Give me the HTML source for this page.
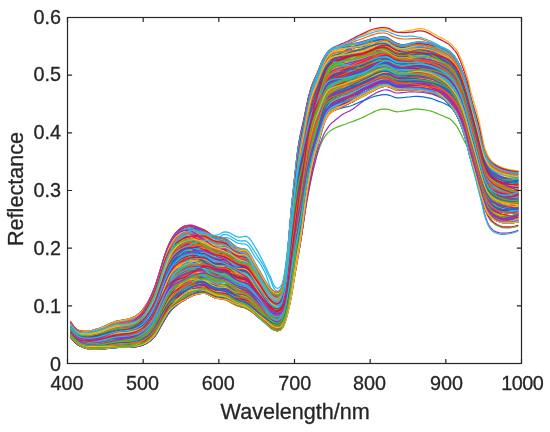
<!DOCTYPE html>
<html lang="en">
<head>
<meta charset="utf-8">
<title>Reflectance spectra</title>
<style>
html,body{margin:0;padding:0;background:#fff;}
body{width:550px;height:432px;overflow:hidden;}
svg{display:block;}
text{font-family:"Liberation Sans",Arial,Helvetica,sans-serif;fill:#262626;}
.tk text{font-size:19.8px;stroke:#262626;stroke-width:0.3px;}
.lb{font-size:21.6px;stroke:#262626;stroke-width:0.3px;}
</style>
</head>
<body>
<svg width="550" height="432" viewBox="0 0 550 432">
<rect width="550" height="432" fill="#fff"/>
<g transform="scale(0.1)" fill="none" stroke-width="12" stroke-linejoin="round" stroke-linecap="butt">
<path stroke="#0A6CD6" d="M704 3299l16 22 16 20 16 18 16 14 16 12 16 8 16 6 16 5 16 4 26 5 26 1 26-1 26-2 26-4 26-5 26-6 26-8 26-8 26-8 26-7 26-7 26-5 26-3 26-3 26-4 26-4 26-6 26-8 26-11 26-14 26-18 26-22 26-29 10-13 10-13 10-14 10-15 10-16 10-17 10-18 10-20 10-22 10-23 10-24 10-24 10-24 10-24 10-23 10-23 10-22 10-20 10-20 10-17 10-17 10-14 10-13 10-10 10-10 10-8 10-8 10-7 10-6 26-14 26-12 26-10 26-12 26-11 26-11 26-7 26-4 26-3 26-2 26 2 26 8 26 14 26 13 26 10 26 8 26 6 26 7 26 12 26 20 26 24 26 24 26 21 26 15 26 10 26 7 26 9 26 18 26 26 16 19 16 18 16 18 16 18 16 18 16 17 16 18 16 18 16 18 16 18 16 16 16 14 16 13 16 9 16 6 16 2 16-3 16-9 10-10 10-17 10-24 10-34 10-42 10-50 10-57 10-66 10-71 10-74 10-74 10-75 10-75 10-75 10-73 10-70 10-67 10-63 10-58 10-58 10-58 10-60 10-62 10-65 10-64 10-62 10-58 10-53 10-50 10-46 10-43 10-39 10-35 10-32 10-29 10-28 10-29 10-28 10-29 10-29 10-29 10-27 10-26 10-22 10-20 10-16 10-14 10-11 10-10 10-7 10-7 10-6 16-8 16-8 16-7 16-6 16-7 16-8 16-7 16-9 26-14 26-15 26-14 26-14 26-14 26-13 26-13 26-11 26-12 26-11 26-12 26-12 26-9 26-5 26-3 26 1 26 10 26 15 26 13 26 9 26 3 26 2 26-1 26-1 26-2 26-1 26-1 26 1 26 2 26 4 26 5 26 7 26 9 26 12 26 15 26 17 26 18 26 21 26 24 26 29 26 33 26 37 10 16 10 17 10 18 10 20 10 22 10 24 10 26 10 28 10 29 10 31 10 33 10 36 10 38 10 39 10 38 10 37 10 37 10 35 10 35 10 35 10 37 10 37 10 38 10 38 10 37 10 36 10 34 10 34 10 31 10 29 10 26 10 22 10 18 10 16 10 12 10 10 10 8 10 7 10 7 10 6 26 14 26 10 26 7 26 4 26 1 26 2 26-1 26-1 26-3 5-1"/>
<path stroke="#FA5A12" d="M704 3316l16 20 16 18 16 15 16 13 16 10 16 6 16 5 16 4 16 3 26 3 26 0 26-2 26-3 26-3 26-2 26-2 26-3 26-2 26-1 26 0 26 1 26 2 26 1 26 0 26-1 26-3 26-6 26-9 26-13 26-15 26-19 26-24 26-30 10-13 10-13 10-14 10-15 10-15 10-16 10-18 10-18 10-21 10-22 10-23 10-23 10-24 10-24 10-23 10-23 10-23 10-21 10-21 10-19 10-18 10-17 10-14 10-13 10-12 10-11 10-10 10-9 10-8 26-19 26-14 26-12 26-10 26-8 26-6 26-1 26 2 26 4 26 4 26 7 26 13 26 18 26 16 26 11 26 4 26-3 26-5 26-3 26 2 26 8 26 7 26 6 26 2 26 1 26 1 26 8 26 21 26 32 16 23 16 22 16 22 16 22 16 21 16 22 16 22 16 21 16 22 16 20 16 19 16 18 16 14 16 11 16 8 16 3 16-2 16-7 10-9 10-16 10-24 10-32 10-41 10-48 10-57 10-63 10-70 10-72 10-73 10-74 10-76 10-75 10-75 10-73 10-71 10-67 10-64 10-63 10-64 10-66 10-68 10-69 10-69 10-67 10-63 10-57 10-53 10-49 10-47 10-43 10-39 10-36 10-35 10-33 10-34 10-35 10-34 10-34 10-34 10-32 10-29 10-27 10-23 10-21 10-17 10-16 10-12 10-11 10-9 10-8 16-10 16-6 16-5 16-5 16-4 16-4 16-4 16-5 26-7 26-7 26-7 26-7 26-8 26-8 26-10 26-10 26-12 26-11 26-13 26-12 26-10 26-7 26-4 26 1 26 10 26 14 26 14 26 10 26 5 26 2 26 1 26-1 26-2 26-1 26-1 26 1 26 2 26 3 26 4 26 5 26 4 26 8 26 9 26 10 26 11 26 13 26 16 26 20 26 26 26 32 10 14 10 16 10 17 10 19 10 21 10 23 10 25 10 26 10 28 10 30 10 31 10 33 10 36 10 37 10 37 10 37 10 36 10 36 10 36 10 35 10 37 10 37 10 39 10 39 10 40 10 40 10 40 10 37 10 34 10 32 10 28 10 25 10 22 10 20 10 16 10 14 10 13 10 10 10 10 10 9 26 18 26 12 26 8 26 5 26 2 26 1 26-1 26-4 26-5 5-1"/>
<path stroke="#FBB414" d="M704 3217l16 25 16 21 16 17 16 13 16 10 16 6 16 4 16 1 16 1 26 1 26-2 26-6 26-7 26-6 26-7 26-9 26-11 26-11 26-9 26-8 26-7 26-4 26-2 26-4 26-4 26-5 26-9 26-10 26-15 26-18 26-25 26-31 26-39 10-16 10-18 10-19 10-19 10-21 10-22 10-24 10-26 10-28 10-29 10-31 10-32 10-32 10-33 10-33 10-32 10-32 10-30 10-27 10-26 10-24 10-23 10-20 10-18 10-17 10-15 10-13 10-13 10-12 26-25 26-19 26-14 26-9 26-8 26-6 26 0 26 2 26 3 26 3 26 6 26 11 26 16 26 15 26 11 26 6 26 5 26 7 26 13 26 24 26 30 26 31 26 27 26 17 26 9 26 4 26 8 26 25 26 41 16 29 16 28 16 27 16 26 16 25 16 26 16 27 16 26 16 26 16 24 16 22 16 19 16 15 16 11 16 7 16 1 16-5 16-14 10-15 10-24 10-37 10-51 10-63 10-75 10-87 10-100 10-110 10-111 10-104 10-97 10-91 10-91 10-89 10-85 10-77 10-67 10-56 10-48 10-45 10-43 10-43 10-46 10-48 10-49 10-47 10-43 10-39 10-36 10-33 10-29 10-26 10-23 10-22 10-23 10-23 10-25 10-26 10-24 10-24 10-22 10-21 10-18 10-17 10-14 10-12 10-11 10-9 10-7 10-7 10-5 16-6 16-3 16-3 16-2 16-2 16-3 16-4 16-3 26-7 26-5 26-6 26-5 26-5 26-6 26-7 26-10 26-10 26-10 26-11 26-12 26-9 26-5 26-3 26 2 26 11 26 17 26 15 26 11 26 6 26 3 26 0 26-3 26-5 26-4 26-2 26-1 26 1 26 3 26 4 26 4 26 3 26 6 26 6 26 7 26 8 26 9 26 10 26 15 26 22 26 30 10 13 10 16 10 17 10 19 10 20 10 22 10 25 10 26 10 29 10 29 10 32 10 33 10 34 10 37 10 38 10 37 10 38 10 38 10 37 10 37 10 38 10 38 10 41 10 41 10 43 10 42 10 41 10 38 10 33 10 30 10 25 10 23 10 20 10 17 10 15 10 13 10 10 10 10 10 8 10 8 26 16 26 12 26 9 26 7 26 4 26 3 26 1 26 0 26-1 5-1"/>
<path stroke="#A02CBC" d="M704 3248l16 24 16 20 16 17 16 14 16 10 16 8 16 4 16 3 16 2 26 2 26-1 26-4 26-5 26-6 26-7 26-9 26-10 26-11 26-9 26-8 26-7 26-5 26-3 26-3 26-3 26-6 26-8 26-11 26-15 26-19 26-24 26-31 26-38 10-16 10-17 10-18 10-19 10-20 10-21 10-23 10-24 10-27 10-28 10-29 10-30 10-31 10-31 10-31 10-31 10-30 10-28 10-26 10-24 10-23 10-21 10-19 10-17 10-16 10-14 10-13 10-11 10-11 26-23 26-18 26-13 26-8 26-3 26 1 26 9 26 13 26 14 26 14 26 16 26 21 26 23 26 21 26 12 26 5 26-1 26-1 26 4 26 12 26 18 26 18 26 16 26 8 26 3 26 1 26 7 26 23 26 38 16 27 16 26 16 24 16 24 16 24 16 24 16 25 16 24 16 24 16 23 16 21 16 18 16 14 16 11 16 6 16 2 16-5 16-12 10-14 10-22 10-34 10-46 10-58 10-68 10-79 10-91 10-100 10-101 10-97 10-90 10-89 10-89 10-89 10-87 10-82 10-74 10-65 10-59 10-56 10-55 10-55 10-56 10-58 10-58 10-54 10-48 10-44 10-40 10-36 10-32 10-28 10-26 10-24 10-25 10-26 10-26 10-27 10-27 10-25 10-24 10-22 10-19 10-18 10-16 10-13 10-12 10-11 10-8 10-8 10-6 16-8 16-6 16-5 16-5 16-5 16-7 16-7 16-7 26-13 26-11 26-11 26-10 26-8 26-8 26-9 26-8 26-9 26-7 26-7 26-6 26-4 26-1 26 2 26 6 26 15 26 19 26 17 26 11 26 7 26 2 26 0 26-4 26-6 26-5 26-4 26-2 26 0 26 3 26 4 26 5 26 6 26 9 26 12 26 11 26 13 26 14 26 14 26 19 26 24 26 31 10 14 10 15 10 16 10 18 10 19 10 21 10 23 10 24 10 26 10 28 10 29 10 30 10 32 10 34 10 35 10 35 10 36 10 35 10 35 10 36 10 36 10 37 10 39 10 41 10 43 10 43 10 43 10 39 10 34 10 31 10 27 10 24 10 22 10 19 10 17 10 15 10 13 10 11 10 10 10 9 26 18 26 13 26 9 26 7 26 4 26 3 26 1 26-1 26-2 5-1"/>
<path stroke="#52B822" d="M704 3362l16 20 16 19 16 18 16 16 16 12 16 9 16 8 16 7 16 7 26 8 26 4 26 2 26 1 26-1 26-1 26-2 26-2 26-3 26-3 26-3 26-2 26-1 26-1 26-1 26 0 26 0 26-1 26-2 26-4 26-5 26-7 26-10 26-14 10-7 10-7 10-7 10-9 10-9 10-10 10-11 10-13 10-15 10-16 10-17 10-18 10-18 10-17 10-17 10-17 10-17 10-17 10-16 10-17 10-15 10-14 10-13 10-11 10-10 10-10 10-9 10-9 10-8 26-21 26-17 26-16 26-15 26-15 26-13 26-10 26-7 26-6 26-3 26 0 26 9 26 13 26 13 26 10 26 6 26 1 26 0 26 1 26 6 26 9 26 10 26 7 26 5 26 4 26 6 26 9 26 17 26 23 16 16 16 17 16 17 16 17 16 17 16 17 16 16 16 16 16 16 16 16 16 15 16 14 16 13 16 9 16 6 16 2 16-2 16-8 10-10 10-14 10-20 10-27 10-33 10-39 10-45 10-50 10-55 10-58 10-62 10-66 10-68 10-68 10-64 10-63 10-61 10-59 10-59 10-61 10-63 10-68 10-72 10-73 10-71 10-69 10-63 10-59 10-56 10-54 10-50 10-48 10-44 10-42 10-38 10-38 10-37 10-37 10-38 10-37 10-37 10-37 10-34 10-30 10-27 10-22 10-20 10-16 10-14 10-12 10-10 10-8 16-12 16-9 16-8 16-7 16-6 16-7 16-7 16-7 26-11 26-12 26-12 26-12 26-13 26-13 26-12 26-13 26-12 26-12 26-12 26-12 26-10 26-6 26-4 26 1 26 9 26 13 26 13 26 7 26 2 26-1 26-1 26-2 26-2 26-3 26-1 26-1 26 1 26 3 26 4 26 5 26 7 26 9 26 12 26 13 26 15 26 18 26 21 26 27 26 31 26 36 10 15 10 16 10 18 10 18 10 21 10 22 10 23 10 25 10 26 10 28 10 29 10 33 10 34 10 36 10 35 10 34 10 33 10 33 10 33 10 33 10 35 10 36 10 37 10 38 10 38 10 37 10 36 10 35 10 33 10 30 10 28 10 24 10 21 10 18 10 14 10 12 10 10 10 10 10 8 10 8 26 16 26 11 26 7 26 4 26 1 26 0 26-2 26-3 26-6 5-1"/>
<path stroke="#20BAF0" d="M704 3352l16 20 16 20 16 17 16 15 16 12 16 10 16 7 16 7 16 6 26 7 26 3 26 2 26 0 26-1 26-2 26-3 26-4 26-4 26-5 26-4 26-3 26-2 26-2 26-1 26 0 26 0 26-1 26-2 26-3 26-4 26-6 26-9 26-14 10-6 10-7 10-8 10-8 10-9 10-10 10-12 10-13 10-15 10-17 10-18 10-18 10-18 10-18 10-18 10-17 10-17 10-18 10-17 10-16 10-16 10-14 10-13 10-11 10-11 10-10 10-9 10-9 10-8 26-20 26-18 26-15 26-15 26-19 26-19 26-19 26-17 26-16 26-14 26-9 26 0 26 6 26 9 26 9 26 8 26 7 26 9 26 13 26 20 26 24 26 23 26 20 26 16 26 11 26 8 26 10 26 14 26 20 16 15 16 14 16 14 16 14 16 14 16 14 16 13 16 14 16 13 16 14 16 13 16 12 16 10 16 8 16 4 16 1 16-4 16-9 10-10 10-15 10-22 10-29 10-36 10-42 10-50 10-56 10-61 10-64 10-68 10-72 10-73 10-73 10-72 10-69 10-66 10-65 10-63 10-63 10-65 10-68 10-71 10-73 10-72 10-69 10-64 10-60 10-56 10-53 10-51 10-47 10-44 10-41 10-38 10-37 10-38 10-38 10-37 10-38 10-37 10-36 10-33 10-30 10-27 10-22 10-20 10-18 10-14 10-13 10-11 10-9 16-13 16-9 16-8 16-8 16-7 16-7 16-7 16-8 26-12 26-12 26-11 26-11 26-12 26-11 26-11 26-11 26-10 26-10 26-9 26-9 26-6 26-3 26-1 26 4 26 11 26 16 26 14 26 8 26 4 26 1 26-1 26-2 26-3 26-2 26-2 26-1 26 1 26 3 26 3 26 5 26 5 26 8 26 11 26 12 26 13 26 15 26 18 26 22 26 28 26 33 10 15 10 16 10 17 10 19 10 21 10 23 10 25 10 26 10 28 10 30 10 31 10 34 10 36 10 38 10 37 10 36 10 36 10 36 10 35 10 35 10 36 10 37 10 39 10 39 10 38 10 39 10 37 10 35 10 32 10 30 10 26 10 23 10 20 10 17 10 14 10 11 10 10 10 9 10 8 10 8 26 16 26 12 26 9 26 6 26 4 26 3 26 2 26 0 26-1 5 0"/>
<path stroke="#D41440" d="M704 3351l16 20 16 18 16 16 16 15 16 11 16 8 16 6 16 6 16 5 26 5 26 2 26 0 26-1 26-2 26-4 26-4 26-6 26-6 26-6 26-6 26-5 26-3 26-3 26-1 26-1 26-2 26-2 26-4 26-6 26-8 26-10 26-13 26-19 10-8 10-9 10-10 10-10 10-11 10-12 10-14 10-15 10-16 10-18 10-18 10-19 10-19 10-18 10-17 10-16 10-16 10-16 10-15 10-13 10-13 10-11 10-9 10-8 10-7 10-5 10-6 10-5 10-4 26-11 26-9 26-8 26-11 26-12 26-10 26-7 26-4 26-3 26-1 26 2 26 10 26 15 26 14 26 11 26 4 26-2 26-4 26-3 26 1 26 6 26 5 26 4 26 1 26 1 26 3 26 9 26 19 26 26 16 18 16 19 16 20 16 19 16 18 16 19 16 18 16 18 16 17 16 18 16 16 16 15 16 13 16 10 16 6 16 3 16-3 16-10 10-11 10-16 10-23 10-30 10-38 10-44 10-52 10-58 10-64 10-67 10-71 10-74 10-77 10-76 10-74 10-72 10-71 10-67 10-66 10-66 10-67 10-69 10-72 10-73 10-72 10-69 10-64 10-58 10-55 10-51 10-48 10-44 10-41 10-38 10-35 10-35 10-34 10-35 10-34 10-35 10-34 10-33 10-30 10-28 10-24 10-20 10-18 10-15 10-12 10-11 10-9 10-7 16-10 16-8 16-6 16-5 16-5 16-5 16-5 16-6 26-9 26-9 26-9 26-9 26-10 26-11 26-10 26-12 26-13 26-15 26-16 26-16 26-15 26-11 26-8 26-3 26 6 26 12 26 13 26 9 26 3 26 1 26 0 26-1 26-3 26-1 26-1 26 0 26 1 26 4 26 4 26 5 26 6 26 9 26 12 26 12 26 14 26 16 26 19 26 24 26 28 26 35 10 14 10 17 10 17 10 20 10 21 10 24 10 25 10 27 10 28 10 30 10 32 10 35 10 36 10 38 10 38 10 37 10 36 10 36 10 35 10 35 10 37 10 37 10 38 10 39 10 38 10 38 10 37 10 35 10 33 10 30 10 27 10 23 10 21 10 17 10 14 10 12 10 11 10 9 10 8 10 8 26 17 26 13 26 10 26 7 26 4 26 4 26 2 26 0 26-1 5 0"/>
<path stroke="#0A6CD6" d="M704 3308l16 19 16 18 16 15 16 12 16 10 16 6 16 4 16 3 16 3 26 2 26 0 26-3 26-4 26-3 26-3 26-2 26-3 26-1 26-1 26 1 26 1 26 2 26 2 26 0 26-1 26-4 26-6 26-10 26-12 26-16 26-20 26-24 26-31 10-13 10-14 10-14 10-15 10-16 10-17 10-18 10-19 10-21 10-22 10-24 10-24 10-24 10-24 10-23 10-23 10-23 10-21 10-21 10-19 10-17 10-16 10-14 10-13 10-11 10-11 10-9 10-9 10-8 26-18 26-15 26-13 26-11 26-11 26-8 26-4 26-1 26 0 26 2 26 5 26 11 26 16 26 14 26 11 26 7 26 7 26 7 26 12 26 20 26 23 26 24 26 20 26 15 26 10 26 7 26 10 26 16 26 25 16 18 16 17 16 17 16 16 16 17 16 16 16 17 16 17 16 17 16 16 16 16 16 13 16 12 16 8 16 6 16 1 16-3 16-10 10-10 10-17 10-25 10-34 10-42 10-50 10-58 10-66 10-72 10-74 10-74 10-74 10-74 10-73 10-69 10-66 10-61 10-57 10-52 10-51 10-52 10-54 10-58 10-59 10-60 10-58 10-54 10-50 10-48 10-45 10-43 10-39 10-36 10-34 10-31 10-30 10-30 10-31 10-32 10-31 10-31 10-31 10-28 10-25 10-22 10-19 10-15 10-13 10-11 10-9 10-8 10-7 16-8 16-8 16-6 16-5 16-5 16-6 16-5 16-6 26-10 26-10 26-11 26-10 26-12 26-12 26-12 26-12 26-13 26-14 26-16 26-15 26-14 26-10 26-7 26-2 26 7 26 12 26 13 26 8 26 3 26 2 26 1 26 0 26 0 26 1 26 1 26 3 26 4 26 6 26 6 26 8 26 10 26 12 26 15 26 17 26 19 26 21 26 24 26 30 26 33 26 37 10 16 10 16 10 18 10 20 10 22 10 23 10 26 10 27 10 28 10 30 10 32 10 35 10 37 10 39 10 37 10 37 10 35 10 34 10 34 10 34 10 36 10 37 10 38 10 37 10 37 10 36 10 35 10 34 10 33 10 30 10 28 10 24 10 21 10 17 10 14 10 12 10 11 10 9 10 9 10 8 26 18 26 14 26 10 26 7 26 4 26 4 26 2 26 0 26-1 5 0"/>
<path stroke="#FA5A12" d="M704 3228l16 23 16 19 16 16 16 12 16 8 16 6 16 2 16 1 16 0 26-1 26-4 26-7 26-7 26-8 26-8 26-9 26-12 26-11 26-9 26-8 26-7 26-5 26-2 26-4 26-4 26-7 26-9 26-13 26-17 26-21 26-28 26-35 26-43 10-18 10-20 10-20 10-21 10-22 10-24 10-25 10-27 10-29 10-31 10-31 10-32 10-33 10-32 10-33 10-32 10-30 10-29 10-26 10-24 10-22 10-20 10-17 10-16 10-14 10-12 10-12 10-9 10-9 26-19 26-14 26-11 26-7 26-7 26-4 26 1 26 4 26 4 26 5 26 7 26 12 26 16 26 16 26 10 26 4 26 1 26 2 26 7 26 16 26 23 26 24 26 20 26 12 26 5 26 3 26 7 26 27 26 47 16 32 16 31 16 30 16 29 16 30 16 29 16 30 16 29 16 28 16 27 16 24 16 21 16 16 16 12 16 7 16 2 16-6 16-15 10-17 10-26 10-39 10-53 10-67 10-79 10-91 10-105 10-115 10-116 10-108 10-98 10-93 10-91 10-89 10-85 10-76 10-65 10-52 10-45 10-40 10-39 10-38 10-42 10-44 10-45 10-42 10-39 10-36 10-32 10-29 10-25 10-21 10-18 10-17 10-18 10-18 10-20 10-20 10-20 10-19 10-18 10-17 10-15 10-12 10-11 10-10 10-8 10-6 10-5 10-5 10-4 16-6 16-6 16-4 16-5 16-6 16-6 16-7 16-7 26-12 26-12 26-11 26-10 26-10 26-9 26-9 26-10 26-10 26-9 26-9 26-9 26-7 26-3 26-1 26 5 26 13 26 17 26 17 26 12 26 8 26 6 26 4 26 3 26 1 26 2 26 4 26 4 26 5 26 5 26 5 26 3 26 2 26 3 26 5 26 5 26 5 26 8 26 10 26 15 26 22 26 30 10 14 10 16 10 17 10 20 10 21 10 22 10 26 10 26 10 29 10 30 10 32 10 34 10 36 10 37 10 38 10 37 10 38 10 36 10 37 10 36 10 37 10 38 10 39 10 40 10 40 10 41 10 38 10 36 10 32 10 29 10 25 10 21 10 19 10 16 10 14 10 11 10 10 10 9 10 7 10 7 26 15 26 12 26 10 26 8 26 8 26 7 26 5 26 5 26 5 5 0"/>
<path stroke="#FBB414" d="M704 3275l16 22 16 19 16 17 16 13 16 10 16 8 16 4 16 3 16 3 26 2 26 0 26-4 26-4 26-5 26-6 26-7 26-8 26-9 26-7 26-6 26-5 26-4 26-2 26-2 26-3 26-4 26-6 26-8 26-11 26-14 26-19 26-24 26-31 10-13 10-15 10-15 10-16 10-17 10-18 10-20 10-21 10-24 10-25 10-27 10-27 10-28 10-28 10-27 10-28 10-27 10-25 10-25 10-23 10-21 10-20 10-18 10-16 10-15 10-13 10-13 10-12 10-10 26-25 26-19 26-16 26-12 26-11 26-9 26-6 26-2 26-2 26-1 26 3 26 9 26 14 26 13 26 11 26 6 26 4 26 5 26 10 26 18 26 24 26 25 26 21 26 15 26 9 26 7 26 10 26 23 26 37 16 25 16 24 16 24 16 23 16 23 16 23 16 24 16 23 16 23 16 22 16 20 16 17 16 15 16 11 16 7 16 3 16-3 16-9 10-12 10-18 10-29 10-39 10-49 10-58 10-68 10-77 10-84 10-85 10-84 10-80 10-79 10-78 10-75 10-73 10-68 10-61 10-55 10-52 10-51 10-53 10-54 10-57 10-59 10-57 10-54 10-49 10-47 10-44 10-41 10-38 10-34 10-32 10-30 10-30 10-30 10-31 10-31 10-31 10-31 10-29 10-27 10-25 10-21 10-19 10-16 10-14 10-11 10-10 10-9 10-7 16-9 16-6 16-5 16-4 16-4 16-4 16-4 16-4 26-7 26-7 26-6 26-7 26-6 26-8 26-8 26-9 26-10 26-10 26-10 26-10 26-8 26-4 26-2 26 3 26 11 26 16 26 15 26 10 26 5 26 2 26-1 26-2 26-3 26-2 26-1 26 0 26 2 26 4 26 5 26 5 26 7 26 10 26 12 26 13 26 15 26 16 26 19 26 24 26 28 26 34 10 15 10 16 10 18 10 19 10 21 10 22 10 25 10 26 10 28 10 29 10 31 10 34 10 35 10 37 10 37 10 36 10 35 10 35 10 34 10 35 10 36 10 36 10 38 10 38 10 38 10 38 10 36 10 34 10 31 10 28 10 24 10 21 10 18 10 15 10 12 10 10 10 9 10 7 10 7 10 6 26 14 26 12 26 9 26 8 26 6 26 6 26 5 26 5 26 4 5 1"/>
<path stroke="#A02CBC" d="M704 3257l16 23 16 19 16 16 16 12 16 9 16 6 16 3 16 2 16 1 26 0 26-3 26-7 26-7 26-8 26-9 26-12 26-13 26-14 26-12 26-11 26-10 26-7 26-5 26-4 26-4 26-4 26-6 26-7 26-9 26-13 26-18 26-23 26-31 10-13 10-15 10-16 10-17 10-18 10-19 10-22 10-24 10-26 10-27 10-29 10-30 10-30 10-31 10-30 10-31 10-29 10-28 10-26 10-25 10-22 10-21 10-19 10-18 10-15 10-15 10-13 10-12 10-11 26-24 26-18 26-15 26-9 26-5 26-1 26 6 26 10 26 10 26 11 26 14 26 18 26 21 26 19 26 12 26 4 26-1 26-2 26 2 26 10 26 16 26 17 26 13 26 7 26 3 26 2 26 7 26 26 26 42 16 30 16 29 16 27 16 28 16 27 16 27 16 28 16 27 16 26 16 25 16 23 16 19 16 16 16 11 16 8 16 2 16-5 16-12 10-13 10-22 10-32 10-45 10-55 10-66 10-77 10-88 10-96 10-98 10-94 10-89 10-86 10-86 10-86 10-82 10-77 10-69 10-61 10-56 10-53 10-53 10-53 10-55 10-57 10-56 10-53 10-48 10-44 10-41 10-35 10-32 10-27 10-24 10-22 10-22 10-22 10-23 10-23 10-22 10-22 10-20 10-19 10-17 10-14 10-12 10-11 10-8 10-7 10-6 10-5 10-4 16-7 16-5 16-6 16-5 16-6 16-7 16-8 16-8 26-13 26-14 26-13 26-12 26-12 26-11 26-12 26-11 26-11 26-11 26-10 26-11 26-8 26-4 26-2 26 3 26 12 26 16 26 16 26 10 26 6 26 4 26 1 26 0 26-2 26-2 26 0 26 1 26 3 26 4 26 4 26 4 26 5 26 8 26 10 26 10 26 12 26 13 26 15 26 19 26 26 26 32 10 14 10 16 10 17 10 19 10 20 10 23 10 25 10 26 10 29 10 29 10 32 10 33 10 36 10 37 10 37 10 38 10 37 10 37 10 36 10 37 10 37 10 38 10 40 10 40 10 42 10 41 10 41 10 37 10 35 10 31 10 28 10 25 10 22 10 19 10 16 10 14 10 13 10 11 10 9 10 9 26 19 26 14 26 10 26 7 26 5 26 4 26 3 26 1 26 0 5 0"/>
<path stroke="#52B822" d="M704 3346l16 20 16 19 16 17 16 15 16 11 16 9 16 6 16 6 16 5 26 6 26 3 26 1 26-1 26-2 26-2 26-4 26-4 26-5 26-5 26-5 26-4 26-3 26-3 26-2 26-2 26-3 26-5 26-6 26-9 26-12 26-14 26-18 26-23 10-11 10-10 10-12 10-12 10-13 10-14 10-15 10-16 10-19 10-19 10-21 10-21 10-21 10-21 10-20 10-20 10-19 10-19 10-18 10-17 10-15 10-14 10-13 10-11 10-9 10-9 10-8 10-7 10-7 26-16 26-13 26-11 26-11 26-11 26-9 26-5 26-3 26-1 26 0 26 4 26 12 26 16 26 16 26 13 26 10 26 8 26 9 26 12 26 19 26 24 26 22 26 19 26 14 26 10 26 8 26 9 26 13 26 17 16 11 16 12 16 12 16 11 16 11 16 11 16 11 16 12 16 12 16 12 16 13 16 11 16 10 16 7 16 5 16 1 16-2 16-7 10-9 10-14 10-20 10-28 10-34 10-41 10-47 10-53 10-57 10-61 10-63 10-67 10-70 10-70 10-69 10-68 10-67 10-65 10-64 10-66 10-67 10-72 10-74 10-76 10-75 10-72 10-67 10-62 10-58 10-55 10-52 10-50 10-46 10-43 10-41 10-40 10-40 10-40 10-41 10-40 10-40 10-37 10-36 10-31 10-29 10-24 10-22 10-18 10-16 10-13 10-11 10-10 16-11 16-7 16-6 16-5 16-4 16-5 16-6 16-5 26-10 26-9 26-9 26-8 26-9 26-10 26-10 26-10 26-11 26-9 26-10 26-9 26-7 26-4 26-1 26 4 26 12 26 16 26 16 26 10 26 6 26 4 26 2 26 1 26 1 26 0 26 1 26 2 26 3 26 4 26 4 26 4 26 4 26 6 26 9 26 9 26 10 26 12 26 16 26 20 26 26 26 33 10 15 10 16 10 18 10 19 10 21 10 23 10 25 10 27 10 29 10 30 10 31 10 35 10 36 10 38 10 37 10 37 10 37 10 35 10 35 10 36 10 36 10 38 10 38 10 39 10 39 10 37 10 37 10 34 10 31 10 28 10 24 10 21 10 18 10 14 10 12 10 9 10 8 10 7 10 6 10 5 26 11 26 7 26 5 26 2 26 0 26-1 26-2 26-3 26-5 5-1"/>
<path stroke="#20BAF0" d="M704 3321l16 21 16 19 16 17 16 15 16 11 16 8 16 6 16 5 16 4 26 5 26 2 26-1 26-2 26-3 26-3 26-5 26-6 26-6 26-5 26-5 26-5 26-2 26-2 26-2 26-1 26-2 26-2 26-4 26-6 26-7 26-10 26-15 26-19 10-9 10-9 10-10 10-11 10-12 10-13 10-15 10-16 10-18 10-20 10-21 10-22 10-22 10-21 10-22 10-21 10-20 10-21 10-19 10-19 10-18 10-16 10-14 10-13 10-12 10-11 10-10 10-10 10-9 26-21 26-18 26-15 26-13 26-16 26-16 26-14 26-12 26-11 26-10 26-5 26 3 26 9 26 11 26 9 26 7 26 5 26 5 26 10 26 18 26 22 26 23 26 19 26 13 26 8 26 6 26 9 26 18 26 27 16 19 16 18 16 19 16 18 16 17 16 18 16 17 16 18 16 17 16 17 16 16 16 14 16 12 16 9 16 5 16 1 16-5 16-12 10-13 10-20 10-28 10-38 10-47 10-55 10-65 10-72 10-79 10-81 10-80 10-77 10-77 10-77 10-74 10-72 10-67 10-63 10-58 10-55 10-56 10-58 10-61 10-62 10-62 10-61 10-57 10-52 10-50 10-46 10-44 10-41 10-39 10-36 10-35 10-35 10-35 10-36 10-36 10-37 10-36 10-34 10-32 10-30 10-26 10-23 10-20 10-17 10-16 10-13 10-11 10-9 16-13 16-8 16-7 16-6 16-6 16-7 16-6 16-7 26-11 26-11 26-10 26-9 26-10 26-9 26-11 26-10 26-11 26-11 26-10 26-11 26-7 26-5 26-2 26 3 26 11 26 16 26 15 26 9 26 6 26 2 26 1 26-1 26-2 26-2 26-1 26 0 26 2 26 4 26 4 26 3 26 5 26 6 26 8 26 8 26 10 26 11 26 13 26 18 26 24 26 31 10 13 10 16 10 17 10 18 10 20 10 22 10 24 10 26 10 28 10 29 10 30 10 33 10 35 10 36 10 37 10 36 10 37 10 35 10 36 10 35 10 37 10 37 10 39 10 40 10 41 10 41 10 39 10 37 10 34 10 31 10 27 10 24 10 21 10 18 10 16 10 13 10 12 10 10 10 10 10 8 26 17 26 12 26 9 26 6 26 4 26 3 26 1 26 0 26-2 5 0"/>
<path stroke="#D41440" d="M704 3283l16 23 16 21 16 19 16 15 16 11 16 9 16 6 16 5 16 5 26 5 26 1 26-1 26-3 26-5 26-5 26-7 26-9 26-9 26-9 26-8 26-8 26-6 26-4 26-4 26-5 26-5 26-8 26-11 26-13 26-16 26-21 26-27 26-33 10-14 10-15 10-16 10-17 10-17 10-19 10-20 10-21 10-24 10-24 10-26 10-26 10-26 10-25 10-26 10-24 10-23 10-22 10-20 10-19 10-17 10-15 10-13 10-11 10-10 10-9 10-8 10-7 10-6 26-14 26-11 26-10 26-10 26-13 26-13 26-10 26-9 26-7 26-7 26-3 26 5 26 10 26 11 26 10 26 6 26 3 26 5 26 8 26 17 26 23 26 23 26 19 26 14 26 9 26 7 26 12 26 24 26 37 16 25 16 25 16 25 16 24 16 23 16 24 16 23 16 23 16 23 16 22 16 20 16 17 16 14 16 11 16 6 16 3 16-4 16-11 10-13 10-19 10-29 10-40 10-49 10-58 10-67 10-77 10-84 10-85 10-84 10-81 10-80 10-78 10-77 10-74 10-68 10-63 10-57 10-53 10-53 10-54 10-56 10-58 10-59 10-58 10-54 10-49 10-47 10-43 10-41 10-37 10-34 10-31 10-29 10-29 10-29 10-30 10-30 10-30 10-30 10-28 10-26 10-24 10-21 10-17 10-15 10-13 10-11 10-9 10-8 10-6 16-8 16-6 16-5 16-5 16-4 16-5 16-4 16-6 26-8 26-9 26-8 26-9 26-9 26-9 26-9 26-11 26-10 26-10 26-11 26-10 26-8 26-5 26-2 26 3 26 10 26 15 26 15 26 9 26 3 26 0 26-1 26-3 26-5 26-4 26-2 26-2 26 1 26 3 26 4 26 4 26 6 26 9 26 12 26 12 26 15 26 16 26 19 26 24 26 30 26 36 10 15 10 18 10 19 10 21 10 23 10 26 10 27 10 30 10 31 10 33 10 35 10 38 10 40 10 41 10 40 10 40 10 39 10 38 10 37 10 37 10 38 10 38 10 39 10 39 10 37 10 37 10 36 10 33 10 31 10 28 10 25 10 21 10 18 10 14 10 11 10 10 10 7 10 7 10 6 10 5 26 12 26 8 26 6 26 2 26 1 26 1 26-1 26-3 26-3 5 0"/>
<path stroke="#0A6CD6" d="M704 3247l16 24 16 20 16 17 16 13 16 11 16 7 16 4 16 3 16 2 26 2 26-1 26-4 26-5 26-5 26-5 26-7 26-9 26-9 26-7 26-7 26-5 26-4 26-2 26-2 26-4 26-5 26-8 26-10 26-14 26-19 26-23 26-30 26-37 10-16 10-16 10-18 10-18 10-20 10-21 10-22 10-24 10-26 10-28 10-29 10-29 10-31 10-30 10-31 10-30 10-29 10-28 10-26 10-25 10-22 10-21 10-19 10-18 10-15 10-14 10-14 10-12 10-11 26-24 26-19 26-15 26-10 26-8 26-6 26-1 26 3 26 3 26 3 26 7 26 12 26 16 26 15 26 11 26 7 26 6 26 8 26 15 26 23 26 29 26 30 26 25 26 18 26 10 26 6 26 8 26 21 26 36 16 24 16 24 16 23 16 22 16 22 16 22 16 23 16 23 16 22 16 22 16 20 16 16 16 14 16 10 16 6 16 2 16-3 16-8 10-11 10-18 10-28 10-39 10-50 10-59 10-69 10-79 10-88 10-89 10-87 10-85 10-84 10-82 10-82 10-78 10-73 10-65 10-58 10-54 10-52 10-52 10-54 10-55 10-57 10-56 10-53 10-48 10-45 10-41 10-38 10-32 10-29 10-25 10-23 10-22 10-23 10-23 10-23 10-23 10-22 10-21 10-20 10-17 10-15 10-12 10-10 10-8 10-6 10-5 10-5 10-3 16-5 16-5 16-4 16-4 16-4 16-4 16-4 16-5 26-8 26-8 26-9 26-8 26-9 26-9 26-10 26-11 26-12 26-13 26-13 26-14 26-12 26-9 26-6 26-1 26 7 26 13 26 12 26 7 26 2 26 0 26-3 26-5 26-6 26-5 26-4 26-2 26 0 26 3 26 4 26 6 26 9 26 12 26 16 26 17 26 19 26 20 26 23 26 27 26 31 26 35 10 15 10 16 10 17 10 19 10 21 10 22 10 24 10 26 10 28 10 28 10 31 10 33 10 35 10 36 10 37 10 35 10 36 10 34 10 34 10 35 10 35 10 37 10 38 10 39 10 38 10 38 10 37 10 35 10 31 10 29 10 25 10 22 10 19 10 15 10 13 10 11 10 9 10 9 10 7 10 6 26 15 26 12 26 8 26 7 26 4 26 4 26 3 26 1 26 1 5 0"/>
<path stroke="#FA5A12" d="M704 3290l16 22 16 19 16 16 16 14 16 10 16 7 16 5 16 4 16 3 26 3 26-1 26-2 26-4 26-4 26-6 26-6 26-8 26-8 26-7 26-6 26-6 26-3 26-3 26-2 26-3 26-4 26-8 26-10 26-15 26-17 26-23 26-29 26-35 10-15 10-15 10-17 10-17 10-18 10-19 10-21 10-22 10-23 10-25 10-26 10-25 10-26 10-26 10-25 10-24 10-22 10-22 10-19 10-18 10-16 10-14 10-13 10-10 10-9 10-7 10-7 10-5 10-5 26-11 26-8 26-6 26-7 26-7 26-4 26 0 26 3 26 3 26 5 26 8 26 13 26 16 26 16 26 11 26 5 26 3 26 2 26 5 26 11 26 16 26 16 26 13 26 10 26 5 26 5 26 9 26 20 26 30 16 22 16 21 16 20 16 21 16 21 16 20 16 22 16 20 16 21 16 20 16 18 16 16 16 14 16 10 16 7 16 2 16-2 16-9 10-10 10-17 10-25 10-35 10-43 10-51 10-59 10-67 10-72 10-74 10-74 10-72 10-71 10-69 10-66 10-62 10-58 10-52 10-47 10-45 10-47 10-49 10-53 10-55 10-55 10-53 10-49 10-45 10-42 10-41 10-37 10-34 10-30 10-27 10-25 10-24 10-24 10-24 10-25 10-25 10-26 10-25 10-24 10-21 10-18 10-15 10-11 10-9 10-8 10-6 10-5 10-5 16-8 16-9 16-8 16-7 16-7 16-6 16-7 16-7 26-12 26-13 26-12 26-14 26-14 26-15 26-13 26-14 26-13 26-13 26-15 26-14 26-12 26-9 26-5 26-1 26 7 26 12 26 12 26 6 26 0 26-2 26-3 26-4 26-3 26-4 26-2 26-1 26 0 26 2 26 5 26 6 26 8 26 11 26 14 26 16 26 19 26 21 26 26 26 31 26 35 26 38 10 16 10 17 10 19 10 21 10 23 10 24 10 27 10 28 10 30 10 31 10 34 10 37 10 40 10 40 10 39 10 38 10 36 10 34 10 35 10 34 10 36 10 38 10 37 10 37 10 35 10 33 10 33 10 32 10 31 10 30 10 27 10 23 10 20 10 15 10 12 10 10 10 9 10 7 10 7 10 7 26 14 26 9 26 7 26 3 26 0 26 0 26-1 26-4 26-5 5-1"/>
<path stroke="#FBB414" d="M704 3241l16 23 16 20 16 15 16 12 16 10 16 6 16 2 16 1 16 1 26 0 26-3 26-6 26-7 26-7 26-8 26-10 26-12 26-12 26-10 26-9 26-8 26-5 26-4 26-4 26-4 26-7 26-9 26-13 26-17 26-22 26-28 26-35 26-43 10-18 10-19 10-21 10-21 10-23 10-23 10-26 10-27 10-30 10-31 10-32 10-33 10-34 10-35 10-35 10-34 10-33 10-31 10-30 10-27 10-25 10-23 10-22 10-19 10-17 10-16 10-15 10-13 10-12 26-26 26-19 26-14 26-8 26-1 26 4 26 11 26 17 26 17 26 18 26 20 26 24 26 25 26 23 26 15 26 8 26 5 26 5 26 9 26 19 26 24 26 25 26 21 26 13 26 7 26 3 26 8 26 23 26 39 16 27 16 26 16 25 16 24 16 25 16 24 16 26 16 24 16 25 16 23 16 22 16 17 16 15 16 10 16 7 16 1 16-4 16-11 10-13 10-21 10-32 10-46 10-56 10-68 10-77 10-89 10-98 10-98 10-92 10-86 10-82 10-82 10-79 10-77 10-69 10-61 10-52 10-46 10-44 10-44 10-46 10-48 10-50 10-49 10-47 10-43 10-39 10-37 10-33 10-30 10-26 10-24 10-22 10-23 10-23 10-24 10-25 10-25 10-24 10-23 10-21 10-19 10-17 10-14 10-12 10-10 10-8 10-7 10-5 10-5 16-6 16-4 16-3 16-3 16-3 16-4 16-3 16-5 26-7 26-7 26-8 26-7 26-8 26-8 26-9 26-11 26-12 26-12 26-14 26-14 26-12 26-9 26-6 26 0 26 9 26 14 26 14 26 10 26 5 26 3 26 0 26-1 26-3 26-2 26-1 26 1 26 2 26 4 26 4 26 5 26 5 26 7 26 10 26 10 26 12 26 14 26 16 26 20 26 27 26 32 10 15 10 16 10 17 10 20 10 21 10 23 10 26 10 27 10 29 10 30 10 32 10 35 10 36 10 38 10 38 10 38 10 38 10 36 10 37 10 36 10 37 10 39 10 39 10 40 10 40 10 40 10 38 10 36 10 33 10 29 10 26 10 23 10 20 10 16 10 14 10 12 10 10 10 9 10 8 10 7 26 16 26 13 26 9 26 6 26 5 26 3 26 2 26 1 26-1 5 0"/>
<path stroke="#A02CBC" d="M704 3303l16 21 16 18 16 16 16 14 16 10 16 7 16 5 16 3 16 3 26 3 26 0 26-3 26-3 26-4 26-5 26-5 26-7 26-8 26-6 26-6 26-4 26-3 26-2 26-2 26-2 26-4 26-5 26-8 26-11 26-14 26-18 26-23 26-29 10-12 10-14 10-14 10-15 10-16 10-17 10-18 10-20 10-22 10-23 10-24 10-25 10-25 10-25 10-24 10-24 10-23 10-21 10-21 10-19 10-18 10-15 10-15 10-12 10-11 10-10 10-9 10-8 10-8 26-17 26-14 26-12 26-12 26-12 26-11 26-8 26-6 26-5 26-4 26 0 26 7 26 13 26 12 26 11 26 5 26 3 26 3 26 7 26 14 26 20 26 20 26 17 26 11 26 6 26 5 26 9 26 21 26 32 16 23 16 22 16 21 16 22 16 20 16 22 16 21 16 21 16 20 16 20 16 19 16 16 16 13 16 11 16 6 16 2 16-4 16-10 10-11 10-18 10-28 10-37 10-47 10-55 10-64 10-73 10-79 10-82 10-81 10-79 10-79 10-79 10-78 10-75 10-72 10-66 10-61 10-58 10-58 10-59 10-61 10-62 10-63 10-61 10-57 10-52 10-47 10-45 10-40 10-37 10-33 10-30 10-27 10-27 10-27 10-28 10-28 10-28 10-27 10-27 10-24 10-22 10-18 10-16 10-14 10-11 10-9 10-8 10-7 10-6 16-8 16-7 16-6 16-6 16-7 16-8 16-8 16-9 26-15 26-15 26-15 26-14 26-13 26-13 26-12 26-11 26-10 26-10 26-11 26-10 26-7 26-5 26-2 26 3 26 11 26 16 26 15 26 9 26 4 26 1 26 0 26-3 26-4 26-3 26-2 26 0 26 1 26 3 26 4 26 4 26 5 26 9 26 10 26 11 26 13 26 14 26 17 26 22 26 27 26 33 10 15 10 16 10 17 10 20 10 21 10 23 10 26 10 27 10 29 10 30 10 32 10 34 10 37 10 38 10 38 10 37 10 37 10 36 10 36 10 36 10 36 10 38 10 39 10 39 10 39 10 39 10 37 10 35 10 32 10 28 10 26 10 21 10 19 10 16 10 13 10 10 10 10 10 7 10 7 10 7 26 13 26 10 26 7 26 4 26 2 26 1 26-1 26-2 26-3 5 0"/>
<path stroke="#52B822" d="M704 3269l16 22 16 20 16 16 16 13 16 10 16 7 16 4 16 2 16 2 26 2 26-2 26-5 26-6 26-7 26-8 26-11 26-13 26-13 26-12 26-11 26-10 26-7 26-5 26-4 26-4 26-4 26-5 26-8 26-9 26-13 26-18 26-23 26-31 10-13 10-14 10-16 10-16 10-18 10-19 10-20 10-23 10-25 10-27 10-28 10-29 10-30 10-30 10-30 10-29 10-29 10-28 10-26 10-24 10-23 10-22 10-19 10-18 10-16 10-15 10-13 10-13 10-12 26-27 26-21 26-17 26-13 26-10 26-9 26-4 26 0 26 0 26 2 26 4 26 10 26 15 26 15 26 10 26 6 26 2 26 3 26 8 26 16 26 22 26 23 26 19 26 12 26 7 26 5 26 9 26 25 26 41 16 29 16 28 16 27 16 27 16 27 16 27 16 28 16 27 16 26 16 26 16 23 16 20 16 17 16 13 16 9 16 5 16-2 16-8 10-11 10-19 10-29 10-40 10-50 10-60 10-69 10-79 10-86 10-86 10-83 10-77 10-76 10-74 10-72 10-67 10-63 10-54 10-49 10-45 10-44 10-46 10-48 10-50 10-52 10-52 10-47 10-44 10-41 10-39 10-36 10-32 10-29 10-26 10-24 10-24 10-25 10-25 10-26 10-26 10-26 10-25 10-24 10-21 10-18 10-15 10-13 10-11 10-8 10-8 10-6 10-6 16-8 16-7 16-7 16-6 16-7 16-6 16-8 16-8 26-13 26-14 26-13 26-13 26-13 26-12 26-12 26-12 26-11 26-12 26-12 26-12 26-9 26-6 26-4 26 2 26 10 26 14 26 14 26 9 26 3 26 1 26 0 26-1 26-2 26-2 26 0 26 0 26 2 26 4 26 4 26 5 26 5 26 7 26 8 26 10 26 12 26 14 26 17 26 22 26 28 26 34 10 15 10 16 10 18 10 21 10 22 10 24 10 26 10 28 10 30 10 32 10 33 10 36 10 38 10 40 10 39 10 38 10 38 10 36 10 36 10 36 10 37 10 38 10 38 10 38 10 38 10 37 10 35 10 34 10 31 10 29 10 25 10 22 10 19 10 15 10 12 10 10 10 8 10 7 10 7 10 5 26 13 26 9 26 6 26 3 26 1 26 1 26-2 26-2 26-4 5 0"/>
<path stroke="#20BAF0" d="M704 3303l16 23 16 21 16 18 16 15 16 11 16 9 16 7 16 5 16 4 26 6 26 1 26 0 26-2 26-4 26-5 26-7 26-8 26-10 26-9 26-8 26-9 26-6 26-5 26-4 26-5 26-5 26-7 26-9 26-12 26-16 26-19 26-24 26-30 10-14 10-13 10-15 10-15 10-17 10-17 10-19 10-21 10-22 10-24 10-25 10-26 10-26 10-26 10-26 10-26 10-25 10-24 10-22 10-21 10-20 10-18 10-16 10-15 10-13 10-12 10-11 10-10 10-9 26-20 26-16 26-12 26-9 26-7 26-3 26 2 26 6 26 6 26 8 26 9 26 16 26 20 26 17 26 12 26 5 26 2 26 1 26 4 26 13 26 17 26 18 26 15 26 8 26 3 26 2 26 7 26 18 26 29 16 21 16 20 16 20 16 19 16 19 16 20 16 19 16 20 16 19 16 19 16 18 16 16 16 13 16 9 16 6 16 2 16-3 16-9 10-10 10-18 10-26 10-36 10-46 10-53 10-63 10-71 10-78 10-81 10-80 10-79 10-80 10-82 10-83 10-82 10-79 10-75 10-71 10-68 10-68 10-68 10-70 10-71 10-71 10-69 10-64 10-59 10-54 10-49 10-45 10-42 10-38 10-35 10-33 10-33 10-34 10-34 10-35 10-33 10-32 10-31 10-28 10-25 10-23 10-20 10-17 10-16 10-13 10-11 10-9 10-8 16-10 16-5 16-4 16-4 16-4 16-4 16-5 16-5 26-8 26-8 26-7 26-6 26-7 26-6 26-8 26-10 26-10 26-11 26-10 26-10 26-8 26-5 26-2 26 3 26 11 26 17 26 15 26 11 26 7 26 3 26 0 26-3 26-5 26-4 26-2 26-1 26 1 26 4 26 4 26 6 26 6 26 10 26 11 26 12 26 14 26 14 26 15 26 19 26 25 26 31 10 14 10 15 10 17 10 19 10 20 10 22 10 24 10 26 10 27 10 29 10 30 10 33 10 34 10 35 10 37 10 36 10 37 10 36 10 36 10 36 10 37 10 38 10 39 10 40 10 42 10 42 10 39 10 37 10 32 10 28 10 24 10 21 10 18 10 16 10 13 10 12 10 9 10 9 10 7 10 6 26 15 26 13 26 11 26 9 26 9 26 8 26 7 26 7 26 6 5 2"/>
<path stroke="#D41440" d="M704 3252l16 25 16 22 16 19 16 15 16 12 16 9 16 6 16 4 16 4 26 5 26 1 26-2 26-5 26-5 26-6 26-8 26-9 26-10 26-9 26-8 26-8 26-5 26-4 26-4 26-4 26-6 26-8 26-11 26-15 26-18 26-23 26-29 26-36 10-16 10-16 10-17 10-18 10-19 10-21 10-21 10-24 10-25 10-27 10-27 10-29 10-29 10-29 10-29 10-29 10-27 10-26 10-24 10-23 10-20 10-19 10-17 10-15 10-14 10-12 10-11 10-10 10-9 26-19 26-14 26-10 26-7 26-4 26 0 26 4 26 8 26 9 26 9 26 11 26 16 26 20 26 17 26 12 26 4 26-3 26-6 26-2 26 4 26 10 26 11 26 9 26 3 26 0 26 1 26 8 26 23 26 38 16 27 16 26 16 26 16 24 16 25 16 25 16 26 16 25 16 25 16 24 16 21 16 19 16 15 16 11 16 8 16 3 16-3 16-10 10-12 10-19 10-30 10-42 10-52 10-62 10-71 10-82 10-89 10-90 10-86 10-81 10-78 10-77 10-75 10-72 10-65 10-58 10-51 10-46 10-46 10-47 10-49 10-51 10-54 10-52 10-50 10-46 10-42 10-41 10-37 10-35 10-31 10-28 10-27 10-27 10-27 10-28 10-29 10-28 10-28 10-27 10-25 10-23 10-19 10-17 10-14 10-12 10-10 10-8 10-7 10-5 16-7 16-5 16-4 16-3 16-3 16-3 16-4 16-4 26-7 26-7 26-7 26-7 26-8 26-9 26-10 26-11 26-12 26-12 26-14 26-14 26-12 26-8 26-6 26 0 26 9 26 14 26 13 26 10 26 6 26 4 26 2 26 2 26 1 26 1 26 3 26 3 26 4 26 5 26 5 26 4 26 6 26 9 26 10 26 12 26 13 26 15 26 18 26 23 26 28 26 34 10 15 10 16 10 17 10 18 10 21 10 22 10 23 10 26 10 27 10 28 10 30 10 32 10 35 10 36 10 35 10 36 10 34 10 34 10 34 10 35 10 35 10 37 10 38 10 39 10 39 10 39 10 38 10 35 10 34 10 30 10 26 10 24 10 21 10 17 10 15 10 12 10 11 10 9 10 8 10 8 26 16 26 11 26 8 26 3 26 1 26-2 26-3 26-4 26-7 5-1"/>
<path stroke="#0A6CD6" d="M704 3293l16 21 16 18 16 15 16 13 16 9 16 7 16 4 16 2 16 3 26 1 26 0 26-4 26-4 26-4 26-5 26-5 26-7 26-6 26-5 26-4 26-2 26-2 26 0 26 0 26 0 26-2 26-3 26-5 26-8 26-11 26-14 26-19 26-25 10-11 10-12 10-13 10-13 10-15 10-16 10-17 10-19 10-21 10-23 10-25 10-25 10-26 10-25 10-26 10-26 10-25 10-25 10-24 10-22 10-22 10-20 10-18 10-17 10-15 10-14 10-14 10-13 10-11 26-28 26-22 26-17 26-14 26-11 26-8 26-3 26 0 26 1 26 3 26 5 26 12 26 16 26 15 26 11 26 7 26 5 26 6 26 11 26 18 26 24 26 24 26 20 26 15 26 11 26 9 26 11 26 22 26 32 16 22 16 22 16 22 16 20 16 21 16 21 16 21 16 20 16 20 16 20 16 18 16 16 16 14 16 10 16 7 16 2 16-2 16-9 10-10 10-17 10-25 10-34 10-43 10-51 10-59 10-66 10-73 10-75 10-75 10-75 10-75 10-74 10-72 10-70 10-66 10-61 10-58 10-55 10-56 10-59 10-61 10-63 10-63 10-61 10-57 10-53 10-48 10-46 10-43 10-38 10-33 10-31 10-27 10-27 10-26 10-27 10-27 10-27 10-26 10-26 10-23 10-22 10-17 10-15 10-12 10-10 10-8 10-7 10-6 10-5 16-8 16-7 16-7 16-7 16-6 16-6 16-7 16-7 26-12 26-12 26-13 26-12 26-13 26-14 26-12 26-13 26-13 26-12 26-13 26-13 26-11 26-7 26-4 26 0 26 9 26 13 26 13 26 8 26 2 26-1 26-1 26-2 26-3 26-2 26-2 26 0 26 2 26 3 26 4 26 5 26 7 26 9 26 13 26 14 26 15 26 19 26 21 26 27 26 32 26 37 10 16 10 17 10 19 10 20 10 23 10 24 10 26 10 28 10 30 10 31 10 33 10 36 10 38 10 39 10 39 10 38 10 37 10 36 10 35 10 36 10 37 10 38 10 39 10 38 10 38 10 37 10 36 10 35 10 34 10 31 10 28 10 25 10 21 10 18 10 14 10 12 10 11 10 9 10 8 10 8 26 16 26 11 26 7 26 3 26 2 26 0 26-2 26-5 26-6 5-1"/>
<path stroke="#FA5A12" d="M704 3217l16 25 16 21 16 16 16 13 16 9 16 7 16 3 16 1 16 0 26 0 26-2 26-7 26-7 26-8 26-8 26-10 26-13 26-12 26-11 26-9 26-8 26-5 26-4 26-3 26-4 26-6 26-9 26-11 26-15 26-20 26-25 26-33 26-40 10-17 10-19 10-19 10-20 10-22 10-23 10-25 10-26 10-29 10-31 10-32 10-33 10-33 10-35 10-34 10-34 10-33 10-31 10-30 10-27 10-25 10-24 10-21 10-20 10-17 10-17 10-14 10-14 10-12 26-27 26-20 26-14 26-8 26-4 26 0 26 6 26 10 26 10 26 11 26 12 26 17 26 20 26 18 26 11 26 6 26 1 26 3 26 7 26 17 26 23 26 24 26 20 26 13 26 6 26 2 26 8 26 26 26 44 16 31 16 30 16 28 16 28 16 28 16 28 16 29 16 29 16 28 16 26 16 24 16 20 16 16 16 12 16 8 16 2 16-4 16-13 10-15 10-24 10-36 10-51 10-64 10-74 10-87 10-100 10-109 10-110 10-103 10-93 10-88 10-86 10-84 10-79 10-72 10-60 10-49 10-42 10-38 10-37 10-38 10-41 10-43 10-44 10-41 10-38 10-34 10-32 10-28 10-24 10-21 10-18 10-17 10-16 10-18 10-19 10-20 10-19 10-19 10-18 10-17 10-15 10-13 10-11 10-9 10-7 10-6 10-5 10-5 10-4 16-6 16-6 16-5 16-5 16-5 16-5 16-6 16-5 26-10 26-10 26-9 26-10 26-9 26-9 26-10 26-10 26-9 26-7 26-6 26-5 26-3 26 1 26 3 26 7 26 15 26 18 26 16 26 8 26 2 26-3 26-5 26-8 26-9 26-9 26-7 26-5 26-2 26 1 26 4 26 5 26 6 26 9 26 11 26 13 26 14 26 16 26 19 26 24 26 30 26 35 10 15 10 17 10 19 10 21 10 23 10 24 10 27 10 29 10 31 10 32 10 34 10 36 10 38 10 40 10 40 10 39 10 38 10 37 10 37 10 36 10 38 10 38 10 39 10 38 10 39 10 38 10 36 10 35 10 32 10 28 10 26 10 22 10 19 10 15 10 13 10 11 10 9 10 8 10 7 10 7 26 14 26 11 26 10 26 6 26 6 26 5 26 4 26 3 26 2 5 1"/>
<path stroke="#FBB414" d="M704 3312l16 21 16 20 16 17 16 14 16 11 16 8 16 6 16 4 16 4 26 5 26 1 26-1 26-2 26-4 26-4 26-6 26-7 26-8 26-7 26-6 26-6 26-4 26-4 26-2 26-3 26-4 26-5 26-7 26-10 26-13 26-16 26-21 26-28 10-11 10-13 10-13 10-14 10-15 10-16 10-17 10-20 10-20 10-22 10-23 10-24 10-23 10-22 10-23 10-21 10-21 10-20 10-18 10-17 10-15 10-14 10-12 10-10 10-9 10-8 10-7 10-7 10-6 26-14 26-11 26-11 26-12 26-15 26-16 26-13 26-11 26-10 26-9 26-6 26 4 26 9 26 12 26 9 26 7 26 6 26 8 26 13 26 22 26 27 26 27 26 23 26 16 26 10 26 6 26 9 26 17 26 26 16 18 16 18 16 17 16 17 16 16 16 16 16 16 16 16 16 16 16 16 16 15 16 13 16 10 16 7 16 4 16-1 16-5 16-13 10-13 10-20 10-29 10-39 10-49 10-58 10-67 10-77 10-84 10-88 10-87 10-85 10-84 10-84 10-83 10-81 10-76 10-71 10-64 10-61 10-59 10-61 10-62 10-63 10-65 10-63 10-59 10-55 10-51 10-48 10-45 10-41 10-38 10-35 10-34 10-33 10-34 10-35 10-35 10-34 10-33 10-31 10-29 10-26 10-24 10-20 10-18 10-16 10-14 10-11 10-10 10-8 16-9 16-6 16-4 16-3 16-4 16-4 16-4 16-4 26-8 26-6 26-6 26-6 26-6 26-6 26-8 26-9 26-10 26-9 26-9 26-8 26-7 26-3 26-1 26 5 26 12 26 17 26 16 26 11 26 6 26 4 26 1 26-2 26-2 26-2 26-1 26 0 26 2 26 4 26 4 26 3 26 5 26 6 26 8 26 9 26 9 26 10 26 11 26 15 26 21 26 27 10 13 10 13 10 15 10 16 10 18 10 19 10 21 10 23 10 24 10 25 10 27 10 29 10 30 10 32 10 33 10 34 10 34 10 33 10 34 10 34 10 35 10 37 10 38 10 41 10 42 10 42 10 41 10 37 10 32 10 28 10 25 10 21 10 19 10 16 10 14 10 12 10 11 10 9 10 8 10 6 26 16 26 13 26 10 26 9 26 7 26 7 26 6 26 5 26 4 5 1"/>
<path stroke="#A02CBC" d="M704 3314l16 21 16 18 16 16 16 14 16 10 16 7 16 5 16 4 16 3 26 4 26 0 26-2 26-3 26-4 26-4 26-6 26-7 26-8 26-6 26-6 26-5 26-4 26-2 26-2 26-1 26-2 26-2 26-3 26-5 26-7 26-10 26-14 26-19 10-9 10-10 10-10 10-11 10-13 10-14 10-15 10-17 10-20 10-21 10-22 10-24 10-23 10-24 10-23 10-23 10-23 10-22 10-22 10-21 10-20 10-18 10-17 10-15 10-14 10-13 10-13 10-11 10-12 26-26 26-22 26-18 26-16 26-14 26-13 26-9 26-5 26-4 26-2 26 1 26 9 26 13 26 13 26 10 26 6 26 5 26 6 26 9 26 16 26 20 26 20 26 18 26 13 26 9 26 7 26 10 26 19 26 28 16 20 16 20 16 20 16 19 16 19 16 20 16 19 16 20 16 19 16 19 16 17 16 15 16 13 16 10 16 6 16 2 16-2 16-8 10-9 10-16 10-23 10-32 10-40 10-47 10-54 10-61 10-66 10-68 10-68 10-68 10-67 10-65 10-61 10-57 10-52 10-49 10-44 10-45 10-46 10-50 10-54 10-57 10-56 10-55 10-51 10-48 10-46 10-44 10-42 10-39 10-36 10-32 10-31 10-30 10-30 10-30 10-30 10-32 10-31 10-31 10-29 10-26 10-22 10-18 10-15 10-13 10-10 10-8 10-8 10-6 16-9 16-7 16-7 16-6 16-5 16-6 16-5 16-6 26-11 26-11 26-12 26-13 26-13 26-15 26-13 26-13 26-15 26-16 26-18 26-18 26-16 26-13 26-10 26-4 26 4 26 10 26 12 26 7 26 3 26 3 26 3 26 4 26 4 26 4 26 5 26 5 26 5 26 5 26 5 26 6 26 6 26 9 26 11 26 13 26 15 26 18 26 23 26 29 26 33 26 37 10 16 10 17 10 18 10 20 10 22 10 23 10 25 10 26 10 28 10 29 10 32 10 34 10 37 10 38 10 37 10 35 10 33 10 32 10 32 10 33 10 34 10 36 10 36 10 35 10 34 10 33 10 31 10 31 10 30 10 29 10 25 10 21 10 18 10 14 10 11 10 9 10 8 10 7 10 6 10 6 26 13 26 10 26 7 26 3 26 2 26 0 26-1 26-2 26-4 5 0"/>
<path stroke="#52B822" d="M704 3280l16 23 16 21 16 17 16 15 16 12 16 8 16 6 16 5 16 4 26 4 26 2 26 0 26-2 26-3 26-3 26-4 26-5 26-6 26-5 26-4 26-3 26-2 26-1 26-2 26-2 26-3 26-5 26-8 26-11 26-13 26-17 26-23 26-28 10-13 10-13 10-13 10-15 10-15 10-17 10-18 10-19 10-22 10-23 10-24 10-25 10-25 10-25 10-25 10-25 10-24 10-23 10-22 10-21 10-20 10-18 10-16 10-14 10-14 10-12 10-11 10-10 10-10 26-22 26-17 26-14 26-10 26-9 26-6 26-1 26 1 26 3 26 4 26 7 26 13 26 17 26 15 26 11 26 5 26 0 26-1 26 1 26 6 26 11 26 12 26 10 26 6 26 3 26 3 26 9 26 21 26 32 16 23 16 22 16 22 16 23 16 22 16 22 16 23 16 23 16 22 16 21 16 20 16 18 16 15 16 11 16 8 16 4 16 1 16-5 10-7 10-12 10-21 10-28 10-37 10-43 10-50 10-56 10-61 10-64 10-64 10-67 10-67 10-67 10-64 10-63 10-59 10-56 10-53 10-53 10-55 10-58 10-61 10-63 10-63 10-60 10-55 10-51 10-47 10-44 10-40 10-36 10-33 10-29 10-26 10-25 10-25 10-25 10-25 10-25 10-26 10-26 10-23 10-21 10-18 10-14 10-11 10-9 10-7 10-6 10-5 10-5 16-8 16-8 16-8 16-8 16-7 16-7 16-7 16-8 26-13 26-14 26-14 26-14 26-15 26-15 26-14 26-13 26-13 26-13 26-14 26-14 26-11 26-8 26-5 26-1 26 8 26 12 26 12 26 7 26 1 26-1 26-2 26-1 26-2 26-1 26 0 26 0 26 2 26 3 26 5 26 5 26 7 26 10 26 12 26 15 26 16 26 19 26 24 26 30 26 34 26 37 10 16 10 17 10 18 10 20 10 21 10 23 10 25 10 26 10 28 10 29 10 32 10 34 10 37 10 38 10 36 10 36 10 33 10 33 10 33 10 34 10 35 10 36 10 37 10 37 10 36 10 34 10 34 10 33 10 33 10 30 10 28 10 25 10 20 10 17 10 13 10 11 10 10 10 8 10 8 10 8 26 15 26 10 26 7 26 3 26 1 26 0 26-1 26-3 26-5 5-1"/>
<path stroke="#20BAF0" d="M704 3370l16 20 16 18 16 17 16 15 16 11 16 9 16 8 16 6 16 6 26 7 26 3 26 2 26 1 26-1 26-2 26-2 26-3 26-5 26-4 26-4 26-3 26-2 26-2 26-1 26 0 26 0 26 0 26-2 26-3 26-4 26-6 26-8 26-14 10-6 10-6 10-7 10-8 10-9 10-10 10-11 10-13 10-15 10-16 10-17 10-18 10-18 10-17 10-17 10-17 10-17 10-17 10-17 10-16 10-15 10-14 10-13 10-11 10-11 10-9 10-10 10-9 10-8 26-21 26-17 26-16 26-15 26-16 26-15 26-12 26-11 26-9 26-6 26-4 26 5 26 9 26 9 26 6 26 3 26-1 26-2 26 1 26 5 26 9 26 10 26 8 26 6 26 4 26 6 26 10 26 19 26 27 16 19 16 20 16 20 16 20 16 20 16 20 16 20 16 19 16 18 16 18 16 17 16 16 16 13 16 10 16 7 16 2 16-1 16-5 10-7 10-12 10-16 10-22 10-27 10-32 10-38 10-41 10-44 10-48 10-52 10-59 10-63 10-62 10-58 10-57 10-55 10-56 10-56 10-59 10-64 10-68 10-73 10-75 10-72 10-69 10-64 10-59 10-55 10-54 10-51 10-49 10-45 10-41 10-40 10-38 10-37 10-38 10-38 10-38 10-38 10-38 10-35 10-31 10-28 10-23 10-19 10-16 10-14 10-12 10-10 10-8 16-11 16-9 16-8 16-7 16-6 16-5 16-5 16-6 26-9 26-10 26-10 26-12 26-12 26-14 26-13 26-13 26-13 26-14 26-14 26-14 26-12 26-8 26-6 26-1 26 7 26 12 26 12 26 6 26 1 26 0 26-1 26 0 26 0 26 0 26 0 26 2 26 2 26 3 26 5 26 5 26 6 26 9 26 12 26 13 26 15 26 19 26 23 26 29 26 33 26 37 10 16 10 17 10 19 10 21 10 23 10 24 10 27 10 28 10 30 10 31 10 34 10 37 10 40 10 40 10 39 10 38 10 36 10 34 10 35 10 34 10 36 10 38 10 37 10 37 10 35 10 33 10 33 10 32 10 31 10 30 10 27 10 23 10 20 10 15 10 12 10 10 10 9 10 7 10 7 10 7 26 14 26 9 26 7 26 3 26 0 26 0 26-1 26-4 26-5 5-1"/>
<path stroke="#D41440" d="M704 3334l16 18 16 17 16 15 16 12 16 10 16 6 16 4 16 4 16 2 26 3 26 0 26-2 26-3 26-3 26-3 26-4 26-4 26-5 26-3 26-3 26-2 26-1 26-1 26 0 26-2 26-2 26-5 26-7 26-9 26-12 26-16 26-20 26-25 10-12 10-11 10-13 10-13 10-14 10-15 10-17 10-18 10-19 10-21 10-22 10-22 10-22 10-22 10-21 10-21 10-20 10-19 10-18 10-17 10-15 10-14 10-12 10-11 10-9 10-8 10-8 10-7 10-7 26-15 26-12 26-12 26-13 26-14 26-13 26-11 26-9 26-7 26-6 26-2 26 6 26 11 26 12 26 9 26 8 26 6 26 8 26 12 26 20 26 24 26 23 26 21 26 15 26 10 26 7 26 10 26 17 26 24 16 18 16 17 16 18 16 16 16 17 16 17 16 16 16 17 16 17 16 16 16 15 16 14 16 11 16 9 16 5 16 1 16-5 16-12 10-13 10-20 10-28 10-36 10-46 10-54 10-62 10-69 10-76 10-78 10-76 10-76 10-74 10-74 10-71 10-68 10-64 10-59 10-56 10-54 10-54 10-58 10-60 10-62 10-62 10-61 10-56 10-52 10-50 10-46 10-44 10-41 10-37 10-34 10-33 10-31 10-32 10-32 10-32 10-32 10-32 10-31 10-29 10-26 10-22 10-19 10-17 10-13 10-12 10-10 10-8 10-7 16-10 16-7 16-6 16-6 16-6 16-6 16-6 16-7 26-11 26-11 26-11 26-11 26-12 26-12 26-12 26-12 26-12 26-12 26-13 26-12 26-10 26-6 26-4 26 1 26 9 26 14 26 13 26 7 26 2 26 0 26-2 26-4 26-4 26-4 26-3 26-1 26 0 26 3 26 4 26 5 26 7 26 11 26 13 26 15 26 17 26 19 26 22 26 27 26 33 26 37 10 16 10 18 10 19 10 20 10 23 10 25 10 27 10 28 10 30 10 32 10 34 10 36 10 38 10 40 10 39 10 38 10 37 10 36 10 36 10 36 10 37 10 38 10 38 10 38 10 37 10 36 10 35 10 32 10 31 10 28 10 24 10 21 10 17 10 14 10 11 10 8 10 8 10 6 10 6 10 5 26 12 26 9 26 7 26 4 26 2 26 1 26 0 26-1 26-2 5 0"/>
<path stroke="#0A6CD6" d="M704 3277l16 22 16 20 16 16 16 13 16 10 16 7 16 5 16 3 16 2 26 2 26 0 26-3 26-5 26-5 26-5 26-6 26-7 26-7 26-6 26-4 26-4 26-3 26-1 26-2 26-2 26-4 26-7 26-9 26-12 26-15 26-20 26-25 26-32 10-14 10-15 10-15 10-16 10-18 10-18 10-20 10-21 10-23 10-25 10-26 10-27 10-27 10-27 10-27 10-26 10-26 10-24 10-23 10-21 10-20 10-18 10-17 10-14 10-13 10-12 10-11 10-10 10-10 26-20 26-17 26-13 26-11 26-9 26-7 26-3 26 2 26 1 26 3 26 6 26 12 26 17 26 15 26 11 26 6 26 2 26 3 26 7 26 15 26 22 26 22 26 18 26 11 26 7 26 5 26 9 26 23 26 36 16 25 16 25 16 24 16 23 16 23 16 23 16 23 16 22 16 23 16 21 16 20 16 17 16 14 16 11 16 7 16 2 16-5 16-14 10-15 10-22 10-32 10-44 10-55 10-65 10-76 10-86 10-95 10-98 10-95 10-90 10-89 10-89 10-88 10-85 10-81 10-72 10-65 10-60 10-57 10-57 10-58 10-59 10-60 10-59 10-55 10-51 10-46 10-42 10-39 10-35 10-32 10-29 10-27 10-26 10-28 10-29 10-29 10-28 10-28 10-25 10-24 10-22 10-19 10-17 10-15 10-12 10-11 10-10 10-7 10-7 16-9 16-6 16-5 16-5 16-5 16-5 16-6 16-6 26-9 26-10 26-8 26-8 26-8 26-8 26-9 26-11 26-11 26-11 26-11 26-11 26-8 26-5 26-2 26 3 26 12 26 16 26 16 26 11 26 7 26 5 26 2 26 0 26-2 26-1 26 1 26 1 26 3 26 4 26 4 26 4 26 5 26 7 26 8 26 9 26 9 26 11 26 12 26 16 26 22 26 28 10 13 10 14 10 16 10 17 10 19 10 21 10 23 10 24 10 26 10 28 10 29 10 30 10 33 10 34 10 35 10 35 10 35 10 34 10 35 10 34 10 35 10 36 10 37 10 39 10 40 10 40 10 39 10 35 10 30 10 26 10 22 10 20 10 16 10 14 10 12 10 10 10 8 10 7 10 6 10 5 26 11 26 9 26 6 26 5 26 3 26 3 26 1 26 2 26 1 5 0"/>
<path stroke="#FA5A12" d="M704 3291l16 22 16 20 16 17 16 15 16 11 16 8 16 5 16 4 16 4 26 4 26 1 26-2 26-3 26-4 26-6 26-6 26-8 26-9 26-8 26-7 26-6 26-4 26-3 26-2 26-3 26-3 26-4 26-6 26-8 26-11 26-15 26-19 26-24 10-11 10-12 10-12 10-13 10-14 10-15 10-17 10-18 10-20 10-21 10-23 10-23 10-23 10-23 10-22 10-22 10-21 10-21 10-19 10-18 10-17 10-15 10-13 10-12 10-10 10-10 10-8 10-8 10-8 26-17 26-14 26-12 26-13 26-15 26-17 26-15 26-13 26-13 26-12 26-7 26 1 26 8 26 10 26 9 26 6 26 2 26 3 26 7 26 15 26 21 26 21 26 17 26 12 26 6 26 5 26 9 26 22 26 33 16 24 16 23 16 22 16 22 16 21 16 22 16 21 16 22 16 20 16 21 16 19 16 16 16 14 16 10 16 7 16 2 16-4 16-12 10-13 10-20 10-29 10-40 10-50 10-60 10-69 10-78 10-87 10-90 10-88 10-86 10-85 10-86 10-85 10-82 10-78 10-72 10-66 10-62 10-60 10-61 10-62 10-63 10-64 10-62 10-58 10-53 10-49 10-46 10-41 10-38 10-35 10-31 10-30 10-30 10-30 10-31 10-31 10-30 10-30 10-28 10-26 10-23 10-20 10-18 10-16 10-14 10-11 10-10 10-8 10-7 16-9 16-5 16-4 16-4 16-4 16-5 16-4 16-5 26-8 26-8 26-6 26-7 26-7 26-7 26-8 26-10 26-10 26-10 26-10 26-10 26-8 26-4 26-2 26 3 26 11 26 15 26 15 26 9 26 3 26 0 26-3 26-6 26-8 26-7 26-5 26-4 26-1 26 2 26 4 26 5 26 8 26 13 26 15 26 16 26 18 26 19 26 21 26 24 26 28 26 34 10 14 10 15 10 15 10 16 10 18 10 18 10 20 10 21 10 23 10 24 10 25 10 26 10 29 10 30 10 30 10 32 10 31 10 32 10 32 10 32 10 34 10 36 10 38 10 40 10 43 10 43 10 41 10 38 10 35 10 30 10 27 10 24 10 21 10 19 10 17 10 14 10 13 10 11 10 10 10 9 26 19 26 14 26 12 26 8 26 7 26 5 26 4 26 3 26 1 5 0"/>
<path stroke="#FBB414" d="M704 3274l16 22 16 20 16 16 16 13 16 10 16 6 16 4 16 3 16 2 26 2 26-1 26-4 26-5 26-5 26-6 26-8 26-9 26-10 26-8 26-7 26-6 26-5 26-2 26-3 26-3 26-4 26-5 26-8 26-10 26-14 26-17 26-24 26-30 10-13 10-14 10-15 10-15 10-17 10-19 10-19 10-22 10-24 10-25 10-27 10-27 10-28 10-28 10-28 10-28 10-27 10-26 10-24 10-23 10-21 10-20 10-18 10-16 10-15 10-13 10-13 10-11 10-11 26-24 26-19 26-15 26-11 26-11 26-9 26-6 26-2 26-3 26-1 26 3 26 8 26 14 26 13 26 10 26 7 26 4 26 6 26 10 26 19 26 24 26 25 26 21 26 14 26 9 26 5 26 8 26 21 26 34 16 24 16 23 16 22 16 22 16 22 16 22 16 22 16 22 16 22 16 21 16 20 16 16 16 14 16 10 16 6 16 2 16-4 16-10 10-12 10-19 10-29 10-40 10-51 10-60 10-69 10-79 10-86 10-87 10-84 10-80 10-77 10-77 10-74 10-71 10-65 10-58 10-52 10-47 10-47 10-49 10-50 10-53 10-55 10-54 10-51 10-47 10-44 10-41 10-39 10-35 10-33 10-29 10-28 10-28 10-28 10-29 10-30 10-29 10-29 10-28 10-25 10-23 10-21 10-17 10-14 10-12 10-11 10-8 10-7 10-5 16-7 16-4 16-3 16-2 16-1 16-1 16-1 16-2 26-2 26-3 26-3 26-3 26-6 26-7 26-9 26-10 26-13 26-14 26-14 26-15 26-13 26-10 26-6 26-2 26 8 26 13 26 14 26 9 26 4 26 3 26 1 26 0 26-1 26 0 26 1 26 2 26 3 26 4 26 5 26 4 26 3 26 6 26 7 26 8 26 8 26 11 26 14 26 18 26 25 26 31 10 13 10 15 10 17 10 19 10 20 10 22 10 24 10 26 10 27 10 29 10 31 10 33 10 36 10 37 10 36 10 37 10 35 10 36 10 34 10 36 10 36 10 37 10 38 10 40 10 40 10 40 10 40 10 38 10 36 10 33 10 31 10 27 10 25 10 21 10 19 10 16 10 14 10 13 10 11 10 10 26 20 26 12 26 8 26 4 26 2 26 0 26-3 26-4 26-8 5-1"/>
<path stroke="#A02CBC" d="M704 3286l16 21 16 19 16 15 16 13 16 9 16 7 16 3 16 3 16 2 26 2 26-2 26-3 26-5 26-5 26-4 26-6 26-7 26-7 26-5 26-5 26-4 26-2 26-1 26-1 26-3 26-4 26-5 26-7 26-11 26-13 26-18 26-22 26-30 10-12 10-14 10-14 10-15 10-16 10-18 10-19 10-20 10-23 10-24 10-25 10-26 10-26 10-26 10-26 10-25 10-25 10-23 10-23 10-20 10-20 10-17 10-16 10-14 10-13 10-11 10-11 10-9 10-9 26-21 26-16 26-13 26-11 26-11 26-10 26-7 26-4 26-3 26-3 26 1 26 7 26 12 26 12 26 8 26 4 26 0 26 1 26 6 26 13 26 19 26 19 26 16 26 10 26 5 26 3 26 7 26 19 26 34 16 23 16 22 16 22 16 22 16 21 16 22 16 22 16 22 16 22 16 21 16 19 16 17 16 13 16 10 16 7 16 2 16-4 16-9 10-10 10-18 10-28 10-38 10-49 10-57 10-67 10-76 10-84 10-86 10-85 10-83 10-82 10-81 10-81 10-78 10-73 10-67 10-60 10-57 10-55 10-56 10-58 10-59 10-60 10-58 10-55 10-51 10-46 10-43 10-39 10-35 10-32 10-28 10-27 10-27 10-27 10-27 10-28 10-28 10-27 10-25 10-24 10-21 10-19 10-16 10-13 10-12 10-10 10-8 10-6 10-6 16-8 16-6 16-5 16-4 16-5 16-5 16-5 16-5 26-9 26-9 26-9 26-8 26-9 26-9 26-9 26-11 26-11 26-11 26-11 26-11 26-10 26-5 26-4 26 2 26 10 26 14 26 14 26 9 26 4 26 0 26-1 26-4 26-5 26-4 26-3 26-2 26 1 26 3 26 4 26 5 26 6 26 10 26 13 26 13 26 15 26 17 26 20 26 24 26 30 26 36 10 15 10 17 10 18 10 21 10 22 10 24 10 26 10 28 10 30 10 31 10 33 10 35 10 37 10 39 10 38 10 39 10 37 10 37 10 36 10 36 10 37 10 38 10 39 10 39 10 39 10 39 10 37 10 35 10 32 10 29 10 25 10 23 10 19 10 16 10 13 10 11 10 9 10 9 10 7 10 7 26 14 26 12 26 8 26 5 26 3 26 2 26 1 26 0 26-2 5 0"/>
<path stroke="#52B822" d="M704 3264l16 22 16 20 16 15 16 13 16 10 16 6 16 4 16 2 16 1 26 1 26-1 26-5 26-5 26-6 26-7 26-7 26-10 26-10 26-8 26-7 26-6 26-4 26-3 26-3 26-3 26-4 26-7 26-9 26-13 26-15 26-21 26-27 26-33 10-15 10-15 10-17 10-17 10-18 10-20 10-21 10-23 10-25 10-27 10-28 10-28 10-30 10-29 10-29 10-29 10-28 10-27 10-25 10-23 10-22 10-20 10-18 10-16 10-15 10-13 10-12 10-11 10-10 26-22 26-17 26-12 26-8 26-4 26 1 26 7 26 11 26 12 26 13 26 14 26 19 26 22 26 19 26 12 26 5 26-1 26-3 26 2 26 8 26 14 26 14 26 12 26 6 26 3 26 2 26 8 26 25 26 40 16 28 16 28 16 27 16 27 16 26 16 27 16 27 16 26 16 25 16 24 16 22 16 19 16 15 16 12 16 7 16 2 16-5 16-13 10-15 10-23 10-33 10-44 10-56 10-66 10-76 10-87 10-94 10-97 10-92 10-86 10-83 10-81 10-78 10-74 10-67 10-59 10-51 10-46 10-44 10-45 10-47 10-50 10-51 10-50 10-48 10-44 10-41 10-39 10-36 10-33 10-30 10-26 10-25 10-24 10-26 10-26 10-26 10-27 10-26 10-25 10-24 10-21 10-18 10-16 10-13 10-11 10-9 10-8 10-7 10-6 16-8 16-6 16-6 16-6 16-5 16-6 16-6 16-6 26-11 26-11 26-11 26-10 26-11 26-11 26-11 26-12 26-12 26-12 26-12 26-12 26-10 26-6 26-3 26 1 26 10 26 15 26 14 26 10 26 5 26 3 26 2 26 1 26 0 26 1 26 1 26 3 26 4 26 5 26 6 26 5 26 7 26 9 26 11 26 12 26 14 26 16 26 19 26 23 26 29 26 34 10 15 10 16 10 16 10 18 10 19 10 21 10 22 10 24 10 25 10 27 10 28 10 30 10 32 10 34 10 34 10 33 10 33 10 32 10 33 10 33 10 35 10 36 10 38 10 39 10 39 10 39 10 38 10 36 10 34 10 30 10 27 10 23 10 21 10 17 10 15 10 13 10 10 10 10 10 8 10 8 26 17 26 11 26 8 26 4 26 1 26 0 26-2 26-3 26-6 5-1"/>
<path stroke="#20BAF0" d="M704 3301l16 20 16 19 16 15 16 13 16 10 16 7 16 4 16 3 16 3 26 2 26 0 26-3 26-4 26-4 26-4 26-5 26-7 26-6 26-6 26-4 26-4 26-3 26-1 26-1 26-3 26-4 26-7 26-10 26-13 26-17 26-21 26-27 26-33 10-14 10-15 10-15 10-17 10-17 10-18 10-20 10-21 10-22 10-23 10-24 10-25 10-23 10-24 10-22 10-22 10-20 10-18 10-17 10-16 10-13 10-12 10-9 10-8 10-7 10-5 10-4 10-4 10-4 26-7 26-6 26-8 26-11 26-13 26-12 26-9 26-6 26-6 26-5 26-2 26 6 26 11 26 10 26 7 26 1 26-3 26-2 26 2 26 10 26 15 26 17 26 13 26 9 26 4 26 3 26 8 26 22 26 34 16 25 16 24 16 23 16 23 16 23 16 23 16 22 16 22 16 22 16 21 16 20 16 17 16 14 16 11 16 6 16 3 16-5 16-11 10-14 10-20 10-30 10-40 10-50 10-59 10-70 10-79 10-87 10-90 10-89 10-87 10-87 10-86 10-86 10-83 10-79 10-73 10-66 10-63 10-61 10-62 10-62 10-64 10-65 10-63 10-59 10-55 10-50 10-47 10-43 10-40 10-36 10-32 10-31 10-31 10-31 10-33 10-32 10-31 10-31 10-28 10-27 10-24 10-22 10-19 10-17 10-14 10-13 10-11 10-10 10-8 16-11 16-8 16-6 16-6 16-6 16-6 16-6 16-7 26-10 26-10 26-9 26-9 26-8 26-9 26-11 26-12 26-13 26-13 26-13 26-13 26-11 26-7 26-4 26 2 26 10 26 16 26 15 26 12 26 7 26 3 26 1 26-2 26-4 26-2 26-2 26 1 26 3 26 5 26 6 26 6 26 9 26 11 26 14 26 15 26 15 26 17 26 17 26 22 26 28 26 34 10 15 10 16 10 18 10 20 10 21 10 23 10 25 10 27 10 29 10 30 10 31 10 34 10 35 10 37 10 37 10 38 10 37 10 37 10 36 10 37 10 37 10 38 10 39 10 40 10 41 10 41 10 40 10 36 10 32 10 28 10 25 10 21 10 19 10 16 10 13 10 11 10 10 10 8 10 7 10 6 26 14 26 11 26 7 26 4 26 2 26 1 26 0 26-2 26-2 5-1"/>
<path stroke="#D41440" d="M704 3341l16 22 16 21 16 19 16 16 16 13 16 10 16 8 16 7 16 7 26 8 26 4 26 2 26 1 26-2 26-3 26-5 26-6 26-7 26-7 26-7 26-6 26-6 26-3 26-3 26-2 26-2 26-3 26-4 26-7 26-9 26-11 26-14 26-21 10-8 10-10 10-10 10-11 10-11 10-13 10-14 10-16 10-17 10-19 10-19 10-20 10-19 10-19 10-19 10-18 10-17 10-16 10-16 10-15 10-14 10-12 10-11 10-9 10-7 10-7 10-7 10-6 10-5 26-13 26-12 26-10 26-13 26-13 26-11 26-7 26-5 26-3 26-2 26 2 26 10 26 14 26 14 26 11 26 6 26 1 26 1 26 3 26 9 26 12 26 12 26 10 26 7 26 5 26 5 26 10 26 17 26 25 16 18 16 18 16 18 16 18 16 18 16 18 16 17 16 17 16 17 16 17 16 16 16 14 16 13 16 9 16 7 16 2 16-4 16-13 10-13 10-19 10-27 10-34 10-42 10-49 10-57 10-62 10-68 10-70 10-70 10-69 10-69 10-67 10-64 10-61 10-57 10-55 10-52 10-53 10-55 10-59 10-62 10-65 10-65 10-62 10-59 10-54 10-52 10-50 10-49 10-46 10-43 10-40 10-39 10-38 10-38 10-38 10-38 10-39 10-39 10-37 10-36 10-32 10-28 10-24 10-21 10-18 10-16 10-13 10-11 10-10 16-13 16-10 16-8 16-7 16-7 16-8 16-7 16-7 26-12 26-13 26-11 26-12 26-13 26-12 26-12 26-12 26-12 26-12 26-12 26-12 26-9 26-6 26-4 26 1 26 9 26 14 26 13 26 8 26 2 26 1 26-1 26-2 26-3 26-3 26-1 26-1 26 1 26 3 26 3 26 5 26 6 26 8 26 11 26 12 26 13 26 16 26 19 26 24 26 30 26 34 10 15 10 17 10 18 10 20 10 22 10 24 10 26 10 28 10 29 10 31 10 33 10 36 10 38 10 39 10 39 10 37 10 37 10 36 10 35 10 36 10 37 10 37 10 38 10 39 10 37 10 36 10 34 10 33 10 31 10 27 10 24 10 21 10 18 10 13 10 11 10 9 10 8 10 6 10 6 10 6 26 12 26 11 26 11 26 10 26 10 26 10 26 10 26 10 26 9 5 2"/>
<path stroke="#0A6CD6" d="M704 3352l16 20 16 18 16 17 16 15 16 12 16 8 16 7 16 6 16 6 26 6 26 3 26 1 26 0 26-2 26-2 26-3 26-5 26-4 26-5 26-4 26-3 26-3 26-1 26-1 26-1 26-1 26-1 26-3 26-5 26-6 26-8 26-12 26-17 10-8 10-8 10-9 10-9 10-11 10-11 10-13 10-14 10-17 10-18 10-19 10-21 10-20 10-21 10-21 10-20 10-21 10-20 10-20 10-20 10-19 10-18 10-16 10-15 10-14 10-13 10-12 10-12 10-11 26-26 26-22 26-18 26-14 26-11 26-8 26-3 26 0 26 3 26 4 26 7 26 14 26 18 26 16 26 11 26 7 26 4 26 3 26 7 26 12 26 16 26 16 26 13 26 10 26 7 26 6 26 10 26 17 26 23 16 16 16 17 16 17 16 16 16 17 16 16 16 16 16 16 16 16 16 16 16 15 16 14 16 12 16 10 16 5 16 3 16-3 16-10 10-10 10-16 10-22 10-30 10-36 10-43 10-50 10-55 10-59 10-63 10-64 10-66 10-69 10-67 10-65 10-62 10-60 10-59 10-57 10-58 10-60 10-65 10-68 10-70 10-69 10-66 10-61 10-56 10-54 10-51 10-48 10-46 10-42 10-39 10-37 10-36 10-36 10-36 10-37 10-37 10-36 10-36 10-33 10-30 10-26 10-23 10-19 10-17 10-14 10-12 10-10 10-9 16-12 16-10 16-9 16-8 16-8 16-8 16-7 16-9 26-13 26-14 26-13 26-13 26-14 26-13 26-12 26-12 26-12 26-11 26-11 26-11 26-8 26-5 26-3 26 2 26 10 26 14 26 13 26 8 26 2 26 0 26 0 26-2 26-1 26-2 26-1 26 0 26 2 26 3 26 4 26 5 26 6 26 9 26 11 26 13 26 14 26 17 26 21 26 25 26 31 26 36 10 15 10 16 10 18 10 20 10 21 10 23 10 25 10 27 10 28 10 30 10 31 10 35 10 36 10 38 10 37 10 37 10 35 10 34 10 34 10 35 10 36 10 37 10 38 10 37 10 38 10 36 10 35 10 34 10 32 10 29 10 27 10 23 10 19 10 16 10 13 10 11 10 9 10 9 10 7 10 7 26 15 26 11 26 8 26 5 26 3 26 1 26 1 26-1 26-3 5 0"/>
<path stroke="#FA5A12" d="M704 3367l16 18 16 17 16 15 16 14 16 10 16 7 16 6 16 5 16 4 26 4 26 1 26-1 26-2 26-3 26-4 26-4 26-6 26-6 26-6 26-6 26-4 26-3 26-3 26-1 26-1 26-1 26-2 26-4 26-6 26-8 26-9 26-14 26-18 10-8 10-9 10-9 10-10 10-11 10-12 10-13 10-15 10-16 10-18 10-19 10-19 10-18 10-18 10-18 10-17 10-16 10-16 10-15 10-15 10-13 10-12 10-10 10-9 10-7 10-7 10-6 10-6 10-6 26-13 26-12 26-13 26-14 26-15 26-13 26-10 26-7 26-6 26-5 26-1 26 8 26 12 26 11 26 8 26 2 26-4 26-6 26-3 26 2 26 7 26 7 26 6 26 2 26 1 26 3 26 9 26 18 26 28 16 20 16 20 16 20 16 19 16 20 16 19 16 18 16 19 16 18 16 18 16 17 16 15 16 14 16 10 16 6 16 2 16-3 16-10 10-11 10-17 10-25 10-32 10-41 10-48 10-56 10-64 10-70 10-74 10-77 10-79 10-82 10-81 10-80 10-78 10-77 10-73 10-69 10-69 10-69 10-72 10-73 10-75 10-74 10-72 10-67 10-62 10-59 10-55 10-53 10-49 10-46 10-42 10-41 10-40 10-41 10-41 10-41 10-41 10-38 10-37 10-35 10-31 10-27 10-25 10-22 10-19 10-16 10-14 10-11 10-10 16-11 16-6 16-4 16-3 16-3 16-4 16-4 16-3 26-6 26-6 26-4 26-5 26-4 26-5 26-7 26-7 26-8 26-7 26-7 26-7 26-4 26-1 26 0 26 6 26 13 26 17 26 15 26 10 26 5 26 2 26-1 26-3 26-5 26-4 26-3 26-2 26 0 26 2 26 3 26 4 26 5 26 8 26 10 26 10 26 12 26 13 26 15 26 19 26 25 26 32 10 14 10 16 10 18 10 20 10 22 10 24 10 27 10 29 10 30 10 32 10 34 10 37 10 38 10 40 10 40 10 40 10 40 10 38 10 38 10 39 10 38 10 39 10 40 10 41 10 41 10 40 10 39 10 36 10 33 10 30 10 25 10 23 10 20 10 16 10 14 10 12 10 10 10 9 10 8 10 7 26 16 26 11 26 8 26 5 26 2 26 0 26-1 26-3 26-4 5-1"/>
<path stroke="#FBB414" d="M704 3372l16 19 16 18 16 17 16 14 16 12 16 9 16 7 16 6 16 6 26 7 26 3 26 2 26 1 26-1 26-2 26-2 26-3 26-4 26-5 26-3 26-4 26-2 26-2 26 0 26-1 26 0 26 0 26-2 26-4 26-4 26-6 26-9 26-14 10-6 10-7 10-8 10-8 10-8 10-10 10-12 10-12 10-15 10-16 10-17 10-18 10-18 10-17 10-17 10-17 10-16 10-17 10-16 10-17 10-15 10-14 10-12 10-11 10-10 10-10 10-9 10-9 10-8 26-20 26-17 26-16 26-15 26-15 26-14 26-10 26-7 26-5 26-4 26 1 26 8 26 14 26 13 26 11 26 6 26 4 26 3 26 6 26 11 26 15 26 14 26 12 26 9 26 6 26 6 26 9 26 14 26 19 16 13 16 13 16 14 16 14 16 13 16 13 16 13 16 13 16 13 16 13 16 13 16 12 16 10 16 8 16 5 16 1 16-3 16-7 10-9 10-14 10-19 10-26 10-32 10-38 10-45 10-49 10-55 10-58 10-63 10-69 10-72 10-72 10-70 10-69 10-68 10-67 10-67 10-68 10-70 10-74 10-77 10-78 10-76 10-73 10-67 10-63 10-58 10-55 10-52 10-49 10-45 10-41 10-40 10-38 10-38 10-38 10-38 10-37 10-38 10-35 10-34 10-30 10-26 10-23 10-19 10-17 10-15 10-12 10-10 10-9 16-12 16-9 16-7 16-7 16-6 16-6 16-7 16-6 26-11 26-11 26-11 26-10 26-12 26-12 26-12 26-14 26-14 26-16 26-16 26-17 26-15 26-11 26-8 26-2 26 6 26 12 26 13 26 10 26 7 26 7 26 6 26 5 26 5 26 6 26 7 26 6 26 6 26 6 26 5 26 4 26 4 26 6 26 7 26 9 26 10 26 11 26 15 26 20 26 25 26 32 10 14 10 16 10 17 10 19 10 20 10 23 10 25 10 26 10 28 10 30 10 31 10 34 10 36 10 37 10 38 10 36 10 36 10 35 10 35 10 36 10 36 10 37 10 39 10 38 10 39 10 38 10 37 10 35 10 33 10 29 10 27 10 23 10 20 10 17 10 14 10 11 10 10 10 9 10 9 10 7 26 16 26 13 26 9 26 6 26 5 26 3 26 2 26 0 26 0 5-1"/>
<path stroke="#A02CBC" d="M704 3281l16 22 16 20 16 16 16 14 16 10 16 7 16 5 16 4 16 2 26 3 26 0 26-3 26-4 26-5 26-7 26-8 26-10 26-10 26-10 26-9 26-8 26-5 26-4 26-3 26-3 26-3 26-3 26-5 26-7 26-9 26-13 26-17 26-24 10-11 10-12 10-12 10-14 10-15 10-16 10-18 10-20 10-23 10-24 10-26 10-27 10-27 10-28 10-28 10-28 10-27 10-27 10-26 10-25 10-23 10-22 10-20 10-18 10-17 10-16 10-15 10-14 10-13 26-30 26-22 26-18 26-11 26-8 26-3 26 2 26 7 26 7 26 8 26 11 26 17 26 19 26 18 26 12 26 5 26 2 26 2 26 6 26 14 26 19 26 20 26 17 26 10 26 6 26 4 26 8 26 22 26 37 16 25 16 25 16 25 16 24 16 23 16 24 16 24 16 23 16 23 16 22 16 20 16 17 16 15 16 11 16 7 16 2 16-5 16-12 10-14 10-21 10-30 10-42 10-52 10-61 10-71 10-81 10-89 10-92 10-88 10-85 10-84 10-83 10-82 10-78 10-74 10-67 10-60 10-56 10-55 10-55 10-58 10-59 10-60 10-58 10-56 10-51 10-47 10-44 10-42 10-37 10-35 10-31 10-29 10-29 10-31 10-30 10-31 10-31 10-29 10-29 10-26 10-24 10-20 10-19 10-15 10-14 10-11 10-10 10-9 10-7 16-8 16-7 16-5 16-4 16-5 16-5 16-5 16-5 26-10 26-8 26-9 26-7 26-8 26-9 26-9 26-10 26-9 26-9 26-8 26-7 26-5 26-2 26 0 26 6 26 13 26 17 26 16 26 10 26 5 26 1 26 0 26-3 26-4 26-3 26-3 26-1 26 2 26 3 26 4 26 5 26 6 26 10 26 11 26 13 26 14 26 15 26 18 26 22 26 27 26 33 10 15 10 15 10 16 10 17 10 18 10 19 10 21 10 22 10 24 10 25 10 26 10 28 10 30 10 32 10 32 10 32 10 32 10 32 10 32 10 33 10 34 10 36 10 38 10 40 10 42 10 41 10 39 10 37 10 33 10 30 10 25 10 23 10 20 10 18 10 14 10 13 10 11 10 9 10 9 10 7 26 16 26 13 26 8 26 6 26 3 26 2 26 0 26-2 26-2 5-1"/>
<path stroke="#52B822" d="M704 3305l16 21 16 19 16 16 16 13 16 11 16 7 16 5 16 4 16 3 26 3 26 0 26-3 26-3 26-5 26-5 26-6 26-8 26-8 26-7 26-7 26-5 26-4 26-3 26-2 26-3 26-4 26-6 26-8 26-11 26-13 26-18 26-23 26-29 10-12 10-14 10-14 10-15 10-16 10-17 10-19 10-20 10-22 10-24 10-25 10-26 10-26 10-26 10-26 10-26 10-25 10-24 10-23 10-22 10-20 10-18 10-17 10-15 10-14 10-13 10-12 10-11 10-10 26-23 26-18 26-14 26-12 26-9 26-7 26-1 26 2 26 3 26 3 26 7 26 13 26 18 26 16 26 11 26 6 26 1 26 2 26 6 26 13 26 20 26 19 26 17 26 10 26 5 26 4 26 8 26 21 26 34 16 24 16 23 16 23 16 22 16 22 16 21 16 22 16 22 16 21 16 21 16 19 16 17 16 14 16 10 16 7 16 2 16-4 16-10 10-12 10-19 10-27 10-38 10-48 10-56 10-65 10-74 10-82 10-84 10-83 10-82 10-82 10-83 10-83 10-82 10-79 10-74 10-68 10-66 10-66 10-66 10-67 10-69 10-69 10-67 10-63 10-58 10-53 10-49 10-46 10-42 10-39 10-35 10-34 10-34 10-34 10-35 10-35 10-35 10-33 10-31 10-28 10-26 10-23 10-21 10-18 10-16 10-14 10-11 10-10 10-8 16-9 16-5 16-4 16-3 16-3 16-3 16-4 16-4 26-6 26-6 26-5 26-5 26-4 26-6 26-7 26-9 26-11 26-10 26-11 26-11 26-9 26-6 26-3 26 2 26 12 26 16 26 15 26 11 26 7 26 4 26 1 26-2 26-3 26-2 26-1 26 0 26 3 26 4 26 5 26 5 26 7 26 9 26 11 26 12 26 13 26 13 26 15 26 19 26 25 26 31 10 14 10 14 10 16 10 16 10 18 10 18 10 21 10 22 10 23 10 24 10 25 10 27 10 29 10 30 10 31 10 32 10 33 10 32 10 33 10 33 10 35 10 36 10 38 10 41 10 43 10 43 10 42 10 38 10 33 10 29 10 25 10 23 10 20 10 17 10 16 10 13 10 11 10 10 10 9 10 8 26 18 26 14 26 11 26 9 26 8 26 5 26 5 26 4 26 3 5 0"/>
<path stroke="#20BAF0" d="M704 3235l16 25 16 21 16 18 16 14 16 10 16 8 16 4 16 3 16 2 26 2 26-1 26-5 26-6 26-7 26-8 26-11 26-13 26-14 26-12 26-12 26-10 26-8 26-5 26-4 26-4 26-5 26-7 26-9 26-12 26-16 26-21 26-27 26-34 10-15 10-16 10-17 10-17 10-19 10-21 10-22 10-24 10-26 10-28 10-29 10-30 10-30 10-31 10-31 10-30 10-29 10-28 10-26 10-24 10-23 10-20 10-19 10-17 10-15 10-14 10-12 10-12 10-10 26-24 26-17 26-14 26-9 26-8 26-5 26 0 26 3 26 4 26 3 26 6 26 11 26 16 26 15 26 9 26 3 26-2 26-1 26 5 26 14 26 21 26 23 26 18 26 11 26 4 26 2 26 7 26 27 26 45 16 31 16 30 16 29 16 29 16 28 16 28 16 29 16 27 16 28 16 26 16 23 16 20 16 16 16 12 16 7 16 2 16-6 16-16 10-16 10-26 10-38 10-52 10-65 10-77 10-89 10-103 10-112 10-114 10-108 10-98 10-94 10-93 10-93 10-89 10-82 10-71 10-61 10-53 10-49 10-47 10-47 10-50 10-52 10-53 10-50 10-46 10-42 10-39 10-35 10-32 10-28 10-26 10-25 10-25 10-26 10-28 10-28 10-27 10-26 10-24 10-23 10-20 10-18 10-16 10-15 10-13 10-11 10-9 10-8 10-6 16-8 16-4 16-3 16-2 16-2 16-3 16-4 16-3 26-5 26-5 26-4 26-3 26-3 26-3 26-6 26-9 26-9 26-9 26-9 26-9 26-8 26-3 26-2 26 4 26 14 26 17 26 16 26 12 26 7 26 3 26-1 26-4 26-6 26-6 26-4 26-2 26 1 26 3 26 3 26 4 26 6 26 8 26 10 26 10 26 11 26 11 26 13 26 16 26 22 26 30 10 13 10 15 10 16 10 18 10 19 10 22 10 23 10 25 10 26 10 28 10 30 10 30 10 33 10 34 10 36 10 36 10 36 10 37 10 36 10 36 10 36 10 38 10 40 10 41 10 43 10 44 10 41 10 38 10 33 10 28 10 24 10 22 10 19 10 16 10 15 10 12 10 11 10 9 10 8 10 7 26 16 26 13 26 10 26 9 26 6 26 6 26 4 26 4 26 3 5 0"/>
<path stroke="#D41440" d="M704 3308l16 23 16 21 16 19 16 16 16 13 16 9 16 8 16 6 16 6 26 6 26 3 26 1 26-2 26-3 26-5 26-6 26-9 26-9 26-9 26-9 26-8 26-6 26-4 26-3 26-2 26-2 26-4 26-5 26-7 26-9 26-13 26-17 26-23 10-10 10-10 10-12 10-12 10-14 10-14 10-17 10-18 10-19 10-22 10-23 10-25 10-24 10-25 10-24 10-25 10-24 10-24 10-23 10-22 10-21 10-19 10-18 10-16 10-15 10-14 10-14 10-12 10-12 26-27 26-21 26-17 26-12 26-10 26-7 26-1 26 2 26 3 26 5 26 8 26 15 26 19 26 19 26 13 26 9 26 6 26 7 26 10 26 18 26 22 26 22 26 19 26 12 26 9 26 6 26 9 26 19 26 27 16 20 16 19 16 18 16 19 16 18 16 18 16 18 16 18 16 17 16 18 16 17 16 14 16 13 16 9 16 6 16 2 16-3 16-11 10-12 10-18 10-27 10-36 10-44 10-53 10-62 10-70 10-77 10-80 10-80 10-81 10-80 10-80 10-79 10-76 10-73 10-67 10-64 10-61 10-61 10-62 10-65 10-66 10-67 10-64 10-60 10-56 10-52 10-48 10-46 10-42 10-39 10-35 10-34 10-33 10-33 10-34 10-34 10-34 10-32 10-32 10-29 10-26 10-23 10-20 10-18 10-15 10-13 10-11 10-9 10-8 16-11 16-7 16-6 16-5 16-6 16-5 16-6 16-6 26-10 26-9 26-9 26-9 26-9 26-10 26-11 26-11 26-13 26-12 26-14 26-13 26-11 26-7 26-5 26 1 26 9 26 14 26 15 26 10 26 8 26 6 26 5 26 4 26 3 26 4 26 4 26 5 26 5 26 6 26 4 26 4 26 3 26 5 26 7 26 7 26 8 26 10 26 13 26 17 26 24 26 32 10 14 10 16 10 18 10 20 10 21 10 24 10 26 10 28 10 29 10 31 10 33 10 35 10 37 10 39 10 39 10 38 10 38 10 37 10 37 10 36 10 38 10 38 10 39 10 39 10 40 10 38 10 38 10 34 10 32 10 27 10 25 10 20 10 18 10 15 10 12 10 10 10 8 10 8 10 6 10 5 26 13 26 9 26 7 26 5 26 2 26 2 26 1 26 0 26-1 5 0"/>
<path stroke="#0A6CD6" d="M704 3278l16 24 16 21 16 18 16 15 16 11 16 9 16 6 16 5 16 4 26 4 26 2 26-1 26-3 26-4 26-5 26-6 26-7 26-8 26-7 26-6 26-5 26-3 26-2 26-2 26-2 26-1 26-3 26-5 26-7 26-9 26-12 26-17 26-23 10-10 10-11 10-12 10-13 10-14 10-15 10-17 10-19 10-20 10-23 10-25 10-25 10-26 10-26 10-27 10-26 10-27 10-26 10-25 10-24 10-23 10-22 10-20 10-19 10-18 10-16 10-16 10-15 10-15 26-34 26-28 26-24 26-19 26-17 26-14 26-8 26-5 26-4 26-2 26 2 26 9 26 14 26 15 26 10 26 7 26 6 26 9 26 14 26 23 26 29 26 29 26 24 26 17 26 11 26 6 26 9 26 20 26 32 16 22 16 22 16 21 16 21 16 20 16 20 16 21 16 20 16 21 16 19 16 18 16 16 16 13 16 9 16 6 16 1 16-4 16-12 10-13 10-20 10-29 10-41 10-51 10-60 10-70 10-80 10-87 10-90 10-88 10-84 10-83 10-83 10-81 10-79 10-73 10-67 10-61 10-56 10-55 10-56 10-57 10-60 10-60 10-60 10-56 10-52 10-49 10-45 10-43 10-40 10-38 10-35 10-34 10-34 10-35 10-36 10-36 10-36 10-35 10-33 10-30 10-28 10-25 10-23 10-20 10-17 10-15 10-13 10-10 10-9 16-10 16-6 16-3 16-2 16-2 16-1 16-1 16-2 26-2 26 0 26-1 26-1 26-1 26-4 26-6 26-9 26-11 26-10 26-11 26-11 26-8 26-6 26-3 26 2 26 11 26 15 26 14 26 10 26 5 26 1 26-1 26-4 26-6 26-5 26-4 26-2 26 0 26 2 26 3 26 3 26 4 26 7 26 9 26 9 26 11 26 12 26 13 26 17 26 24 26 31 10 14 10 16 10 17 10 20 10 22 10 24 10 26 10 28 10 30 10 32 10 34 10 35 10 37 10 39 10 40 10 40 10 39 10 38 10 38 10 38 10 38 10 39 10 40 10 40 10 41 10 41 10 39 10 36 10 33 10 28 10 26 10 21 10 19 10 17 10 14 10 11 10 11 10 8 10 8 10 7 26 15 26 13 26 10 26 9 26 8 26 7 26 6 26 5 26 5 5 0"/>
<path stroke="#FA5A12" d="M704 3317l16 21 16 19 16 17 16 14 16 11 16 8 16 6 16 4 16 4 26 5 26 1 26-1 26-2 26-4 26-5 26-7 26-9 26-10 26-10 26-9 26-8 26-7 26-4 26-3 26-2 26-2 26-3 26-4 26-5 26-7 26-11 26-14 26-20 10-9 10-9 10-11 10-11 10-12 10-13 10-15 10-17 10-18 10-21 10-21 10-22 10-22 10-22 10-22 10-21 10-21 10-20 10-20 10-18 10-18 10-15 10-15 10-12 10-12 10-10 10-10 10-9 10-8 26-20 26-16 26-14 26-12 26-11 26-9 26-4 26-1 26 0 26 1 26 4 26 12 26 17 26 15 26 11 26 5 26-2 26-3 26 0 26 7 26 12 26 12 26 9 26 5 26 2 26 2 26 8 26 19 26 29 16 21 16 20 16 20 16 19 16 19 16 18 16 19 16 19 16 18 16 19 16 17 16 15 16 13 16 10 16 6 16 2 16-4 16-11 10-12 10-19 10-28 10-38 10-47 10-56 10-65 10-75 10-82 10-85 10-86 10-85 10-85 10-86 10-85 10-83 10-80 10-74 10-69 10-67 10-65 10-67 10-67 10-69 10-70 10-68 10-64 10-60 10-55 10-52 10-48 10-46 10-42 10-40 10-37 10-38 10-38 10-39 10-39 10-38 10-37 10-34 10-32 10-29 10-26 10-24 10-20 10-19 10-15 10-14 10-11 10-9 16-11 16-5 16-3 16-3 16-4 16-4 16-4 16-5 26-8 26-6 26-6 26-6 26-5 26-5 26-7 26-9 26-8 26-7 26-5 26-5 26-3 26 1 26 2 26 8 26 15 26 19 26 17 26 10 26 5 26 1 26-2 26-7 26-8 26-8 26-7 26-4 26-2 26 2 26 3 26 4 26 5 26 8 26 10 26 10 26 12 26 12 26 12 26 17 26 23 26 30 10 13 10 16 10 18 10 20 10 22 10 24 10 27 10 29 10 31 10 32 10 34 10 36 10 38 10 39 10 40 10 41 10 40 10 40 10 39 10 39 10 38 10 39 10 40 10 41 10 42 10 41 10 39 10 36 10 31 10 27 10 23 10 20 10 17 10 15 10 12 10 10 10 9 10 7 10 6 10 5 26 12 26 11 26 7 26 6 26 4 26 3 26 3 26 1 26 2 5 0"/>
<path stroke="#FBB414" d="M704 3232l16 23 16 19 16 15 16 11 16 9 16 5 16 2 16 0 16 0 26-1 26-4 26-8 26-7 26-8 26-8 26-11 26-13 26-13 26-11 26-9 26-9 26-6 26-4 26-4 26-4 26-7 26-9 26-11 26-16 26-20 26-26 26-33 26-41 10-18 10-18 10-20 10-21 10-22 10-23 10-25 10-27 10-29 10-31 10-32 10-33 10-33 10-33 10-34 10-33 10-32 10-30 10-28 10-25 10-24 10-21 10-20 10-17 10-16 10-14 10-12 10-11 10-11 26-21 26-14 26-10 26-5 26 0 26 3 26 11 26 13 26 15 26 14 26 16 26 19 26 23 26 19 26 13 26 4 26-1 26-1 26 3 26 13 26 18 26 20 26 16 26 9 26 3 26 1 26 7 26 28 26 47 16 32 16 32 16 31 16 30 16 29 16 30 16 30 16 30 16 28 16 27 16 25 16 20 16 17 16 12 16 8 16 2 16-6 16-13 10-15 10-24 10-36 10-49 10-61 10-72 10-84 10-96 10-106 10-107 10-102 10-93 10-90 10-89 10-89 10-84 10-78 10-68 10-59 10-51 10-48 10-47 10-48 10-49 10-52 10-52 10-49 10-46 10-41 10-37 10-34 10-29 10-25 10-22 10-20 10-21 10-21 10-22 10-22 10-22 10-21 10-19 10-18 10-16 10-14 10-12 10-10 10-8 10-7 10-6 10-5 10-4 16-7 16-5 16-4 16-5 16-5 16-5 16-6 16-7 26-11 26-10 26-10 26-9 26-9 26-8 26-9 26-10 26-10 26-9 26-10 26-9 26-7 26-4 26-1 26 4 26 12 26 17 26 16 26 9 26 4 26-1 26-4 26-8 26-9 26-9 26-7 26-6 26-2 26 2 26 3 26 5 26 5 26 9 26 11 26 11 26 13 26 14 26 15 26 20 26 26 26 33 10 15 10 16 10 18 10 20 10 22 10 23 10 26 10 28 10 30 10 31 10 33 10 35 10 36 10 39 10 39 10 38 10 39 10 38 10 37 10 37 10 38 10 38 10 39 10 40 10 41 10 40 10 38 10 36 10 31 10 27 10 23 10 20 10 17 10 15 10 12 10 10 10 9 10 7 10 6 10 6 26 13 26 13 26 11 26 10 26 9 26 9 26 9 26 9 26 8 5 2"/>
<path stroke="#A02CBC" d="M704 3220l16 26 16 21 16 18 16 14 16 10 16 8 16 4 16 3 16 2 26 2 26 0 26-4 26-5 26-5 26-6 26-8 26-9 26-10 26-8 26-7 26-7 26-3 26-3 26-3 26-4 26-6 26-9 26-12 26-17 26-21 26-27 26-33 26-41 10-18 10-18 10-19 10-21 10-21 10-22 10-24 10-26 10-27 10-29 10-30 10-31 10-31 10-32 10-31 10-31 10-29 10-28 10-25 10-24 10-22 10-20 10-17 10-16 10-14 10-13 10-11 10-11 10-9 26-20 26-15 26-12 26-9 26-7 26-6 26 0 26 2 26 3 26 3 26 6 26 12 26 16 26 15 26 11 26 6 26 2 26 4 26 9 26 18 26 25 26 26 26 21 26 13 26 7 26 4 26 7 26 25 26 41 16 28 16 28 16 26 16 25 16 26 16 25 16 27 16 25 16 26 16 24 16 22 16 18 16 15 16 11 16 7 16 2 16-5 16-13 10-15 10-23 10-35 10-49 10-60 10-72 10-83 10-95 10-105 10-106 10-99 10-92 10-88 10-87 10-85 10-82 10-74 10-64 10-55 10-48 10-45 10-44 10-45 10-47 10-50 10-50 10-48 10-44 10-41 10-38 10-34 10-31 10-28 10-26 10-23 10-24 10-26 10-26 10-27 10-26 10-25 10-24 10-23 10-20 10-17 10-15 10-14 10-11 10-10 10-8 10-6 10-6 16-6 16-4 16-3 16-2 16-2 16-3 16-3 16-3 26-6 26-5 26-5 26-5 26-5 26-6 26-7 26-10 26-11 26-11 26-12 26-12 26-10 26-6 26-4 26 2 26 10 26 16 26 15 26 11 26 6 26 3 26 1 26-1 26-3 26-3 26-1 26 0 26 3 26 3 26 5 26 3 26 4 26 6 26 8 26 8 26 9 26 10 26 12 26 17 26 23 26 31 10 14 10 16 10 18 10 20 10 22 10 25 10 27 10 29 10 31 10 32 10 35 10 36 10 39 10 40 10 40 10 40 10 40 10 39 10 39 10 38 10 38 10 39 10 39 10 40 10 41 10 39 10 38 10 36 10 31 10 28 10 23 10 21 10 18 10 15 10 12 10 10 10 9 10 7 10 7 10 5 26 13 26 11 26 8 26 5 26 4 26 3 26 2 26 2 26 0 5 0"/>
<path stroke="#52B822" d="M704 3347l16 20 16 19 16 17 16 14 16 12 16 8 16 7 16 6 16 6 26 6 26 2 26 1 26 0 26-2 26-2 26-4 26-4 26-5 26-5 26-4 26-4 26-2 26-2 26-1 26-1 26 0 26 0 26-1 26-3 26-3 26-5 26-9 26-13 10-7 10-6 10-8 10-8 10-10 10-10 10-12 10-14 10-15 10-18 10-19 10-19 10-19 10-19 10-19 10-19 10-19 10-19 10-18 10-18 10-18 10-16 10-14 10-13 10-12 10-12 10-11 10-10 10-10 26-25 26-21 26-19 26-18 26-17 26-16 26-13 26-10 26-8 26-6 26-2 26 6 26 12 26 12 26 10 26 7 26 4 26 4 26 7 26 14 26 17 26 17 26 14 26 11 26 7 26 7 26 9 26 15 26 21 16 15 16 14 16 15 16 14 16 15 16 14 16 15 16 14 16 15 16 15 16 14 16 13 16 11 16 8 16 6 16 2 16-2 16-6 10-8 10-13 10-20 10-26 10-34 10-40 10-46 10-51 10-57 10-59 10-63 10-66 10-70 10-71 10-70 10-69 10-68 10-67 10-66 10-67 10-68 10-72 10-74 10-74 10-74 10-69 10-63 10-58 10-53 10-49 10-45 10-42 10-38 10-34 10-33 10-31 10-31 10-31 10-32 10-32 10-31 10-30 10-29 10-25 10-22 10-18 10-16 10-12 10-11 10-9 10-8 10-7 16-9 16-8 16-7 16-7 16-6 16-7 16-7 16-8 26-13 26-14 26-13 26-14 26-14 26-13 26-13 26-12 26-10 26-9 26-9 26-8 26-5 26-2 26 1 26 5 26 11 26 16 26 13 26 8 26 2 26 0 26-1 26-2 26-3 26-2 26-1 26-1 26 0 26 2 26 3 26 2 26 2 26 4 26 6 26 7 26 9 26 11 26 15 26 21 26 27 26 34 10 15 10 17 10 19 10 22 10 25 10 27 10 29 10 32 10 33 10 35 10 38 10 40 10 43 10 44 10 44 10 41 10 41 10 39 10 38 10 38 10 39 10 39 10 39 10 37 10 36 10 35 10 33 10 32 10 30 10 28 10 24 10 21 10 17 10 14 10 10 10 9 10 7 10 6 10 5 10 6 26 12 26 10 26 8 26 4 26 3 26 2 26 2 26 0 26 0 5 0"/>
<path stroke="#20BAF0" d="M704 3255l16 23 16 20 16 16 16 14 16 10 16 7 16 4 16 2 16 2 26 2 26-1 26-4 26-5 26-6 26-6 26-8 26-9 26-9 26-8 26-7 26-5 26-4 26-2 26-3 26-3 26-4 26-7 26-9 26-12 26-16 26-20 26-27 26-33 10-15 10-15 10-16 10-17 10-18 10-20 10-21 10-23 10-25 10-26 10-28 10-29 10-29 10-29 10-29 10-29 10-28 10-27 10-25 10-23 10-22 10-20 10-18 10-17 10-15 10-13 10-13 10-11 10-11 26-23 26-18 26-14 26-9 26-8 26-6 26-1 26 2 26 3 26 4 26 7 26 12 26 16 26 15 26 11 26 6 26 2 26 3 26 8 26 15 26 21 26 21 26 18 26 12 26 7 26 4 26 8 26 21 26 35 16 24 16 23 16 22 16 22 16 21 16 23 16 23 16 22 16 23 16 21 16 20 16 16 16 13 16 10 16 7 16 1 16-2 16-8 10-9 10-17 10-26 10-38 10-47 10-56 10-64 10-74 10-79 10-81 10-77 10-74 10-72 10-72 10-69 10-66 10-61 10-55 10-49 10-45 10-45 10-47 10-50 10-51 10-53 10-51 10-48 10-43 10-40 10-37 10-34 10-29 10-27 10-23 10-21 10-20 10-21 10-22 10-22 10-22 10-23 10-22 10-21 10-18 10-16 10-12 10-10 10-8 10-7 10-5 10-5 10-5 16-7 16-7 16-8 16-8 16-9 16-9 16-10 16-11 26-18 26-19 26-19 26-18 26-17 26-16 26-14 26-12 26-12 26-10 26-11 26-10 26-8 26-4 26-1 26 2 26 11 26 15 26 14 26 8 26 1 26-1 26-3 26-4 26-5 26-4 26-4 26-1 26 0 26 2 26 5 26 5 26 7 26 10 26 13 26 14 26 16 26 19 26 22 26 27 26 32 26 36 10 15 10 16 10 16 10 18 10 18 10 20 10 22 10 22 10 24 10 25 10 26 10 29 10 31 10 33 10 32 10 31 10 31 10 31 10 30 10 32 10 34 10 35 10 37 10 39 10 38 10 39 10 37 10 36 10 34 10 31 10 29 10 25 10 21 10 19 10 15 10 14 10 11 10 10 10 10 10 8 26 17 26 11 26 8 26 3 26 2 26-1 26-2 26-5 26-6 5-2"/>
<path stroke="#D41440" d="M704 3317l16 21 16 18 16 17 16 13 16 11 16 7 16 6 16 4 16 4 26 4 26 1 26-1 26-2 26-3 26-3 26-2 26-4 26-3 26-2 26-2 26-1 26 0 26 1 26 0 26-2 26-4 26-7 26-11 26-15 26-18 26-22 26-27 26-34 10-14 10-15 10-15 10-16 10-16 10-18 10-18 10-20 10-21 10-22 10-24 10-25 10-24 10-24 10-25 10-23 10-23 10-22 10-21 10-20 10-18 10-17 10-15 10-13 10-12 10-11 10-9 10-9 10-9 26-18 26-15 26-12 26-9 26-9 26-6 26-2 26 1 26 1 26 4 26 6 26 13 26 17 26 16 26 13 26 8 26 7 26 8 26 11 26 17 26 22 26 21 26 19 26 13 26 9 26 7 26 9 26 18 26 26 16 18 16 18 16 18 16 18 16 18 16 17 16 18 16 18 16 18 16 17 16 17 16 14 16 12 16 9 16 6 16 2 16-2 16-8 10-9 10-16 10-22 10-31 10-39 10-46 10-53 10-60 10-65 10-67 10-68 10-69 10-69 10-69 10-66 10-63 10-60 10-56 10-53 10-53 10-54 10-58 10-61 10-62 10-63 10-59 10-55 10-51 10-48 10-45 10-42 10-38 10-34 10-32 10-28 10-28 10-28 10-27 10-29 10-28 10-29 10-28 10-26 10-23 10-20 10-16 10-14 10-10 10-9 10-8 10-6 10-6 16-9 16-8 16-8 16-8 16-8 16-8 16-9 16-10 26-16 26-17 26-18 26-18 26-19 26-18 26-17 26-17 26-17 26-17 26-17 26-18 26-15 26-11 26-8 26-3 26 7 26 11 26 13 26 9 26 6 26 7 26 8 26 8 26 9 26 10 26 10 26 9 26 9 26 8 26 5 26 3 26 3 26 4 26 5 26 7 26 8 26 11 26 16 26 21 26 28 26 34 10 16 10 17 10 19 10 21 10 24 10 26 10 28 10 30 10 32 10 34 10 36 10 39 10 42 10 42 10 42 10 41 10 38 10 38 10 37 10 37 10 38 10 39 10 39 10 38 10 36 10 35 10 34 10 34 10 32 10 30 10 28 10 23 10 20 10 16 10 13 10 11 10 9 10 8 10 7 10 7 26 14 26 10 26 6 26 0 26-2 26-3 26-6 26-8 26-9 5-2"/>
<path stroke="#0A6CD6" d="M704 3332l16 18 16 17 16 15 16 12 16 9 16 6 16 4 16 3 16 2 26 2 26-1 26-2 26-3 26-3 26-4 26-4 26-5 26-5 26-4 26-3 26-3 26-1 26-1 26-1 26-2 26-2 26-4 26-6 26-9 26-12 26-14 26-20 26-26 10-11 10-12 10-13 10-13 10-15 10-16 10-17 10-19 10-21 10-23 10-25 10-25 10-26 10-27 10-26 10-26 10-27 10-25 10-25 10-24 10-23 10-21 10-20 10-18 10-17 10-15 10-15 10-14 10-13 26-29 26-24 26-18 26-12 26-6 26 0 26 8 26 13 26 14 26 15 26 17 26 23 26 24 26 21 26 13 26 6 26 2 26 3 26 6 26 13 26 18 26 19 26 15 26 9 26 6 26 5 26 8 26 15 26 22 16 16 16 15 16 15 16 14 16 14 16 14 16 15 16 15 16 15 16 16 16 14 16 13 16 11 16 8 16 5 16 2 16-3 16-9 10-11 10-17 10-25 10-36 10-44 10-53 10-60 10-70 10-76 10-78 10-78 10-78 10-78 10-79 10-79 10-77 10-75 10-70 10-66 10-63 10-64 10-64 10-66 10-68 10-67 10-65 10-61 10-55 10-51 10-46 10-43 10-40 10-35 10-33 10-31 10-31 10-31 10-31 10-32 10-31 10-31 10-29 10-27 10-24 10-21 10-19 10-16 10-13 10-12 10-10 10-8 10-7 16-9 16-6 16-5 16-3 16-4 16-3 16-4 16-4 26-6 26-6 26-5 26-5 26-7 26-7 26-9 26-10 26-11 26-11 26-11 26-12 26-9 26-6 26-4 26 1 26 10 26 14 26 13 26 8 26 2 26 0 26-3 26-5 26-7 26-6 26-4 26-3 26-1 26 2 26 4 26 4 26 6 26 9 26 10 26 12 26 13 26 14 26 17 26 21 26 27 26 33 10 15 10 16 10 19 10 20 10 22 10 24 10 27 10 28 10 30 10 32 10 33 10 36 10 38 10 39 10 40 10 39 10 38 10 38 10 37 10 37 10 37 10 39 10 39 10 39 10 40 10 39 10 38 10 35 10 32 10 29 10 25 10 22 10 19 10 16 10 14 10 11 10 10 10 8 10 8 10 6 26 15 26 12 26 9 26 6 26 4 26 4 26 2 26 1 26 1 5 0"/>
<path stroke="#FA5A12" d="M704 3312l16 23 16 20 16 17 16 15 16 12 16 9 16 7 16 5 16 5 26 6 26 2 26 0 26-2 26-3 26-4 26-5 26-7 26-7 26-7 26-7 26-5 26-5 26-3 26-3 26-3 26-4 26-5 26-8 26-10 26-12 26-16 26-21 26-27 10-11 10-13 10-12 10-14 10-15 10-16 10-17 10-18 10-21 10-22 10-23 10-24 10-24 10-24 10-23 10-24 10-22 10-22 10-21 10-20 10-18 10-17 10-15 10-13 10-12 10-11 10-10 10-10 10-9 26-19 26-15 26-13 26-10 26-9 26-6 26-1 26 2 26 3 26 4 26 7 26 14 26 17 26 17 26 11 26 4 26-2 26-4 26-2 26 5 26 10 26 10 26 8 26 3 26 1 26 2 26 8 26 21 26 34 16 24 16 23 16 23 16 23 16 22 16 22 16 22 16 22 16 21 16 21 16 19 16 17 16 14 16 11 16 7 16 2 16-4 16-10 10-12 10-19 10-27 10-37 10-46 10-54 10-64 10-73 10-79 10-84 10-83 10-83 10-84 10-85 10-83 10-83 10-79 10-74 10-70 10-66 10-66 10-67 10-69 10-69 10-70 10-68 10-63 10-59 10-54 10-50 10-47 10-44 10-40 10-37 10-34 10-35 10-36 10-36 10-35 10-35 10-34 10-32 10-30 10-26 10-24 10-21 10-19 10-16 10-14 10-12 10-9 10-9 16-9 16-6 16-3 16-3 16-3 16-2 16-4 16-3 26-5 26-4 26-3 26-4 26-4 26-5 26-7 26-10 26-10 26-11 26-10 26-11 26-8 26-5 26-3 26 2 26 12 26 15 26 16 26 10 26 6 26 2 26 0 26-3 26-5 26-4 26-3 26-1 26 1 26 3 26 4 26 6 26 7 26 11 26 13 26 14 26 16 26 17 26 18 26 22 26 28 26 34 10 15 10 16 10 18 10 19 10 21 10 23 10 25 10 26 10 29 10 29 10 32 10 33 10 35 10 37 10 37 10 37 10 37 10 37 10 36 10 36 10 37 10 38 10 39 10 40 10 41 10 41 10 39 10 37 10 32 10 29 10 25 10 22 10 19 10 17 10 13 10 12 10 10 10 9 10 8 10 7 26 16 26 12 26 10 26 7 26 5 26 4 26 3 26 2 26 1 5 0"/>
<path stroke="#FBB414" d="M704 3292l16 22 16 19 16 16 16 14 16 10 16 7 16 5 16 3 16 3 26 3 26-1 26-3 26-4 26-6 26-6 26-8 26-9 26-10 26-9 26-8 26-7 26-5 26-3 26-3 26-2 26-2 26-1 26-3 26-3 26-6 26-8 26-13 26-18 10-9 10-10 10-10 10-12 10-13 10-14 10-16 10-19 10-20 10-23 10-24 10-25 10-25 10-26 10-26 10-25 10-26 10-25 10-24 10-23 10-22 10-20 10-19 10-17 10-16 10-15 10-14 10-13 10-13 26-28 26-22 26-18 26-12 26-9 26-6 26-2 26 2 26 3 26 4 26 7 26 13 26 17 26 15 26 11 26 7 26 3 26 4 26 8 26 13 26 19 26 19 26 16 26 11 26 7 26 5 26 9 26 19 26 30 16 21 16 20 16 20 16 20 16 20 16 20 16 20 16 20 16 20 16 19 16 18 16 15 16 13 16 9 16 7 16 1 16-2 16-8 10-9 10-16 10-24 10-33 10-42 10-49 10-56 10-65 10-69 10-72 10-70 10-71 10-71 10-70 10-67 10-65 10-61 10-56 10-52 10-52 10-52 10-55 10-58 10-59 10-60 10-58 10-53 10-48 10-46 10-42 10-39 10-36 10-31 10-28 10-26 10-25 10-24 10-26 10-25 10-26 10-26 10-25 10-24 10-21 10-18 10-14 10-12 10-10 10-7 10-7 10-5 10-5 16-8 16-8 16-8 16-7 16-8 16-7 16-7 16-8 26-14 26-15 26-14 26-15 26-15 26-15 26-14 26-14 26-13 26-13 26-14 26-15 26-11 26-8 26-5 26 0 26 7 26 13 26 13 26 8 26 2 26 2 26 1 26 2 26 1 26 2 26 2 26 3 26 4 26 5 26 4 26 5 26 6 26 8 26 10 26 11 26 13 26 16 26 19 26 25 26 30 26 35 10 14 10 16 10 17 10 20 10 21 10 22 10 25 10 26 10 28 10 29 10 31 10 34 10 37 10 38 10 37 10 36 10 34 10 34 10 34 10 34 10 35 10 37 10 38 10 37 10 37 10 36 10 35 10 34 10 33 10 30 10 28 10 25 10 21 10 17 10 14 10 12 10 11 10 9 10 9 10 8 26 18 26 13 26 10 26 6 26 4 26 3 26 1 26-1 26-2 5 0"/>
<path stroke="#A02CBC" d="M704 3336l16 20 16 19 16 17 16 14 16 11 16 8 16 7 16 5 16 5 26 5 26 2 26 0 26-1 26-2 26-3 26-4 26-4 26-6 26-4 26-4 26-4 26-2 26-2 26-1 26-1 26-2 26-3 26-5 26-7 26-9 26-12 26-16 26-22 10-10 10-10 10-11 10-12 10-12 10-14 10-15 10-17 10-19 10-20 10-22 10-23 10-22 10-23 10-23 10-22 10-22 10-22 10-21 10-20 10-19 10-18 10-16 10-15 10-14 10-12 10-12 10-11 10-11 26-24 26-20 26-16 26-13 26-11 26-8 26-4 26 0 26 1 26 3 26 6 26 12 26 16 26 15 26 11 26 5 26 0 26-2 26 0 26 5 26 9 26 9 26 8 26 4 26 3 26 4 26 9 26 21 26 30 16 22 16 22 16 22 16 21 16 22 16 22 16 21 16 22 16 20 16 20 16 19 16 16 16 14 16 11 16 7 16 3 16-3 16-7 10-9 10-15 10-23 10-30 10-37 10-45 10-51 10-58 10-62 10-66 10-67 10-69 10-70 10-67 10-65 10-61 10-57 10-54 10-51 10-52 10-53 10-57 10-61 10-62 10-63 10-60 10-56 10-52 10-50 10-47 10-46 10-42 10-39 10-36 10-34 10-33 10-33 10-33 10-33 10-34 10-33 10-33 10-31 10-27 10-24 10-20 10-16 10-14 10-11 10-9 10-8 10-7 16-8 16-6 16-5 16-4 16-4 16-3 16-4 16-3 26-7 26-7 26-8 26-9 26-11 26-11 26-12 26-13 26-14 26-15 26-16 26-16 26-15 26-10 26-8 26-3 26 5 26 12 26 11 26 7 26 2 26 0 26-1 26-1 26-1 26 0 26 0 26 1 26 2 26 3 26 5 26 5 26 6 26 9 26 11 26 13 26 15 26 18 26 22 26 28 26 32 26 38 10 15 10 18 10 20 10 22 10 24 10 27 10 28 10 31 10 33 10 34 10 37 10 40 10 42 10 44 10 42 10 40 10 39 10 38 10 36 10 37 10 38 10 38 10 38 10 37 10 34 10 32 10 31 10 29 10 28 10 26 10 23 10 19 10 15 10 11 10 8 10 6 10 5 10 4 10 3 10 4 26 10 26 10 26 7 26 4 26 4 26 3 26 2 26 3 26 2 5 1"/>
<path stroke="#52B822" d="M704 3352l16 18 16 16 16 15 16 13 16 9 16 6 16 5 16 4 16 3 26 3 26 0 26-2 26-2 26-2 26-3 26-4 26-4 26-5 26-4 26-3 26-3 26-1 26-1 26 0 26 1 26 0 26-1 26-2 26-4 26-5 26-8 26-11 26-17 10-8 10-8 10-9 10-9 10-11 10-12 10-13 10-15 10-17 10-19 10-20 10-21 10-22 10-21 10-21 10-22 10-21 10-21 10-21 10-20 10-19 10-18 10-16 10-15 10-14 10-13 10-13 10-12 10-11 26-26 26-22 26-17 26-14 26-10 26-4 26 1 26 5 26 8 26 9 26 12 26 19 26 21 26 19 26 13 26 8 26 5 26 5 26 7 26 13 26 16 26 16 26 14 26 10 26 7 26 7 26 9 26 15 26 21 16 14 16 15 16 15 16 14 16 15 16 14 16 14 16 14 16 15 16 14 16 14 16 12 16 11 16 8 16 4 16 2 16-4 16-9 10-11 10-15 10-23 10-30 10-37 10-43 10-51 10-56 10-62 10-64 10-67 10-70 10-71 10-71 10-68 10-65 10-63 10-61 10-59 10-59 10-62 10-65 10-68 10-70 10-69 10-66 10-61 10-57 10-53 10-51 10-48 10-45 10-41 10-38 10-36 10-34 10-35 10-34 10-35 10-35 10-35 10-34 10-31 10-28 10-25 10-21 10-18 10-15 10-12 10-11 10-10 10-8 16-11 16-8 16-8 16-7 16-7 16-7 16-6 16-8 26-12 26-12 26-12 26-12 26-12 26-13 26-12 26-12 26-10 26-9 26-9 26-7 26-5 26-2 26 1 26 4 26 12 26 16 26 14 26 7 26-1 26-3 26-5 26-6 26-7 26-7 26-5 26-5 26-2 26 1 26 4 26 6 26 7 26 11 26 14 26 16 26 17 26 21 26 24 26 29 26 34 26 39 10 16 10 18 10 20 10 21 10 23 10 26 10 27 10 29 10 31 10 32 10 34 10 37 10 40 10 40 10 40 10 38 10 37 10 36 10 36 10 35 10 37 10 38 10 38 10 37 10 37 10 35 10 34 10 33 10 31 10 30 10 26 10 22 10 19 10 16 10 12 10 10 10 8 10 8 10 7 10 6 26 14 26 11 26 8 26 5 26 3 26 3 26 2 26 0 26-1 5 0"/>
<path stroke="#20BAF0" d="M704 3339l16 20 16 18 16 16 16 13 16 11 16 8 16 5 16 5 16 4 26 5 26 2 26-1 26-1 26-2 26-3 26-3 26-4 26-3 26-4 26-2 26-2 26-1 26-1 26 0 26-1 26-2 26-4 26-6 26-9 26-11 26-14 26-18 26-23 10-11 10-10 10-12 10-12 10-13 10-14 10-15 10-17 10-18 10-20 10-21 10-22 10-22 10-22 10-21 10-22 10-21 10-20 10-20 10-19 10-18 10-16 10-15 10-13 10-12 10-11 10-11 10-10 10-9 26-22 26-17 26-15 26-13 26-10 26-6 26-1 26 2 26 5 26 6 26 9 26 15 26 19 26 16 26 11 26 6 26 0 26-1 26 1 26 6 26 10 26 10 26 8 26 6 26 3 26 5 26 9 26 18 26 27 16 19 16 19 16 19 16 19 16 19 16 20 16 19 16 19 16 19 16 18 16 17 16 16 16 14 16 10 16 8 16 3 16-1 16-6 10-8 10-13 10-20 10-27 10-33 10-40 10-46 10-51 10-56 10-58 10-61 10-63 10-66 10-64 10-61 10-58 10-56 10-53 10-53 10-53 10-57 10-61 10-66 10-67 10-66 10-64 10-59 10-55 10-52 10-50 10-48 10-44 10-41 10-38 10-36 10-35 10-34 10-34 10-35 10-35 10-34 10-34 10-33 10-28 10-25 10-21 10-17 10-15 10-12 10-10 10-9 10-8 16-10 16-9 16-8 16-7 16-8 16-7 16-8 16-8 26-14 26-15 26-15 26-15 26-15 26-15 26-14 26-13 26-11 26-10 26-10 26-9 26-6 26-3 26-1 26 4 26 10 26 15 26 13 26 6 26 0 26-3 26-4 26-4 26-5 26-4 26-4 26-2 26-1 26 2 26 4 26 5 26 7 26 9 26 12 26 13 26 15 26 19 26 22 26 27 26 33 26 36 10 16 10 17 10 18 10 20 10 22 10 23 10 26 10 27 10 28 10 30 10 32 10 35 10 38 10 38 10 38 10 36 10 35 10 34 10 34 10 34 10 36 10 37 10 38 10 37 10 37 10 36 10 35 10 35 10 35 10 32 10 30 10 27 10 23 10 19 10 16 10 13 10 12 10 11 10 10 10 9 26 18 26 10 26 5 26 0 26-2 26-5 26-8 26-10 26-13 5-3"/>
<path stroke="#D41440" d="M704 3254l16 23 16 19 16 16 16 13 16 10 16 7 16 3 16 2 16 2 26 1 26-2 26-4 26-6 26-6 26-7 26-7 26-10 26-9 26-8 26-7 26-6 26-4 26-2 26-2 26-4 26-6 26-9 26-13 26-17 26-21 26-28 26-34 26-42 10-18 10-18 10-20 10-21 10-21 10-23 10-24 10-26 10-28 10-30 10-31 10-32 10-32 10-33 10-33 10-33 10-31 10-30 10-29 10-26 10-24 10-23 10-20 10-19 10-17 10-15 10-15 10-12 10-12 26-26 26-19 26-15 26-8 26-2 26 4 26 12 26 16 26 18 26 19 26 21 26 25 26 27 26 24 26 16 26 10 26 7 26 6 26 11 26 19 26 25 26 24 26 21 26 13 26 8 26 4 26 8 26 19 26 31 16 21 16 20 16 19 16 18 16 19 16 19 16 20 16 20 16 19 16 20 16 18 16 15 16 12 16 9 16 5 16 2 16-4 16-10 10-12 10-20 10-31 10-43 10-54 10-64 10-75 10-84 10-93 10-94 10-88 10-83 10-80 10-79 10-77 10-74 10-67 10-60 10-51 10-47 10-44 10-46 10-47 10-49 10-51 10-51 10-47 10-44 10-40 10-37 10-34 10-31 10-28 10-25 10-23 10-24 10-24 10-25 10-25 10-26 10-25 10-24 10-22 10-20 10-17 10-14 10-13 10-10 10-8 10-6 10-5 10-5 16-5 16-3 16-2 16-2 16-2 16-2 16-2 16-3 26-5 26-6 26-6 26-6 26-8 26-8 26-10 26-10 26-12 26-12 26-13 26-13 26-10 26-8 26-4 26 1 26 9 26 14 26 14 26 10 26 4 26 3 26 1 26 0 26 0 26 0 26 1 26 2 26 3 26 4 26 5 26 5 26 6 26 8 26 11 26 11 26 14 26 15 26 19 26 23 26 29 26 34 10 15 10 16 10 16 10 19 10 19 10 21 10 23 10 24 10 26 10 27 10 29 10 31 10 33 10 34 10 34 10 34 10 34 10 33 10 32 10 34 10 35 10 36 10 38 10 39 10 40 10 39 10 38 10 37 10 33 10 31 10 28 10 25 10 22 10 18 10 16 10 13 10 12 10 10 10 9 10 8 26 18 26 11 26 6 26 1 26-3 26-5 26-8 26-10 26-12 5-2"/>
<path stroke="#0A6CD6" d="M704 3372l16 19 16 18 16 17 16 14 16 12 16 9 16 7 16 6 16 6 26 7 26 3 26 2 26 1 26-1 26-1 26-3 26-3 26-3 26-4 26-3 26-3 26-2 26-1 26-1 26 0 26 0 26-1 26-2 26-4 26-5 26-7 26-10 26-14 10-6 10-7 10-8 10-8 10-9 10-11 10-11 10-13 10-15 10-16 10-18 10-19 10-19 10-19 10-18 10-19 10-18 10-19 10-18 10-19 10-17 10-16 10-15 10-14 10-12 10-12 10-11 10-11 10-11 26-24 26-21 26-18 26-14 26-14 26-11 26-9 26-5 26-3 26 0 26 2 26 11 26 15 26 15 26 12 26 9 26 6 26 7 26 9 26 15 26 17 26 17 26 15 26 11 26 9 26 8 26 10 26 14 26 17 16 13 16 13 16 13 16 13 16 14 16 12 16 13 16 13 16 14 16 13 16 13 16 11 16 11 16 8 16 5 16 1 16-2 16-6 10-8 10-12 10-18 10-24 10-29 10-34 10-40 10-45 10-47 10-51 10-55 10-61 10-64 10-63 10-60 10-58 10-56 10-56 10-57 10-59 10-62 10-68 10-72 10-73 10-72 10-67 10-63 10-59 10-55 10-53 10-50 10-48 10-44 10-42 10-39 10-37 10-38 10-37 10-38 10-38 10-38 10-37 10-35 10-31 10-27 10-23 10-19 10-17 10-13 10-12 10-10 10-8 16-12 16-9 16-7 16-6 16-5 16-5 16-4 16-5 26-8 26-8 26-9 26-9 26-11 26-12 26-11 26-12 26-12 26-13 26-13 26-13 26-11 26-7 26-5 26-1 26 7 26 13 26 11 26 7 26-1 26-3 26-3 26-4 26-4 26-4 26-4 26-2 26 0 26 2 26 4 26 6 26 8 26 12 26 15 26 17 26 19 26 23 26 27 26 31 26 36 26 39 10 16 10 18 10 19 10 21 10 23 10 25 10 27 10 28 10 30 10 32 10 34 10 37 10 40 10 40 10 40 10 37 10 36 10 35 10 34 10 35 10 36 10 38 10 37 10 37 10 34 10 33 10 31 10 30 10 30 10 27 10 25 10 21 10 16 10 13 10 9 10 8 10 6 10 5 10 5 10 5 26 11 26 10 26 8 26 6 26 4 26 4 26 4 26 3 26 3 5 0"/>
<path stroke="#FA5A12" d="M704 3301l16 24 16 21 16 19 16 16 16 13 16 9 16 8 16 6 16 6 26 7 26 3 26 0 26-1 26-3 26-5 26-6 26-7 26-8 26-8 26-7 26-6 26-4 26-4 26-2 26-2 26-2 26-4 26-6 26-8 26-11 26-13 26-19 26-24 10-10 10-12 10-12 10-13 10-13 10-15 10-17 10-18 10-20 10-22 10-23 10-24 10-25 10-25 10-25 10-25 10-24 10-24 10-23 10-23 10-21 10-20 10-18 10-16 10-15 10-15 10-13 10-13 10-12 26-27 26-21 26-17 26-13 26-7 26-2 26 3 26 8 26 10 26 10 26 14 26 18 26 21 26 19 26 12 26 5 26 0 26-1 26 1 26 7 26 12 26 12 26 9 26 6 26 4 26 4 26 9 26 20 26 33 16 22 16 23 16 22 16 23 16 22 16 22 16 22 16 22 16 21 16 21 16 18 16 17 16 14 16 10 16 7 16 2 16-3 16-9 10-11 10-17 10-25 10-34 10-42 10-50 10-57 10-65 10-71 10-73 10-73 10-74 10-72 10-71 10-67 10-62 10-59 10-53 10-50 10-48 10-49 10-53 10-57 10-58 10-59 10-57 10-53 10-50 10-48 10-46 10-43 10-41 10-37 10-34 10-32 10-31 10-31 10-31 10-32 10-33 10-32 10-31 10-29 10-27 10-22 10-20 10-16 10-13 10-11 10-10 10-8 10-7 16-10 16-8 16-8 16-8 16-8 16-8 16-9 16-10 26-16 26-18 26-16 26-17 26-17 26-15 26-14 26-12 26-11 26-10 26-10 26-10 26-6 26-4 26-1 26 4 26 11 26 15 26 14 26 9 26 2 26 1 26 0 26-1 26-1 26-1 26 0 26 1 26 2 26 3 26 5 26 4 26 3 26 5 26 7 26 8 26 9 26 12 26 16 26 21 26 28 26 34 10 15 10 17 10 19 10 22 10 24 10 26 10 29 10 31 10 33 10 34 10 37 10 40 10 42 10 44 10 43 10 42 10 40 10 39 10 38 10 39 10 39 10 40 10 41 10 39 10 38 10 36 10 36 10 34 10 34 10 31 10 28 10 24 10 21 10 17 10 14 10 11 10 10 10 8 10 8 10 7 26 16 26 10 26 5 26 2 26-2 26-3 26-6 26-8 26-9 5-2"/>
<path stroke="#FBB414" d="M704 3217l16 26 16 21 16 16 16 14 16 10 16 7 16 3 16 2 16 1 26 1 26-2 26-5 26-7 26-7 26-7 26-10 26-12 26-12 26-10 26-9 26-8 26-4 26-3 26-3 26-4 26-5 26-7 26-10 26-13 26-17 26-23 26-30 26-37 10-16 10-17 10-18 10-19 10-20 10-22 10-24 10-25 10-28 10-29 10-30 10-32 10-32 10-32 10-33 10-32 10-32 10-29 10-28 10-25 10-24 10-22 10-20 10-19 10-16 10-15 10-14 10-13 10-11 26-26 26-19 26-15 26-9 26-8 26-7 26-1 26 2 26 2 26 3 26 5 26 11 26 16 26 15 26 10 26 7 26 4 26 6 26 13 26 21 26 29 26 29 26 25 26 16 26 9 26 5 26 7 26 24 26 39 16 28 16 26 16 26 16 24 16 24 16 25 16 26 16 25 16 24 16 24 16 22 16 17 16 15 16 10 16 7 16 1 16-4 16-13 10-15 10-22 10-36 10-49 10-61 10-72 10-84 10-97 10-105 10-106 10-99 10-90 10-86 10-85 10-83 10-79 10-72 10-61 10-51 10-45 10-41 10-40 10-42 10-44 10-47 10-46 10-45 10-40 10-38 10-34 10-31 10-27 10-25 10-21 10-21 10-20 10-22 10-23 10-23 10-24 10-22 10-22 10-19 10-18 10-15 10-13 10-11 10-9 10-8 10-6 10-5 10-3 16-5 16-3 16-1 16-2 16-2 16-2 16-3 16-3 26-6 26-5 26-6 26-6 26-6 26-6 26-7 26-9 26-9 26-8 26-9 26-9 26-7 26-4 26-1 26 4 26 12 26 16 26 15 26 9 26 2 26-1 26-5 26-7 26-8 26-8 26-6 26-5 26-2 26 2 26 4 26 5 26 6 26 9 26 12 26 13 26 14 26 15 26 18 26 23 26 27 26 33 10 15 10 15 10 17 10 18 10 19 10 21 10 23 10 24 10 26 10 27 10 28 10 31 10 33 10 34 10 34 10 34 10 34 10 34 10 34 10 34 10 35 10 37 10 38 10 40 10 41 10 40 10 40 10 37 10 33 10 30 10 27 10 24 10 20 10 18 10 15 10 13 10 12 10 10 10 8 10 8 26 17 26 12 26 8 26 5 26 2 26 0 26-1 26-3 26-5 5-1"/>
<path stroke="#A02CBC" d="M704 3250l16 25 16 21 16 18 16 15 16 12 16 8 16 6 16 4 16 3 26 4 26 2 26-2 26-4 26-4 26-4 26-6 26-8 26-8 26-6 26-6 26-6 26-3 26-2 26-2 26-3 26-4 26-7 26-8 26-12 26-16 26-20 26-26 26-32 10-14 10-15 10-16 10-17 10-18 10-19 10-20 10-23 10-24 10-26 10-27 10-28 10-28 10-29 10-29 10-28 10-27 10-27 10-24 10-24 10-22 10-20 10-18 10-16 10-15 10-14 10-13 10-12 10-11 26-25 26-19 26-17 26-12 26-13 26-12 26-9 26-6 26-5 26-5 26 0 26 5 26 12 26 12 26 10 26 7 26 6 26 9 26 14 26 24 26 29 26 30 26 25 26 18 26 10 26 7 26 8 26 21 26 35 16 24 16 23 16 23 16 22 16 21 16 23 16 22 16 23 16 22 16 21 16 19 16 17 16 14 16 10 16 6 16 2 16-3 16-8 10-10 10-17 10-27 10-38 10-48 10-57 10-66 10-76 10-83 10-87 10-85 10-83 10-82 10-81 10-80 10-77 10-72 10-65 10-58 10-54 10-53 10-53 10-56 10-57 10-58 10-57 10-53 10-50 10-45 10-43 10-39 10-35 10-32 10-28 10-27 10-26 10-27 10-28 10-27 10-28 10-27 10-25 10-24 10-21 10-19 10-16 10-13 10-12 10-10 10-8 10-7 10-5 16-8 16-7 16-5 16-6 16-5 16-6 16-7 16-7 26-13 26-12 26-11 26-11 26-11 26-10 26-11 26-10 26-9 26-7 26-5 26-5 26-3 26 1 26 3 26 8 26 14 26 18 26 16 26 9 26 3 26-1 26-2 26-6 26-6 26-6 26-4 26-3 26-1 26 2 26 4 26 5 26 5 26 9 26 10 26 12 26 13 26 15 26 18 26 22 26 28 26 34 10 15 10 17 10 20 10 21 10 25 10 27 10 29 10 32 10 34 10 36 10 37 10 40 10 43 10 44 10 43 10 43 10 42 10 40 10 39 10 39 10 39 10 40 10 39 10 39 10 38 10 37 10 35 10 34 10 31 10 27 10 25 10 21 10 18 10 14 10 12 10 10 10 8 10 7 10 6 10 6 26 13 26 11 26 8 26 5 26 4 26 3 26 1 26 1 26 0 5 0"/>
<path stroke="#52B822" d="M704 3333l16 21 16 18 16 17 16 15 16 11 16 8 16 7 16 5 16 5 26 5 26 2 26 1 26-1 26-2 26-3 26-3 26-5 26-5 26-4 26-4 26-4 26-2 26-1 26-1 26 0 26-2 26-2 26-4 26-7 26-8 26-11 26-14 26-20 10-9 10-9 10-11 10-10 10-12 10-13 10-14 10-16 10-17 10-19 10-21 10-21 10-21 10-20 10-21 10-20 10-20 10-20 10-19 10-18 10-17 10-16 10-14 10-13 10-11 10-11 10-10 10-9 10-9 26-21 26-16 26-14 26-12 26-9 26-9 26-7 26-4 26-2 26 1 26 5 26 9 26 13 26 11 26 11 26 9 26 9 26 8 26 10 26 12 26 14 26 13 26 13 26 13 26 12 26 11 26 13 26 17 26 21 16 15 16 16 16 16 16 17 16 17 16 18 16 18 16 18 16 18 16 16 16 16 16 14 16 12 16 10 16 7 16 4 16 0 16-5 10-7 10-11 10-17 10-23 10-29 10-34 10-40 10-43 10-47 10-49 10-53 10-58 10-61 10-59 10-57 10-53 10-52 10-52 10-51 10-54 10-57 10-62 10-66 10-67 10-66 10-62 10-58 10-53 10-52 10-50 10-48 10-47 10-43 10-41 10-38 10-34 10-30 10-30 10-28 10-26 10-24 10-23 10-19 10-15 10-14 10-14 10-11 10-10 10-8 10-8 10-7 10-6 16-9 16-8 16-7 16-7 16-5 16-5 16-6 16-5 26-11 26-10 26-8 26-10 26-10 26-11 26-12 26-13 26-13 26-13 26-13 26-12 26-9 26-6 26-2 26 1 26 6 26 9 26 8 26 4 26-3 26-4 26-3 26-5 26-4 26-5 26-4 26 1 26 2 26 3 26 4 26 5 26 6 26 9 26 11 26 11 26 10 26 11 26 13 26 8 26 21 26 28 10 12 10 14 10 15 10 17 10 18 10 20 10 21 10 21 10 19 10 19 10 20 10 19 10 23 10 38 10 40 10 37 10 37 10 35 10 34 10 36 10 37 10 38 10 38 10 37 10 36 10 34 10 33 10 34 10 32 10 31 10 29 10 25 10 22 10 19 10 16 10 14 10 11 10 9 10 8 10 8 26 16 26 12 26 9 26 2 26 0 26 0 26-3 26-5 26-8 5-1"/>
<path stroke="#52B822" d="M704 3257l16 23 16 20 16 17 16 13 16 10 16 7 16 4 16 3 16 1 26 2 26-1 26-5 26-5 26-7 26-7 26-10 26-12 26-12 26-11 26-10 26-9 26-7 26-4 26-4 26-4 26-4 26-7 26-8 26-11 26-15 26-20 26-26 26-32 10-14 10-16 10-16 10-17 10-18 10-19 10-21 10-23 10-26 10-26 10-29 10-28 10-30 10-29 10-30 10-29 10-29 10-27 10-25 10-24 10-22 10-20 10-18 10-17 10-15 10-13 10-13 10-11 10-11 26-23 26-17 26-14 26-9 26-6 26-3 26 2 26 6 26 7 26 7 26 10 26 15 26 18 26 17 26 12 26 5 26 0 26 1 26 5 26 12 26 19 26 20 26 16 26 9 26 5 26 2 26 8 26 25 26 40 16 28 16 28 16 26 16 26 16 26 16 26 16 27 16 25 16 26 16 24 16 22 16 19 16 15 16 12 16 7 16 2 16-4 16-11 10-14 10-21 10-31 10-44 10-54 10-64 10-75 10-86 10-93 10-96 10-91 10-87 10-84 10-83 10-81 10-79 10-72 10-64 10-56 10-52 10-49 10-50 10-51 10-53 10-55 10-53 10-51 10-47 10-42 10-40 10-36 10-33 10-29 10-26 10-24 10-24 10-25 10-26 10-26 10-26 10-25 10-24 10-22 10-20 10-18 10-14 10-13 10-11 10-9 10-7 10-7 10-5 16-8 16-6 16-5 16-5 16-5 16-6 16-6 16-6 26-11 26-10 26-10 26-9 26-10 26-9 26-10 26-10 26-10 26-10 26-9 26-10 26-7 26-3 26-1 26 4 26 12 26 16 26 15 26 9 26 2 26-2 26-5 26-8 26-10 26-9 26-8 26-5 26-3 26 1 26 4 26 4 26 6 26 9 26 12 26 12 26 14 26 15 26 17 26 22 26 27 26 34 10 14 10 17 10 17 10 19 10 21 10 23 10 25 10 27 10 28 10 30 10 32 10 33 10 36 10 37 10 37 10 37 10 37 10 36 10 36 10 37 10 36 10 38 10 40 10 40 10 40 10 40 10 39 10 37 10 33 10 29 10 26 10 23 10 19 10 17 10 14 10 12 10 11 10 9 10 8 10 7 26 16 26 11 26 7 26 2 26 0 26-3 26-4 26-6 26-8 5-2"/>
<path stroke="#20BAF0" d="M704 3274l16 22 16 19 16 17 16 13 16 10 16 7 16 4 16 3 16 2 26 2 26 0 26-4 26-4 26-5 26-4 26-5 26-6 26-5 26-4 26-2 26-2 26 0 26 0 26-1 26-2 26-4 26-6 26-9 26-12 26-15 26-19 26-24 26-31 10-13 10-15 10-14 10-16 10-17 10-18 10-19 10-21 10-22 10-25 10-25 10-25 10-26 10-26 10-26 10-25 10-24 10-23 10-22 10-20 10-18 10-17 10-15 10-14 10-12 10-10 10-10 10-9 10-8 26-19 26-15 26-12 26-11 26-11 26-11 26-7 26-6 26-4 26-3 26 1 26 7 26 12 26 13 26 10 26 6 26 3 26 4 26 7 26 15 26 21 26 20 26 18 26 12 26 7 26 6 26 9 26 21 26 34 16 23 16 23 16 22 16 21 16 22 16 22 16 22 16 22 16 22 16 21 16 19 16 17 16 13 16 11 16 7 16 2 16-2 16-9 10-10 10-16 10-26 10-36 10-44 10-53 10-61 10-69 10-75 10-77 10-75 10-74 10-73 10-72 10-70 10-67 10-63 10-57 10-53 10-50 10-51 10-53 10-55 10-58 10-58 10-56 10-52 10-48 10-45 10-42 10-38 10-36 10-31 10-28 10-27 10-26 10-26 10-26 10-27 10-27 10-27 10-26 10-25 10-22 10-19 10-15 10-13 10-11 10-9 10-7 10-7 10-5 16-8 16-8 16-7 16-7 16-7 16-6 16-8 16-8 26-13 26-14 26-14 26-14 26-14 26-15 26-14 26-13 26-14 26-14 26-15 26-14 26-12 26-8 26-5 26 0 26 8 26 13 26 13 26 10 26 5 26 6 26 5 26 5 26 5 26 6 26 6 26 7 26 7 26 6 26 5 26 4 26 4 26 5 26 8 26 8 26 10 26 13 26 16 26 23 26 28 26 34 10 15 10 17 10 18 10 21 10 22 10 24 10 26 10 28 10 30 10 31 10 34 10 36 10 38 10 40 10 39 10 38 10 36 10 36 10 35 10 36 10 37 10 37 10 38 10 38 10 37 10 35 10 34 10 33 10 31 10 28 10 25 10 22 10 18 10 14 10 12 10 9 10 8 10 7 10 6 10 6 26 13 26 11 26 8 26 7 26 5 26 5 26 4 26 3 26 3 5 1"/>
<path stroke="#D41440" d="M704 3298l16 22 16 19 16 16 16 14 16 11 16 7 16 5 16 4 16 3 26 3 26 0 26-3 26-4 26-5 26-7 26-9 26-11 26-12 26-11 26-11 26-9 26-8 26-4 26-4 26-3 26-4 26-6 26-8 26-11 26-14 26-19 26-24 26-31 10-13 10-14 10-15 10-16 10-16 10-19 10-19 10-21 10-24 10-24 10-25 10-26 10-26 10-26 10-25 10-25 10-23 10-22 10-21 10-19 10-17 10-16 10-13 10-12 10-10 10-9 10-8 10-8 10-6 26-14 26-11 26-9 26-8 26-6 26-5 26 0 26 3 26 4 26 5 26 7 26 13 26 17 26 16 26 11 26 6 26 2 26 2 26 5 26 11 26 17 26 17 26 13 26 10 26 5 26 4 26 8 26 19 26 31 16 21 16 21 16 21 16 20 16 21 16 20 16 21 16 21 16 20 16 20 16 18 16 16 16 13 16 10 16 6 16 2 16-2 16-7 10-8 10-15 10-23 10-32 10-41 10-47 10-56 10-62 10-68 10-71 10-70 10-71 10-71 10-71 10-68 10-66 10-62 10-58 10-55 10-53 10-54 10-57 10-59 10-61 10-62 10-58 10-55 10-50 10-46 10-44 10-40 10-36 10-31 10-29 10-26 10-25 10-25 10-26 10-25 10-26 10-26 10-26 10-23 10-21 10-18 10-14 10-12 10-9 10-8 10-6 10-6 10-5 16-8 16-8 16-7 16-7 16-6 16-6 16-6 16-7 26-12 26-11 26-12 26-13 26-13 26-13 26-13 26-13 26-14 26-15 26-18 26-17 26-16 26-12 26-9 26-4 26 6 26 11 26 12 26 8 26 4 26 2 26 2 26 2 26 2 26 3 26 2 26 4 26 4 26 5 26 5 26 5 26 5 26 8 26 10 26 12 26 13 26 16 26 20 26 25 26 30 26 35 10 15 10 16 10 17 10 20 10 21 10 24 10 25 10 27 10 28 10 30 10 33 10 35 10 37 10 38 10 38 10 37 10 35 10 34 10 34 10 35 10 36 10 37 10 37 10 37 10 37 10 35 10 34 10 33 10 32 10 29 10 26 10 23 10 19 10 15 10 13 10 10 10 9 10 8 10 7 10 6 26 15 26 10 26 9 26 5 26 5 26 4 26 3 26 2 26 0 5 0"/>
<path stroke="#0A6CD6" d="M704 3345l16 20 16 19 16 16 16 15 16 11 16 9 16 6 16 6 16 5 26 5 26 3 26 0 26 0 26-3 26-4 26-6 26-9 26-9 26-9 26-9 26-8 26-6 26-5 26-3 26-1 26-1 26-1 26-2 26-3 26-4 26-7 26-9 26-14 10-6 10-7 10-8 10-8 10-9 10-10 10-12 10-13 10-14 10-16 10-18 10-17 10-17 10-17 10-17 10-15 10-16 10-15 10-15 10-14 10-13 10-11 10-10 10-9 10-8 10-6 10-7 10-6 10-6 26-15 26-13 26-12 26-15 26-16 26-16 26-13 26-11 26-10 26-9 26-4 26 4 26 9 26 9 26 8 26 3 26 0 26 0 26 3 26 9 26 14 26 14 26 12 26 8 26 5 26 6 26 9 26 18 26 25 16 19 16 18 16 19 16 18 16 19 16 17 16 18 16 17 16 18 16 17 16 16 16 15 16 12 16 10 16 6 16 3 16-3 16-10 10-11 10-17 10-24 10-31 10-38 10-46 10-54 10-60 10-66 10-70 10-73 10-75 10-77 10-76 10-75 10-72 10-70 10-66 10-65 10-64 10-65 10-69 10-71 10-72 10-72 10-69 10-64 10-60 10-56 10-54 10-51 10-47 10-44 10-41 10-39 10-38 10-38 10-39 10-38 10-38 10-38 10-35 10-34 10-30 10-26 10-23 10-20 10-18 10-14 10-13 10-10 10-9 16-10 16-7 16-6 16-5 16-4 16-5 16-5 16-5 26-9 26-8 26-8 26-8 26-8 26-9 26-9 26-10 26-10 26-9 26-9 26-10 26-7 26-3 26-2 26 4 26 11 26 15 26 14 26 9 26 2 26-1 26-3 26-6 26-6 26-6 26-5 26-4 26-1 26 1 26 4 26 5 26 7 26 11 26 13 26 14 26 17 26 17 26 21 26 24 26 29 26 35 10 14 10 16 10 18 10 18 10 21 10 22 10 24 10 26 10 27 10 29 10 30 10 33 10 35 10 36 10 36 10 36 10 35 10 35 10 34 10 35 10 36 10 37 10 38 10 39 10 40 10 39 10 38 10 35 10 34 10 30 10 26 10 24 10 20 10 18 10 14 10 13 10 10 10 10 10 8 10 8 26 16 26 11 26 9 26 4 26 3 26 1 26 0 26-2 26-4 5-1"/>
<path stroke="#FA5A12" d="M704 3357l16 21 16 19 16 18 16 16 16 12 16 10 16 8 16 7 16 6 26 8 26 4 26 2 26 1 26-1 26-2 26-3 26-4 26-5 26-5 26-5 26-4 26-3 26-2 26-1 26 0 26 0 26 0 26-1 26-2 26-3 26-4 26-7 26-12 10-6 10-6 10-7 10-7 10-9 10-9 10-11 10-13 10-15 10-16 10-17 10-18 10-18 10-17 10-17 10-17 10-17 10-17 10-16 10-17 10-15 10-14 10-13 10-11 10-10 10-10 10-9 10-9 10-8 26-21 26-17 26-16 26-15 26-16 26-13 26-10 26-7 26-6 26-4 26 0 26 9 26 13 26 13 26 11 26 5 26 3 26 1 26 5 26 10 26 14 26 13 26 11 26 8 26 6 26 6 26 9 26 15 26 21 16 14 16 16 16 15 16 15 16 15 16 14 16 15 16 14 16 14 16 15 16 14 16 13 16 11 16 9 16 6 16 2 16-3 16-9 10-11 10-16 10-22 10-29 10-36 10-43 10-50 10-56 10-62 10-66 10-70 10-74 10-76 10-76 10-75 10-72 10-71 10-69 10-67 10-67 10-69 10-72 10-75 10-75 10-75 10-71 10-66 10-61 10-57 10-53 10-51 10-47 10-44 10-40 10-38 10-37 10-37 10-37 10-37 10-37 10-36 10-35 10-32 10-29 10-26 10-22 10-18 10-17 10-13 10-12 10-9 10-9 16-10 16-7 16-6 16-5 16-5 16-5 16-6 16-5 26-10 26-9 26-9 26-10 26-10 26-10 26-11 26-11 26-13 26-13 26-14 26-15 26-12 26-9 26-7 26-1 26 8 26 12 26 14 26 9 26 4 26 2 26 1 26-1 26-1 26-1 26 0 26 2 26 3 26 5 26 6 26 7 26 8 26 12 26 14 26 16 26 16 26 19 26 22 26 26 26 30 26 35 10 15 10 15 10 16 10 16 10 17 10 18 10 19 10 20 10 22 10 22 10 24 10 26 10 27 10 30 10 29 10 29 10 29 10 29 10 30 10 31 10 32 10 35 10 37 10 40 10 40 10 39 10 39 10 36 10 32 10 30 10 26 10 23 10 19 10 17 10 15 10 12 10 11 10 9 10 8 10 8 26 17 26 13 26 10 26 8 26 5 26 5 26 3 26 2 26 1 5 0"/>
<path stroke="#FBB414" d="M704 3296l16 21 16 19 16 15 16 13 16 10 16 7 16 4 16 3 16 3 26 2 26 0 26-3 26-4 26-4 26-4 26-5 26-6 26-6 26-4 26-4 26-2 26-2 26 0 26-2 26-2 26-4 26-7 26-10 26-13 26-17 26-21 26-27 26-33 10-14 10-15 10-16 10-16 10-17 10-18 10-20 10-21 10-22 10-24 10-24 10-25 10-24 10-24 10-24 10-22 10-22 10-20 10-19 10-17 10-15 10-13 10-12 10-9 10-9 10-7 10-6 10-6 10-5 26-11 26-9 26-9 26-11 26-12 26-10 26-6 26-3 26-2 26 0 26 2 26 10 26 14 26 15 26 10 26 7 26 5 26 5 26 11 26 19 26 23 26 24 26 20 26 14 26 8 26 6 26 9 26 18 26 28 16 19 16 19 16 19 16 18 16 17 16 18 16 18 16 17 16 18 16 17 16 16 16 14 16 11 16 8 16 5 16 0 16-6 16-12 10-13 10-20 10-29 10-40 10-49 10-58 10-67 10-77 10-84 10-88 10-86 10-85 10-84 10-84 10-83 10-80 10-77 10-70 10-64 10-61 10-59 10-60 10-61 10-62 10-63 10-61 10-56 10-52 10-47 10-43 10-40 10-37 10-33 10-30 10-29 10-28 10-29 10-29 10-30 10-29 10-29 10-27 10-26 10-23 10-20 10-17 10-16 10-12 10-11 10-10 10-8 10-6 16-9 16-6 16-6 16-5 16-5 16-6 16-6 16-7 26-10 26-11 26-10 26-9 26-10 26-9 26-10 26-10 26-10 26-10 26-9 26-10 26-7 26-3 26-1 26 4 26 12 26 16 26 16 26 10 26 5 26 2 26 0 26-2 26-4 26-3 26-1 26-1 26 2 26 3 26 5 26 5 26 6 26 9 26 12 26 12 26 13 26 15 26 18 26 21 26 27 26 33 10 15 10 15 10 17 10 19 10 19 10 22 10 23 10 26 10 26 10 28 10 30 10 31 10 34 10 35 10 36 10 35 10 35 10 34 10 35 10 34 10 36 10 37 10 39 10 39 10 41 10 40 10 40 10 37 10 35 10 31 10 27 10 25 10 22 10 18 10 16 10 14 10 13 10 10 10 10 10 8 26 18 26 12 26 7 26 4 26 0 26-1 26-4 26-6 26-7 5-2"/>
<path stroke="#A02CBC" d="M704 3307l16 20 16 18 16 15 16 13 16 10 16 7 16 4 16 3 16 3 26 2 26-1 26-2 26-4 26-4 26-4 26-5 26-7 26-7 26-5 26-5 26-4 26-2 26-2 26-1 26-3 26-4 26-6 26-10 26-13 26-16 26-20 26-26 26-33 10-14 10-14 10-15 10-16 10-17 10-18 10-19 10-21 10-22 10-24 10-24 10-25 10-24 10-24 10-23 10-23 10-22 10-20 10-19 10-17 10-16 10-13 10-12 10-10 10-9 10-7 10-7 10-6 10-5 26-13 26-9 26-10 26-11 26-12 26-11 26-7 26-5 26-4 26-3 26 1 26 8 26 13 26 13 26 10 26 8 26 6 26 9 26 13 26 21 26 26 26 26 26 22 26 16 26 11 26 7 26 9 26 14 26 22 16 15 16 14 16 13 16 14 16 13 16 13 16 15 16 14 16 15 16 15 16 14 16 12 16 11 16 7 16 5 16 2 16-2 16-5 10-8 10-13 10-22 10-30 10-38 10-46 10-53 10-59 10-65 10-67 10-67 10-69 10-68 10-68 10-65 10-62 10-58 10-54 10-51 10-50 10-53 10-55 10-59 10-62 10-62 10-60 10-56 10-53 10-50 10-48 10-46 10-42 10-39 10-35 10-34 10-33 10-32 10-34 10-33 10-34 10-33 10-32 10-30 10-27 10-23 10-20 10-17 10-14 10-12 10-11 10-8 10-8 16-10 16-7 16-7 16-5 16-6 16-6 16-6 16-6 26-10 26-11 26-10 26-11 26-11 26-12 26-11 26-12 26-13 26-15 26-16 26-16 26-14 26-11 26-8 26-2 26 6 26 13 26 12 26 9 26 5 26 4 26 4 26 2 26 3 26 2 26 4 26 4 26 5 26 5 26 5 26 4 26 6 26 8 26 11 26 12 26 13 26 16 26 18 26 24 26 29 26 34 10 15 10 15 10 18 10 18 10 21 10 22 10 24 10 25 10 27 10 28 10 30 10 33 10 35 10 35 10 36 10 35 10 33 10 34 10 32 10 34 10 34 10 36 10 37 10 37 10 37 10 36 10 34 10 33 10 31 10 28 10 25 10 21 10 18 10 15 10 12 10 10 10 8 10 8 10 6 10 6 26 14 26 12 26 9 26 7 26 7 26 6 26 6 26 5 26 5 5 0"/>
<path stroke="#52B822" d="M704 3259l16 22 16 20 16 16 16 13 16 10 16 7 16 4 16 2 16 2 26 2 26-2 26-4 26-6 26-5 26-7 26-7 26-10 26-10 26-8 26-7 26-6 26-4 26-2 26-3 26-3 26-6 26-7 26-11 26-13 26-18 26-23 26-29 26-36 10-16 10-16 10-17 10-18 10-20 10-20 10-22 10-24 10-25 10-27 10-28 10-28 10-29 10-28 10-29 10-28 10-26 10-25 10-23 10-22 10-19 10-18 10-15 10-14 10-12 10-11 10-10 10-9 10-8 26-17 26-13 26-12 26-9 26-9 26-7 26-2 26 1 26 2 26 2 26 6 26 11 26 17 26 15 26 11 26 7 26 5 26 8 26 13 26 23 26 29 26 29 26 25 26 16 26 10 26 5 26 8 26 19 26 30 16 21 16 21 16 19 16 18 16 18 16 18 16 19 16 19 16 20 16 19 16 17 16 15 16 12 16 9 16 6 16 2 16-5 16-12 10-14 10-22 10-33 10-45 10-57 10-67 10-78 10-89 10-98 10-100 10-95 10-89 10-87 10-87 10-85 10-83 10-77 10-68 10-61 10-54 10-52 10-52 10-53 10-55 10-57 10-56 10-53 10-49 10-46 10-41 10-39 10-36 10-33 10-30 10-29 10-29 10-30 10-32 10-31 10-31 10-30 10-29 10-26 10-24 10-21 10-19 10-17 10-15 10-12 10-11 10-9 10-8 16-8 16-6 16-3 16-3 16-3 16-4 16-5 16-4 26-7 26-7 26-5 26-5 26-4 26-5 26-6 26-8 26-6 26-3 26-2 26-1 26 1 26 4 26 7 26 11 26 17 26 21 26 17 26 9 26 3 26-1 26-6 26-9 26-11 26-11 26-9 26-7 26-3 26 0 26 3 26 5 26 7 26 11 26 13 26 14 26 15 26 16 26 17 26 21 26 26 26 32 10 14 10 15 10 16 10 17 10 19 10 20 10 22 10 23 10 25 10 27 10 27 10 29 10 31 10 32 10 33 10 34 10 33 10 33 10 33 10 34 10 34 10 35 10 37 10 39 10 41 10 40 10 39 10 36 10 31 10 26 10 23 10 19 10 18 10 15 10 12 10 11 10 9 10 8 10 7 10 6 26 15 26 13 26 12 26 13 26 12 26 13 26 13 26 13 26 13 5 3"/>
<path stroke="#20BAF0" d="M704 3326l16 21 16 18 16 17 16 14 16 11 16 7 16 6 16 5 16 4 26 4 26 1 26-1 26-3 26-4 26-5 26-6 26-7 26-9 26-7 26-7 26-7 26-4 26-3 26-2 26-2 26-1 26-1 26-2 26-3 26-5 26-7 26-11 26-16 10-7 10-9 10-9 10-10 10-11 10-13 10-14 10-16 10-19 10-20 10-22 10-23 10-23 10-23 10-24 10-23 10-23 10-23 10-23 10-22 10-21 10-20 10-18 10-17 10-15 10-15 10-14 10-13 10-12 26-29 26-24 26-19 26-14 26-13 26-9 26-5 26-2 26 0 26 1 26 4 26 11 26 16 26 15 26 11 26 6 26 3 26 2 26 7 26 13 26 19 26 19 26 15 26 11 26 6 26 5 26 9 26 18 26 29 16 19 16 20 16 19 16 19 16 18 16 19 16 18 16 18 16 19 16 18 16 17 16 15 16 12 16 10 16 6 16 2 16-4 16-12 10-13 10-20 10-29 10-38 10-48 10-56 10-66 10-75 10-82 10-85 10-85 10-83 10-82 10-82 10-80 10-78 10-73 10-68 10-62 10-60 10-59 10-60 10-63 10-64 10-64 10-63 10-60 10-55 10-52 10-48 10-46 10-43 10-40 10-37 10-35 10-35 10-35 10-37 10-36 10-36 10-35 10-33 10-31 10-27 10-25 10-22 10-19 10-17 10-14 10-12 10-11 10-8 16-10 16-6 16-4 16-4 16-4 16-5 16-4 16-5 26-8 26-7 26-7 26-7 26-7 26-7 26-9 26-10 26-11 26-11 26-11 26-12 26-9 26-7 26-3 26 1 26 10 26 16 26 14 26 11 26 9 26 7 26 6 26 4 26 3 26 4 26 5 26 5 26 6 26 6 26 4 26 3 26 1 26 4 26 4 26 4 26 5 26 7 26 9 26 14 26 21 26 30 10 14 10 16 10 19 10 21 10 23 10 26 10 29 10 30 10 33 10 35 10 36 10 39 10 40 10 43 10 42 10 42 10 42 10 40 10 39 10 39 10 40 10 39 10 40 10 40 10 39 10 40 10 37 10 36 10 32 10 29 10 25 10 23 10 19 10 16 10 13 10 12 10 10 10 8 10 8 10 7 26 15 26 12 26 9 26 7 26 6 26 5 26 4 26 2 26 2 5 1"/>
<path stroke="#D41440" d="M704 3291l16 23 16 20 16 18 16 14 16 12 16 8 16 6 16 5 16 4 26 5 26 1 26-2 26-3 26-4 26-5 26-7 26-9 26-10 26-9 26-8 26-7 26-5 26-4 26-3 26-2 26-3 26-5 26-6 26-9 26-11 26-15 26-20 26-26 10-12 10-12 10-13 10-14 10-15 10-16 10-18 10-20 10-22 10-23 10-25 10-26 10-26 10-26 10-26 10-27 10-25 10-25 10-24 10-22 10-22 10-20 10-18 10-17 10-15 10-14 10-14 10-12 10-12 26-28 26-23 26-19 26-15 26-15 26-12 26-8 26-5 26-4 26-2 26 2 26 8 26 13 26 13 26 10 26 6 26 5 26 6 26 11 26 19 26 24 26 25 26 21 26 15 26 11 26 9 26 11 26 23 26 35 16 24 16 23 16 22 16 23 16 22 16 22 16 23 16 22 16 22 16 21 16 20 16 17 16 14 16 12 16 8 16 3 16-1 16-7 10-9 10-16 10-24 10-33 10-43 10-49 10-58 10-66 10-71 10-73 10-73 10-72 10-72 10-71 10-69 10-66 10-63 10-58 10-53 10-52 10-53 10-56 10-58 10-60 10-61 10-58 10-54 10-50 10-46 10-44 10-40 10-37 10-33 10-30 10-28 10-28 10-27 10-28 10-29 10-28 10-29 10-27 10-26 10-23 10-20 10-16 10-14 10-12 10-9 10-8 10-7 10-6 16-9 16-7 16-8 16-8 16-8 16-8 16-9 16-10 26-17 26-17 26-17 26-17 26-16 26-15 26-13 26-12 26-11 26-10 26-9 26-9 26-7 26-3 26-1 26 4 26 12 26 15 26 14 26 8 26 2 26-1 26-2 26-3 26-4 26-3 26-3 26-1 26 1 26 3 26 4 26 5 26 7 26 9 26 13 26 13 26 16 26 18 26 21 26 26 26 31 26 35 10 16 10 16 10 18 10 20 10 22 10 24 10 25 10 27 10 29 10 31 10 32 10 35 10 38 10 38 10 38 10 37 10 36 10 35 10 34 10 35 10 36 10 37 10 38 10 38 10 36 10 36 10 34 10 32 10 31 10 27 10 25 10 21 10 17 10 14 10 11 10 9 10 8 10 6 10 6 10 6 26 13 26 10 26 10 26 7 26 7 26 7 26 7 26 6 26 5 5 1"/>
<path stroke="#0A6CD6" d="M704 3329l16 20 16 19 16 17 16 14 16 11 16 8 16 6 16 5 16 4 26 5 26 2 26-1 26-2 26-2 26-3 26-4 26-5 26-4 26-5 26-4 26-3 26-1 26-2 26-1 26-1 26-4 26-6 26-9 26-13 26-15 26-20 26-24 26-30 10-13 10-14 10-14 10-15 10-15 10-16 10-18 10-18 10-20 10-21 10-21 10-22 10-21 10-20 10-20 10-18 10-18 10-16 10-14 10-14 10-11 10-10 10-8 10-7 10-5 10-4 10-3 10-3 10-3 26-6 26-6 26-7 26-12 26-16 26-17 26-15 26-14 26-13 26-10 26-7 26 2 26 9 26 9 26 10 26 6 26 3 26 4 26 6 26 13 26 18 26 18 26 14 26 11 26 7 26 6 26 9 26 19 26 28 16 20 16 20 16 20 16 20 16 19 16 19 16 20 16 19 16 18 16 19 16 17 16 15 16 13 16 10 16 6 16 2 16-2 16-9 10-11 10-16 10-24 10-32 10-40 10-47 10-55 10-61 10-68 10-70 10-72 10-72 10-74 10-74 10-71 10-68 10-66 10-62 10-59 10-59 10-59 10-63 10-65 10-66 10-66 10-64 10-59 10-54 10-51 10-48 10-45 10-41 10-38 10-35 10-32 10-32 10-31 10-32 10-32 10-33 10-31 10-31 10-29 10-26 10-22 10-19 10-16 10-14 10-11 10-10 10-8 10-7 16-9 16-8 16-6 16-6 16-6 16-6 16-6 16-7 26-11 26-11 26-11 26-11 26-12 26-12 26-13 26-12 26-12 26-12 26-13 26-13 26-10 26-6 26-4 26 0 26 9 26 14 26 13 26 9 26 5 26 5 26 4 26 4 26 3 26 5 26 5 26 5 26 5 26 6 26 4 26 3 26 2 26 3 26 4 26 5 26 6 26 8 26 13 26 18 26 25 26 33 10 15 10 16 10 18 10 21 10 22 10 24 10 26 10 28 10 30 10 32 10 33 10 37 10 38 10 40 10 40 10 38 10 38 10 37 10 36 10 37 10 37 10 39 10 40 10 39 10 39 10 38 10 36 10 36 10 33 10 31 10 28 10 25 10 20 10 18 10 14 10 12 10 11 10 9 10 8 10 8 26 16 26 10 26 8 26 4 26 2 26 2 26-1 26-1 26-3 5-1"/>
<path stroke="#FA5A12" d="M704 3247l16 24 16 20 16 16 16 13 16 10 16 7 16 4 16 2 16 1 26 1 26-2 26-5 26-6 26-6 26-8 26-9 26-11 26-11 26-10 26-9 26-8 26-5 26-4 26-3 26-5 26-7 26-9 26-14 26-17 26-22 26-28 26-35 26-43 10-18 10-20 10-20 10-21 10-23 10-24 10-25 10-27 10-30 10-31 10-32 10-34 10-34 10-35 10-34 10-35 10-33 10-32 10-30 10-27 10-26 10-24 10-22 10-20 10-18 10-16 10-15 10-14 10-12 26-28 26-20 26-14 26-8 26-3 26 4 26 11 26 15 26 17 26 17 26 19 26 24 26 26 26 23 26 17 26 9 26 5 26 6 26 12 26 20 26 26 26 26 26 22 26 14 26 7 26 3 26 8 26 24 26 40 16 27 16 27 16 25 16 25 16 24 16 25 16 26 16 24 16 25 16 23 16 21 16 18 16 14 16 11 16 6 16 1 16-6 16-14 10-16 10-24 10-37 10-50 10-62 10-74 10-86 10-98 10-108 10-109 10-103 10-95 10-89 10-88 10-85 10-80 10-72 10-61 10-51 10-44 10-41 10-40 10-42 10-45 10-48 10-48 10-47 10-44 10-41 10-40 10-36 10-33 10-30 10-28 10-25 10-27 10-27 10-28 10-29 10-28 10-27 10-26 10-24 10-22 10-19 10-17 10-15 10-12 10-11 10-10 10-8 10-6 16-8 16-6 16-3 16-4 16-4 16-4 16-5 16-5 26-8 26-8 26-7 26-6 26-6 26-6 26-8 26-9 26-9 26-7 26-6 26-6 26-4 26 0 26 2 26 7 26 15 26 18 26 16 26 11 26 5 26 1 26-1 26-5 26-7 26-5 26-5 26-2 26 0 26 2 26 3 26 4 26 5 26 9 26 9 26 11 26 11 26 13 26 15 26 18 26 24 26 31 10 14 10 15 10 17 10 18 10 20 10 22 10 24 10 25 10 28 10 28 10 30 10 32 10 34 10 35 10 36 10 37 10 36 10 36 10 36 10 36 10 36 10 38 10 39 10 40 10 42 10 43 10 42 10 39 10 35 10 32 10 28 10 26 10 23 10 20 10 17 10 16 10 13 10 12 10 11 10 9 26 19 26 13 26 7 26 4 26 1 26-1 26-4 26-6 26-9 5-1"/>
<path stroke="#FBB414" d="M704 3360l16 21 16 19 16 18 16 16 16 12 16 9 16 8 16 8 16 6 26 8 26 5 26 2 26 1 26-1 26-1 26-2 26-2 26-3 26-4 26-2 26-3 26-1 26-1 26-1 26 0 26-1 26-3 26-4 26-7 26-8 26-9 26-14 26-18 10-8 10-9 10-9 10-9 10-11 10-11 10-13 10-13 10-16 10-17 10-18 10-19 10-18 10-19 10-17 10-18 10-17 10-18 10-17 10-16 10-16 10-14 10-12 10-11 10-10 10-9 10-9 10-8 10-8 26-19 26-16 26-13 26-13 26-13 26-10 26-6 26-4 26-1 26-1 26 4 26 11 26 16 26 15 26 11 26 5 26 0 26-2 26 1 26 6 26 9 26 10 26 7 26 5 26 3 26 4 26 10 26 16 26 22 16 16 16 16 16 16 16 16 16 16 16 16 16 15 16 15 16 15 16 16 16 14 16 14 16 12 16 9 16 6 16 2 16-4 16-11 10-12 10-18 10-25 10-32 10-40 10-48 10-56 10-63 10-68 10-73 10-75 10-78 10-78 10-79 10-76 10-73 10-71 10-68 10-66 10-64 10-66 10-69 10-71 10-72 10-72 10-69 10-65 10-61 10-57 10-54 10-52 10-49 10-45 10-42 10-40 10-40 10-39 10-40 10-40 10-39 10-39 10-37 10-34 10-31 10-28 10-24 10-21 10-18 10-16 10-14 10-11 10-10 16-12 16-7 16-6 16-6 16-5 16-6 16-6 16-6 26-10 26-9 26-9 26-9 26-9 26-9 26-10 26-10 26-11 26-9 26-10 26-9 26-7 26-4 26-1 26 3 26 12 26 16 26 15 26 10 26 5 26 3 26 0 26-1 26-3 26-2 26-2 26 0 26 2 26 3 26 3 26 5 26 5 26 8 26 10 26 11 26 12 26 14 26 16 26 20 26 27 26 32 10 14 10 16 10 18 10 20 10 22 10 23 10 26 10 28 10 30 10 31 10 33 10 35 10 37 10 39 10 39 10 38 10 38 10 37 10 37 10 37 10 37 10 38 10 39 10 40 10 40 10 39 10 37 10 36 10 32 10 29 10 26 10 22 10 19 10 17 10 13 10 12 10 9 10 9 10 7 10 7 26 15 26 12 26 8 26 4 26 3 26 1 26 0 26-2 26-2 5-1"/>
<path stroke="#A02CBC" d="M704 3337l16 19 16 17 16 15 16 13 16 10 16 6 16 5 16 4 16 3 26 3 26 1 26-2 26-2 26-3 26-2 26-4 26-4 26-4 26-3 26-3 26-2 26 0 26 0 26 0 26 0 26 0 26-2 26-3 26-6 26-8 26-10 26-14 26-20 10-8 10-10 10-10 10-10 10-12 10-13 10-14 10-16 10-18 10-20 10-20 10-22 10-21 10-22 10-21 10-22 10-20 10-21 10-20 10-19 10-19 10-17 10-15 10-14 10-12 10-12 10-11 10-11 10-10 26-23 26-19 26-16 26-14 26-12 26-9 26-5 26-1 26 0 26 2 26 5 26 12 26 17 26 15 26 11 26 5 26 1 26 0 26 2 26 9 26 14 26 14 26 11 26 6 26 4 26 4 26 9 26 17 26 26 16 19 16 18 16 18 16 17 16 18 16 17 16 17 16 17 16 17 16 18 16 16 16 14 16 12 16 10 16 6 16 2 16-4 16-11 10-11 10-19 10-26 10-35 10-44 10-52 10-61 10-68 10-76 10-79 10-80 10-80 10-81 10-81 10-79 10-78 10-74 10-69 10-66 10-63 10-63 10-65 10-67 10-68 10-67 10-66 10-61 10-56 10-52 10-49 10-45 10-41 10-38 10-34 10-33 10-31 10-32 10-33 10-33 10-32 10-31 10-31 10-28 10-25 10-23 10-19 10-17 10-15 10-13 10-11 10-9 10-9 16-12 16-10 16-9 16-9 16-9 16-10 16-11 16-11 26-18 26-18 26-16 26-15 26-13 26-13 26-11 26-10 26-9 26-7 26-6 26-5 26-3 26 0 26 3 26 7 26 15 26 18 26 15 26 10 26 3 26-1 26-4 26-6 26-8 26-8 26-7 26-5 26-3 26 0 26 2 26 2 26 3 26 7 26 9 26 9 26 11 26 12 26 14 26 18 26 25 26 31 10 14 10 16 10 17 10 19 10 21 10 23 10 25 10 27 10 29 10 30 10 32 10 34 10 36 10 37 10 38 10 38 10 38 10 37 10 37 10 37 10 38 10 38 10 40 10 41 10 41 10 42 10 39 10 37 10 33 10 30 10 26 10 23 10 20 10 17 10 14 10 12 10 11 10 9 10 8 10 8 26 15 26 13 26 9 26 6 26 4 26 4 26 1 26 1 26-1 5 0"/>
<path stroke="#52B822" d="M704 3278l16 23 16 19 16 17 16 14 16 10 16 8 16 4 16 4 16 2 26 3 26 0 26-3 26-5 26-5 26-7 26-10 26-13 26-13 26-12 26-12 26-11 26-8 26-5 26-5 26-3 26-4 26-4 26-6 26-8 26-11 26-16 26-20 26-28 10-12 10-13 10-14 10-15 10-16 10-18 10-19 10-22 10-24 10-25 10-27 10-27 10-28 10-28 10-28 10-27 10-27 10-26 10-24 10-23 10-21 10-19 10-18 10-16 10-14 10-14 10-12 10-11 10-11 26-23 26-18 26-14 26-11 26-10 26-10 26-6 26-4 26-3 26-3 26 2 26 7 26 12 26 13 26 10 26 6 26 3 26 4 26 8 26 16 26 22 26 23 26 19 26 13 26 7 26 6 26 9 26 24 26 37 16 25 16 25 16 24 16 24 16 24 16 24 16 24 16 24 16 23 16 23 16 21 16 18 16 14 16 12 16 7 16 3 16-2 16-7 10-10 10-16 10-27 10-37 10-46 10-56 10-64 10-75 10-81 10-84 10-83 10-82 10-81 10-81 10-79 10-76 10-72 10-65 10-59 10-55 10-55 10-55 10-57 10-59 10-59 10-59 10-54 10-51 10-46 10-43 10-39 10-35 10-30 10-26 10-24 10-24 10-23 10-24 10-24 10-24 10-23 10-22 10-21 10-18 10-15 10-13 10-10 10-9 10-7 10-6 10-4 10-5 16-7 16-6 16-6 16-5 16-6 16-5 16-6 16-6 26-11 26-10 26-10 26-10 26-11 26-11 26-10 26-11 26-11 26-11 26-10 26-11 26-8 26-4 26-2 26 3 26 12 26 16 26 15 26 11 26 5 26 3 26 1 26 0 26 0 26 0 26 1 26 2 26 3 26 4 26 4 26 5 26 6 26 8 26 11 26 12 26 13 26 16 26 18 26 24 26 29 26 35 10 15 10 16 10 18 10 19 10 22 10 23 10 26 10 27 10 28 10 31 10 32 10 34 10 38 10 38 10 38 10 37 10 36 10 35 10 35 10 35 10 37 10 37 10 38 10 39 10 38 10 37 10 36 10 34 10 32 10 29 10 26 10 23 10 19 10 16 10 13 10 11 10 9 10 8 10 7 10 7 26 15 26 11 26 9 26 5 26 5 26 3 26 3 26 1 26 0 5 0"/>
<path stroke="#20BAF0" d="M704 3290l16 21 16 18 16 16 16 13 16 10 16 6 16 4 16 3 16 2 26 2 26-1 26-4 26-4 26-5 26-5 26-7 26-8 26-8 26-7 26-6 26-5 26-4 26-2 26-2 26-3 26-3 26-6 26-8 26-10 26-14 26-18 26-23 26-30 10-12 10-14 10-15 10-15 10-16 10-18 10-19 10-21 10-23 10-24 10-26 10-26 10-27 10-26 10-27 10-26 10-25 10-25 10-22 10-22 10-20 10-18 10-17 10-15 10-13 10-12 10-11 10-11 10-9 26-22 26-17 26-14 26-10 26-9 26-7 26-2 26 0 26 2 26 3 26 5 26 12 26 15 26 14 26 9 26 4 26 0 26 0 26 4 26 12 26 16 26 18 26 14 26 10 26 5 26 3 26 9 26 24 26 39 16 28 16 27 16 27 16 26 16 26 16 27 16 26 16 25 16 25 16 24 16 21 16 19 16 15 16 12 16 7 16 2 16-3 16-10 10-12 10-18 10-27 10-37 10-47 10-55 10-63 10-73 10-79 10-81 10-81 10-78 10-77 10-75 10-72 10-68 10-63 10-57 10-51 10-48 10-49 10-51 10-54 10-56 10-58 10-57 10-53 10-50 10-48 10-46 10-44 10-40 10-37 10-34 10-33 10-32 10-32 10-32 10-33 10-33 10-33 10-31 10-29 10-26 10-23 10-20 10-17 10-14 10-13 10-10 10-9 10-7 16-10 16-7 16-6 16-5 16-5 16-5 16-5 16-6 26-9 26-10 26-9 26-9 26-9 26-10 26-10 26-10 26-11 26-10 26-11 26-11 26-8 26-5 26-2 26 3 26 11 26 15 26 15 26 11 26 5 26 4 26 3 26 2 26 1 26 2 26 2 26 3 26 4 26 5 26 4 26 5 26 4 26 7 26 8 26 9 26 11 26 13 26 16 26 21 26 27 26 33 10 14 10 16 10 18 10 19 10 21 10 23 10 25 10 27 10 28 10 30 10 32 10 34 10 37 10 38 10 38 10 36 10 36 10 36 10 34 10 35 10 37 10 37 10 38 10 38 10 38 10 37 10 36 10 34 10 31 10 29 10 26 10 22 10 18 10 16 10 13 10 10 10 9 10 8 10 7 10 7 26 14 26 11 26 9 26 5 26 4 26 2 26 2 26 0 26 0 5 0"/>
<path stroke="#D41440" d="M704 3344l16 19 16 17 16 15 16 13 16 10 16 7 16 5 16 4 16 4 26 3 26 1 26-1 26-2 26-3 26-3 26-4 26-5 26-5 26-5 26-4 26-4 26-2 26-1 26-1 26 0 26 0 26 0 26-2 26-2 26-4 26-6 26-9 26-15 10-6 10-8 10-8 10-9 10-10 10-11 10-13 10-15 10-17 10-18 10-20 10-21 10-20 10-21 10-20 10-20 10-20 10-20 10-19 10-19 10-18 10-17 10-15 10-13 10-13 10-12 10-11 10-11 10-10 26-24 26-21 26-17 26-16 26-16 26-13 26-9 26-5 26-4 26-2 26 1 26 9 26 15 26 14 26 11 26 6 26 3 26 3 26 7 26 14 26 18 26 19 26 15 26 11 26 7 26 6 26 10 26 17 26 26 16 17 16 18 16 17 16 17 16 17 16 16 16 16 16 17 16 16 16 16 16 16 16 14 16 12 16 9 16 6 16 2 16-5 16-13 10-14 10-21 10-29 10-38 10-48 10-56 10-65 10-74 10-80 10-85 10-84 10-84 10-83 10-83 10-81 10-78 10-74 10-69 10-65 10-62 10-62 10-64 10-65 10-68 10-67 10-66 10-62 10-58 10-54 10-51 10-49 10-46 10-43 10-39 10-38 10-38 10-38 10-39 10-39 10-38 10-37 10-35 10-33 10-30 10-26 10-24 10-20 10-18 10-16 10-13 10-11 10-9 16-11 16-6 16-4 16-3 16-4 16-3 16-4 16-4 26-6 26-6 26-6 26-5 26-6 26-6 26-8 26-10 26-11 26-10 26-11 26-10 26-9 26-5 26-2 26 2 26 11 26 16 26 15 26 10 26 6 26 4 26 1 26-1 26-2 26-2 26-1 26 0 26 3 26 3 26 4 26 4 26 4 26 7 26 9 26 10 26 10 26 12 26 14 26 18 26 24 26 31 10 14 10 16 10 17 10 19 10 21 10 23 10 25 10 27 10 29 10 30 10 32 10 33 10 36 10 38 10 38 10 37 10 38 10 37 10 37 10 37 10 37 10 39 10 40 10 40 10 41 10 41 10 40 10 37 10 33 10 29 10 25 10 23 10 19 10 17 10 14 10 13 10 10 10 9 10 8 10 8 26 16 26 13 26 11 26 7 26 6 26 5 26 4 26 2 26 1 5 1"/>
<path stroke="#0A6CD6" d="M704 3279l16 23 16 21 16 17 16 14 16 12 16 7 16 6 16 4 16 3 26 3 26 1 26-3 26-4 26-5 26-7 26-8 26-12 26-12 26-12 26-10 26-10 26-7 26-5 26-4 26-3 26-4 26-4 26-7 26-8 26-11 26-16 26-20 26-27 10-12 10-12 10-14 10-14 10-16 10-16 10-19 10-20 10-22 10-24 10-25 10-26 10-26 10-27 10-26 10-26 10-25 10-23 10-23 10-22 10-19 10-19 10-16 10-15 10-13 10-12 10-12 10-10 10-10 26-21 26-17 26-14 26-11 26-10 26-7 26-3 26 1 26 1 26 2 26 5 26 11 26 15 26 14 26 10 26 4 26 1 26 1 26 6 26 13 26 18 26 20 26 16 26 10 26 6 26 4 26 8 26 22 26 35 16 24 16 24 16 24 16 22 16 23 16 23 16 24 16 23 16 22 16 22 16 20 16 17 16 14 16 11 16 7 16 3 16-3 16-11 10-11 10-19 10-29 10-39 10-49 10-58 10-67 10-76 10-84 10-85 10-83 10-80 10-79 10-76 10-74 10-70 10-64 10-58 10-51 10-48 10-48 10-49 10-52 10-55 10-56 10-54 10-52 10-48 10-45 10-43 10-40 10-38 10-33 10-31 10-29 10-29 10-29 10-30 10-30 10-30 10-30 10-28 10-27 10-24 10-21 10-18 10-15 10-13 10-11 10-9 10-8 10-7 16-8 16-7 16-6 16-6 16-6 16-6 16-7 16-7 26-12 26-12 26-11 26-12 26-12 26-13 26-12 26-13 26-13 26-13 26-14 26-13 26-11 26-8 26-4 26 0 26 10 26 14 26 14 26 9 26 5 26 3 26 1 26 0 26-1 26 0 26 1 26 1 26 4 26 5 26 5 26 5 26 7 26 9 26 12 26 12 26 14 26 16 26 19 26 23 26 28 26 34 10 15 10 16 10 17 10 18 10 19 10 21 10 23 10 24 10 26 10 27 10 28 10 31 10 33 10 34 10 34 10 34 10 34 10 33 10 33 10 33 10 35 10 37 10 38 10 39 10 39 10 39 10 38 10 35 10 32 10 29 10 26 10 23 10 19 10 16 10 14 10 12 10 9 10 9 10 8 10 7 26 15 26 11 26 8 26 5 26 2 26 1 26 0 26-2 26-2 5-1"/>
<path stroke="#FA5A12" d="M704 3255l16 22 16 19 16 15 16 13 16 8 16 6 16 3 16 1 16 1 26 0 26-3 26-6 26-7 26-7 26-8 26-9 26-12 26-11 26-10 26-9 26-8 26-5 26-4 26-3 26-4 26-3 26-4 26-5 26-7 26-10 26-15 26-19 26-27 10-12 10-13 10-14 10-15 10-16 10-19 10-20 10-22 10-25 10-27 10-28 10-30 10-30 10-31 10-32 10-32 10-31 10-30 10-29 10-27 10-26 10-25 10-23 10-21 10-19 10-18 10-17 10-16 10-15 26-33 26-25 26-18 26-10 26-5 26-1 26 5 26 8 26 10 26 11 26 12 26 17 26 20 26 18 26 12 26 6 26 2 26 3 26 8 26 15 26 21 26 22 26 18 26 12 26 6 26 5 26 8 26 22 26 37 16 25 16 25 16 24 16 23 16 23 16 24 16 25 16 23 16 24 16 23 16 20 16 17 16 14 16 11 16 6 16 2 16-3 16-8 10-9 10-17 10-27 10-38 10-47 10-57 10-65 10-74 10-81 10-82 10-79 10-75 10-75 10-73 10-72 10-68 10-64 10-57 10-50 10-48 10-46 10-49 10-50 10-53 10-54 10-53 10-49 10-45 10-41 10-38 10-35 10-32 10-28 10-25 10-23 10-22 10-23 10-24 10-24 10-25 10-24 10-24 10-22 10-20 10-17 10-14 10-11 10-10 10-7 10-7 10-6 10-5 16-7 16-7 16-7 16-6 16-6 16-5 16-6 16-7 26-10 26-11 26-11 26-11 26-12 26-11 26-12 26-12 26-12 26-13 26-13 26-14 26-12 26-8 26-5 26 0 26 9 26 13 26 14 26 9 26 4 26 2 26 2 26 1 26 0 26 1 26 2 26 3 26 4 26 4 26 5 26 5 26 5 26 8 26 10 26 11 26 13 26 15 26 19 26 24 26 30 26 35 10 15 10 17 10 18 10 20 10 23 10 24 10 27 10 28 10 30 10 32 10 33 10 37 10 39 10 40 10 40 10 38 10 38 10 36 10 36 10 36 10 38 10 38 10 39 10 39 10 37 10 37 10 36 10 34 10 33 10 30 10 27 10 24 10 20 10 17 10 13 10 11 10 10 10 8 10 8 10 7 26 15 26 11 26 7 26 3 26 2 26 0 26-2 26-3 26-5 5-1"/>
<path stroke="#FBB414" d="M704 3302l16 22 16 19 16 17 16 13 16 11 16 8 16 5 16 5 16 3 26 4 26 1 26-2 26-3 26-4 26-5 26-6 26-8 26-8 26-7 26-7 26-6 26-4 26-3 26-3 26-2 26-4 26-6 26-8 26-10 26-14 26-17 26-22 26-29 10-12 10-13 10-14 10-15 10-16 10-16 10-19 10-20 10-21 10-24 10-25 10-25 10-26 10-26 10-25 10-26 10-24 10-24 10-23 10-21 10-20 10-19 10-16 10-15 10-14 10-12 10-11 10-11 10-10 26-22 26-18 26-14 26-11 26-8 26-5 26 0 26 3 26 5 26 6 26 9 26 14 26 18 26 16 26 11 26 6 26 2 26 2 26 5 26 12 26 16 26 17 26 14 26 9 26 6 26 4 26 9 26 21 26 32 16 22 16 22 16 22 16 22 16 21 16 22 16 21 16 22 16 21 16 21 16 19 16 16 16 14 16 10 16 7 16 3 16-3 16-9 10-11 10-17 10-27 10-35 10-45 10-52 10-62 10-69 10-75 10-78 10-77 10-76 10-75 10-74 10-70 10-68 10-62 10-57 10-52 10-50 10-50 10-53 10-55 10-57 10-58 10-56 10-52 10-48 10-45 10-43 10-39 10-36 10-33 10-29 10-28 10-26 10-27 10-27 10-28 10-28 10-28 10-27 10-26 10-22 10-20 10-16 10-13 10-12 10-9 10-8 10-6 10-6 16-8 16-8 16-8 16-9 16-9 16-9 16-11 16-11 26-19 26-20 26-20 26-19 26-18 26-17 26-14 26-12 26-11 26-11 26-10 26-10 26-8 26-4 26-1 26 3 26 12 26 16 26 15 26 10 26 5 26 3 26 2 26 1 26 0 26 1 26 1 26 2 26 3 26 4 26 5 26 4 26 5 26 7 26 9 26 10 26 12 26 14 26 18 26 24 26 29 26 34 10 16 10 17 10 19 10 21 10 24 10 27 10 28 10 31 10 32 10 35 10 36 10 40 10 42 10 43 10 42 10 41 10 39 10 38 10 38 10 37 10 38 10 39 10 39 10 37 10 36 10 33 10 32 10 31 10 28 10 26 10 23 10 19 10 15 10 11 10 8 10 7 10 5 10 4 10 4 10 4 26 10 26 10 26 9 26 5 26 5 26 5 26 5 26 5 26 4 5 1"/>
<path stroke="#A02CBC" d="M704 3349l16 21 16 19 16 18 16 16 16 12 16 9 16 7 16 7 16 6 26 7 26 3 26 2 26 0 26-2 26-2 26-4 26-6 26-6 26-6 26-6 26-5 26-4 26-3 26-1 26-1 26-1 26-1 26-2 26-4 26-5 26-7 26-10 26-14 10-7 10-7 10-8 10-8 10-9 10-10 10-12 10-13 10-15 10-16 10-17 10-18 10-17 10-17 10-17 10-16 10-16 10-16 10-15 10-15 10-14 10-12 10-11 10-10 10-9 10-8 10-7 10-7 10-7 26-17 26-15 26-14 26-15 26-20 26-23 26-24 26-22 26-22 26-20 26-15 26-5 26 4 26 7 26 8 26 8 26 7 26 10 26 15 26 22 26 26 26 27 26 22 26 17 26 13 26 9 26 11 26 16 26 23 16 16 16 16 16 16 16 15 16 15 16 15 16 15 16 15 16 15 16 14 16 15 16 13 16 12 16 9 16 5 16 3 16-4 16-12 10-12 10-19 10-26 10-33 10-42 10-50 10-57 10-65 10-71 10-74 10-77 10-77 10-79 10-77 10-76 10-73 10-70 10-66 10-63 10-63 10-63 10-66 10-69 10-70 10-70 10-68 10-63 10-59 10-56 10-53 10-51 10-48 10-45 10-41 10-40 10-39 10-39 10-40 10-40 10-40 10-38 10-37 10-35 10-31 10-28 10-25 10-21 10-19 10-16 10-14 10-12 10-10 16-12 16-9 16-7 16-6 16-6 16-6 16-7 16-7 26-11 26-10 26-9 26-10 26-9 26-9 26-10 26-10 26-10 26-10 26-10 26-10 26-7 26-4 26-1 26 3 26 11 26 16 26 15 26 9 26 4 26 2 26-1 26-4 26-5 26-4 26-4 26-2 26-1 26 2 26 2 26 3 26 4 26 6 26 9 26 9 26 10 26 12 26 14 26 18 26 25 26 31 10 14 10 16 10 19 10 20 10 23 10 25 10 28 10 29 10 32 10 33 10 35 10 38 10 39 10 41 10 41 10 41 10 40 10 39 10 39 10 38 10 38 10 39 10 40 10 39 10 40 10 39 10 37 10 34 10 32 10 27 10 25 10 20 10 18 10 15 10 12 10 10 10 9 10 7 10 7 10 6 26 13 26 11 26 9 26 5 26 4 26 3 26 2 26 1 26 0 5 0"/>
<path stroke="#52B822" d="M704 3312l16 23 16 20 16 18 16 15 16 11 16 9 16 7 16 5 16 5 26 6 26 2 26 0 26-2 26-4 26-4 26-7 26-8 26-9 26-9 26-9 26-7 26-6 26-4 26-3 26-2 26-1 26-3 26-3 26-6 26-8 26-10 26-15 26-20 10-9 10-10 10-11 10-12 10-12 10-14 10-16 10-17 10-20 10-21 10-22 10-23 10-23 10-23 10-22 10-23 10-22 10-21 10-21 10-20 10-18 10-17 10-15 10-14 10-13 10-11 10-11 10-10 10-10 26-22 26-17 26-15 26-13 26-12 26-11 26-6 26-3 26-2 26-1 26 3 26 10 26 15 26 14 26 11 26 6 26 5 26 5 26 9 26 17 26 22 26 22 26 19 26 13 26 8 26 5 26 9 26 18 26 27 16 18 16 19 16 18 16 18 16 17 16 17 16 18 16 17 16 17 16 17 16 16 16 14 16 12 16 9 16 6 16 1 16-4 16-11 10-13 10-18 10-28 10-36 10-46 10-54 10-63 10-71 10-79 10-82 10-83 10-83 10-84 10-83 10-83 10-80 10-77 10-72 10-67 10-65 10-64 10-66 10-67 10-68 10-68 10-66 10-62 10-58 10-53 10-49 10-47 10-42 10-39 10-36 10-35 10-33 10-34 10-35 10-35 10-34 10-33 10-31 10-30 10-26 10-23 10-20 10-18 10-16 10-13 10-11 10-9 10-8 16-9 16-6 16-4 16-3 16-3 16-3 16-2 16-3 26-4 26-4 26-3 26-4 26-4 26-6 26-8 26-10 26-11 26-12 26-13 26-14 26-11 26-8 26-6 26 0 26 10 26 14 26 14 26 11 26 6 26 4 26 3 26 0 26-1 26-1 26 1 26 2 26 3 26 4 26 4 26 4 26 5 26 8 26 10 26 11 26 11 26 13 26 15 26 19 26 25 26 31 10 14 10 15 10 17 10 18 10 19 10 22 10 24 10 25 10 27 10 28 10 30 10 32 10 34 10 35 10 36 10 36 10 35 10 36 10 35 10 35 10 36 10 37 10 39 10 40 10 41 10 41 10 39 10 37 10 33 10 29 10 26 10 23 10 20 10 17 10 14 10 13 10 11 10 9 10 8 10 8 26 16 26 12 26 7 26 3 26 0 26-1 26-4 26-6 26-6 5-2"/>
<path stroke="#20BAF0" d="M704 3325l16 20 16 18 16 15 16 13 16 10 16 7 16 5 16 3 16 4 26 3 26 0 26-2 26-3 26-3 26-3 26-5 26-6 26-6 26-5 26-4 26-3 26-2 26-1 26 0 26 0 26-1 26-1 26-2 26-4 26-6 26-9 26-13 26-18 10-8 10-9 10-10 10-10 10-12 10-13 10-14 10-16 10-19 10-20 10-22 10-22 10-24 10-23 10-23 10-24 10-23 10-23 10-23 10-22 10-20 10-20 10-18 10-17 10-15 10-15 10-14 10-13 10-12 26-29 26-23 26-18 26-13 26-11 26-8 26-3 26 0 26 2 26 3 26 7 26 13 26 18 26 17 26 12 26 8 26 6 26 5 26 9 26 15 26 20 26 20 26 16 26 12 26 7 26 6 26 9 26 16 26 23 16 17 16 16 16 15 16 16 16 15 16 16 16 15 16 16 16 16 16 16 16 15 16 13 16 11 16 9 16 5 16 2 16-2 16-9 10-10 10-16 10-23 10-33 10-40 10-48 10-55 10-63 10-68 10-71 10-72 10-72 10-74 10-73 10-70 10-68 10-65 10-61 10-57 10-56 10-58 10-60 10-64 10-65 10-64 10-63 10-58 10-54 10-50 10-48 10-45 10-42 10-39 10-35 10-34 10-33 10-34 10-34 10-34 10-34 10-34 10-33 10-31 10-28 10-24 10-21 10-19 10-15 10-14 10-12 10-10 10-9 16-12 16-10 16-9 16-9 16-9 16-9 16-10 16-10 26-17 26-17 26-15 26-15 26-14 26-13 26-13 26-11 26-8 26-7 26-5 26-4 26-1 26 2 26 4 26 8 26 15 26 18 26 15 26 8 26 2 26-1 26-3 26-5 26-6 26-6 26-5 26-3 26-2 26 1 26 3 26 4 26 5 26 8 26 10 26 11 26 13 26 15 26 17 26 22 26 28 26 33 10 15 10 16 10 17 10 19 10 21 10 23 10 25 10 27 10 28 10 30 10 31 10 34 10 36 10 38 10 37 10 37 10 36 10 35 10 36 10 35 10 36 10 38 10 38 10 39 10 39 10 39 10 38 10 37 10 34 10 31 10 28 10 26 10 21 10 19 10 16 10 14 10 11 10 11 10 9 10 9 26 17 26 12 26 7 26 4 26 2 26 0 26-1 26-5 26-6 5-1"/>
<path stroke="#D41440" d="M704 3219l16 26 16 21 16 17 16 14 16 10 16 8 16 3 16 2 16 2 26 1 26-2 26-6 26-7 26-7 26-9 26-11 26-14 26-15 26-12 26-12 26-11 26-7 26-5 26-5 26-4 26-7 26-9 26-11 26-16 26-20 26-26 26-33 26-41 10-17 10-19 10-20 10-20 10-22 10-23 10-25 10-27 10-29 10-31 10-32 10-32 10-34 10-33 10-34 10-33 10-32 10-30 10-28 10-26 10-24 10-22 10-20 10-17 10-17 10-14 10-13 10-12 10-11 26-23 26-17 26-13 26-8 26-5 26-2 26 4 26 7 26 8 26 8 26 10 26 15 26 19 26 18 26 12 26 6 26 4 26 6 26 12 26 23 26 30 26 31 26 26 26 17 26 8 26 4 26 7 26 23 26 41 16 27 16 27 16 25 16 24 16 23 16 25 16 25 16 24 16 24 16 24 16 21 16 17 16 14 16 11 16 6 16 1 16-6 16-15 10-17 10-25 10-39 10-53 10-67 10-79 10-92 10-105 10-116 10-118 10-109 10-100 10-94 10-95 10-93 10-91 10-82 10-71 10-59 10-51 10-47 10-44 10-43 10-47 10-49 10-50 10-47 10-44 10-39 10-36 10-32 10-29 10-25 10-23 10-21 10-22 10-23 10-25 10-25 10-24 10-23 10-22 10-19 10-18 10-16 10-14 10-13 10-11 10-10 10-8 10-6 10-6 16-7 16-4 16-3 16-2 16-2 16-2 16-3 16-3 26-5 26-3 26-3 26-2 26-2 26-2 26-5 26-8 26-8 26-7 26-8 26-7 26-5 26-2 26 1 26 6 26 14 26 18 26 17 26 11 26 5 26 1 26-4 26-8 26-9 26-10 26-7 26-5 26-2 26 1 26 3 26 4 26 5 26 9 26 9 26 10 26 11 26 11 26 12 26 16 26 23 26 29 10 13 10 15 10 17 10 18 10 19 10 21 10 24 10 25 10 27 10 28 10 30 10 31 10 33 10 34 10 36 10 37 10 36 10 37 10 36 10 36 10 37 10 38 10 40 10 41 10 43 10 44 10 41 10 38 10 33 10 28 10 24 10 22 10 19 10 16 10 15 10 12 10 11 10 9 10 8 10 7 26 16 26 13 26 10 26 9 26 6 26 6 26 4 26 4 26 3 5 0"/>
<path stroke="#0A6CD6" d="M704 3356l16 21 16 19 16 17 16 15 16 12 16 9 16 8 16 7 16 6 26 7 26 4 26 2 26 1 26-1 26-1 26-2 26-2 26-3 26-3 26-3 26-2 26-1 26-1 26 0 26 0 26 0 26-2 26-2 26-5 26-5 26-7 26-11 26-15 10-7 10-7 10-8 10-9 10-9 10-10 10-12 10-13 10-15 10-16 10-18 10-18 10-18 10-17 10-17 10-16 10-17 10-16 10-16 10-16 10-14 10-14 10-12 10-10 10-9 10-9 10-8 10-8 10-8 26-19 26-16 26-14 26-15 26-18 26-19 26-17 26-14 26-14 26-12 26-7 26 2 26 8 26 10 26 10 26 7 26 5 26 5 26 9 26 15 26 20 26 20 26 16 26 12 26 9 26 7 26 10 26 16 26 21 16 15 16 15 16 15 16 15 16 14 16 15 16 14 16 14 16 14 16 14 16 14 16 13 16 12 16 8 16 6 16 2 16-2 16-9 10-11 10-15 10-22 10-29 10-36 10-43 10-51 10-56 10-62 10-67 10-70 10-75 10-77 10-78 10-76 10-74 10-73 10-71 10-69 10-69 10-71 10-73 10-76 10-77 10-76 10-73 10-68 10-64 10-59 10-56 10-53 10-49 10-46 10-43 10-40 10-40 10-40 10-40 10-40 10-39 10-38 10-37 10-34 10-31 10-27 10-24 10-21 10-18 10-15 10-13 10-12 10-9 16-11 16-7 16-6 16-5 16-5 16-5 16-6 16-6 26-10 26-9 26-9 26-8 26-9 26-9 26-10 26-11 26-9 26-8 26-6 26-6 26-4 26 0 26 2 26 6 26 14 26 17 26 15 26 9 26 3 26 0 26-3 26-4 26-7 26-6 26-5 26-4 26-2 26 0 26 1 26 1 26 3 26 5 26 7 26 8 26 10 26 11 26 14 26 18 26 25 26 31 10 14 10 16 10 18 10 20 10 21 10 24 10 26 10 28 10 29 10 31 10 33 10 35 10 37 10 39 10 39 10 38 10 38 10 38 10 36 10 37 10 37 10 39 10 39 10 39 10 40 10 39 10 38 10 36 10 32 10 28 10 25 10 22 10 19 10 15 10 13 10 11 10 10 10 8 10 7 10 6 26 14 26 10 26 7 26 4 26 2 26 1 26 0 26-2 26-3 5 0"/>
<path stroke="#FA5A12" d="M704 3312l16 22 16 20 16 17 16 14 16 11 16 9 16 6 16 5 16 4 26 5 26 1 26-1 26-2 26-3 26-4 26-5 26-7 26-7 26-7 26-5 26-6 26-3 26-3 26-2 26-3 26-3 26-5 26-7 26-9 26-12 26-15 26-20 26-26 10-11 10-12 10-13 10-13 10-15 10-15 10-17 10-19 10-20 10-22 10-23 10-23 10-24 10-24 10-23 10-23 10-22 10-21 10-21 10-19 10-18 10-16 10-15 10-12 10-12 10-10 10-10 10-9 10-8 26-19 26-15 26-12 26-10 26-10 26-7 26-2 26 1 26 1 26 3 26 6 26 13 26 17 26 16 26 11 26 6 26 2 26 2 26 6 26 14 26 18 26 19 26 15 26 10 26 5 26 4 26 8 26 17 26 26 16 17 16 18 16 17 16 16 16 16 16 15 16 16 16 16 16 16 16 16 16 15 16 13 16 10 16 7 16 4 16 0 16-6 16-12 10-13 10-19 10-29 10-38 10-48 10-57 10-66 10-75 10-83 10-86 10-85 10-85 10-85 10-84 10-84 10-82 10-78 10-73 10-66 10-64 10-62 10-63 10-65 10-66 10-66 10-65 10-61 10-56 10-52 10-49 10-45 10-42 10-38 10-35 10-33 10-33 10-34 10-35 10-34 10-34 10-32 10-31 10-29 10-25 10-23 10-21 10-17 10-16 10-13 10-11 10-10 10-7 16-10 16-5 16-4 16-3 16-2 16-3 16-3 16-3 26-5 26-4 26-4 26-4 26-4 26-5 26-7 26-10 26-10 26-11 26-11 26-11 26-8 26-6 26-3 26 2 26 11 26 16 26 15 26 11 26 7 26 5 26 3 26 1 26 0 26 0 26 1 26 2 26 4 26 4 26 4 26 2 26 1 26 3 26 3 26 2 26 4 26 5 26 6 26 12 26 20 26 28 10 14 10 15 10 17 10 19 10 20 10 22 10 24 10 26 10 28 10 29 10 31 10 32 10 35 10 36 10 37 10 37 10 38 10 37 10 36 10 37 10 37 10 39 10 40 10 41 10 43 10 42 10 41 10 38 10 34 10 30 10 26 10 24 10 20 10 18 10 16 10 14 10 11 10 11 10 9 10 8 26 19 26 15 26 12 26 10 26 8 26 6 26 5 26 4 26 2 5 1"/>
<path stroke="#FBB414" d="M704 3319l16 23 16 21 16 19 16 16 16 13 16 9 16 8 16 7 16 6 26 7 26 3 26 1 26 0 26-3 26-5 26-6 26-9 26-9 26-10 26-9 26-9 26-6 26-5 26-3 26-1 26-1 26 0 26 0 26-2 26-2 26-4 26-8 26-14 10-6 10-7 10-8 10-9 10-10 10-11 10-13 10-16 10-17 10-19 10-21 10-22 10-22 10-22 10-23 10-22 10-22 10-22 10-22 10-21 10-21 10-19 10-17 10-16 10-16 10-14 10-13 10-13 10-12 26-29 26-23 26-18 26-13 26-10 26-4 26 0 26 5 26 6 26 8 26 11 26 17 26 20 26 18 26 12 26 8 26 4 26 5 26 7 26 12 26 17 26 16 26 13 26 10 26 8 26 6 26 10 26 14 26 20 16 13 16 14 16 14 16 13 16 14 16 14 16 13 16 15 16 14 16 14 16 14 16 12 16 11 16 8 16 5 16 2 16-2 16-6 10-9 10-13 10-20 10-28 10-34 10-41 10-47 10-52 10-56 10-59 10-60 10-63 10-64 10-61 10-58 10-54 10-51 10-48 10-46 10-48 10-51 10-56 10-60 10-64 10-63 10-60 10-57 10-53 10-52 10-51 10-48 10-45 10-42 10-39 10-37 10-35 10-35 10-35 10-36 10-36 10-35 10-35 10-33 10-30 10-25 10-21 10-18 10-14 10-13 10-10 10-9 10-7 16-10 16-7 16-7 16-6 16-5 16-4 16-5 16-5 26-9 26-9 26-10 26-10 26-13 26-13 26-13 26-13 26-13 26-14 26-14 26-15 26-12 26-9 26-6 26-2 26 7 26 11 26 12 26 6 26 1 26-1 26-1 26 0 26-1 26 0 26 0 26 1 26 2 26 3 26 5 26 5 26 6 26 8 26 11 26 12 26 15 26 18 26 22 26 28 26 33 26 37 10 16 10 17 10 19 10 21 10 23 10 25 10 27 10 29 10 31 10 32 10 35 10 38 10 40 10 41 10 41 10 38 10 37 10 35 10 35 10 35 10 37 10 37 10 38 10 37 10 34 10 33 10 32 10 31 10 30 10 29 10 25 10 22 10 18 10 14 10 10 10 9 10 6 10 7 10 5 10 6 26 12 26 10 26 8 26 4 26 3 26 2 26 2 26 1 26-1 5 0"/>
<path stroke="#A02CBC" d="M704 3271l16 23 16 20 16 17 16 13 16 11 16 7 16 5 16 4 16 3 26 3 26 0 26-3 26-3 26-4 26-5 26-6 26-7 26-8 26-6 26-5 26-5 26-3 26-2 26-2 26-2 26-4 26-6 26-8 26-11 26-15 26-18 26-24 26-31 10-14 10-14 10-15 10-16 10-17 10-18 10-20 10-22 10-23 10-26 10-26 10-28 10-28 10-28 10-28 10-28 10-27 10-26 10-25 10-23 10-22 10-21 10-18 10-17 10-16 10-14 10-13 10-12 10-11 26-26 26-20 26-17 26-11 26-9 26-6 26-1 26 3 26 3 26 5 26 8 26 13 26 16 26 15 26 10 26 5 26 1 26 1 26 6 26 12 26 18 26 19 26 16 26 9 26 5 26 4 26 7 26 21 26 35 16 24 16 24 16 23 16 22 16 23 16 23 16 23 16 23 16 23 16 22 16 20 16 17 16 13 16 11 16 6 16 2 16-3 16-9 10-11 10-17 10-28 10-38 10-48 10-57 10-65 10-75 10-81 10-82 10-80 10-77 10-76 10-74 10-73 10-70 10-65 10-58 10-52 10-50 10-49 10-50 10-52 10-55 10-56 10-54 10-50 10-46 10-43 10-39 10-37 10-33 10-29 10-26 10-25 10-24 10-24 10-25 10-26 10-25 10-26 10-24 10-23 10-20 10-18 10-14 10-12 10-9 10-8 10-6 10-5 10-5 16-5 16-6 16-4 16-4 16-3 16-4 16-4 16-5 26-8 26-9 26-8 26-10 26-10 26-11 26-12 26-11 26-14 26-14 26-15 26-16 26-14 26-10 26-7 26-2 26 6 26 13 26 13 26 8 26 3 26 2 26 0 26-1 26-1 26-1 26 0 26 1 26 2 26 4 26 4 26 5 26 6 26 8 26 10 26 12 26 13 26 15 26 19 26 24 26 29 26 35 10 14 10 17 10 17 10 20 10 22 10 23 10 25 10 27 10 29 10 30 10 32 10 35 10 37 10 38 10 38 10 37 10 36 10 35 10 35 10 35 10 36 10 38 10 38 10 38 10 38 10 37 10 36 10 35 10 33 10 30 10 28 10 24 10 21 10 17 10 14 10 12 10 10 10 10 10 8 10 8 26 16 26 10 26 8 26 4 26 3 26 1 26 0 26-2 26-4 5 0"/>
<path stroke="#52B822" d="M704 3352l16 20 16 18 16 17 16 14 16 12 16 8 16 7 16 6 16 5 26 6 26 2 26 1 26 0 26-2 26-3 26-4 26-5 26-6 26-5 26-6 26-4 26-3 26-3 26-1 26-1 26-1 26-2 26-3 26-5 26-6 26-9 26-12 26-18 10-7 10-9 10-9 10-9 10-11 10-11 10-13 10-15 10-16 10-18 10-19 10-20 10-20 10-19 10-20 10-19 10-18 10-19 10-18 10-17 10-16 10-15 10-14 10-12 10-10 10-11 10-9 10-9 10-9 26-20 26-17 26-15 26-15 26-15 26-15 26-14 26-11 26-10 26-7 26-4 26 4 26 10 26 11 26 10 26 8 26 7 26 9 26 13 26 20 26 25 26 24 26 21 26 16 26 12 26 10 26 11 26 17 26 22 16 16 16 16 16 15 16 16 16 16 16 15 16 15 16 15 16 15 16 15 16 14 16 13 16 12 16 9 16 6 16 2 16-4 16-10 10-11 10-17 10-24 10-31 10-39 10-46 10-53 10-60 10-65 10-68 10-71 10-72 10-73 10-73 10-71 10-67 10-66 10-62 10-60 10-61 10-62 10-65 10-68 10-70 10-69 10-67 10-62 10-58 10-54 10-52 10-49 10-46 10-43 10-39 10-38 10-36 10-37 10-37 10-37 10-36 10-37 10-35 10-32 10-30 10-26 10-22 10-19 10-16 10-14 10-12 10-10 10-8 16-10 16-8 16-5 16-5 16-3 16-3 16-3 16-3 26-5 26-5 26-5 26-5 26-7 26-9 26-10 26-11 26-14 26-14 26-16 26-17 26-14 26-11 26-8 26-3 26 6 26 12 26 12 26 9 26 3 26 2 26 1 26-1 26-1 26 0 26 0 26 1 26 2 26 4 26 4 26 4 26 4 26 7 26 8 26 9 26 11 26 13 26 16 26 22 26 27 26 33 10 15 10 18 10 20 10 22 10 25 10 28 10 31 10 33 10 35 10 37 10 39 10 42 10 45 10 45 10 46 10 43 10 43 10 40 10 40 10 40 10 39 10 40 10 39 10 38 10 36 10 35 10 33 10 32 10 31 10 27 10 25 10 21 10 17 10 13 10 11 10 8 10 7 10 6 10 6 10 5 26 13 26 10 26 8 26 4 26 3 26 2 26 2 26 0 26 0 5 0"/>
<path stroke="#20BAF0" d="M704 3300l16 20 16 19 16 16 16 13 16 10 16 7 16 4 16 4 16 3 26 3 26 0 26-2 26-4 26-4 26-3 26-4 26-4 26-4 26-3 26-1 26 0 26 1 26 2 26 1 26 1 26 1 26-1 26-3 26-5 26-7 26-10 26-14 26-20 10-9 10-10 10-11 10-11 10-12 10-14 10-15 10-16 10-19 10-21 10-22 10-22 10-23 10-23 10-23 10-23 10-23 10-22 10-22 10-21 10-20 10-19 10-17 10-15 10-14 10-14 10-13 10-12 10-11 26-27 26-22 26-19 26-15 26-13 26-11 26-6 26-2 26-1 26 0 26 4 26 10 26 15 26 14 26 9 26 4 26 1 26 0 26 4 26 11 26 15 26 16 26 13 26 8 26 4 26 2 26 7 26 16 26 28 16 19 16 19 16 19 16 18 16 19 16 18 16 19 16 18 16 19 16 18 16 17 16 15 16 13 16 9 16 6 16 2 16-4 16-10 10-11 10-18 10-26 10-37 10-45 10-54 10-62 10-71 10-77 10-79 10-80 10-78 10-78 10-77 10-76 10-74 10-69 10-65 10-60 10-57 10-58 10-59 10-61 10-64 10-63 10-62 10-58 10-54 10-50 10-47 10-45 10-41 10-38 10-35 10-33 10-33 10-33 10-35 10-34 10-34 10-33 10-32 10-30 10-26 10-24 10-21 10-18 10-15 10-13 10-11 10-10 10-8 16-9 16-7 16-5 16-3 16-4 16-4 16-4 16-4 26-6 26-6 26-6 26-6 26-7 26-7 26-9 26-10 26-12 26-11 26-12 26-13 26-10 26-6 26-4 26 1 26 9 26 15 26 14 26 10 26 5 26 2 26 0 26-1 26-3 26-1 26-1 26 0 26 2 26 3 26 4 26 3 26 1 26 3 26 4 26 4 26 5 26 7 26 9 26 15 26 22 26 29 10 15 10 16 10 18 10 19 10 22 10 24 10 27 10 28 10 30 10 32 10 34 10 35 10 39 10 39 10 40 10 40 10 40 10 38 10 39 10 38 10 39 10 40 10 41 10 42 10 41 10 42 10 40 10 37 10 34 10 31 10 28 10 24 10 21 10 18 10 15 10 13 10 12 10 9 10 9 10 8 26 17 26 12 26 10 26 6 26 4 26 3 26 2 26 1 26-1 5 0"/>
<path stroke="#D41440" d="M704 3297l16 22 16 20 16 17 16 15 16 11 16 8 16 6 16 4 16 4 26 4 26 2 26-1 26-3 26-3 26-4 26-6 26-7 26-7 26-6 26-5 26-5 26-3 26-2 26-1 26-1 26-2 26-1 26-3 26-5 26-6 26-9 26-14 26-19 10-9 10-9 10-10 10-12 10-12 10-14 10-15 10-17 10-19 10-21 10-22 10-23 10-24 10-23 10-23 10-23 10-22 10-22 10-21 10-21 10-19 10-18 10-16 10-15 10-13 10-13 10-12 10-11 10-11 26-26 26-21 26-18 26-16 26-16 26-14 26-12 26-9 26-7 26-5 26-3 26 5 26 10 26 10 26 7 26 3 26 1 26 1 26 4 26 12 26 16 26 16 26 15 26 9 26 7 26 5 26 9 26 20 26 32 16 23 16 22 16 22 16 22 16 22 16 22 16 23 16 22 16 22 16 21 16 20 16 17 16 15 16 11 16 8 16 4 16-1 16-7 10-9 10-15 10-23 10-33 10-40 10-48 10-55 10-62 10-67 10-69 10-69 10-68 10-68 10-66 10-63 10-60 10-56 10-52 10-48 10-47 10-50 10-52 10-56 10-59 10-58 10-57 10-52 10-48 10-46 10-43 10-41 10-38 10-34 10-32 10-29 10-28 10-29 10-28 10-30 10-29 10-30 10-30 10-27 10-25 10-21 10-17 10-14 10-12 10-10 10-8 10-7 10-6 16-8 16-8 16-7 16-7 16-6 16-5 16-6 16-7 26-11 26-11 26-12 26-13 26-13 26-14 26-13 26-13 26-14 26-15 26-17 26-17 26-15 26-12 26-8 26-4 26 5 26 11 26 12 26 8 26 2 26 0 26 1 26 0 26 0 26 1 26 1 26 2 26 4 26 4 26 5 26 7 26 7 26 9 26 12 26 13 26 16 26 18 26 23 26 28 26 34 26 38 10 16 10 18 10 19 10 22 10 23 10 26 10 28 10 29 10 32 10 32 10 35 10 39 10 40 10 42 10 41 10 38 10 38 10 36 10 35 10 36 10 36 10 38 10 38 10 37 10 35 10 33 10 32 10 32 10 30 10 29 10 26 10 22 10 18 10 14 10 11 10 9 10 7 10 7 10 6 10 5 26 13 26 10 26 7 26 3 26 2 26 0 26 0 26-2 26-3 5-1"/>
<path stroke="#0A6CD6" d="M704 3242l16 25 16 21 16 18 16 14 16 11 16 8 16 5 16 3 16 3 26 3 26-1 26-3 26-5 26-6 26-7 26-8 26-10 26-10 26-9 26-8 26-7 26-4 26-3 26-3 26-4 26-5 26-8 26-10 26-14 26-18 26-23 26-30 26-37 10-16 10-17 10-18 10-18 10-20 10-21 10-23 10-25 10-26 10-29 10-29 10-31 10-31 10-31 10-31 10-31 10-31 10-28 10-27 10-25 10-24 10-21 10-20 10-18 10-16 10-15 10-14 10-12 10-12 26-25 26-20 26-15 26-10 26-7 26-4 26 2 26 6 26 6 26 8 26 9 26 14 26 18 26 16 26 9 26 4 26-1 26-1 26 3 26 11 26 17 26 18 26 16 26 8 26 5 26 2 26 8 26 25 26 42 16 30 16 29 16 28 16 27 16 28 16 28 16 28 16 28 16 28 16 26 16 24 16 20 16 17 16 13 16 9 16 4 16-2 16-10 10-12 10-20 10-32 10-43 10-55 10-64 10-75 10-85 10-92 10-94 10-88 10-82 10-78 10-76 10-75 10-70 10-63 10-55 10-47 10-43 10-41 10-42 10-45 10-47 10-49 10-49 10-46 10-43 10-40 10-37 10-35 10-32 10-28 10-26 10-24 10-24 10-24 10-26 10-26 10-26 10-26 10-25 10-24 10-21 10-18 10-15 10-13 10-11 10-9 10-7 10-6 10-6 16-7 16-6 16-4 16-5 16-4 16-5 16-4 16-6 26-9 26-9 26-9 26-9 26-10 26-10 26-9 26-10 26-11 26-10 26-10 26-10 26-8 26-5 26-2 26 2 26 11 26 15 26 14 26 9 26 3 26 1 26-2 26-3 26-3 26-3 26-2 26-1 26 1 26 3 26 4 26 5 26 6 26 8 26 10 26 12 26 13 26 16 26 18 26 23 26 29 26 34 10 15 10 17 10 18 10 20 10 22 10 24 10 26 10 28 10 29 10 32 10 33 10 35 10 38 10 40 10 39 10 38 10 37 10 36 10 36 10 36 10 37 10 38 10 38 10 38 10 38 10 38 10 35 10 35 10 31 10 29 10 26 10 22 10 19 10 16 10 12 10 11 10 9 10 8 10 7 10 7 26 14 26 11 26 9 26 6 26 5 26 5 26 3 26 2 26 1 5 1"/>
<path stroke="#FA5A12" d="M704 3261l16 25 16 23 16 19 16 15 16 13 16 9 16 7 16 6 16 4 26 6 26 2 26-1 26-4 26-4 26-6 26-7 26-9 26-10 26-8 26-8 26-7 26-4 26-3 26-3 26-3 26-3 26-4 26-5 26-8 26-11 26-14 26-19 26-26 10-11 10-12 10-13 10-14 10-15 10-17 10-18 10-20 10-22 10-24 10-26 10-26 10-28 10-27 10-28 10-28 10-27 10-27 10-26 10-25 10-23 10-22 10-20 10-19 10-17 10-16 10-15 10-14 10-14 26-30 26-23 26-18 26-11 26-6 26-1 26 7 26 11 26 13 26 13 26 16 26 20 26 23 26 21 26 12 26 5 26 1 26 0 26 5 26 11 26 18 26 17 26 14 26 7 26 3 26 1 26 5 26 17 26 30 16 20 16 21 16 19 16 20 16 19 16 19 16 20 16 20 16 20 16 19 16 18 16 16 16 13 16 9 16 6 16 2 16-3 16-10 10-12 10-18 10-29 10-39 10-49 10-58 10-68 10-77 10-84 10-87 10-85 10-83 10-82 10-83 10-82 10-80 10-76 10-70 10-64 10-61 10-59 10-61 10-61 10-63 10-64 10-63 10-59 10-54 10-50 10-46 10-42 10-39 10-36 10-33 10-31 10-31 10-32 10-32 10-33 10-32 10-31 10-29 10-27 10-24 10-22 10-19 10-17 10-15 10-12 10-11 10-8 10-8 16-9 16-5 16-4 16-3 16-2 16-3 16-3 16-3 26-5 26-4 26-3 26-4 26-4 26-5 26-7 26-10 26-11 26-13 26-14 26-14 26-12 26-9 26-6 26-1 26 9 26 15 26 14 26 11 26 6 26 3 26 0 26-2 26-4 26-4 26-1 26 0 26 2 26 4 26 6 26 6 26 8 26 12 26 14 26 14 26 16 26 17 26 18 26 22 26 27 26 33 10 14 10 15 10 16 10 18 10 19 10 21 10 23 10 24 10 26 10 27 10 29 10 30 10 33 10 34 10 34 10 35 10 35 10 34 10 34 10 35 10 36 10 37 10 38 10 41 10 41 10 42 10 40 10 37 10 34 10 29 10 26 10 23 10 20 10 17 10 15 10 13 10 11 10 10 10 8 10 8 26 16 26 13 26 9 26 7 26 5 26 4 26 2 26 2 26 0 5 0"/>
<path stroke="#FBB414" d="M704 3270l16 23 16 21 16 17 16 14 16 11 16 8 16 5 16 4 16 3 26 3 26 1 26-2 26-4 26-4 26-5 26-6 26-8 26-9 26-7 26-6 26-5 26-4 26-2 26-2 26-3 26-4 26-7 26-9 26-11 26-16 26-19 26-26 26-32 10-13 10-15 10-15 10-17 10-17 10-18 10-20 10-22 10-23 10-25 10-26 10-27 10-27 10-27 10-28 10-26 10-26 10-25 10-23 10-22 10-20 10-19 10-17 10-15 10-13 10-13 10-11 10-10 10-10 26-21 26-17 26-14 26-10 26-10 26-9 26-6 26-4 26-3 26-2 26 2 26 8 26 12 26 13 26 10 26 6 26 4 26 4 26 9 26 16 26 21 26 22 26 19 26 14 26 9 26 7 26 11 26 24 26 37 16 25 16 26 16 24 16 25 16 24 16 25 16 24 16 25 16 24 16 23 16 22 16 18 16 16 16 12 16 9 16 5 16-1 16-7 10-10 10-16 10-25 10-35 10-44 10-52 10-60 10-68 10-75 10-76 10-75 10-74 10-73 10-72 10-71 10-68 10-63 10-59 10-54 10-52 10-52 10-55 10-57 10-59 10-59 10-57 10-54 10-48 10-45 10-42 10-39 10-34 10-31 10-27 10-25 10-24 10-24 10-25 10-25 10-25 10-25 10-24 10-23 10-20 10-16 10-14 10-11 10-9 10-7 10-6 10-5 10-4 16-7 16-6 16-6 16-6 16-5 16-5 16-5 16-6 26-10 26-11 26-10 26-12 26-12 26-13 26-12 26-12 26-14 26-14 26-16 26-16 26-14 26-10 26-8 26-2 26 6 26 12 26 12 26 9 26 3 26 3 26 2 26 2 26 1 26 3 26 3 26 3 26 4 26 5 26 5 26 5 26 6 26 8 26 11 26 13 26 14 26 17 26 21 26 26 26 31 26 36 10 16 10 17 10 19 10 21 10 23 10 25 10 28 10 29 10 31 10 33 10 35 10 38 10 41 10 42 10 41 10 40 10 38 10 37 10 37 10 37 10 38 10 40 10 39 10 39 10 37 10 36 10 36 10 34 10 34 10 31 10 29 10 25 10 21 10 18 10 14 10 11 10 10 10 9 10 8 10 8 26 16 26 9 26 5 26-2 26-4 26-7 26-10 26-13 26-14 5-3"/>
<path stroke="#A02CBC" d="M704 3323l16 21 16 19 16 16 16 14 16 11 16 8 16 6 16 5 16 4 26 4 26 2 26-1 26-2 26-3 26-3 26-4 26-6 26-5 26-5 26-4 26-3 26-2 26-1 26-1 26-1 26-1 26-3 26-4 26-7 26-9 26-11 26-16 26-22 10-9 10-10 10-11 10-12 10-12 10-14 10-15 10-17 10-18 10-21 10-22 10-22 10-23 10-24 10-23 10-23 10-23 10-22 10-22 10-21 10-20 10-19 10-17 10-16 10-14 10-14 10-12 10-13 10-11 26-27 26-21 26-18 26-14 26-12 26-9 26-6 26-2 26 0 26 1 26 4 26 11 26 15 26 15 26 11 26 8 26 8 26 10 26 16 26 23 26 27 26 27 26 24 26 17 26 12 26 9 26 9 26 14 26 20 16 13 16 14 16 13 16 13 16 12 16 13 16 13 16 14 16 14 16 14 16 13 16 12 16 11 16 7 16 5 16 2 16-2 16-8 10-10 10-15 10-23 10-32 10-39 10-47 10-54 10-61 10-67 10-69 10-71 10-72 10-73 10-74 10-71 10-70 10-67 10-63 10-60 10-60 10-61 10-63 10-66 10-68 10-67 10-64 10-61 10-55 10-52 10-48 10-45 10-42 10-39 10-35 10-34 10-32 10-33 10-33 10-33 10-33 10-33 10-31 10-30 10-26 10-23 10-20 10-17 10-14 10-12 10-10 10-9 10-7 16-9 16-8 16-5 16-5 16-4 16-3 16-4 16-3 26-6 26-6 26-6 26-6 26-8 26-8 26-10 26-12 26-11 26-12 26-12 26-12 26-10 26-6 26-4 26 1 26 9 26 14 26 14 26 7 26 0 26-3 26-6 26-7 26-9 26-8 26-7 26-6 26-2 26 0 26 4 26 5 26 6 26 10 26 13 26 14 26 16 26 18 26 22 26 27 26 33 26 38 10 17 10 18 10 21 10 23 10 25 10 28 10 30 10 32 10 33 10 36 10 38 10 40 10 43 10 44 10 43 10 42 10 41 10 39 10 38 10 38 10 39 10 39 10 39 10 38 10 36 10 35 10 33 10 32 10 30 10 28 10 24 10 20 10 17 10 13 10 10 10 8 10 7 10 6 10 5 10 5 26 12 26 10 26 8 26 5 26 4 26 2 26 3 26 1 26 1 5 1"/>
<path stroke="#52B822" d="M704 3270l16 22 16 19 16 17 16 13 16 9 16 7 16 4 16 2 16 2 26 1 26-2 26-6 26-6 26-8 26-9 26-11 26-14 26-15 26-13 26-12 26-11 26-8 26-5 26-5 26-4 26-3 26-5 26-5 26-8 26-11 26-14 26-20 26-27 10-12 10-13 10-14 10-14 10-16 10-18 10-19 10-22 10-23 10-26 10-26 10-27 10-28 10-27 10-28 10-28 10-26 10-25 10-24 10-22 10-21 10-19 10-17 10-15 10-14 10-13 10-11 10-11 10-10 26-22 26-17 26-14 26-10 26-10 26-9 26-7 26-4 26-3 26-3 26 1 26 7 26 11 26 12 26 9 26 4 26 1 26 1 26 6 26 14 26 20 26 21 26 18 26 11 26 6 26 4 26 8 26 23 26 38 16 26 16 26 16 25 16 24 16 24 16 25 16 25 16 25 16 24 16 23 16 22 16 17 16 15 16 11 16 7 16 2 16-2 16-8 10-9 10-16 10-27 10-37 10-47 10-55 10-64 10-74 10-81 10-82 10-80 10-78 10-77 10-77 10-75 10-72 10-68 10-61 10-55 10-51 10-51 10-52 10-53 10-56 10-56 10-55 10-52 10-46 10-43 10-40 10-35 10-32 10-27 10-24 10-22 10-21 10-21 10-22 10-22 10-22 10-22 10-21 10-20 10-18 10-14 10-12 10-9 10-8 10-6 10-5 10-4 10-4 16-6 16-6 16-6 16-5 16-5 16-5 16-6 16-5 26-10 26-11 26-10 26-10 26-11 26-12 26-11 26-12 26-12 26-12 26-13 26-14 26-11 26-7 26-5 26 0 26 8 26 13 26 13 26 8 26 2 26 0 26-1 26-3 26-3 26-2 26-2 26 0 26 1 26 2 26 4 26 3 26 5 26 7 26 9 26 10 26 12 26 15 26 18 26 22 26 29 26 34 10 15 10 16 10 18 10 20 10 22 10 23 10 26 10 27 10 28 10 31 10 32 10 35 10 37 10 38 10 38 10 37 10 37 10 35 10 35 10 35 10 36 10 38 10 38 10 38 10 38 10 38 10 36 10 35 10 32 10 30 10 27 10 24 10 20 10 17 10 14 10 11 10 10 10 9 10 8 10 8 26 15 26 11 26 7 26 3 26 1 26-1 26-2 26-4 26-6 5-1"/>
<path stroke="#20BAF0" d="M704 3275l16 22 16 20 16 16 16 13 16 10 16 7 16 4 16 2 16 2 26 2 26-1 26-5 26-6 26-6 26-7 26-9 26-12 26-11 26-10 26-10 26-8 26-6 26-3 26-4 26-3 26-3 26-3 26-4 26-5 26-9 26-12 26-17 26-23 10-11 10-11 10-13 10-13 10-15 10-17 10-18 10-21 10-23 10-25 10-26 10-27 10-28 10-28 10-28 10-28 10-28 10-27 10-26 10-24 10-23 10-22 10-19 10-19 10-16 10-16 10-14 10-14 10-12 26-29 26-22 26-16 26-11 26-8 26-4 26 1 26 4 26 6 26 7 26 9 26 15 26 18 26 17 26 11 26 5 26 1 26 0 26 5 26 11 26 17 26 18 26 15 26 8 26 5 26 3 26 8 26 22 26 36 16 25 16 24 16 23 16 24 16 23 16 23 16 24 16 23 16 23 16 22 16 20 16 18 16 14 16 11 16 7 16 2 16-3 16-10 10-12 10-20 10-29 10-41 10-51 10-60 10-70 10-79 10-87 10-88 10-85 10-81 10-80 10-77 10-76 10-72 10-67 10-59 10-52 10-49 10-48 10-49 10-52 10-54 10-55 10-54 10-51 10-47 10-44 10-42 10-38 10-36 10-32 10-29 10-28 10-27 10-28 10-29 10-29 10-29 10-29 10-27 10-26 10-23 10-20 10-17 10-14 10-12 10-11 10-8 10-7 10-6 16-8 16-5 16-5 16-4 16-4 16-4 16-4 16-5 26-8 26-9 26-8 26-8 26-9 26-9 26-11 26-10 26-12 26-10 26-12 26-11 26-9 26-5 26-3 26 2 26 10 26 15 26 14 26 9 26 3 26 1 26-2 26-3 26-4 26-4 26-3 26-1 26 1 26 2 26 4 26 5 26 6 26 8 26 11 26 11 26 13 26 15 26 18 26 23 26 28 26 33 10 15 10 17 10 19 10 21 10 23 10 26 10 28 10 30 10 32 10 34 10 36 10 38 10 41 10 42 10 42 10 41 10 39 10 39 10 38 10 37 10 39 10 39 10 39 10 38 10 37 10 36 10 34 10 32 10 29 10 26 10 22 10 19 10 15 10 12 10 9 10 7 10 6 10 5 10 4 10 4 26 11 26 11 26 9 26 7 26 7 26 6 26 6 26 6 26 6 5 2"/>
<path stroke="#D41440" d="M704 3267l16 24 16 20 16 17 16 13 16 11 16 7 16 5 16 3 16 2 26 3 26-1 26-3 26-5 26-6 26-9 26-11 26-15 26-16 26-15 26-14 26-13 26-10 26-7 26-6 26-4 26-3 26-5 26-6 26-8 26-12 26-16 26-21 26-29 10-12 10-14 10-14 10-16 10-17 10-19 10-21 10-22 10-26 10-27 10-29 10-30 10-31 10-32 10-33 10-32 10-32 10-31 10-29 10-28 10-27 10-25 10-24 10-21 10-21 10-18 10-18 10-16 10-15 26-35 26-26 26-18 26-10 26-4 26 1 26 9 26 13 26 14 26 14 26 17 26 21 26 25 26 21 26 15 26 7 26 3 26 4 26 9 26 17 26 23 26 24 26 20 26 12 26 6 26 3 26 8 26 22 26 38 16 26 16 25 16 24 16 23 16 23 16 23 16 24 16 23 16 23 16 22 16 20 16 17 16 14 16 10 16 6 16 2 16-6 16-13 10-14 10-23 10-33 10-47 10-58 10-69 10-80 10-91 10-101 10-103 10-97 10-93 10-89 10-90 10-88 10-86 10-80 10-71 10-62 10-56 10-53 10-52 10-53 10-54 10-56 10-56 10-53 10-48 10-44 10-40 10-37 10-33 10-30 10-26 10-26 10-25 10-27 10-27 10-28 10-27 10-26 10-25 10-23 10-20 10-18 10-16 10-14 10-12 10-11 10-9 10-7 10-6 16-8 16-5 16-3 16-4 16-3 16-4 16-4 16-5 26-7 26-7 26-6 26-6 26-5 26-6 26-7 26-9 26-10 26-9 26-8 26-9 26-6 26-3 26 0 26 4 26 13 26 17 26 16 26 11 26 5 26 0 26-2 26-6 26-9 26-7 26-6 26-4 26-1 26 2 26 3 26 4 26 6 26 8 26 11 26 11 26 12 26 14 26 14 26 19 26 25 26 32 10 14 10 17 10 18 10 20 10 22 10 25 10 26 10 29 10 31 10 32 10 33 10 36 10 37 10 39 10 40 10 40 10 40 10 39 10 38 10 38 10 38 10 39 10 39 10 41 10 41 10 41 10 39 10 37 10 32 10 28 10 25 10 21 10 19 10 16 10 13 10 12 10 10 10 8 10 7 10 7 26 14 26 11 26 7 26 6 26 3 26 2 26 0 26 0 26-1 5-1"/>
<path stroke="#0A6CD6" d="M704 3328l16 18 16 16 16 14 16 11 16 9 16 5 16 4 16 2 16 2 26 1 26-2 26-3 26-3 26-4 26-3 26-3 26-4 26-4 26-2 26-2 26-1 26 0 26 0 26 0 26-1 26-3 26-5 26-8 26-10 26-13 26-16 26-21 26-27 10-12 10-12 10-13 10-14 10-14 10-16 10-17 10-19 10-20 10-21 10-21 10-22 10-22 10-20 10-21 10-19 10-18 10-17 10-16 10-14 10-13 10-11 10-9 10-8 10-6 10-5 10-5 10-4 10-3 26-9 26-7 26-9 26-13 26-16 26-18 26-16 26-14 26-14 26-12 26-8 26 1 26 8 26 10 26 9 26 6 26 4 26 4 26 8 26 16 26 20 26 21 26 16 26 12 26 8 26 5 26 9 26 17 26 26 16 18 16 18 16 17 16 17 16 17 16 16 16 17 16 17 16 17 16 17 16 16 16 13 16 12 16 9 16 5 16 1 16-3 16-10 10-11 10-17 10-26 10-35 10-43 10-51 10-60 10-68 10-73 10-77 10-76 10-77 10-76 10-76 10-74 10-71 10-67 10-63 10-59 10-56 10-58 10-59 10-62 10-63 10-64 10-62 10-58 10-54 10-51 10-47 10-45 10-43 10-40 10-37 10-36 10-35 10-36 10-37 10-36 10-37 10-36 10-35 10-32 10-30 10-26 10-22 10-20 10-18 10-14 10-13 10-10 10-9 16-11 16-7 16-5 16-4 16-5 16-5 16-5 16-5 26-9 26-8 26-8 26-8 26-8 26-9 26-10 26-10 26-10 26-10 26-11 26-10 26-8 26-4 26-2 26 3 26 11 26 15 26 15 26 9 26 4 26 1 26-1 26-3 26-5 26-4 26-3 26-1 26 0 26 2 26 4 26 4 26 6 26 8 26 10 26 12 26 12 26 15 26 16 26 21 26 27 26 33 10 14 10 16 10 17 10 18 10 20 10 22 10 24 10 26 10 27 10 29 10 30 10 32 10 35 10 36 10 36 10 36 10 35 10 35 10 35 10 35 10 36 10 38 10 38 10 40 10 40 10 40 10 39 10 37 10 34 10 30 10 27 10 24 10 21 10 18 10 16 10 13 10 11 10 10 10 9 10 8 26 18 26 11 26 9 26 6 26 4 26 3 26 2 26 1 26-1 5 0"/>
<path stroke="#A02CBC" d="M704 3356l16 19 16 18 16 17 16 14 16 12 16 8 16 7 16 5 16 5 26 6 26 3 26 0 26 0 26-2 26-2 26-3 26-4 26-4 26-5 26-3 26-3 26-2 26-1 26-1 26 0 26-1 26-2 26-3 26-6 26-6 26-9 26-12 26-17 10-8 10-8 10-9 10-9 10-11 10-11 10-13 10-14 10-16 10-17 10-19 10-20 10-19 10-19 10-19 10-18 10-18 10-18 10-18 10-17 10-16 10-15 10-13 10-12 10-11 10-10 10-9 10-9 10-9 26-21 26-17 26-15 26-13 26-11 26-11 26-9 26-7 26-4 26-1 26 2 26 8 26 11 26 10 26 9 26 8 26 8 26 7 26 8 26 10 26 12 26 12 26 11 26 11 26 10 26 10 26 12 26 14 26 19 16 13 16 14 16 14 16 16 16 16 16 16 16 17 16 17 16 16 16 16 16 15 16 13 16 11 16 9 16 6 16 4 16-1 16-5 10-7 10-12 10-17 10-23 10-28 10-34 10-39 10-43 10-45 10-49 10-53 10-57 10-61 10-59 10-56 10-53 10-52 10-52 10-52 10-55 10-58 10-62 10-67 10-68 10-67 10-62 10-58 10-53 10-51 10-50 10-47 10-45 10-43 10-40 10-38 10-41 10-45 10-41 10-31 10-26 10-26 10-25 10-22 10-23 10-18 10-16 10-15 10-15 10-14 10-12 10-10 10-9 16-12 16-14 16-13 16-12 16-13 16-12 16-11 16-7 26-12 26-12 26-16 26-19 26-21 26-21 26-20 26-18 26-18 26-16 26-15 26-15 26-11 26-9 26-7 26-2 26 6 26 11 26 11 26 4 26-2 26-2 26-2 26-4 26-2 26 1 26 1 26 1 26 1 26 3 26 3 26 5 26 5 26 8 26 10 26 11 26 13 26 16 26 21 26 26 26 31 26 35 10 16 10 16 10 18 10 20 10 23 10 24 10 26 10 28 10 29 10 31 10 33 10 36 10 39 10 40 10 38 10 37 10 35 10 34 10 34 10 34 10 36 10 36 10 37 10 36 10 35 10 33 10 32 10 32 10 31 10 29 10 26 10 23 10 19 10 15 10 12 10 10 10 8 10 7 10 7 10 6 26 14 26 9 26 6 26 2 26 1 26 0 26-2 26-3 26-5 5-1"/>
<path stroke="#FA5A12" d="M704 3245l16 24 16 21 16 17 16 13 16 10 16 8 16 4 16 2 16 2 26 1 26-1 26-5 26-6 26-6 26-8 26-10 26-13 26-14 26-12 26-11 26-10 26-8 26-4 26-5 26-4 26-6 26-8 26-11 26-14 26-18 26-24 26-30 26-38 10-16 10-18 10-18 10-19 10-21 10-21 10-24 10-25 10-27 10-29 10-30 10-30 10-31 10-32 10-31 10-30 10-30 10-27 10-26 10-23 10-22 10-20 10-17 10-16 10-14 10-13 10-12 10-10 10-9 26-21 26-15 26-12 26-9 26-7 26-3 26 2 26 6 26 7 26 6 26 10 26 14 26 19 26 18 26 11 26 5 26 2 26 2 26 8 26 17 26 24 26 25 26 21 26 12 26 7 26 4 26 9 26 25 26 42 16 29 16 29 16 27 16 26 16 25 16 26 16 26 16 26 16 25 16 24 16 22 16 19 16 15 16 11 16 7 16 2 16-7 16-17 10-18 10-28 10-40 10-53 10-67 10-80 10-91 10-105 10-115 10-116 10-108 10-98 10-93 10-93 10-92 10-88 10-81 10-70 10-60 10-52 10-48 10-47 10-47 10-49 10-51 10-52 10-50 10-45 10-42 10-38 10-35 10-32 10-29 10-26 10-25 10-25 10-27 10-29 10-28 10-28 10-26 10-25 10-23 10-21 10-19 10-17 10-15 10-13 10-11 10-10 10-8 10-7 16-8 16-4 16-2 16-2 16-2 16-2 16-3 16-2 26-4 26-2 26-2 26-2 26-2 26-2 26-6 26-8 26-10 26-8 26-9 26-8 26-7 26-3 26-1 26 4 26 13 26 17 26 15 26 11 26 5 26 1 26-2 26-6 26-8 26-8 26-6 26-3 26-1 26 2 26 3 26 5 26 6 26 9 26 11 26 12 26 13 26 13 26 15 26 18 26 25 26 31 10 14 10 16 10 17 10 19 10 20 10 22 10 24 10 27 10 27 10 30 10 30 10 32 10 34 10 35 10 37 10 37 10 37 10 37 10 37 10 37 10 37 10 38 10 39 10 41 10 43 10 43 10 41 10 37 10 32 10 28 10 24 10 21 10 19 10 16 10 14 10 12 10 10 10 8 10 7 10 7 26 14 26 11 26 9 26 6 26 4 26 3 26 1 26 1 26 0 5 0"/>
<path stroke="#FBB414" d="M704 3343l16 19 16 17 16 16 16 12 16 10 16 7 16 5 16 4 16 4 26 3 26 1 26-2 26-1 26-3 26-3 26-4 26-5 26-5 26-5 26-4 26-3 26-2 26-1 26-2 26-1 26-2 26-5 26-7 26-9 26-12 26-15 26-20 26-26 10-11 10-11 10-12 10-13 10-14 10-15 10-16 10-18 10-19 10-20 10-22 10-22 10-21 10-22 10-21 10-20 10-20 10-18 10-18 10-17 10-16 10-13 10-13 10-10 10-9 10-9 10-7 10-8 10-6 26-16 26-13 26-12 26-12 26-14 26-12 26-8 26-6 26-4 26-4 26 1 26 7 26 13 26 12 26 8 26 5 26 1 26 1 26 5 26 11 26 16 26 16 26 14 26 9 26 6 26 5 26 9 26 18 26 27 16 19 16 19 16 18 16 19 16 18 16 18 16 19 16 18 16 18 16 18 16 17 16 15 16 13 16 10 16 6 16 3 16-2 16-7 10-9 10-15 10-22 10-29 10-38 10-44 10-51 10-58 10-63 10-66 10-68 10-70 10-72 10-72 10-71 10-68 10-67 10-65 10-62 10-62 10-63 10-67 10-70 10-71 10-70 10-68 10-63 10-58 10-54 10-51 10-48 10-45 10-41 10-38 10-37 10-35 10-35 10-36 10-36 10-35 10-35 10-34 10-31 10-29 10-25 10-21 10-18 10-16 10-13 10-12 10-9 10-8 16-10 16-7 16-6 16-4 16-5 16-4 16-4 16-4 26-7 26-7 26-7 26-7 26-9 26-9 26-10 26-11 26-12 26-13 26-14 26-14 26-11 26-9 26-6 26-1 26 8 26 12 26 13 26 7 26 3 26 0 26-2 26-3 26-4 26-3 26-2 26-1 26 0 26 3 26 4 26 6 26 7 26 11 26 13 26 16 26 16 26 19 26 21 26 26 26 30 26 35 10 15 10 16 10 17 10 18 10 20 10 21 10 24 10 24 10 26 10 28 10 29 10 31 10 34 10 35 10 35 10 34 10 34 10 33 10 34 10 33 10 36 10 36 10 38 10 39 10 40 10 39 10 39 10 37 10 34 10 32 10 29 10 25 10 23 10 19 10 16 10 15 10 12 10 11 10 10 10 9 26 18 26 11 26 8 26 5 26 4 26 2 26 0 26-1 26-2 5 0"/>
<path stroke="#A02CBC" d="M704 3286l16 23 16 20 16 18 16 14 16 11 16 8 16 6 16 4 16 4 26 4 26 1 26-2 26-3 26-4 26-5 26-7 26-8 26-8 26-7 26-6 26-6 26-4 26-2 26-2 26-3 26-3 26-4 26-6 26-9 26-11 26-15 26-19 26-26 10-12 10-12 10-13 10-14 10-15 10-16 10-18 10-19 10-22 10-23 10-24 10-25 10-25 10-26 10-25 10-25 10-24 10-24 10-22 10-21 10-20 10-18 10-17 10-14 10-14 10-12 10-12 10-10 10-10 26-23 26-18 26-14 26-12 26-10 26-8 26-3 26-1 26 0 26 2 26 4 26 11 26 15 26 13 26 10 26 5 26 2 26 2 26 6 26 13 26 18 26 18 26 16 26 10 26 7 26 4 26 9 26 22 26 34 16 24 16 23 16 24 16 23 16 23 16 23 16 24 16 22 16 23 16 21 16 20 16 18 16 15 16 11 16 7 16 3 16-2 16-8 10-11 10-16 10-26 10-34 10-43 10-51 10-59 10-67 10-73 10-75 10-75 10-75 10-75 10-74 10-71 10-70 10-65 10-61 10-56 10-55 10-56 10-57 10-61 10-62 10-62 10-60 10-56 10-51 10-48 10-45 10-41 10-37 10-32 10-28 10-26 10-25 10-25 10-25 10-25 10-25 10-24 10-24 10-23 10-19 10-17 10-13 10-11 10-9 10-7 10-5 10-5 10-5 16-6 16-8 16-6 16-7 16-5 16-6 16-6 16-7 26-11 26-11 26-11 26-12 26-12 26-13 26-11 26-12 26-12 26-12 26-13 26-12 26-10 26-7 26-4 26 1 26 9 26 14 26 14 26 8 26 3 26 2 26 0 26 1 26 0 26 0 26 2 26 2 26 3 26 4 26 4 26 4 26 5 26 5 26 7 26 8 26 10 26 12 26 15 26 20 26 26 26 30 10 14 10 14 10 16 10 18 10 20 10 21 10 23 10 25 10 26 10 28 10 30 10 33 10 35 10 36 10 35 10 35 10 34 10 33 10 33 10 34 10 35 10 36 10 38 10 37 10 38 10 36 10 35 10 34 10 32 10 29 10 26 10 22 10 19 10 16 10 13 10 10 10 9 10 8 10 7 10 7 26 13 26 10 26 6 26 2 26-1 26-2 26-4 26-6 26-7 5-1"/>
<path stroke="#52B822" d="M704 3354l16 19 16 17 16 15 16 14 16 10 16 7 16 6 16 5 16 4 26 4 26 2 26-1 26-1 26-1 26-2 26-3 26-3 26-3 26-2 26-2 26-1 26 0 26 1 26 0 26 1 26 0 26-1 26-3 26-4 26-6 26-8 26-11 26-17 10-7 10-8 10-8 10-9 10-10 10-11 10-12 10-13 10-15 10-17 10-18 10-18 10-19 10-17 10-18 10-17 10-17 10-17 10-16 10-16 10-15 10-13 10-12 10-11 10-9 10-9 10-8 10-8 10-8 26-18 26-16 26-14 26-15 26-15 26-14 26-11 26-8 26-7 26-5 26-1 26 7 26 12 26 12 26 10 26 7 26 6 26 5 26 9 26 15 26 18 26 18 26 15 26 12 26 9 26 7 26 10 26 13 26 18 16 13 16 13 16 13 16 13 16 12 16 13 16 12 16 13 16 13 16 13 16 12 16 12 16 9 16 8 16 4 16 1 16-3 16-8 10-8 10-14 10-20 10-26 10-33 10-39 10-45 10-50 10-54 10-57 10-60 10-64 10-66 10-65 10-61 10-58 10-56 10-54 10-53 10-54 10-58 10-63 10-67 10-68 10-68 10-65 10-60 10-56 10-54 10-52 10-50 10-48 10-44 10-42 10-40 10-38 10-39 10-38 10-40 10-39 10-39 10-39 10-36 10-32 10-29 10-24 10-21 10-18 10-15 10-14 10-11 10-10 16-12 16-10 16-8 16-8 16-7 16-7 16-7 16-8 26-12 26-13 26-12 26-12 26-14 26-13 26-12 26-13 26-12 26-12 26-12 26-12 26-10 26-6 26-3 26 1 26 9 26 14 26 14 26 9 26 3 26 2 26 2 26 1 26 1 26 1 26 2 26 3 26 3 26 4 26 4 26 4 26 4 26 5 26 6 26 8 26 10 26 12 26 16 26 22 26 28 26 34 10 15 10 17 10 19 10 21 10 23 10 26 10 27 10 30 10 31 10 33 10 35 10 38 10 41 10 42 10 41 10 40 10 38 10 37 10 37 10 37 10 38 10 39 10 39 10 38 10 37 10 36 10 34 10 34 10 33 10 30 10 27 10 24 10 20 10 16 10 13 10 11 10 9 10 8 10 8 10 6 26 15 26 10 26 7 26 4 26 1 26 1 26-2 26-3 26-4 5-1"/>
<path stroke="#20BAF0" d="M704 3297l16 22 16 20 16 17 16 14 16 11 16 8 16 6 16 4 16 4 26 4 26 1 26-2 26-3 26-4 26-5 26-6 26-8 26-9 26-8 26-7 26-6 26-5 26-4 26-4 26-4 26-5 26-8 26-10 26-14 26-17 26-21 26-27 26-34 10-14 10-15 10-16 10-16 10-18 10-18 10-20 10-21 10-24 10-25 10-26 10-27 10-27 10-27 10-28 10-27 10-26 10-25 10-24 10-22 10-21 10-19 10-18 10-15 10-14 10-13 10-12 10-11 10-10 26-23 26-17 26-14 26-10 26-6 26-1 26 5 26 9 26 11 26 11 26 13 26 18 26 22 26 19 26 12 26 4 26-1 26-2 26 0 26 8 26 12 26 14 26 11 26 5 26 3 26 2 26 8 26 23 26 37 16 26 16 25 16 25 16 25 16 24 16 24 16 25 16 24 16 23 16 22 16 21 16 18 16 14 16 11 16 7 16 2 16-5 16-13 10-15 10-22 10-32 10-44 10-54 10-64 10-74 10-84 10-92 10-94 10-90 10-85 10-83 10-82 10-81 10-77 10-73 10-65 10-59 10-54 10-53 10-54 10-55 10-58 10-58 10-57 10-54 10-50 10-46 10-43 10-40 10-37 10-33 10-30 10-28 10-28 10-29 10-30 10-30 10-30 10-29 10-27 10-26 10-23 10-21 10-17 10-16 10-13 10-12 10-9 10-9 10-7 16-9 16-7 16-6 16-6 16-6 16-7 16-7 16-7 26-12 26-11 26-11 26-10 26-10 26-9 26-10 26-10 26-9 26-7 26-7 26-7 26-4 26 0 26 2 26 6 26 14 26 18 26 16 26 10 26 5 26 2 26 0 26-3 26-4 26-4 26-2 26-1 26 1 26 4 26 4 26 5 26 6 26 9 26 12 26 12 26 14 26 15 26 17 26 21 26 28 26 32 10 15 10 15 10 17 10 18 10 20 10 22 10 24 10 25 10 27 10 28 10 29 10 32 10 34 10 35 10 36 10 35 10 35 10 35 10 34 10 35 10 36 10 37 10 39 10 39 10 41 10 40 10 39 10 36 10 32 10 29 10 26 10 23 10 19 10 17 10 14 10 12 10 10 10 9 10 8 10 7 26 16 26 12 26 9 26 6 26 5 26 3 26 3 26 1 26 0 5 0"/>
<path stroke="#D41440" d="M704 3217l16 25 16 21 16 16 16 13 16 10 16 6 16 4 16 1 16 0 26 1 26-3 26-6 26-8 26-7 26-9 26-10 26-13 26-14 26-11 26-10 26-9 26-6 26-4 26-4 26-4 26-6 26-9 26-10 26-15 26-18 26-25 26-31 26-38 10-17 10-18 10-18 10-20 10-21 10-22 10-24 10-26 10-27 10-30 10-30 10-32 10-32 10-32 10-33 10-32 10-31 10-29 10-26 10-25 10-23 10-21 10-19 10-17 10-16 10-14 10-12 10-12 10-10 26-23 26-16 26-13 26-8 26-5 26-2 26 4 26 8 26 8 26 8 26 10 26 15 26 19 26 17 26 10 26 4 26 0 26 0 26 6 26 14 26 21 26 23 26 18 26 11 26 5 26 2 26 7 26 26 26 44 16 30 16 30 16 28 16 28 16 27 16 28 16 28 16 27 16 27 16 26 16 23 16 19 16 16 16 12 16 7 16 1 16-6 16-15 10-16 10-26 10-38 10-53 10-66 10-78 10-91 10-104 10-114 10-116 10-108 10-98 10-93 10-92 10-90 10-86 10-78 10-66 10-54 10-46 10-42 10-40 10-40 10-43 10-46 10-46 10-44 10-40 10-37 10-33 10-30 10-27 10-22 10-20 10-19 10-19 10-21 10-21 10-22 10-22 10-20 10-20 10-18 10-15 10-14 10-12 10-10 10-9 10-7 10-5 10-5 10-4 16-4 16-3 16-2 16-1 16-2 16-2 16-3 16-4 26-5 26-6 26-6 26-5 26-6 26-6 26-8 26-10 26-10 26-11 26-11 26-12 26-9 26-6 26-3 26 2 26 11 26 16 26 15 26 11 26 6 26 3 26 0 26-3 26-4 26-3 26-2 26 0 26 2 26 3 26 4 26 4 26 2 26 5 26 6 26 6 26 7 26 8 26 11 26 15 26 22 26 29 10 14 10 17 10 18 10 21 10 23 10 25 10 28 10 31 10 32 10 34 10 36 10 38 10 40 10 41 10 43 10 41 10 41 10 41 10 39 10 39 10 39 10 40 10 39 10 40 10 41 10 39 10 39 10 36 10 32 10 28 10 25 10 22 10 19 10 16 10 13 10 12 10 9 10 9 10 7 10 7 26 15 26 12 26 10 26 7 26 7 26 6 26 5 26 4 26 3 5 1"/>
<path stroke="#0A6CD6" d="M704 3366l16 18 16 17 16 16 16 13 16 11 16 7 16 6 16 6 16 5 26 5 26 2 26 1 26 0 26-1 26-1 26-1 26 0 26-1 26 0 26 0 26 1 26 2 26 1 26 0 26 1 26-1 26-1 26-2 26-5 26-5 26-7 26-11 26-15 10-7 10-7 10-8 10-8 10-10 10-10 10-11 10-13 10-15 10-16 10-18 10-18 10-18 10-18 10-17 10-17 10-17 10-17 10-17 10-17 10-15 10-15 10-12 10-12 10-10 10-10 10-9 10-9 10-9 26-20 26-18 26-16 26-15 26-14 26-13 26-10 26-6 26-5 26-3 26 1 26 9 26 14 26 14 26 10 26 7 26 4 26 4 26 7 26 12 26 15 26 15 26 12 26 10 26 7 26 7 26 9 26 15 26 18 16 13 16 14 16 14 16 14 16 14 16 13 16 14 16 13 16 14 16 13 16 14 16 12 16 11 16 9 16 5 16 2 16-2 16-9 10-10 10-15 10-21 10-27 10-34 10-40 10-47 10-51 10-56 10-59 10-62 10-66 10-69 10-67 10-65 10-62 10-60 10-59 10-58 10-60 10-63 10-67 10-70 10-73 10-71 10-68 10-63 10-59 10-55 10-54 10-51 10-48 10-45 10-43 10-40 10-38 10-39 10-39 10-39 10-39 10-39 10-38 10-35 10-32 10-28 10-24 10-21 10-17 10-15 10-13 10-10 10-10 16-11 16-9 16-7 16-6 16-6 16-6 16-6 16-7 26-11 26-11 26-11 26-11 26-13 26-12 26-12 26-13 26-12 26-12 26-13 26-12 26-10 26-7 26-4 26 0 26 9 26 13 26 13 26 8 26 2 26 1 26 0 26 0 26-1 26-1 26 0 26 1 26 2 26 4 26 4 26 4 26 5 26 6 26 9 26 10 26 11 26 14 26 18 26 23 26 28 26 35 10 15 10 17 10 19 10 21 10 24 10 26 10 28 10 30 10 32 10 33 10 36 10 39 10 41 10 42 10 42 10 40 10 39 10 38 10 37 10 37 10 38 10 38 10 39 10 37 10 37 10 35 10 34 10 34 10 31 10 29 10 27 10 22 10 19 10 16 10 12 10 10 10 9 10 7 10 7 10 7 26 14 26 10 26 8 26 4 26 3 26 1 26 0 26-1 26-2 5-1"/>
<path stroke="#FA5A12" d="M704 3364l16 20 16 19 16 18 16 15 16 12 16 9 16 8 16 7 16 5 26 7 26 4 26 2 26 0 26-1 26-4 26-5 26-6 26-8 26-9 26-8 26-8 26-6 26-4 26-3 26 0 26 0 26 2 26 1 26 1 26 0 26-1 26-4 26-8 10-5 10-5 10-5 10-7 10-8 10-9 10-10 10-13 10-15 10-16 10-18 10-18 10-18 10-18 10-18 10-17 10-18 10-17 10-18 10-17 10-17 10-15 10-14 10-12 10-12 10-11 10-10 10-11 10-9 26-24 26-21 26-19 26-18 26-18 26-17 26-13 26-10 26-9 26-6 26-2 26 7 26 12 26 12 26 10 26 8 26 7 26 8 26 12 26 19 26 23 26 23 26 19 26 14 26 11 26 8 26 9 26 14 26 19 16 13 16 14 16 13 16 13 16 13 16 13 16 12 16 12 16 13 16 12 16 13 16 11 16 10 16 8 16 4 16 0 16-4 16-10 10-11 10-16 10-23 10-31 10-37 10-45 10-51 10-59 10-65 10-69 10-73 10-77 10-81 10-80 10-80 10-79 10-77 10-75 10-73 10-72 10-74 10-75 10-77 10-77 10-76 10-73 10-67 10-62 10-57 10-53 10-49 10-46 10-41 10-39 10-36 10-35 10-35 10-36 10-35 10-36 10-34 10-32 10-31 10-27 10-24 10-21 10-19 10-15 10-14 10-11 10-10 10-8 16-11 16-9 16-6 16-7 16-6 16-6 16-6 16-7 26-11 26-10 26-10 26-10 26-10 26-10 26-11 26-12 26-12 26-11 26-12 26-11 26-9 26-6 26-3 26 2 26 10 26 15 26 14 26 10 26 5 26 2 26 0 26-2 26-3 26-2 26-1 26 0 26 2 26 4 26 5 26 6 26 8 26 11 26 13 26 14 26 15 26 17 26 20 26 23 26 29 26 33 10 15 10 15 10 16 10 18 10 18 10 21 10 21 10 23 10 25 10 25 10 27 10 30 10 31 10 32 10 33 10 33 10 33 10 32 10 33 10 33 10 35 10 36 10 38 10 39 10 41 10 40 10 38 10 37 10 32 10 29 10 26 10 22 10 20 10 17 10 14 10 12 10 10 10 9 10 8 10 7 26 15 26 12 26 9 26 6 26 4 26 2 26 2 26-1 26-1 5 0"/>
<path stroke="#FBB414" d="M704 3266l16 24 16 20 16 17 16 14 16 11 16 7 16 5 16 3 16 3 26 3 26-1 26-3 26-5 26-5 26-7 26-9 26-12 26-12 26-11 26-10 26-10 26-6 26-5 26-4 26-3 26-4 26-6 26-8 26-11 26-14 26-19 26-25 26-31 10-13 10-15 10-15 10-16 10-18 10-18 10-21 10-22 10-24 10-26 10-27 10-28 10-28 10-28 10-29 10-28 10-27 10-26 10-24 10-23 10-22 10-19 10-18 10-16 10-14 10-13 10-12 10-12 10-10 26-22 26-17 26-13 26-9 26-6 26-3 26 2 26 5 26 6 26 7 26 9 26 15 26 18 26 16 26 12 26 5 26 2 26 2 26 6 26 13 26 19 26 19 26 16 26 10 26 6 26 4 26 9 26 22 26 37 16 26 16 25 16 25 16 24 16 24 16 25 16 25 16 24 16 24 16 23 16 21 16 18 16 16 16 11 16 8 16 3 16-2 16-10 10-12 10-19 10-29 10-40 10-49 10-59 10-68 10-78 10-84 10-86 10-83 10-79 10-77 10-74 10-71 10-66 10-60 10-53 10-46 10-43 10-42 10-44 10-47 10-50 10-51 10-50 10-47 10-44 10-42 10-40 10-37 10-34 10-31 10-28 10-26 10-26 10-26 10-27 10-28 10-27 10-28 10-27 10-25 10-23 10-19 10-16 10-14 10-11 10-9 10-8 10-7 10-5 16-8 16-7 16-6 16-5 16-5 16-5 16-6 16-5 26-10 26-11 26-10 26-11 26-11 26-12 26-11 26-12 26-13 26-13 26-15 26-14 26-13 26-9 26-6 26-1 26 8 26 13 26 13 26 8 26 4 26 2 26 1 26 1 26 0 26 1 26 2 26 2 26 3 26 5 26 4 26 5 26 5 26 6 26 9 26 10 26 12 26 14 26 18 26 23 26 29 26 34 10 15 10 17 10 19 10 21 10 23 10 25 10 27 10 30 10 31 10 32 10 35 10 38 10 40 10 41 10 41 10 39 10 38 10 37 10 36 10 37 10 37 10 38 10 38 10 38 10 37 10 34 10 34 10 32 10 30 10 28 10 24 10 21 10 17 10 13 10 11 10 8 10 7 10 6 10 6 10 5 26 12 26 11 26 8 26 5 26 4 26 3 26 2 26 2 26 1 5 0"/>
<path stroke="#A02CBC" d="M704 3217l16 25 16 21 16 17 16 13 16 10 16 6 16 4 16 1 16 1 26 1 26-2 26-5 26-7 26-6 26-7 26-8 26-11 26-10 26-9 26-7 26-6 26-4 26-3 26-3 26-4 26-7 26-9 26-13 26-17 26-22 26-29 26-35 26-43 10-19 10-19 10-21 10-21 10-23 10-23 10-26 10-27 10-30 10-31 10-32 10-34 10-34 10-34 10-35 10-34 10-33 10-32 10-29 10-27 10-25 10-24 10-21 10-19 10-18 10-16 10-14 10-13 10-12 26-26 26-19 26-14 26-8 26-3 26 0 26 7 26 11 26 11 26 12 26 14 26 17 26 21 26 18 26 12 26 5 26 1 26 2 26 7 26 15 26 22 26 23 26 19 26 11 26 6 26 3 26 7 26 26 26 44 16 30 16 30 16 28 16 28 16 27 16 29 16 28 16 29 16 27 16 27 16 23 16 20 16 16 16 12 16 8 16 2 16-3 16-11 10-13 10-22 10-34 10-47 10-59 10-69 10-81 10-92 10-101 10-100 10-94 10-86 10-82 10-80 10-78 10-73 10-67 10-57 10-47 10-42 10-39 10-39 10-40 10-43 10-46 10-45 10-43 10-40 10-36 10-33 10-30 10-27 10-23 10-20 10-19 10-20 10-20 10-21 10-21 10-22 10-22 10-20 10-20 10-17 10-15 10-12 10-11 10-8 10-7 10-6 10-5 10-5 16-7 16-6 16-6 16-6 16-7 16-7 16-7 16-8 26-14 26-14 26-13 26-13 26-12 26-12 26-11 26-11 26-10 26-8 26-9 26-8 26-5 26-2 26 1 26 5 26 13 26 17 26 16 26 9 26 4 26 2 26-1 26-2 26-4 26-2 26-2 26 0 26 2 26 4 26 4 26 6 26 6 26 9 26 12 26 12 26 15 26 16 26 20 26 25 26 30 26 36 10 15 10 17 10 19 10 21 10 22 10 25 10 27 10 29 10 30 10 32 10 33 10 37 10 38 10 40 10 39 10 39 10 38 10 36 10 37 10 36 10 37 10 38 10 39 10 38 10 37 10 37 10 34 10 33 10 29 10 27 10 23 10 19 10 16 10 13 10 10 10 8 10 6 10 6 10 5 10 4 26 12 26 11 26 10 26 9 26 8 26 9 26 9 26 8 26 9 5 2"/>
<path stroke="#52B822" d="M704 3292l16 21 16 19 16 16 16 13 16 10 16 7 16 5 16 3 16 3 26 2 26 0 26-2 26-4 26-4 26-5 26-5 26-6 26-6 26-4 26-4 26-2 26 0 26 0 26 1 26 1 26 0 26-1 26-3 26-5 26-8 26-10 26-15 26-21 10-9 10-10 10-11 10-12 10-13 10-14 10-16 10-18 10-20 10-22 10-24 10-26 10-26 10-27 10-27 10-28 10-28 10-27 10-28 10-26 10-26 10-24 10-23 10-22 10-20 10-19 10-18 10-18 10-16 26-37 26-30 26-21 26-13 26-7 26-2 26 5 26 9 26 10 26 12 26 13 26 19 26 22 26 19 26 12 26 5 26 0 26-2 26 2 26 9 26 13 26 14 26 12 26 6 26 4 26 2 26 9 26 21 26 35 16 24 16 24 16 23 16 23 16 22 16 23 16 23 16 22 16 22 16 21 16 20 16 17 16 14 16 11 16 6 16 2 16-3 16-10 10-11 10-18 10-27 10-37 10-46 10-55 10-63 10-72 10-79 10-81 10-80 10-79 10-79 10-78 10-76 10-74 10-69 10-64 10-59 10-56 10-56 10-58 10-60 10-62 10-63 10-61 10-57 10-53 10-49 10-46 10-44 10-41 10-37 10-35 10-33 10-33 10-34 10-34 10-34 10-34 10-34 10-31 10-30 10-27 10-24 10-21 10-18 10-16 10-13 10-11 10-10 10-8 16-10 16-6 16-5 16-5 16-4 16-5 16-5 16-6 26-9 26-9 26-8 26-9 26-8 26-9 26-9 26-10 26-8 26-6 26-4 26-3 26 0 26 3 26 6 26 9 26 16 26 18 26 16 26 9 26 3 26 0 26-2 26-3 26-5 26-5 26-4 26-3 26-1 26 0 26 2 26 1 26 1 26 4 26 5 26 6 26 7 26 9 26 12 26 18 26 24 26 31 10 14 10 16 10 18 10 20 10 23 10 24 10 26 10 29 10 30 10 32 10 34 10 36 10 39 10 40 10 40 10 40 10 39 10 38 10 38 10 38 10 39 10 39 10 40 10 41 10 41 10 40 10 38 10 37 10 33 10 30 10 27 10 24 10 20 10 17 10 15 10 12 10 10 10 9 10 9 10 7 26 16 26 11 26 7 26 4 26 1 26-1 26-3 26-4 26-6 5-2"/>
<path stroke="#20BAF0" d="M704 3273l16 22 16 19 16 16 16 13 16 10 16 6 16 4 16 3 16 2 26 1 26-1 26-4 26-5 26-5 26-6 26-8 26-9 26-10 26-8 26-7 26-6 26-4 26-3 26-3 26-3 26-5 26-7 26-10 26-13 26-17 26-21 26-28 26-35 10-15 10-15 10-17 10-18 10-18 10-20 10-21 10-23 10-25 10-26 10-27 10-29 10-28 10-29 10-29 10-28 10-27 10-26 10-24 10-22 10-21 10-19 10-18 10-15 10-14 10-12 10-12 10-10 10-10 26-21 26-16 26-14 26-10 26-9 26-8 26-4 26-1 26 0 26 0 26 3 26 10 26 15 26 15 26 10 26 6 26 2 26 3 26 8 26 16 26 23 26 24 26 20 26 13 26 8 26 5 26 9 26 26 26 41 16 28 16 27 16 27 16 25 16 26 16 25 16 26 16 24 16 25 16 23 16 22 16 18 16 15 16 11 16 7 16 2 16-4 16-13 10-14 10-21 10-32 10-44 10-55 10-65 10-76 10-86 10-96 10-98 10-94 10-91 10-88 10-89 10-89 10-86 10-81 10-73 10-65 10-60 10-58 10-57 10-58 10-59 10-61 10-60 10-56 10-52 10-47 10-43 10-40 10-36 10-33 10-29 10-28 10-28 10-29 10-30 10-30 10-30 10-28 10-26 10-25 10-22 10-19 10-18 10-15 10-13 10-12 10-9 10-8 10-7 16-8 16-5 16-4 16-3 16-3 16-4 16-4 16-4 26-7 26-7 26-5 26-5 26-4 26-5 26-6 26-8 26-7 26-7 26-6 26-6 26-4 26 0 26 2 26 7 26 14 26 19 26 17 26 12 26 6 26 3 26 0 26-3 26-5 26-4 26-3 26-1 26 1 26 3 26 4 26 3 26 3 26 6 26 7 26 7 26 8 26 8 26 10 26 13 26 19 26 27 10 12 10 14 10 15 10 16 10 18 10 20 10 21 10 24 10 25 10 26 10 28 10 30 10 31 10 33 10 34 10 35 10 35 10 35 10 35 10 35 10 35 10 38 10 39 10 41 10 42 10 43 10 41 10 37 10 33 10 28 10 24 10 22 10 19 10 16 10 15 10 12 10 10 10 9 10 8 10 7 26 16 26 13 26 12 26 11 26 11 26 11 26 10 26 10 26 9 5 1"/>
<path stroke="#D41440" d="M704 3317l16 21 16 18 16 16 16 13 16 10 16 7 16 5 16 4 16 3 26 3 26 1 26-2 26-3 26-3 26-4 26-5 26-5 26-6 26-5 26-4 26-3 26-2 26-1 26-1 26-2 26-3 26-5 26-8 26-10 26-13 26-17 26-22 26-27 10-12 10-13 10-13 10-14 10-15 10-16 10-18 10-18 10-21 10-22 10-24 10-24 10-24 10-25 10-24 10-24 10-23 10-22 10-22 10-20 10-19 10-17 10-16 10-14 10-13 10-11 10-11 10-10 10-9 26-21 26-16 26-14 26-10 26-7 26-4 26 1 26 5 26 7 26 7 26 10 26 16 26 19 26 17 26 12 26 5 26 2 26 0 26 3 26 9 26 14 26 14 26 11 26 7 26 5 26 4 26 8 26 18 26 28 16 20 16 20 16 19 16 19 16 19 16 19 16 19 16 19 16 19 16 18 16 17 16 15 16 13 16 9 16 7 16 2 16-3 16-7 10-9 10-16 10-23 10-31 10-40 10-47 10-54 10-62 10-67 10-71 10-71 10-73 10-73 10-73 10-71 10-68 10-65 10-61 10-57 10-57 10-57 10-60 10-63 10-64 10-65 10-62 10-58 10-54 10-50 10-47 10-44 10-41 10-38 10-34 10-33 10-31 10-32 10-32 10-32 10-32 10-32 10-30 10-29 10-26 10-22 10-19 10-16 10-13 10-11 10-9 10-8 10-7 16-8 16-7 16-5 16-3 16-4 16-3 16-3 16-3 26-5 26-6 26-6 26-6 26-9 26-9 26-10 26-12 26-12 26-12 26-13 26-12 26-11 26-6 26-4 26 0 26 9 26 14 26 13 26 8 26 4 26 3 26 3 26 3 26 2 26 3 26 3 26 4 26 5 26 4 26 5 26 4 26 4 26 6 26 7 26 8 26 10 26 13 26 15 26 22 26 27 26 33 10 14 10 16 10 17 10 20 10 21 10 23 10 25 10 27 10 28 10 30 10 32 10 35 10 37 10 39 10 37 10 37 10 36 10 35 10 34 10 35 10 36 10 38 10 38 10 38 10 37 10 38 10 36 10 35 10 34 10 31 10 29 10 25 10 22 10 18 10 15 10 13 10 12 10 10 10 9 10 8 26 17 26 10 26 6 26 0 26-2 26-5 26-8 26-10 26-12 5-3"/>
<path stroke="#0A6CD6" d="M704 3329l16 21 16 20 16 18 16 16 16 12 16 9 16 7 16 6 16 6 26 6 26 3 26 1 26-1 26-2 26-4 26-4 26-7 26-7 26-6 26-7 26-6 26-5 26-3 26-3 26-3 26-4 26-4 26-7 26-10 26-11 26-14 26-19 26-25 10-10 10-11 10-12 10-13 10-13 10-15 10-16 10-17 10-20 10-21 10-22 10-23 10-22 10-23 10-23 10-22 10-22 10-21 10-21 10-19 10-18 10-17 10-15 10-14 10-12 10-11 10-11 10-9 10-10 26-21 26-16 26-14 26-12 26-8 26-2 26 5 26 10 26 11 26 12 26 14 26 21 26 24 26 20 26 12 26 6 26 1 26 0 26 4 26 10 26 15 26 15 26 12 26 8 26 4 26 4 26 9 26 17 26 26 16 18 16 19 16 18 16 18 16 17 16 17 16 17 16 17 16 16 16 17 16 16 16 15 16 12 16 10 16 6 16 2 16-5 16-15 10-16 10-23 10-31 10-41 10-51 10-61 10-70 10-80 10-88 10-91 10-91 10-89 10-89 10-88 10-86 10-84 10-79 10-74 10-68 10-65 10-63 10-65 10-65 10-67 10-68 10-66 10-63 10-58 10-55 10-51 10-49 10-45 10-43 10-39 10-37 10-38 10-38 10-38 10-39 10-38 10-36 10-34 10-32 10-29 10-26 10-23 10-21 10-18 10-15 10-13 10-11 10-9 16-11 16-5 16-3 16-2 16-3 16-2 16-3 16-3 26-4 26-3 26-3 26-2 26-3 26-4 26-6 26-8 26-9 26-8 26-8 26-8 26-5 26-3 26 0 26 5 26 13 26 17 26 16 26 10 26 4 26 1 26-2 26-6 26-8 26-8 26-5 26-5 26-1 26 1 26 4 26 3 26 6 26 8 26 10 26 10 26 12 26 12 26 14 26 17 26 24 26 31 10 13 10 16 10 17 10 18 10 21 10 22 10 24 10 27 10 28 10 29 10 31 10 33 10 35 10 36 10 37 10 38 10 37 10 37 10 36 10 37 10 37 10 38 10 39 10 41 10 42 10 41 10 40 10 36 10 32 10 27 10 24 10 20 10 18 10 15 10 13 10 11 10 9 10 8 10 6 10 6 26 13 26 11 26 9 26 6 26 4 26 4 26 3 26 2 26 1 5 0"/>
<path stroke="#FA5A12" d="M704 3310l16 22 16 20 16 17 16 15 16 12 16 8 16 7 16 5 16 5 26 5 26 2 26 0 26-2 26-2 26-4 26-4 26-5 26-6 26-6 26-4 26-4 26-3 26-2 26-1 26-2 26-2 26-4 26-7 26-9 26-12 26-15 26-20 26-26 10-12 10-12 10-13 10-14 10-14 10-16 10-18 10-19 10-21 10-23 10-25 10-25 10-26 10-25 10-26 10-26 10-25 10-25 10-24 10-23 10-22 10-20 10-19 10-17 10-15 10-15 10-13 10-13 10-12 26-27 26-22 26-17 26-12 26-9 26-4 26 1 26 4 26 7 26 7 26 10 26 16 26 20 26 17 26 12 26 4 26 0 26-1 26 2 26 9 26 13 26 14 26 11 26 7 26 3 26 3 26 9 26 21 26 34 16 24 16 23 16 24 16 23 16 22 16 23 16 22 16 23 16 21 16 21 16 19 16 17 16 15 16 10 16 7 16 2 16-3 16-11 10-11 10-18 10-27 10-36 10-45 10-53 10-61 10-70 10-77 10-79 10-78 10-78 10-77 10-77 10-75 10-72 10-68 10-63 10-58 10-56 10-57 10-59 10-61 10-63 10-63 10-62 10-57 10-53 10-50 10-47 10-44 10-42 10-38 10-35 10-33 10-32 10-34 10-34 10-34 10-34 10-33 10-32 10-30 10-28 10-24 10-21 10-18 10-16 10-14 10-12 10-10 10-9 16-12 16-10 16-8 16-8 16-8 16-8 16-8 16-9 26-14 26-13 26-13 26-11 26-12 26-10 26-11 26-10 26-10 26-9 26-8 26-8 26-5 26-2 26 0 26 5 26 13 26 17 26 15 26 9 26 4 26 1 26-1 26-4 26-4 26-4 26-3 26-2 26 1 26 2 26 4 26 5 26 5 26 9 26 10 26 12 26 12 26 15 26 17 26 21 26 27 26 32 10 15 10 16 10 17 10 19 10 21 10 22 10 25 10 26 10 28 10 29 10 31 10 33 10 36 10 36 10 37 10 37 10 36 10 35 10 36 10 35 10 36 10 38 10 38 10 40 10 40 10 39 10 38 10 36 10 32 10 29 10 26 10 23 10 19 10 16 10 14 10 12 10 10 10 8 10 8 10 7 26 16 26 11 26 9 26 5 26 4 26 2 26 1 26 0 26-2 5 0"/>
<path stroke="#FBB414" d="M704 3313l16 20 16 17 16 16 16 13 16 10 16 6 16 5 16 3 16 3 26 3 26 0 26-2 26-4 26-3 26-4 26-4 26-5 26-5 26-3 26-3 26-3 26-1 26 0 26-1 26-2 26-3 26-5 26-7 26-10 26-13 26-16 26-21 26-27 10-12 10-12 10-13 10-14 10-15 10-16 10-17 10-19 10-21 10-22 10-23 10-24 10-24 10-24 10-24 10-24 10-23 10-22 10-21 10-20 10-18 10-17 10-15 10-14 10-12 10-11 10-10 10-10 10-9 26-20 26-15 26-13 26-10 26-10 26-6 26-2 26 2 26 2 26 4 26 6 26 14 26 17 26 16 26 11 26 3 26-5 26-8 26-6 26-1 26 4 26 5 26 3 26-1 26-1 26 0 26 8 26 24 26 39 16 27 16 28 16 26 16 27 16 26 16 26 16 26 16 25 16 25 16 23 16 22 16 18 16 16 16 12 16 7 16 2 16-3 16-10 10-11 10-17 10-26 10-36 10-44 10-52 10-61 10-69 10-75 10-78 10-79 10-78 10-79 10-78 10-76 10-74 10-71 10-65 10-62 10-59 10-59 10-62 10-63 10-65 10-66 10-64 10-59 10-55 10-52 10-48 10-46 10-42 10-39 10-36 10-35 10-33 10-35 10-34 10-35 10-35 10-33 10-33 10-30 10-27 10-24 10-21 10-18 10-15 10-14 10-11 10-9 10-8 16-10 16-7 16-5 16-5 16-4 16-5 16-5 16-6 26-9 26-9 26-9 26-8 26-9 26-9 26-9 26-11 26-11 26-11 26-10 26-11 26-9 26-5 26-3 26 3 26 10 26 16 26 14 26 10 26 5 26 2 26 0 26-2 26-3 26-2 26-1 26 0 26 3 26 4 26 5 26 6 26 8 26 11 26 13 26 15 26 16 26 17 26 20 26 24 26 30 26 34 10 15 10 16 10 18 10 19 10 21 10 23 10 25 10 27 10 29 10 29 10 32 10 34 10 36 10 38 10 37 10 37 10 37 10 35 10 36 10 36 10 36 10 38 10 39 10 39 10 40 10 39 10 38 10 36 10 33 10 30 10 27 10 23 10 20 10 18 10 14 10 12 10 11 10 9 10 9 10 7 26 16 26 12 26 8 26 6 26 3 26 3 26 1 26 0 26-1 5-1"/>
<path stroke="#A02CBC" d="M704 3274l16 24 16 21 16 17 16 15 16 11 16 9 16 5 16 5 16 3 26 5 26 1 26-3 26-3 26-5 26-6 26-7 26-10 26-10 26-8 26-8 26-8 26-5 26-3 26-3 26-3 26-3 26-5 26-6 26-9 26-11 26-16 26-20 26-27 10-12 10-13 10-13 10-15 10-15 10-17 10-19 10-20 10-23 10-25 10-27 10-27 10-29 10-29 10-30 10-30 10-30 10-29 10-28 10-27 10-26 10-24 10-23 10-21 10-20 10-18 10-17 10-17 10-15 26-35 26-27 26-19 26-11 26-6 26-2 26 5 26 9 26 10 26 11 26 13 26 18 26 21 26 18 26 12 26 5 26 2 26 2 26 6 26 14 26 20 26 20 26 17 26 10 26 6 26 3 26 9 26 24 26 40 16 28 16 28 16 27 16 27 16 27 16 26 16 26 16 26 16 25 16 24 16 22 16 19 16 15 16 12 16 7 16 2 16-4 16-11 10-13 10-21 10-30 10-40 10-51 10-60 10-70 10-80 10-88 10-90 10-89 10-86 10-86 10-86 10-85 10-82 10-79 10-72 10-65 10-61 10-59 10-59 10-60 10-62 10-61 10-60 10-56 10-51 10-46 10-42 10-39 10-35 10-32 10-28 10-27 10-27 10-27 10-29 10-29 10-28 10-27 10-26 10-25 10-22 10-19 10-16 10-15 10-12 10-10 10-9 10-8 10-6 16-8 16-6 16-4 16-4 16-5 16-4 16-5 16-6 26-9 26-8 26-8 26-8 26-8 26-8 26-9 26-10 26-11 26-10 26-11 26-11 26-9 26-6 26-2 26 2 26 11 26 15 26 15 26 11 26 6 26 4 26 2 26 0 26-1 26 0 26 0 26 2 26 3 26 4 26 5 26 3 26 3 26 5 26 6 26 7 26 8 26 9 26 12 26 17 26 23 26 31 10 14 10 15 10 18 10 18 10 21 10 22 10 25 10 26 10 28 10 29 10 31 10 33 10 35 10 36 10 37 10 37 10 37 10 36 10 35 10 36 10 37 10 37 10 39 10 40 10 41 10 40 10 38 10 36 10 32 10 28 10 24 10 22 10 18 10 15 10 14 10 11 10 9 10 8 10 7 10 7 26 14 26 12 26 11 26 8 26 7 26 7 26 6 26 5 26 5 5 1"/>
<path stroke="#52B822" d="M704 3308l16 23 16 20 16 19 16 15 16 12 16 9 16 7 16 6 16 6 26 6 26 3 26 1 26-1 26-3 26-3 26-4 26-5 26-5 26-5 26-5 26-3 26-3 26-1 26-2 26-1 26-4 26-6 26-9 26-12 26-16 26-19 26-24 26-30 10-13 10-14 10-14 10-14 10-16 10-16 10-18 10-19 10-20 10-21 10-23 10-23 10-22 10-22 10-22 10-20 10-20 10-19 10-17 10-17 10-15 10-13 10-11 10-9 10-9 10-7 10-6 10-6 10-6 26-12 26-11 26-10 26-12 26-16 26-17 26-16 26-15 26-14 26-12 26-8 26 0 26 7 26 9 26 9 26 7 26 7 26 8 26 13 26 21 26 26 26 26 26 23 26 17 26 13 26 10 26 12 26 22 26 30 16 21 16 20 16 20 16 20 16 19 16 20 16 19 16 19 16 18 16 18 16 17 16 15 16 13 16 10 16 6 16 2 16-4 16-10 10-12 10-18 10-26 10-35 10-44 10-51 10-60 10-67 10-73 10-76 10-76 10-75 10-76 10-75 10-73 10-71 10-67 10-63 10-59 10-57 10-58 10-60 10-63 10-65 10-64 10-62 10-58 10-54 10-49 10-47 10-43 10-39 10-35 10-32 10-29 10-28 10-28 10-28 10-28 10-29 10-28 10-27 10-25 10-22 10-19 10-16 10-13 10-11 10-9 10-7 10-7 10-5 16-9 16-7 16-8 16-7 16-9 16-9 16-10 16-10 26-18 26-19 26-18 26-17 26-17 26-16 26-13 26-12 26-10 26-9 26-9 26-8 26-5 26-2 26 1 26 4 26 12 26 16 26 15 26 7 26 2 26-2 26-3 26-6 26-5 26-6 26-5 26-3 26-1 26 2 26 4 26 6 26 8 26 11 26 15 26 16 26 18 26 20 26 23 26 27 26 32 26 36 10 16 10 16 10 17 10 20 10 20 10 23 10 24 10 26 10 28 10 28 10 31 10 33 10 35 10 37 10 36 10 35 10 34 10 33 10 33 10 33 10 34 10 35 10 37 10 36 10 36 10 35 10 34 10 32 10 30 10 27 10 23 10 20 10 17 10 13 10 11 10 9 10 7 10 6 10 6 10 5 26 12 26 9 26 7 26 3 26 3 26 1 26 0 26 0 26-2 5 0"/>
<path stroke="#20BAF0" d="M704 3258l16 22 16 19 16 15 16 12 16 10 16 6 16 3 16 2 16 1 26 1 26-2 26-5 26-6 26-6 26-6 26-6 26-9 26-7 26-6 26-5 26-4 26-2 26-1 26-2 26-3 26-5 26-7 26-10 26-13 26-18 26-22 26-28 26-35 10-15 10-16 10-17 10-18 10-19 10-20 10-21 10-23 10-26 10-26 10-28 10-28 10-28 10-29 10-28 10-28 10-26 10-25 10-24 10-21 10-20 10-18 10-16 10-14 10-13 10-11 10-10 10-9 10-9 26-18 26-14 26-12 26-10 26-12 26-13 26-12 26-9 26-10 26-8 26-5 26 2 26 8 26 11 26 9 26 6 26 3 26 5 26 9 26 18 26 24 26 26 26 21 26 15 26 10 26 7 26 11 26 27 26 43 16 29 16 28 16 28 16 27 16 26 16 27 16 27 16 27 16 25 16 25 16 23 16 19 16 16 16 12 16 8 16 3 16-4 16-11 10-12 10-21 10-31 10-43 10-54 10-64 10-74 10-84 10-93 10-94 10-90 10-84 10-83 10-81 10-79 10-76 10-70 10-62 10-54 10-50 10-47 10-48 10-50 10-52 10-53 10-53 10-49 10-45 10-41 10-39 10-35 10-31 10-28 10-25 10-22 10-23 10-23 10-24 10-25 10-24 10-24 10-23 10-21 10-19 10-16 10-14 10-12 10-9 10-8 10-7 10-5 10-5 16-7 16-7 16-5 16-5 16-5 16-5 16-5 16-6 26-10 26-10 26-9 26-10 26-9 26-10 26-10 26-11 26-10 26-9 26-9 26-9 26-6 26-3 26 0 26 4 26 12 26 16 26 15 26 8 26 4 26 1 26-1 26-3 26-3 26-3 26-2 26 0 26 1 26 2 26 4 26 5 26 5 26 7 26 10 26 11 26 12 26 14 26 17 26 21 26 27 26 32 10 14 10 15 10 16 10 18 10 19 10 21 10 22 10 24 10 26 10 27 10 29 10 31 10 33 10 34 10 35 10 34 10 34 10 33 10 33 10 34 10 35 10 37 10 38 10 39 10 40 10 39 10 39 10 36 10 34 10 31 10 28 10 25 10 21 10 19 10 15 10 14 10 12 10 10 10 10 10 8 26 18 26 13 26 10 26 6 26 4 26 3 26 2 26 0 26-1 5 0"/>
<path stroke="#D41440" d="M704 3295l16 24 16 21 16 18 16 15 16 12 16 9 16 7 16 5 16 5 26 6 26 2 26 0 26-2 26-3 26-4 26-5 26-6 26-7 26-6 26-5 26-5 26-3 26-1 26-2 26-2 26-3 26-5 26-7 26-10 26-13 26-17 26-21 26-27 10-12 10-13 10-13 10-14 10-15 10-16 10-17 10-19 10-21 10-22 10-23 10-24 10-23 10-24 10-23 10-23 10-22 10-21 10-20 10-19 10-18 10-16 10-14 10-12 10-11 10-10 10-10 10-8 10-8 26-18 26-15 26-12 26-12 26-10 26-8 26-4 26-1 26 1 26 2 26 5 26 11 26 16 26 15 26 11 26 7 26 6 26 7 26 10 26 17 26 22 26 21 26 18 26 13 26 9 26 8 26 9 26 15 26 22 16 15 16 16 16 14 16 15 16 14 16 15 16 16 16 15 16 16 16 15 16 15 16 13 16 11 16 8 16 5 16 2 16-1 16-3 10-6 10-11 10-18 10-25 10-33 10-38 10-44 10-50 10-54 10-57 10-59 10-64 10-65 10-65 10-62 10-60 10-58 10-55 10-53 10-55 10-56 10-61 10-64 10-66 10-65 10-62 10-57 10-52 10-49 10-47 10-43 10-39 10-35 10-32 10-30 10-28 10-28 10-28 10-28 10-29 10-29 10-29 10-26 10-24 10-20 10-16 10-14 10-10 10-9 10-8 10-6 10-6 16-8 16-9 16-8 16-8 16-8 16-8 16-8 16-9 26-15 26-16 26-15 26-16 26-17 26-16 26-14 26-13 26-13 26-11 26-12 26-12 26-9 26-5 26-3 26 1 26 9 26 13 26 13 26 6 26 1 26-2 26-2 26-2 26-3 26-2 26-1 26 0 26 1 26 3 26 4 26 6 26 7 26 11 26 13 26 15 26 17 26 20 26 25 26 30 26 34 26 38 10 16 10 17 10 19 10 21 10 23 10 24 10 27 10 28 10 30 10 31 10 34 10 37 10 40 10 40 10 39 10 38 10 36 10 34 10 35 10 34 10 36 10 38 10 37 10 37 10 34 10 33 10 32 10 30 10 30 10 29 10 25 10 21 10 17 10 14 10 10 10 8 10 7 10 6 10 5 10 5 26 12 26 10 26 8 26 5 26 3 26 4 26 2 26 2 26 1 5 0"/>
<path stroke="#0A6CD6" d="M704 3325l16 20 16 19 16 16 16 14 16 11 16 8 16 5 16 5 16 4 26 5 26 1 26-1 26-2 26-2 26-1 26-1 26-2 26-1 26 1 26 1 26 1 26 2 26 2 26 1 26-1 26-1 26-2 26-4 26-6 26-8 26-10 26-15 26-19 10-9 10-9 10-10 10-10 10-12 10-13 10-14 10-15 10-18 10-20 10-21 10-22 10-23 10-22 10-23 10-23 10-23 10-23 10-23 10-22 10-22 10-20 10-18 10-18 10-16 10-15 10-14 10-14 10-13 26-30 26-25 26-19 26-14 26-10 26-6 26-2 26 2 26 4 26 5 26 8 26 15 26 18 26 16 26 11 26 6 26 2 26 2 26 4 26 10 26 14 26 13 26 11 26 7 26 4 26 4 26 7 26 15 26 23 16 16 16 17 16 17 16 16 16 17 16 17 16 17 16 17 16 17 16 17 16 16 16 14 16 12 16 9 16 5 16 2 16-1 16-5 10-7 10-12 10-19 10-26 10-33 10-38 10-45 10-50 10-54 10-57 10-59 10-62 10-64 10-64 10-61 10-58 10-56 10-54 10-53 10-53 10-57 10-61 10-64 10-66 10-66 10-62 10-58 10-52 10-50 10-47 10-44 10-41 10-37 10-34 10-32 10-30 10-30 10-30 10-30 10-31 10-31 10-31 10-29 10-25 10-22 10-18 10-15 10-12 10-10 10-8 10-7 10-7 16-9 16-9 16-9 16-9 16-9 16-10 16-10 16-11 26-19 26-20 26-19 26-20 26-19 26-18 26-16 26-13 26-12 26-11 26-12 26-11 26-9 26-5 26-3 26 2 26 9 26 13 26 13 26 7 26 0 26-2 26-2 26-3 26-3 26-3 26-3 26-1 26 1 26 2 26 4 26 6 26 6 26 9 26 11 26 13 26 14 26 18 26 22 26 28 26 32 26 37 10 16 10 17 10 18 10 21 10 23 10 25 10 26 10 29 10 30 10 31 10 34 10 37 10 40 10 40 10 39 10 38 10 37 10 35 10 35 10 35 10 36 10 38 10 37 10 37 10 35 10 33 10 31 10 30 10 28 10 26 10 23 10 18 10 15 10 11 10 8 10 6 10 5 10 4 10 4 10 3 26 10 26 10 26 7 26 5 26 2 26 2 26 2 26 0 26 0 5 0"/>
<path stroke="#FA5A12" d="M704 3362l16 19 16 18 16 17 16 14 16 11 16 8 16 7 16 6 16 5 26 5 26 3 26 0 26-1 26-2 26-3 26-4 26-5 26-6 26-6 26-5 26-4 26-3 26-2 26-1 26-1 26 0 26-1 26-2 26-3 26-4 26-6 26-9 26-14 10-7 10-7 10-8 10-8 10-10 10-11 10-12 10-14 10-15 10-18 10-18 10-20 10-19 10-19 10-18 10-18 10-19 10-17 10-18 10-17 10-17 10-15 10-13 10-12 10-11 10-10 10-10 10-9 10-9 26-21 26-18 26-15 26-14 26-14 26-11 26-7 26-4 26-3 26 0 26 3 26 11 26 15 26 14 26 11 26 5 26 1 26 0 26 1 26 6 26 10 26 10 26 8 26 6 26 4 26 4 26 10 26 17 26 24 16 17 16 18 16 17 16 18 16 17 16 17 16 17 16 17 16 17 16 16 16 16 16 14 16 12 16 10 16 6 16 2 16-2 16-7 10-8 10-14 10-19 10-26 10-32 10-39 10-44 10-49 10-54 10-57 10-61 10-65 10-68 10-67 10-64 10-62 10-61 10-59 10-58 10-60 10-63 10-67 10-71 10-72 10-71 10-68 10-64 10-58 10-56 10-53 10-51 10-47 10-45 10-41 10-39 10-38 10-38 10-38 10-38 10-39 10-38 10-37 10-34 10-31 10-28 10-23 10-20 10-16 10-15 10-12 10-10 10-9 16-11 16-8 16-7 16-5 16-6 16-5 16-5 16-5 26-9 26-9 26-8 26-9 26-11 26-10 26-10 26-11 26-10 26-10 26-11 26-10 26-9 26-5 26-2 26 1 26 10 26 13 26 13 26 7 26 0 26-3 26-4 26-6 26-6 26-5 26-5 26-4 26-1 26 1 26 4 26 6 26 7 26 11 26 14 26 15 26 17 26 20 26 24 26 28 26 33 26 36 10 16 10 16 10 17 10 19 10 20 10 22 10 24 10 25 10 26 10 27 10 30 10 32 10 35 10 35 10 36 10 34 10 33 10 32 10 33 10 33 10 34 10 37 10 37 10 38 10 37 10 36 10 35 10 34 10 32 10 29 10 26 10 23 10 19 10 16 10 13 10 10 10 9 10 8 10 8 10 6 26 15 26 10 26 7 26 3 26 0 26-1 26-2 26-4 26-5 5-1"/>
<path stroke="#FBB414" d="M704 3240l16 23 16 21 16 16 16 13 16 10 16 7 16 4 16 1 16 2 26 1 26-2 26-5 26-6 26-6 26-5 26-7 26-8 26-8 26-6 26-4 26-4 26-2 26-1 26-1 26-4 26-6 26-10 26-14 26-18 26-23 26-29 26-36 26-43 10-18 10-19 10-20 10-21 10-22 10-22 10-24 10-26 10-27 10-29 10-29 10-30 10-31 10-30 10-31 10-30 10-28 10-26 10-25 10-22 10-21 10-18 10-17 10-14 10-13 10-12 10-10 10-9 10-8 26-18 26-13 26-11 26-8 26-7 26-3 26 2 26 7 26 7 26 7 26 10 26 15 26 19 26 17 26 11 26 3 26-3 26-5 26-1 26 7 26 13 26 15 26 11 26 5 26 1 26 0 26 7 26 25 26 43 16 30 16 29 16 28 16 27 16 26 16 28 16 28 16 27 16 27 16 25 16 24 16 19 16 16 16 13 16 8 16 3 16-4 16-11 10-14 10-22 10-34 10-46 10-59 10-70 10-80 10-93 10-101 10-103 10-98 10-90 10-87 10-86 10-85 10-82 10-75 10-65 10-57 10-50 10-47 10-47 10-48 10-50 10-53 10-53 10-50 10-46 10-43 10-39 10-37 10-33 10-31 10-28 10-27 10-27 10-29 10-30 10-31 10-29 10-29 10-27 10-26 10-23 10-20 10-19 10-16 10-14 10-13 10-10 10-9 10-8 16-9 16-6 16-4 16-4 16-4 16-5 16-5 16-6 26-9 26-8 26-7 26-6 26-6 26-6 26-8 26-8 26-9 26-8 26-8 26-7 26-5 26-2 26 1 26 6 26 15 26 19 26 17 26 13 26 7 26 5 26 1 26-2 26-3 26-3 26-2 26 0 26 2 26 3 26 4 26 5 26 4 26 8 26 10 26 9 26 11 26 12 26 13 26 17 26 23 26 29 10 14 10 15 10 16 10 17 10 20 10 21 10 23 10 25 10 27 10 28 10 29 10 31 10 33 10 34 10 35 10 36 10 35 10 36 10 35 10 35 10 35 10 37 10 38 10 40 10 41 10 40 10 40 10 35 10 32 10 26 10 23 10 20 10 17 10 15 10 13 10 10 10 9 10 8 10 6 10 6 26 13 26 10 26 9 26 6 26 4 26 4 26 3 26 2 26 2 5 0"/>
<path stroke="#A02CBC" d="M704 3331l16 19 16 18 16 16 16 14 16 10 16 7 16 6 16 4 16 4 26 4 26 1 26-1 26-2 26-3 26-3 26-4 26-4 26-5 26-4 26-3 26-3 26-1 26 0 26-1 26 0 26-1 26-2 26-4 26-7 26-8 26-11 26-15 26-20 10-9 10-9 10-10 10-11 10-12 10-13 10-14 10-16 10-17 10-19 10-21 10-20 10-21 10-21 10-20 10-21 10-19 10-20 10-18 10-18 10-17 10-15 10-14 10-12 10-11 10-10 10-9 10-9 10-9 26-19 26-15 26-13 26-12 26-10 26-8 26-4 26-1 26 0 26 2 26 4 26 13 26 16 26 16 26 11 26 6 26 2 26 2 26 4 26 12 26 15 26 16 26 12 26 8 26 5 26 3 26 8 26 15 26 23 16 16 16 16 16 16 16 16 16 15 16 16 16 15 16 15 16 16 16 15 16 14 16 14 16 11 16 8 16 4 16 1 16-3 16-10 10-10 10-16 10-23 10-32 10-39 10-46 10-54 10-61 10-67 10-70 10-73 10-75 10-78 10-79 10-78 10-77 10-76 10-73 10-70 10-69 10-70 10-72 10-74 10-75 10-74 10-71 10-66 10-60 10-56 10-51 10-48 10-44 10-41 10-37 10-36 10-34 10-35 10-35 10-35 10-35 10-34 10-32 10-30 10-27 10-23 10-21 10-18 10-15 10-13 10-11 10-9 10-8 16-10 16-6 16-5 16-4 16-4 16-4 16-4 16-5 26-7 26-7 26-6 26-7 26-7 26-8 26-9 26-11 26-11 26-11 26-12 26-12 26-9 26-7 26-3 26 1 26 10 26 15 26 14 26 10 26 4 26 3 26 0 26-1 26-2 26-2 26-1 26 1 26 1 26 4 26 4 26 4 26 6 26 8 26 10 26 11 26 12 26 14 26 16 26 21 26 26 26 32 10 14 10 15 10 15 10 17 10 18 10 19 10 20 10 22 10 23 10 25 10 25 10 28 10 30 10 31 10 32 10 31 10 32 10 32 10 32 10 32 10 34 10 36 10 38 10 40 10 41 10 42 10 40 10 37 10 34 10 30 10 27 10 24 10 21 10 18 10 16 10 13 10 12 10 10 10 9 10 9 26 17 26 12 26 9 26 6 26 4 26 3 26 2 26-1 26-2 5 0"/>
<path stroke="#52B822" d="M704 3249l16 23 16 20 16 16 16 13 16 9 16 7 16 4 16 1 16 2 26 1 26-2 26-5 26-6 26-7 26-6 26-8 26-10 26-10 26-9 26-7 26-6 26-4 26-3 26-2 26-4 26-5 26-8 26-11 26-14 26-18 26-23 26-30 26-37 10-16 10-17 10-17 10-19 10-20 10-21 10-22 10-25 10-26 10-27 10-29 10-29 10-29 10-29 10-30 10-28 10-27 10-26 10-23 10-22 10-19 10-18 10-16 10-14 10-12 10-11 10-10 10-8 10-8 26-18 26-12 26-11 26-9 26-8 26-4 26 2 26 5 26 5 26 6 26 9 26 14 26 18 26 17 26 10 26 5 26 1 26 0 26 5 26 12 26 19 26 20 26 16 26 9 26 5 26 3 26 8 26 23 26 39 16 26 16 26 16 26 16 24 16 25 16 25 16 25 16 25 16 25 16 23 16 22 16 18 16 15 16 12 16 7 16 3 16-3 16-10 10-12 10-19 10-30 10-42 10-52 10-63 10-72 10-83 10-91 10-93 10-91 10-86 10-84 10-84 10-83 10-80 10-74 10-66 10-59 10-54 10-52 10-53 10-53 10-56 10-57 10-56 10-53 10-49 10-44 10-42 10-37 10-33 10-29 10-25 10-23 10-23 10-23 10-24 10-24 10-24 10-22 10-22 10-20 10-17 10-15 10-12 10-11 10-8 10-7 10-6 10-4 10-4 16-6 16-4 16-4 16-3 16-4 16-4 16-4 16-4 26-8 26-8 26-8 26-8 26-8 26-9 26-10 26-10 26-12 26-12 26-12 26-13 26-11 26-8 26-5 26-1 26 9 26 13 26 12 26 8 26 2 26-1 26-3 26-5 26-7 26-6 26-4 26-3 26 0 26 3 26 3 26 6 26 7 26 12 26 13 26 15 26 17 26 18 26 20 26 25 26 29 26 34 10 15 10 16 10 17 10 19 10 21 10 22 10 25 10 27 10 28 10 29 10 31 10 34 10 35 10 37 10 37 10 37 10 36 10 36 10 35 10 35 10 37 10 37 10 39 10 39 10 40 10 40 10 39 10 37 10 34 10 31 10 27 10 25 10 21 10 19 10 16 10 13 10 12 10 10 10 10 10 8 26 18 26 12 26 8 26 6 26 4 26 3 26 1 26 0 26-1 5 0"/>
<path stroke="#20BAF0" d="M704 3324l16 22 16 21 16 18 16 15 16 12 16 9 16 7 16 6 16 5 26 6 26 3 26 0 26-1 26-4 26-5 26-8 26-10 26-12 26-12 26-11 26-11 26-8 26-6 26-4 26-2 26-1 26-1 26-2 26-3 26-4 26-7 26-11 26-16 10-8 10-8 10-10 10-10 10-11 10-13 10-15 10-16 10-19 10-20 10-22 10-22 10-23 10-22 10-23 10-22 10-22 10-21 10-21 10-20 10-19 10-17 10-16 10-14 10-13 10-12 10-11 10-11 10-10 26-23 26-19 26-16 26-13 26-10 26-6 26 0 26 3 26 5 26 7 26 9 26 16 26 20 26 17 26 11 26 6 26 2 26 1 26 3 26 10 26 15 26 14 26 12 26 8 26 5 26 5 26 9 26 18 26 27 16 19 16 19 16 19 16 19 16 19 16 18 16 18 16 19 16 18 16 17 16 17 16 15 16 13 16 9 16 6 16 3 16-5 16-12 10-14 10-19 10-28 10-37 10-46 10-54 10-62 10-70 10-76 10-78 10-77 10-76 10-75 10-75 10-72 10-70 10-66 10-62 10-58 10-57 10-57 10-60 10-63 10-65 10-64 10-62 10-59 10-54 10-50 10-48 10-46 10-43 10-39 10-37 10-35 10-35 10-35 10-36 10-35 10-36 10-35 10-34 10-32 10-29 10-25 10-22 10-18 10-17 10-14 10-11 10-10 10-9 16-10 16-7 16-5 16-5 16-4 16-4 16-3 16-4 26-7 26-7 26-6 26-6 26-8 26-9 26-9 26-11 26-12 26-11 26-11 26-12 26-9 26-5 26-4 26 2 26 10 26 14 26 13 26 8 26 2 26-2 26-3 26-6 26-6 26-7 26-5 26-3 26-1 26 1 26 4 26 6 26 7 26 11 26 14 26 16 26 17 26 20 26 23 26 27 26 33 26 38 10 16 10 18 10 19 10 21 10 23 10 25 10 27 10 29 10 30 10 32 10 33 10 37 10 38 10 40 10 39 10 39 10 37 10 37 10 36 10 36 10 37 10 38 10 38 10 38 10 38 10 36 10 34 10 33 10 29 10 27 10 23 10 19 10 16 10 13 10 10 10 8 10 6 10 6 10 5 10 4 26 12 26 11 26 9 26 7 26 6 26 6 26 6 26 5 26 5 5 1"/>
<path stroke="#D41440" d="M704 3250l16 26 16 21 16 19 16 14 16 12 16 9 16 6 16 4 16 3 26 4 26 1 26-3 26-4 26-5 26-7 26-8 26-10 26-10 26-10 26-8 26-7 26-5 26-4 26-3 26-3 26-4 26-5 26-7 26-10 26-13 26-18 26-23 26-29 10-13 10-14 10-15 10-16 10-16 10-19 10-19 10-22 10-25 10-26 10-29 10-30 10-31 10-32 10-33 10-33 10-33 10-32 10-31 10-30 10-29 10-28 10-25 10-24 10-23 10-22 10-20 10-18 10-18 26-40 26-30 26-22 26-10 26-2 26 4 26 10 26 16 26 17 26 17 26 19 26 23 26 24 26 20 26 13 26 5 26 3 26 2 26 7 26 15 26 19 26 21 26 17 26 11 26 6 26 4 26 9 26 23 26 38 16 26 16 26 16 25 16 25 16 25 16 26 16 26 16 25 16 25 16 24 16 21 16 19 16 16 16 11 16 9 16 3 16-3 16-10 10-11 10-20 10-29 10-41 10-52 10-60 10-70 10-80 10-86 10-88 10-83 10-78 10-74 10-72 10-67 10-62 10-55 10-46 10-40 10-36 10-35 10-38 10-41 10-45 10-46 10-46 10-44 10-41 10-39 10-39 10-36 10-33 10-29 10-28 10-25 10-25 10-26 10-26 10-27 10-27 10-27 10-27 10-25 10-23 10-19 10-17 10-13 10-11 10-9 10-8 10-7 10-6 16-9 16-7 16-8 16-8 16-8 16-8 16-9 16-10 26-16 26-17 26-17 26-16 26-16 26-15 26-14 26-12 26-10 26-9 26-8 26-7 26-5 26-1 26 2 26 5 26 13 26 16 26 14 26 8 26 2 26-1 26-1 26-2 26-2 26-2 26-1 26 0 26 2 26 2 26 4 26 4 26 5 26 8 26 9 26 11 26 13 26 16 26 19 26 25 26 30 26 36 10 15 10 17 10 18 10 21 10 23 10 25 10 27 10 29 10 31 10 32 10 34 10 38 10 40 10 40 10 41 10 38 10 38 10 36 10 36 10 36 10 37 10 38 10 38 10 37 10 37 10 35 10 34 10 32 10 31 10 29 10 26 10 22 10 18 10 15 10 11 10 10 10 7 10 7 10 6 10 6 26 12 26 8 26 5 26 2 26 0 26-1 26-3 26-4 26-5 5-1"/>
<path stroke="#0A6CD6" d="M704 3271l16 21 16 18 16 14 16 12 16 9 16 5 16 3 16 2 16 0 26 0 26-2 26-5 26-6 26-6 26-5 26-6 26-8 26-7 26-5 26-4 26-3 26-2 26-1 26-1 26-3 26-5 26-6 26-10 26-12 26-16 26-21 26-27 26-34 10-15 10-15 10-17 10-17 10-19 10-20 10-21 10-23 10-25 10-27 10-28 10-29 10-30 10-30 10-29 10-30 10-29 10-27 10-26 10-24 10-23 10-21 10-19 10-17 10-16 10-15 10-13 10-13 10-11 26-26 26-21 26-17 26-12 26-11 26-8 26-2 26 1 26 2 26 3 26 6 26 12 26 16 26 16 26 11 26 6 26 5 26 5 26 12 26 20 26 27 26 28 26 23 26 15 26 9 26 5 26 8 26 23 26 37 16 26 16 26 16 24 16 23 16 24 16 23 16 24 16 23 16 23 16 23 16 20 16 18 16 14 16 10 16 7 16 2 16-5 16-12 10-14 10-21 10-32 10-45 10-56 10-65 10-77 10-88 10-96 10-98 10-94 10-90 10-87 10-89 10-88 10-86 10-81 10-74 10-66 10-60 10-58 10-56 10-57 10-59 10-60 10-59 10-55 10-50 10-45 10-41 10-37 10-34 10-30 10-27 10-25 10-26 10-27 10-28 10-27 10-28 10-26 10-25 10-23 10-20 10-18 10-16 10-15 10-12 10-10 10-9 10-7 10-6 16-8 16-5 16-4 16-3 16-3 16-3 16-4 16-4 26-6 26-5 26-4 26-4 26-4 26-4 26-6 26-7 26-7 26-7 26-6 26-6 26-5 26-1 26 2 26 6 26 14 26 18 26 16 26 10 26 5 26 1 26-1 26-4 26-6 26-6 26-4 26-3 26 0 26 1 26 3 26 3 26 3 26 5 26 8 26 8 26 9 26 10 26 12 26 16 26 23 26 30 10 14 10 16 10 17 10 19 10 21 10 22 10 25 10 27 10 28 10 30 10 32 10 33 10 36 10 36 10 38 10 38 10 38 10 37 10 36 10 37 10 37 10 38 10 40 10 40 10 41 10 41 10 38 10 35 10 31 10 27 10 22 10 20 10 16 10 14 10 12 10 10 10 8 10 7 10 6 10 6 26 13 26 12 26 10 26 7 26 7 26 5 26 5 26 5 26 5 5 1"/>
<path stroke="#FA5A12" d="M704 3217l16 25 16 21 16 16 16 13 16 9 16 7 16 3 16 1 16 0 26 0 26-2 26-7 26-7 26-8 26-8 26-11 26-13 26-13 26-10 26-10 26-9 26-6 26-3 26-4 26-5 26-6 26-9 26-12 26-15 26-21 26-26 26-33 26-41 10-18 10-18 10-20 10-21 10-22 10-23 10-25 10-27 10-29 10-31 10-31 10-33 10-32 10-34 10-33 10-32 10-31 10-29 10-27 10-25 10-22 10-21 10-18 10-17 10-14 10-13 10-12 10-11 10-9 26-21 26-15 26-11 26-8 26-7 26-4 26 1 26 5 26 4 26 5 26 7 26 13 26 17 26 17 26 11 26 5 26 3 26 3 26 10 26 20 26 27 26 28 26 23 26 15 26 7 26 2 26 7 26 25 26 42 16 29 16 28 16 26 16 26 16 25 16 26 16 26 16 26 16 25 16 25 16 22 16 18 16 15 16 11 16 7 16 1 16-5 16-15 10-16 10-26 10-38 10-53 10-67 10-79 10-91 10-106 10-116 10-117 10-109 10-100 10-94 10-95 10-93 10-91 10-82 10-71 10-59 10-51 10-47 10-44 10-43 10-47 10-49 10-50 10-47 10-44 10-39 10-36 10-32 10-28 10-24 10-22 10-20 10-20 10-23 10-23 10-23 10-23 10-22 10-20 10-18 10-16 10-15 10-13 10-11 10-10 10-9 10-7 10-6 10-5 16-6 16-4 16-4 16-3 16-5 16-5 16-6 16-7 26-10 26-10 26-9 26-8 26-7 26-6 26-8 26-8 26-8 26-7 26-7 26-6 26-4 26-1 26 2 26 7 26 15 26 20 26 17 26 13 26 8 26 3 26 0 26-3 26-6 26-4 26-4 26-1 26 0 26 4 26 3 26 4 26 4 26 7 26 8 26 8 26 9 26 9 26 11 26 15 26 21 26 29 10 14 10 15 10 17 10 19 10 20 10 23 10 25 10 27 10 29 10 30 10 32 10 33 10 36 10 36 10 38 10 39 10 39 10 38 10 37 10 38 10 38 10 38 10 40 10 41 10 42 10 42 10 41 10 36 10 31 10 27 10 22 10 20 10 17 10 14 10 13 10 10 10 9 10 7 10 6 10 6 26 13 26 12 26 9 26 7 26 6 26 5 26 3 26 4 26 2 5 1"/>
<path stroke="#A02CBC" d="M704 3295l16 21 16 20 16 16 16 14 16 11 16 7 16 5 16 4 16 3 26 4 26 0 26-2 26-4 26-4 26-5 26-6 26-7 26-8 26-7 26-7 26-5 26-4 26-2 26-2 26-2 26-4 26-5 26-7 26-9 26-13 26-16 26-22 26-28 10-12 10-13 10-13 10-15 10-15 10-17 10-18 10-20 10-22 10-23 10-25 10-26 10-25 10-26 10-26 10-25 10-25 10-24 10-23 10-21 10-20 10-19 10-16 10-15 10-14 10-12 10-12 10-11 10-10 26-23 26-17 26-15 26-9 26-7 26-5 26-3 26-1 26 2 26 5 26 7 26 11 26 13 26 11 26 10 26 8 26 7 26 8 26 9 26 12 26 14 26 14 26 14 26 12 26 11 26 10 26 11 26 19 26 27 16 19 16 20 16 19 16 21 16 21 16 22 16 23 16 22 16 21 16 20 16 18 16 15 16 13 16 9 16 6 16 2 16-2 16-8 10-9 10-15 10-23 10-33 10-40 10-48 10-54 10-61 10-66 10-66 10-65 10-64 10-64 10-63 10-60 10-58 10-54 10-52 10-49 10-50 10-52 10-55 10-58 10-60 10-61 10-58 10-53 10-50 10-46 10-44 10-42 10-38 10-35 10-33 10-30 10-30 10-29 10-31 10-30 10-31 10-31 10-31 10-28 10-26 10-21 10-18 10-15 10-13 10-10 10-8 10-8 10-5 16-8 16-7 16-6 16-6 16-5 16-6 16-5 16-6 26-10 26-11 26-10 26-12 26-14 26-14 26-13 26-13 26-13 26-12 26-13 26-12 26-10 26-7 26-4 26 0 26 7 26 12 26 12 26 7 26 2 26 1 26 1 26 1 26 1 26 1 26 2 26 2 26 2 26 4 26 5 26 6 26 8 26 10 26 13 26 15 26 17 26 20 26 24 26 29 26 34 26 39 10 16 10 18 10 19 10 22 10 23 10 26 10 27 10 29 10 31 10 33 10 34 10 39 10 41 10 41 10 42 10 39 10 39 10 38 10 38 10 38 10 40 10 42 10 42 10 41 10 39 10 38 10 39 10 43 10 46 10 40 10 34 10 29 10 26 10 22 10 17 10 14 10 12 10 11 10 8 10 7 26 11 26 7 26 3 26-1 26-2 26-3 26-5 26-8 26-9 5-2"/>
<path stroke="#FBB414" d="M704 3262l16 23 16 20 16 17 16 13 16 10 16 7 16 5 16 3 16 2 26 2 26-1 26-4 26-5 26-6 26-7 26-8 26-10 26-11 26-10 26-8 26-8 26-5 26-4 26-4 26-4 26-5 26-8 26-10 26-13 26-17 26-23 26-28 26-35 10-15 10-16 10-17 10-18 10-19 10-20 10-22 10-23 10-26 10-27 10-28 10-29 10-29 10-30 10-29 10-29 10-28 10-27 10-24 10-23 10-21 10-20 10-17 10-16 10-14 10-12 10-11 10-11 10-9 26-20 26-15 26-12 26-7 26-6 26-2 26 3 26 7 26 7 26 7 26 11 26 16 26 20 26 19 26 13 26 8 26 5 26 5 26 10 26 20 26 25 26 25 26 21 26 14 26 7 26 4 26 8 26 21 26 36 16 24 16 24 16 23 16 22 16 22 16 22 16 23 16 22 16 21 16 21 16 20 16 17 16 13 16 11 16 6 16 2 16-6 16-14 10-15 10-23 10-34 10-47 10-58 10-69 10-80 10-91 10-101 10-104 10-99 10-94 10-92 10-92 10-90 10-88 10-82 10-73 10-65 10-58 10-56 10-55 10-55 10-57 10-58 10-58 10-56 10-50 10-47 10-43 10-39 10-37 10-32 10-30 10-28 10-28 10-29 10-31 10-30 10-30 10-28 10-27 10-24 10-22 10-20 10-18 10-15 10-14 10-12 10-10 10-8 10-7 16-8 16-5 16-3 16-3 16-3 16-4 16-4 16-5 26-7 26-7 26-5 26-5 26-5 26-5 26-7 26-8 26-9 26-8 26-8 26-7 26-6 26-2 26 1 26 5 26 14 26 18 26 16 26 11 26 6 26 1 26-2 26-6 26-7 26-7 26-6 26-4 26 0 26 2 26 3 26 4 26 6 26 8 26 10 26 11 26 12 26 13 26 14 26 17 26 24 26 31 10 14 10 16 10 18 10 19 10 21 10 22 10 26 10 27 10 28 10 31 10 31 10 34 10 35 10 37 10 37 10 39 10 38 10 37 10 38 10 37 10 37 10 39 10 39 10 41 10 42 10 42 10 41 10 37 10 33 10 28 10 25 10 21 10 19 10 17 10 14 10 12 10 10 10 9 10 8 10 7 26 16 26 13 26 10 26 9 26 8 26 7 26 6 26 6 26 5 5 0"/>
<path stroke="#A02CBC" d="M704 3231l16 24 16 20 16 16 16 13 16 10 16 7 16 3 16 2 16 1 26 0 26-2 26-5 26-7 26-7 26-8 26-9 26-11 26-11 26-9 26-9 26-7 26-5 26-3 26-3 26-4 26-6 26-9 26-12 26-16 26-21 26-26 26-34 26-41 10-17 10-19 10-19 10-20 10-22 10-23 10-24 10-26 10-28 10-30 10-30 10-32 10-32 10-32 10-32 10-31 10-30 10-29 10-26 10-24 10-22 10-20 10-18 10-16 10-15 10-13 10-11 10-10 10-10 26-20 26-14 26-11 26-6 26-4 26 0 26 5 26 9 26 9 26 9 26 12 26 16 26 19 26 18 26 11 26 5 26 2 26 2 26 6 26 14 26 20 26 20 26 17 26 11 26 4 26 2 26 6 26 22 26 39 16 27 16 25 16 25 16 25 16 24 16 26 16 26 16 25 16 25 16 24 16 22 16 18 16 14 16 11 16 6 16 2 16-3 16-9 10-10 10-18 10-29 10-42 10-51 10-61 10-71 10-81 10-87 10-88 10-83 10-78 10-75 10-75 10-72 10-69 10-63 10-56 10-47 10-44 10-42 10-43 10-45 10-48 10-48 10-48 10-45 10-40 10-36 10-34 10-29 10-26 10-21 10-19 10-16 10-16 10-16 10-18 10-17 10-18 10-19 10-18 10-16 10-15 10-12 10-10 10-7 10-5 10-5 10-3 10-3 10-4 16-5 16-8 16-8 16-8 16-8 16-9 16-10 16-10 26-19 26-19 26-19 26-18 26-19 26-18 26-16 26-14 26-15 26-14 26-15 26-15 26-12 26-9 26-5 26 0 26 8 26 14 26 14 26 8 26 4 26 1 26 1 26-1 26-1 26 0 26 1 26 2 26 4 26 6 26 6 26 8 26 8 26 12 26 14 26 15 26 17 26 20 26 22 26 28 26 32 26 37 10 15 10 16 10 18 10 20 10 22 10 24 10 25 10 28 10 28 10 30 10 33 10 35 10 37 10 38 10 38 10 37 10 35 10 35 10 34 10 35 10 35 10 37 10 37 10 37 10 37 10 35 10 34 10 32 10 30 10 28 10 25 10 21 10 18 10 14 10 12 10 9 10 8 10 7 10 6 10 6 26 13 26 11 26 8 26 6 26 5 26 5 26 4 26 3 26 2 5 0"/>
<path stroke="#52B822" d="M704 3280l16 23 16 21 16 18 16 14 16 12 16 8 16 6 16 4 16 4 26 5 26 1 26-2 26-3 26-4 26-5 26-6 26-8 26-8 26-7 26-7 26-5 26-4 26-2 26-2 26-2 26-3 26-5 26-7 26-9 26-12 26-15 26-20 26-27 10-11 10-12 10-13 10-14 10-15 10-16 10-17 10-19 10-21 10-22 10-24 10-24 10-24 10-24 10-24 10-23 10-23 10-21 10-20 10-20 10-17 10-17 10-14 10-13 10-11 10-10 10-10 10-8 10-9 26-18 26-15 26-13 26-12 26-13 26-12 26-10 26-7 26-6 26-5 26-2 26 7 26 11 26 13 26 10 26 6 26 2 26 3 26 8 26 14 26 21 26 20 26 17 26 11 26 7 26 4 26 9 26 19 26 32 16 22 16 21 16 21 16 20 16 20 16 21 16 20 16 20 16 20 16 19 16 18 16 16 16 12 16 10 16 5 16 2 16-5 16-13 10-14 10-21 10-31 10-42 10-52 10-61 10-71 10-81 10-88 10-90 10-88 10-82 10-81 10-80 10-78 10-75 10-69 10-62 10-56 10-52 10-51 10-52 10-55 10-56 10-58 10-56 10-54 10-49 10-46 10-44 10-41 10-37 10-34 10-31 10-30 10-29 10-30 10-31 10-31 10-31 10-30 10-29 10-27 10-24 10-22 10-19 10-16 10-14 10-12 10-10 10-9 10-7 16-10 16-8 16-6 16-6 16-7 16-6 16-7 16-7 26-12 26-11 26-11 26-10 26-10 26-10 26-10 26-10 26-8 26-7 26-5 26-4 26-1 26 2 26 4 26 9 26 15 26 18 26 16 26 10 26 4 26 1 26-1 26-3 26-4 26-3 26-2 26-1 26 0 26 3 26 3 26 5 26 4 26 8 26 10 26 10 26 12 26 13 26 15 26 20 26 26 26 31 10 13 10 15 10 17 10 17 10 20 10 21 10 23 10 24 10 26 10 28 10 29 10 31 10 33 10 35 10 34 10 35 10 34 10 34 10 33 10 33 10 35 10 36 10 37 10 38 10 38 10 38 10 37 10 34 10 31 10 27 10 23 10 20 10 18 10 14 10 13 10 10 10 9 10 7 10 7 10 6 26 14 26 12 26 9 26 8 26 7 26 6 26 5 26 5 26 5 5 1"/>
<path stroke="#20BAF0" d="M704 3241l16 25 16 21 16 17 16 14 16 11 16 7 16 5 16 3 16 2 26 2 26-1 26-5 26-5 26-7 26-8 26-10 26-13 26-13 26-12 26-12 26-10 26-7 26-5 26-4 26-4 26-5 26-6 26-8 26-11 26-14 26-19 26-26 26-32 10-15 10-15 10-16 10-18 10-18 10-20 10-22 10-24 10-26 10-29 10-30 10-31 10-32 10-32 10-33 10-33 10-32 10-31 10-29 10-28 10-26 10-25 10-22 10-21 10-19 10-18 10-17 10-15 10-15 26-31 26-24 26-17 26-9 26-5 26 0 26 6 26 10 26 11 26 11 26 14 26 17 26 21 26 19 26 12 26 4 26 1 26 1 26 5 26 13 26 20 26 21 26 17 26 10 26 5 26 2 26 8 26 25 26 42 16 29 16 29 16 27 16 27 16 27 16 28 16 27 16 28 16 27 16 26 16 23 16 20 16 17 16 12 16 9 16 4 16-2 16-9 10-10 10-19 10-30 10-41 10-53 10-63 10-73 10-84 10-92 10-95 10-92 10-88 10-86 10-86 10-85 10-81 10-76 10-68 10-60 10-54 10-52 10-51 10-53 10-55 10-56 10-55 10-53 10-48 10-44 10-40 10-36 10-31 10-27 10-23 10-21 10-20 10-21 10-22 10-21 10-21 10-20 10-20 10-17 10-16 10-13 10-11 10-9 10-7 10-6 10-5 10-4 10-4 16-6 16-6 16-5 16-6 16-6 16-6 16-8 16-8 26-13 26-13 26-13 26-12 26-11 26-11 26-11 26-10 26-10 26-8 26-9 26-8 26-6 26-2 26 0 26 4 26 13 26 17 26 15 26 10 26 4 26 2 26-1 26-3 26-5 26-4 26-2 26-2 26 1 26 2 26 4 26 3 26 4 26 7 26 8 26 8 26 10 26 12 26 14 26 19 26 25 26 32 10 14 10 16 10 17 10 19 10 21 10 23 10 25 10 26 10 29 10 29 10 32 10 33 10 36 10 37 10 38 10 37 10 36 10 37 10 35 10 36 10 37 10 38 10 38 10 40 10 40 10 39 10 38 10 34 10 31 10 28 10 24 10 20 10 18 10 15 10 12 10 10 10 8 10 8 10 6 10 6 26 14 26 12 26 11 26 11 26 11 26 11 26 11 26 10 26 10 5 2"/>
<path stroke="#D41440" d="M704 3268l16 23 16 19 16 16 16 13 16 10 16 7 16 4 16 3 16 2 26 2 26-1 26-4 26-5 26-5 26-5 26-6 26-8 26-7 26-6 26-5 26-4 26-2 26-1 26-2 26-2 26-5 26-6 26-9 26-12 26-15 26-20 26-26 26-32 10-14 10-15 10-15 10-17 10-17 10-19 10-20 10-22 10-24 10-25 10-26 10-26 10-27 10-27 10-26 10-26 10-25 10-23 10-22 10-20 10-18 10-17 10-15 10-13 10-11 10-11 10-9 10-8 10-8 26-17 26-14 26-11 26-11 26-11 26-10 26-6 26-4 26-4 26-2 26 0 26 7 26 12 26 11 26 8 26 3 26 0 26 1 26 4 26 13 26 19 26 20 26 16 26 10 26 6 26 3 26 9 26 23 26 39 16 27 16 27 16 25 16 26 16 25 16 25 16 26 16 25 16 24 16 23 16 21 16 19 16 14 16 12 16 7 16 2 16-5 16-13 10-14 10-21 10-32 10-44 10-54 10-64 10-75 10-84 10-93 10-94 10-91 10-85 10-82 10-80 10-76 10-72 10-65 10-57 10-49 10-45 10-43 10-45 10-46 10-50 10-52 10-51 10-49 10-46 10-43 10-42 10-39 10-36 10-33 10-29 10-28 10-28 10-28 10-30 10-29 10-29 10-29 10-28 10-26 10-23 10-20 10-18 10-15 10-12 10-11 10-9 10-8 10-6 16-9 16-7 16-5 16-5 16-5 16-6 16-6 16-6 26-10 26-11 26-10 26-10 26-11 26-10 26-11 26-12 26-12 26-12 26-12 26-12 26-10 26-6 26-4 26 1 26 10 26 14 26 13 26 9 26 3 26 1 26-2 26-4 26-4 26-4 26-3 26-1 26 0 26 3 26 4 26 5 26 5 26 9 26 10 26 12 26 12 26 15 26 17 26 22 26 27 26 33 10 15 10 16 10 18 10 20 10 23 10 24 10 27 10 28 10 31 10 31 10 34 10 36 10 39 10 39 10 40 10 39 10 39 10 37 10 37 10 37 10 38 10 38 10 39 10 39 10 39 10 38 10 36 10 35 10 31 10 28 10 25 10 21 10 18 10 15 10 12 10 10 10 9 10 7 10 7 10 6 26 13 26 12 26 10 26 7 26 6 26 6 26 5 26 4 26 4 5 1"/>
<path stroke="#0A6CD6" d="M704 3359l16 21 16 19 16 18 16 16 16 12 16 10 16 8 16 8 16 6 26 8 26 5 26 2 26 1 26-1 26-1 26-2 26-2 26-3 26-3 26-3 26-2 26-1 26-1 26 0 26 0 26-1 26-1 26-3 26-5 26-6 26-7 26-12 26-16 10-7 10-8 10-8 10-9 10-10 10-11 10-12 10-14 10-16 10-17 10-19 10-20 10-19 10-20 10-19 10-20 10-19 10-20 10-19 10-19 10-19 10-16 10-16 10-14 10-13 10-13 10-11 10-12 10-10 26-26 26-21 26-18 26-14 26-13 26-9 26-5 26-2 26 0 26 3 26 6 26 13 26 17 26 16 26 13 26 8 26 6 26 6 26 8 26 13 26 17 26 15 26 13 26 11 26 8 26 7 26 10 26 12 26 14 16 10 16 11 16 10 16 10 16 11 16 10 16 11 16 11 16 12 16 12 16 11 16 11 16 9 16 8 16 5 16 2 16 0 16-2 10-4 10-8 10-13 10-18 10-23 10-27 10-32 10-36 10-39 10-43 10-50 10-59 10-62 10-63 10-60 10-59 10-57 10-58 10-60 10-61 10-66 10-71 10-75 10-76 10-74 10-70 10-65 10-59 10-56 10-53 10-50 10-47 10-43 10-40 10-37 10-36 10-35 10-35 10-35 10-36 10-35 10-35 10-32 10-30 10-25 10-20 10-18 10-14 10-12 10-10 10-9 10-8 16-10 16-9 16-8 16-8 16-6 16-7 16-7 16-7 26-12 26-13 26-13 26-14 26-15 26-15 26-14 26-13 26-13 26-14 26-14 26-14 26-12 26-8 26-6 26-1 26 7 26 12 26 11 26 7 26-1 26-2 26-3 26-3 26-3 26-3 26-2 26-1 26 0 26 2 26 4 26 7 26 8 26 11 26 15 26 16 26 19 26 22 26 26 26 31 26 35 26 38 10 16 10 17 10 19 10 21 10 23 10 24 10 27 10 28 10 30 10 31 10 34 10 37 10 40 10 40 10 39 10 38 10 36 10 34 10 35 10 34 10 36 10 38 10 37 10 37 10 35 10 33 10 33 10 32 10 31 10 30 10 27 10 23 10 20 10 15 10 12 10 10 10 9 10 7 10 7 10 7 26 14 26 9 26 7 26 3 26 0 26 0 26-1 26-4 26-5 5-1"/>
<path stroke="#FA5A12" d="M704 3305l16 21 16 19 16 16 16 14 16 10 16 7 16 5 16 4 16 4 26 3 26 1 26-2 26-4 26-3 26-4 26-6 26-6 26-7 26-5 26-5 26-4 26-3 26-2 26-1 26-2 26-4 26-5 26-8 26-11 26-14 26-18 26-23 26-30 10-13 10-14 10-15 10-15 10-17 10-18 10-19 10-22 10-23 10-25 10-27 10-27 10-29 10-28 10-29 10-28 10-28 10-27 10-26 10-25 10-24 10-22 10-20 10-19 10-17 10-16 10-14 10-14 10-13 26-29 26-23 26-17 26-11 26-8 26-4 26 1 26 4 26 5 26 7 26 10 26 15 26 19 26 17 26 13 26 7 26 5 26 6 26 9 26 17 26 21 26 22 26 18 26 12 26 8 26 5 26 9 26 20 26 32 16 22 16 22 16 21 16 21 16 20 16 22 16 21 16 21 16 21 16 20 16 18 16 16 16 14 16 9 16 7 16 2 16-4 16-9 10-11 10-18 10-27 10-37 10-46 10-54 10-63 10-72 10-78 10-79 10-78 10-75 10-74 10-73 10-69 10-67 10-61 10-56 10-50 10-48 10-48 10-50 10-53 10-56 10-56 10-55 10-52 10-47 10-45 10-42 10-40 10-37 10-33 10-30 10-29 10-28 10-28 10-29 10-29 10-30 10-29 10-29 10-26 10-24 10-21 10-17 10-15 10-12 10-10 10-9 10-7 10-6 16-9 16-7 16-5 16-6 16-5 16-6 16-5 16-6 26-11 26-10 26-11 26-10 26-11 26-12 26-11 26-10 26-10 26-9 26-8 26-8 26-5 26-1 26 0 26 5 26 12 26 16 26 14 26 8 26 1 26-2 26-3 26-4 26-4 26-5 26-4 26-3 26-1 26 0 26 2 26 2 26 2 26 5 26 8 26 9 26 10 26 13 26 17 26 22 26 28 26 34 10 15 10 17 10 19 10 21 10 24 10 25 10 28 10 30 10 32 10 34 10 35 10 39 10 41 10 42 10 41 10 40 10 39 10 38 10 37 10 37 10 38 10 39 10 38 10 38 10 37 10 36 10 34 10 34 10 31 10 29 10 26 10 23 10 19 10 15 10 12 10 11 10 8 10 8 10 7 10 6 26 14 26 11 26 8 26 5 26 3 26 2 26 2 26 0 26-1 5-1"/>
<path stroke="#FBB414" d="M704 3225l16 23 16 20 16 15 16 12 16 9 16 6 16 3 16 0 16 1 26-1 26-3 26-7 26-7 26-8 26-7 26-8 26-11 26-10 26-7 26-7 26-5 26-3 26-2 26-2 26-5 26-6 26-8 26-12 26-15 26-20 26-26 26-32 26-40 10-17 10-18 10-19 10-21 10-21 10-22 10-24 10-27 10-28 10-29 10-31 10-32 10-33 10-32 10-33 10-33 10-31 10-29 10-28 10-25 10-24 10-22 10-19 10-18 10-16 10-15 10-13 10-12 10-11 26-24 26-17 26-14 26-8 26-5 26-2 26 4 26 8 26 8 26 8 26 11 26 14 26 19 26 16 26 10 26 3 26-1 26-3 26 3 26 12 26 19 26 20 26 16 26 9 26 3 26 1 26 8 26 26 26 47 16 32 16 31 16 30 16 29 16 29 16 29 16 30 16 30 16 28 16 27 16 25 16 21 16 17 16 13 16 8 16 3 16-4 16-13 10-15 10-23 10-36 10-50 10-62 10-74 10-85 10-98 10-108 10-108 10-102 10-93 10-89 10-88 10-86 10-82 10-75 10-65 10-54 10-47 10-44 10-42 10-44 10-45 10-49 10-49 10-46 10-42 10-39 10-36 10-33 10-29 10-26 10-22 10-22 10-22 10-24 10-24 10-25 10-24 10-24 10-22 10-21 10-18 10-16 10-15 10-12 10-10 10-9 10-7 10-6 10-5 16-7 16-4 16-3 16-3 16-3 16-4 16-4 16-5 26-7 26-7 26-7 26-6 26-7 26-6 26-9 26-9 26-11 26-11 26-11 26-12 26-10 26-6 26-4 26 2 26 11 26 16 26 15 26 11 26 7 26 3 26 2 26-1 26-2 26-2 26 0 26 2 26 3 26 5 26 6 26 5 26 7 26 10 26 11 26 12 26 13 26 14 26 16 26 20 26 26 26 32 10 14 10 16 10 17 10 18 10 20 10 21 10 24 10 25 10 26 10 28 10 30 10 31 10 33 10 35 10 35 10 36 10 35 10 35 10 34 10 35 10 35 10 37 10 38 10 39 10 41 10 40 10 38 10 36 10 32 10 28 10 24 10 21 10 19 10 15 10 14 10 11 10 10 10 8 10 7 10 7 26 15 26 12 26 10 26 9 26 7 26 6 26 6 26 5 26 5 5 1"/>
<path stroke="#A02CBC" d="M704 3234l16 26 16 22 16 18 16 15 16 11 16 9 16 5 16 4 16 3 26 3 26 0 26-4 26-5 26-6 26-8 26-10 26-13 26-13 26-11 26-11 26-10 26-7 26-5 26-5 26-4 26-5 26-8 26-11 26-14 26-18 26-23 26-30 26-37 10-16 10-17 10-18 10-19 10-20 10-22 10-23 10-25 10-27 10-29 10-31 10-31 10-32 10-32 10-33 10-32 10-32 10-30 10-28 10-26 10-24 10-23 10-21 10-19 10-17 10-16 10-14 10-13 10-13 26-26 26-20 26-15 26-9 26-4 26 0 26 7 26 11 26 13 26 12 26 15 26 19 26 23 26 21 26 13 26 7 26 3 26 4 26 9 26 17 26 24 26 24 26 20 26 13 26 6 26 3 26 7 26 24 26 39 16 27 16 27 16 25 16 24 16 24 16 25 16 25 16 24 16 25 16 23 16 21 16 18 16 15 16 10 16 7 16 2 16-5 16-11 10-13 10-21 10-33 10-45 10-56 10-67 10-78 10-90 10-98 10-100 10-96 10-91 10-88 10-88 10-88 10-84 10-79 10-71 10-61 10-56 10-53 10-51 10-53 10-54 10-56 10-55 10-52 10-48 10-43 10-39 10-36 10-31 10-28 10-25 10-23 10-23 10-25 10-25 10-26 10-25 10-23 10-23 10-21 10-19 10-16 10-14 10-13 10-10 10-9 10-8 10-6 10-5 16-7 16-6 16-4 16-5 16-5 16-5 16-6 16-7 26-11 26-11 26-10 26-9 26-9 26-8 26-9 26-9 26-9 26-7 26-6 26-6 26-3 26 0 26 2 26 7 26 15 26 19 26 16 26 11 26 4 26 2 26-2 26-5 26-6 26-6 26-4 26-3 26 0 26 2 26 4 26 5 26 6 26 9 26 11 26 12 26 13 26 14 26 16 26 20 26 26 26 31 10 14 10 16 10 17 10 18 10 20 10 22 10 24 10 26 10 27 10 29 10 30 10 32 10 34 10 35 10 36 10 36 10 36 10 36 10 35 10 35 10 36 10 37 10 38 10 40 10 40 10 40 10 38 10 35 10 30 10 27 10 22 10 20 10 16 10 14 10 12 10 10 10 8 10 7 10 6 10 5 26 13 26 13 26 10 26 9 26 7 26 8 26 6 26 7 26 7 5 1"/>
<path stroke="#52B822" d="M704 3281l16 22 16 20 16 17 16 14 16 10 16 8 16 5 16 3 16 3 26 3 26 0 26-3 26-4 26-5 26-6 26-7 26-10 26-9 26-9 26-8 26-7 26-5 26-3 26-3 26-3 26-4 26-5 26-6 26-10 26-12 26-17 26-21 26-28 10-13 10-13 10-14 10-15 10-16 10-17 10-19 10-21 10-23 10-25 10-26 10-27 10-27 10-28 10-27 10-28 10-26 10-26 10-25 10-23 10-22 10-21 10-18 10-17 10-16 10-14 10-13 10-13 10-12 26-26 26-22 26-17 26-14 26-11 26-9 26-3 26 1 26 1 26 3 26 6 26 12 26 16 26 16 26 11 26 5 26 3 26 2 26 8 26 15 26 22 26 22 26 19 26 12 26 7 26 4 26 10 26 23 26 38 16 27 16 26 16 25 16 24 16 24 16 24 16 25 16 23 16 23 16 23 16 20 16 18 16 15 16 11 16 6 16 2 16-3 16-11 10-13 10-20 10-29 10-41 10-51 10-60 10-69 10-80 10-87 10-90 10-87 10-85 10-84 10-84 10-83 10-81 10-76 10-70 10-64 10-60 10-58 10-59 10-60 10-61 10-62 10-61 10-57 10-53 10-48 10-44 10-41 10-38 10-33 10-31 10-29 10-28 10-30 10-30 10-30 10-30 10-29 10-27 10-25 10-23 10-21 10-17 10-16 10-14 10-11 10-10 10-9 10-7 16-10 16-7 16-6 16-6 16-6 16-7 16-6 16-7 26-12 26-11 26-9 26-9 26-9 26-8 26-9 26-10 26-8 26-8 26-6 26-6 26-4 26 0 26 2 26 7 26 15 26 18 26 16 26 10 26 5 26 2 26-1 26-4 26-5 26-4 26-3 26-2 26 0 26 3 26 3 26 4 26 4 26 7 26 9 26 10 26 10 26 12 26 13 26 17 26 23 26 30 10 13 10 15 10 16 10 18 10 20 10 21 10 23 10 26 10 26 10 29 10 29 10 32 10 33 10 35 10 36 10 36 10 36 10 35 10 35 10 36 10 36 10 37 10 38 10 40 10 41 10 41 10 40 10 36 10 32 10 28 10 25 10 22 10 18 10 17 10 13 10 12 10 10 10 9 10 7 10 7 26 14 26 11 26 7 26 3 26 2 26-1 26-2 26-3 26-4 5-1"/>
<path stroke="#20BAF0" d="M704 3248l16 23 16 20 16 15 16 13 16 10 16 6 16 3 16 2 16 1 26 0 26-2 26-5 26-6 26-7 26-7 26-8 26-10 26-10 26-9 26-7 26-7 26-4 26-2 26-3 26-4 26-5 26-8 26-11 26-15 26-18 26-24 26-31 26-39 10-16 10-18 10-18 10-20 10-21 10-22 10-24 10-25 10-28 10-30 10-31 10-33 10-32 10-34 10-34 10-33 10-33 10-31 10-29 10-28 10-26 10-24 10-22 10-20 10-18 10-17 10-16 10-14 10-13 26-29 26-22 26-16 26-8 26-5 26-1 26 6 26 8 26 10 26 10 26 12 26 16 26 20 26 19 26 12 26 7 26 4 26 6 26 11 26 20 26 26 26 27 26 23 26 15 26 8 26 4 26 8 26 23 26 39 16 26 16 26 16 24 16 24 16 24 16 24 16 25 16 25 16 24 16 24 16 20 16 18 16 14 16 11 16 6 16 2 16-4 16-10 10-12 10-20 10-31 10-43 10-55 10-65 10-74 10-86 10-93 10-93 10-89 10-82 10-79 10-78 10-76 10-73 10-66 10-58 10-50 10-44 10-43 10-44 10-45 10-48 10-49 10-49 10-46 10-42 10-39 10-36 10-32 10-29 10-26 10-23 10-21 10-21 10-22 10-22 10-24 10-23 10-23 10-22 10-21 10-19 10-16 10-13 10-12 10-9 10-8 10-6 10-6 10-5 16-7 16-7 16-5 16-6 16-5 16-6 16-6 16-6 26-11 26-11 26-11 26-11 26-11 26-11 26-12 26-12 26-14 26-14 26-16 26-15 26-14 26-10 26-7 26-1 26 7 26 14 26 14 26 10 26 6 26 5 26 4 26 3 26 2 26 3 26 4 26 4 26 6 26 5 26 5 26 3 26 3 26 4 26 5 26 6 26 7 26 10 26 12 26 17 26 25 26 31 10 15 10 16 10 18 10 19 10 21 10 24 10 25 10 27 10 29 10 31 10 32 10 35 10 37 10 38 10 39 10 38 10 37 10 37 10 36 10 37 10 37 10 39 10 39 10 41 10 40 10 40 10 38 10 37 10 34 10 31 10 28 10 24 10 21 10 18 10 15 10 13 10 11 10 10 10 9 10 8 26 16 26 12 26 8 26 5 26 4 26 2 26 0 26 0 26-2 5-1"/>
<path stroke="#D41440" d="M704 3341l16 20 16 18 16 17 16 14 16 11 16 9 16 6 16 6 16 4 26 6 26 2 26 0 26-1 26-2 26-3 26-3 26-5 26-5 26-4 26-4 26-4 26-2 26-2 26-1 26-1 26-1 26-3 26-4 26-6 26-9 26-10 26-15 26-20 10-8 10-10 10-10 10-11 10-11 10-13 10-14 10-16 10-17 10-19 10-21 10-21 10-21 10-21 10-20 10-21 10-20 10-19 10-19 10-19 10-17 10-16 10-14 10-13 10-12 10-10 10-10 10-10 10-9 26-22 26-17 26-15 26-12 26-10 26-10 26-7 26-6 26-3 26 1 26 3 26 9 26 11 26 11 26 9 26 8 26 8 26 7 26 8 26 11 26 13 26 12 26 12 26 11 26 10 26 10 26 12 26 15 26 21 16 14 16 16 16 15 16 17 16 17 16 17 16 18 16 18 16 17 16 17 16 15 16 13 16 11 16 9 16 5 16 3 16-2 16-7 10-8 10-14 10-20 10-26 10-34 10-40 10-46 10-51 10-55 10-57 10-61 10-63 10-66 10-64 10-62 10-59 10-57 10-56 10-55 10-56 10-59 10-63 10-67 10-69 10-67 10-65 10-59 10-55 10-53 10-49 10-47 10-44 10-41 10-37 10-35 10-34 10-34 10-33 10-35 10-34 10-34 10-34 10-31 10-29 10-24 10-20 10-17 10-15 10-12 10-10 10-8 10-8 16-9 16-9 16-7 16-7 16-6 16-6 16-6 16-7 26-11 26-11 26-12 26-12 26-14 26-15 26-14 26-13 26-13 26-13 26-13 26-12 26-11 26-6 26-5 26-1 26 7 26 12 26 11 26 6 26 2 26 0 26 0 26 1 26 1 26 0 26 1 26 1 26 2 26 2 26 5 26 5 26 6 26 10 26 12 26 15 26 16 26 19 26 23 26 28 26 33 26 39 10 17 10 18 10 20 10 22 10 24 10 26 10 28 10 30 10 31 10 33 10 35 10 39 10 41 10 42 10 41 10 39 10 38 10 36 10 36 10 37 10 38 10 39 10 40 10 38 10 37 10 35 10 35 10 34 10 33 10 32 10 29 10 25 10 22 10 19 10 17 10 14 10 11 10 9 10 9 10 7 26 17 26 12 26 9 26 2 26 0 26 0 26-3 26-5 26-7 5-1"/>
<path stroke="#D41440" d="M704 3286l16 19 16 17 16 14 16 11 16 8 16 6 16 2 16 1 16 1 26-1 26-2 26-5 26-6 26-5 26-4 26-5 26-5 26-4 26-3 26-2 26-1 26 1 26 1 26-1 26-2 26-4 26-5 26-8 26-10 26-14 26-17 26-23 26-30 10-12 10-14 10-14 10-16 10-16 10-18 10-19 10-21 10-23 10-24 10-27 10-27 10-27 10-28 10-28 10-28 10-28 10-26 10-26 10-24 10-23 10-21 10-19 10-18 10-16 10-15 10-15 10-13 10-12 26-28 26-21 26-16 26-11 26-5 26 0 26 8 26 13 26 14 26 14 26 17 26 22 26 24 26 20 26 12 26 5 26 0 26-1 26 3 26 9 26 15 26 15 26 13 26 7 26 3 26 3 26 9 26 21 26 34 16 24 16 24 16 23 16 23 16 22 16 23 16 22 16 23 16 21 16 22 16 19 16 17 16 14 16 10 16 7 16 2 16-4 16-11 10-13 10-19 10-29 10-40 10-49 10-59 10-67 10-77 10-84 10-87 10-84 10-81 10-80 10-79 10-77 10-75 10-69 10-63 10-57 10-54 10-54 10-54 10-56 10-59 10-59 10-57 10-55 10-49 10-47 10-43 10-40 10-37 10-33 10-30 10-28 10-27 10-29 10-29 10-29 10-29 10-28 10-27 10-26 10-23 10-19 10-17 10-15 10-12 10-10 10-9 10-8 10-6 16-8 16-7 16-6 16-5 16-6 16-6 16-6 16-7 26-12 26-12 26-11 26-11 26-10 26-11 26-11 26-11 26-10 26-10 26-11 26-10 26-7 26-5 26-2 26 3 26 12 26 15 26 15 26 9 26 3 26 1 26-1 26-3 26-4 26-4 26-3 26-1 26 1 26 2 26 4 26 5 26 6 26 9 26 11 26 12 26 14 26 16 26 19 26 23 26 29 26 35 10 16 10 17 10 18 10 21 10 23 10 25 10 27 10 29 10 31 10 32 10 34 10 37 10 39 10 40 10 40 10 40 10 38 10 37 10 37 10 37 10 38 10 38 10 39 10 38 10 38 10 37 10 36 10 33 10 30 10 28 10 23 10 21 10 16 10 14 10 11 10 9 10 7 10 7 10 5 10 6 26 12 26 12 26 9 26 7 26 7 26 7 26 6 26 5 26 5 5 1"/>
<path stroke="#0A6CD6" d="M704 3232l16 25 16 21 16 16 16 14 16 10 16 7 16 4 16 2 16 2 26 2 26-2 26-4 26-5 26-6 26-6 26-7 26-9 26-9 26-8 26-6 26-6 26-3 26-3 26-2 26-4 26-5 26-9 26-11 26-14 26-19 26-25 26-30 26-38 10-17 10-17 10-18 10-19 10-20 10-21 10-23 10-25 10-26 10-28 10-29 10-30 10-30 10-30 10-30 10-30 10-28 10-26 10-25 10-22 10-21 10-19 10-17 10-15 10-14 10-12 10-10 10-10 10-9 26-19 26-15 26-12 26-8 26-9 26-6 26-1 26 1 26 2 26 2 26 5 26 10 26 15 26 14 26 9 26 3 26-1 26 0 26 5 26 14 26 21 26 22 26 18 26 11 26 5 26 2 26 8 26 24 26 41 16 28 16 28 16 26 16 26 16 25 16 26 16 26 16 26 16 25 16 25 16 22 16 19 16 15 16 12 16 7 16 2 16-3 16-10 10-12 10-19 10-31 10-43 10-55 10-64 10-76 10-86 10-96 10-97 10-94 10-90 10-87 10-87 10-87 10-84 10-78 10-69 10-61 10-56 10-53 10-51 10-53 10-55 10-56 10-56 10-52 10-48 10-43 10-40 10-36 10-33 10-30 10-26 10-25 10-25 10-26 10-28 10-27 10-27 10-26 10-25 10-23 10-20 10-18 10-16 10-14 10-12 10-11 10-8 10-7 10-7 16-7 16-6 16-3 16-4 16-4 16-4 16-5 16-4 26-8 26-8 26-6 26-7 26-6 26-6 26-8 26-9 26-11 26-10 26-10 26-11 26-9 26-5 26-2 26 2 26 12 26 16 26 16 26 11 26 8 26 6 26 3 26 1 26 0 26 0 26 2 26 3 26 4 26 5 26 4 26 4 26 3 26 5 26 7 26 7 26 7 26 9 26 11 26 16 26 22 26 30 10 14 10 16 10 17 10 19 10 20 10 22 10 24 10 27 10 28 10 29 10 31 10 32 10 35 10 36 10 37 10 37 10 37 10 36 10 36 10 37 10 36 10 38 10 39 10 41 10 41 10 41 10 39 10 36 10 32 10 27 10 24 10 21 10 18 10 15 10 13 10 11 10 9 10 7 10 7 10 6 26 14 26 12 26 8 26 7 26 5 26 4 26 3 26 2 26 1 5 0"/>
<path stroke="#FA5A12" d="M704 3368l16 20 16 18 16 18 16 15 16 12 16 9 16 7 16 7 16 6 26 7 26 3 26 2 26 1 26-1 26-3 26-4 26-5 26-6 26-6 26-7 26-5 26-4 26-3 26-2 26-1 26 0 26-2 26-3 26-5 26-6 26-8 26-11 26-17 10-7 10-8 10-8 10-9 10-10 10-11 10-12 10-13 10-15 10-17 10-17 10-18 10-18 10-17 10-17 10-16 10-15 10-16 10-15 10-14 10-13 10-12 10-10 10-9 10-8 10-7 10-7 10-6 10-7 26-14 26-14 26-13 26-14 26-16 26-13 26-10 26-7 26-5 26-4 26 1 26 8 26 14 26 13 26 11 26 5 26-1 26-3 26-2 26 3 26 7 26 7 26 5 26 3 26 1 26 4 26 9 26 18 26 26 16 18 16 19 16 19 16 19 16 19 16 18 16 18 16 18 16 17 16 17 16 17 16 15 16 13 16 10 16 6 16 2 16-3 16-9 10-10 10-16 10-22 10-29 10-36 10-42 10-50 10-56 10-60 10-66 10-69 10-73 10-76 10-76 10-74 10-72 10-71 10-69 10-67 10-67 10-69 10-72 10-75 10-75 10-74 10-71 10-65 10-61 10-56 10-53 10-49 10-47 10-42 10-39 10-36 10-36 10-35 10-36 10-36 10-35 10-35 10-34 10-31 10-28 10-25 10-21 10-19 10-15 10-14 10-11 10-10 10-9 16-11 16-10 16-8 16-7 16-8 16-7 16-8 16-7 26-13 26-13 26-12 26-12 26-12 26-11 26-12 26-11 26-11 26-10 26-10 26-10 26-8 26-4 26-1 26 3 26 10 26 15 26 14 26 8 26 3 26 0 26-2 26-3 26-5 26-4 26-3 26-2 26 0 26 3 26 3 26 5 26 6 26 9 26 11 26 12 26 14 26 16 26 19 26 23 26 29 26 34 10 15 10 15 10 17 10 18 10 19 10 20 10 22 10 24 10 25 10 26 10 27 10 30 10 33 10 33 10 33 10 33 10 33 10 32 10 33 10 33 10 34 10 36 10 38 10 39 10 40 10 39 10 38 10 37 10 33 10 30 10 27 10 24 10 21 10 18 10 15 10 13 10 11 10 11 10 9 10 8 26 18 26 13 26 11 26 7 26 5 26 4 26 3 26 0 26 0 5 0"/>
<path stroke="#FBB414" d="M704 3331l16 20 16 19 16 17 16 14 16 11 16 9 16 6 16 5 16 4 26 5 26 2 26 0 26-1 26-3 26-4 26-5 26-6 26-7 26-7 26-7 26-6 26-5 26-3 26-4 26-4 26-5 26-7 26-10 26-13 26-15 26-19 26-24 26-30 10-13 10-14 10-14 10-15 10-15 10-17 10-18 10-19 10-21 10-22 10-24 10-23 10-24 10-23 10-23 10-22 10-22 10-20 10-19 10-18 10-17 10-14 10-13 10-11 10-10 10-9 10-8 10-7 10-7 26-16 26-12 26-12 26-12 26-11 26-8 26-5 26-1 26 0 26 2 26 5 26 11 26 16 26 15 26 11 26 8 26 7 26 10 26 15 26 22 26 28 26 27 26 23 26 17 26 11 26 8 26 9 26 16 26 23 16 15 16 16 16 15 16 15 16 15 16 14 16 15 16 15 16 15 16 15 16 14 16 13 16 11 16 7 16 5 16 1 16-3 16-9 10-11 10-16 10-24 10-32 10-41 10-48 10-55 10-63 10-69 10-72 10-73 10-74 10-76 10-77 10-76 10-75 10-72 10-70 10-66 10-65 10-66 10-68 10-69 10-71 10-71 10-67 10-62 10-58 10-52 10-49 10-45 10-42 10-38 10-34 10-33 10-32 10-33 10-33 10-32 10-33 10-32 10-31 10-28 10-26 10-22 10-20 10-16 10-14 10-13 10-10 10-8 10-8 16-10 16-7 16-6 16-5 16-6 16-5 16-6 16-6 26-11 26-10 26-9 26-9 26-10 26-10 26-10 26-11 26-11 26-11 26-10 26-11 26-8 26-4 26-3 26 3 26 11 26 15 26 15 26 9 26 4 26 2 26 0 26-1 26-3 26-2 26-1 26 1 26 2 26 4 26 5 26 5 26 8 26 10 26 12 26 14 26 15 26 17 26 19 26 24 26 29 26 34 10 15 10 16 10 17 10 19 10 20 10 21 10 24 10 25 10 27 10 28 10 29 10 32 10 34 10 36 10 35 10 35 10 35 10 34 10 33 10 35 10 35 10 37 10 38 10 39 10 40 10 39 10 39 10 37 10 34 10 32 10 28 10 25 10 22 10 19 10 16 10 14 10 12 10 10 10 10 10 9 26 17 26 12 26 8 26 5 26 3 26 2 26 1 26-1 26-3 5 0"/>
<path stroke="#A02CBC" d="M704 3356l16 19 16 18 16 16 16 14 16 11 16 8 16 6 16 5 16 5 26 4 26 2 26 0 26-1 26-3 26-3 26-4 26-5 26-5 26-5 26-5 26-3 26-3 26-2 26-1 26 0 26 0 26 2 26 2 26 1 26 0 26 0 26-3 26-8 10-4 10-5 10-6 10-6 10-8 10-9 10-10 10-13 10-15 10-16 10-18 10-19 10-19 10-19 10-19 10-19 10-19 10-20 10-19 10-19 10-19 10-17 10-17 10-15 10-14 10-13 10-13 10-13 10-12 26-31 26-26 26-24 26-23 26-22 26-20 26-16 26-14 26-11 26-9 26-4 26 5 26 10 26 12 26 10 26 7 26 5 26 6 26 10 26 18 26 21 26 22 26 18 26 13 26 9 26 7 26 9 26 16 26 22 16 16 16 16 16 16 16 16 16 15 16 15 16 15 16 15 16 15 16 15 16 14 16 13 16 11 16 8 16 5 16 1 16-3 16-9 10-9 10-16 10-22 10-30 10-37 10-45 10-51 10-58 10-63 10-67 10-69 10-73 10-74 10-74 10-72 10-69 10-68 10-65 10-63 10-62 10-65 10-67 10-71 10-71 10-71 10-69 10-64 10-60 10-56 10-53 10-51 10-47 10-44 10-41 10-39 10-38 10-39 10-39 10-39 10-38 10-38 10-37 10-34 10-31 10-27 10-24 10-21 10-19 10-16 10-14 10-12 10-10 16-14 16-10 16-8 16-8 16-8 16-8 16-8 16-8 26-13 26-13 26-11 26-12 26-10 26-11 26-11 26-11 26-11 26-11 26-11 26-10 26-8 26-5 26-2 26 3 26 11 26 16 26 14 26 10 26 6 26 4 26 2 26 1 26 0 26 0 26 2 26 2 26 3 26 4 26 4 26 5 26 5 26 8 26 10 26 11 26 12 26 14 26 16 26 20 26 26 26 31 10 14 10 15 10 16 10 17 10 19 10 20 10 22 10 24 10 24 10 27 10 27 10 30 10 32 10 33 10 34 10 33 10 34 10 33 10 33 10 34 10 35 10 36 10 39 10 39 10 41 10 41 10 40 10 38 10 35 10 31 10 28 10 25 10 22 10 19 10 16 10 15 10 12 10 11 10 10 10 8 26 19 26 11 26 8 26 5 26 2 26 0 26-2 26-5 26-6 5-1"/>
<path stroke="#52B822" d="M704 3313l16 22 16 21 16 18 16 15 16 12 16 10 16 7 16 6 16 5 26 7 26 3 26 0 26-1 26-3 26-4 26-4 26-6 26-6 26-5 26-6 26-4 26-3 26-2 26-1 26-1 26-1 26-1 26-1 26-3 26-5 26-6 26-10 26-15 10-7 10-8 10-9 10-9 10-11 10-11 10-14 10-15 10-18 10-19 10-22 10-22 10-24 10-23 10-24 10-24 10-25 10-24 10-24 10-24 10-23 10-22 10-20 10-20 10-18 10-17 10-16 10-15 10-15 26-35 26-28 26-21 26-14 26-12 26-10 26-4 26-1 26 0 26 1 26 4 26 12 26 16 26 16 26 11 26 7 26 5 26 7 26 13 26 20 26 25 26 25 26 21 26 15 26 9 26 7 26 9 26 17 26 25 16 18 16 18 16 17 16 17 16 17 16 16 16 16 16 16 16 16 16 16 16 16 16 13 16 11 16 8 16 5 16 1 16-6 16-12 10-13 10-20 10-28 10-38 10-47 10-56 10-65 10-74 10-81 10-85 10-86 10-86 10-86 10-85 10-85 10-83 10-79 10-74 10-69 10-65 10-65 10-66 10-67 10-68 10-69 10-67 10-62 10-58 10-54 10-51 10-46 10-44 10-39 10-37 10-34 10-34 10-35 10-35 10-35 10-35 10-33 10-32 10-29 10-27 10-24 10-21 10-18 10-17 10-14 10-13 10-10 10-9 16-12 16-9 16-7 16-6 16-7 16-7 16-7 16-7 26-12 26-11 26-9 26-9 26-8 26-7 26-9 26-9 26-8 26-6 26-6 26-4 26-2 26 2 26 3 26 9 26 16 26 19 26 17 26 11 26 7 26 3 26 0 26-3 26-4 26-4 26-3 26-1 26 0 26 3 26 4 26 4 26 5 26 8 26 10 26 10 26 12 26 13 26 14 26 18 26 25 26 31 10 14 10 15 10 18 10 19 10 22 10 24 10 25 10 28 10 30 10 31 10 33 10 35 10 37 10 38 10 39 10 39 10 39 10 38 10 37 10 37 10 38 10 38 10 40 10 40 10 41 10 40 10 38 10 35 10 31 10 27 10 24 10 20 10 17 10 14 10 12 10 9 10 8 10 7 10 5 10 5 26 10 26 8 26 5 26 3 26 1 26 1 26-1 26-2 26-2 5-1"/>
<path stroke="#20BAF0" d="M704 3235l16 22 16 19 16 15 16 11 16 9 16 5 16 1 16 0 16 0 26-2 26-4 26-8 26-7 26-8 26-8 26-11 26-12 26-13 26-11 26-10 26-8 26-6 26-4 26-3 26-5 26-6 26-9 26-12 26-16 26-20 26-26 26-34 26-41 10-18 10-18 10-20 10-21 10-22 10-23 10-25 10-27 10-29 10-31 10-32 10-32 10-33 10-34 10-33 10-33 10-32 10-30 10-27 10-26 10-23 10-21 10-20 10-17 10-15 10-14 10-13 10-11 10-11 26-22 26-16 26-12 26-8 26-5 26-1 26 4 26 9 26 9 26 8 26 12 26 15 26 19 26 18 26 10 26 4 26 0 26 0 26 5 26 16 26 22 26 23 26 20 26 11 26 4 26 2 26 7 26 26 26 44 16 31 16 29 16 28 16 28 16 27 16 27 16 28 16 28 16 27 16 25 16 23 16 20 16 15 16 12 16 7 16 1 16-5 16-14 10-16 10-25 10-37 10-52 10-65 10-77 10-90 10-102 10-113 10-114 10-106 10-96 10-92 10-90 10-88 10-85 10-77 10-65 10-55 10-46 10-43 10-41 10-41 10-45 10-47 10-49 10-47 10-43 10-40 10-38 10-34 10-31 10-29 10-25 10-25 10-25 10-27 10-29 10-28 10-28 10-27 10-25 10-23 10-21 10-19 10-17 10-16 10-13 10-12 10-9 10-9 10-6 16-8 16-5 16-3 16-2 16-3 16-3 16-3 16-4 26-6 26-5 26-4 26-4 26-3 26-4 26-6 26-9 26-8 26-9 26-8 26-7 26-6 26-3 26 0 26 6 26 14 26 18 26 17 26 11 26 7 26 4 26 0 26-4 26-5 26-5 26-3 26-1 26 1 26 3 26 4 26 3 26 3 26 6 26 6 26 7 26 7 26 8 26 9 26 13 26 21 26 28 10 14 10 15 10 17 10 20 10 21 10 24 10 26 10 28 10 30 10 32 10 33 10 34 10 37 10 38 10 40 10 39 10 40 10 39 10 39 10 38 10 39 10 39 10 40 10 41 10 42 10 42 10 41 10 37 10 32 10 28 10 24 10 21 10 18 10 16 10 14 10 11 10 10 10 9 10 7 10 7 26 15 26 13 26 12 26 12 26 11 26 11 26 11 26 11 26 10 5 2"/>
<path stroke="#D41440" d="M704 3274l16 24 16 21 16 18 16 15 16 11 16 9 16 6 16 5 16 4 26 4 26 2 26-2 26-4 26-4 26-5 26-7 26-8 26-9 26-7 26-7 26-6 26-4 26-3 26-2 26-3 26-3 26-4 26-6 26-8 26-10 26-14 26-19 26-25 10-11 10-12 10-12 10-13 10-15 10-15 10-17 10-19 10-21 10-22 10-23 10-24 10-25 10-24 10-24 10-24 10-23 10-22 10-21 10-20 10-19 10-17 10-15 10-13 10-13 10-11 10-10 10-10 10-9 26-21 26-16 26-14 26-11 26-11 26-10 26-7 26-3 26-3 26-2 26 2 26 8 26 13 26 12 26 8 26 5 26 2 26 3 26 6 26 12 26 18 26 17 26 16 26 10 26 7 26 5 26 9 26 20 26 31 16 22 16 21 16 21 16 21 16 21 16 21 16 21 16 22 16 20 16 21 16 18 16 16 16 13 16 11 16 6 16 2 16-2 16-8 10-10 10-16 10-25 10-34 10-42 10-51 10-57 10-65 10-70 10-72 10-70 10-68 10-67 10-63 10-60 10-54 10-49 10-43 10-39 10-38 10-40 10-44 10-48 10-51 10-52 10-51 10-47 10-45 10-43 10-42 10-41 10-37 10-34 10-32 10-29 10-29 10-28 10-29 10-29 10-31 10-30 10-30 10-29 10-25 10-22 10-18 10-15 10-12 10-10 10-9 10-7 10-7 16-9 16-9 16-8 16-7 16-7 16-6 16-7 16-7 26-12 26-13 26-12 26-14 26-14 26-15 26-13 26-14 26-14 26-15 26-17 26-17 26-15 26-12 26-8 26-4 26 5 26 11 26 12 26 7 26 3 26 1 26 2 26 2 26 3 26 3 26 3 26 4 26 5 26 4 26 5 26 6 26 6 26 9 26 11 26 13 26 15 26 18 26 23 26 29 26 33 26 37 10 16 10 17 10 19 10 21 10 23 10 24 10 27 10 28 10 30 10 31 10 34 10 37 10 40 10 40 10 39 10 38 10 36 10 34 10 35 10 34 10 36 10 38 10 37 10 37 10 34 10 33 10 32 10 31 10 30 10 28 10 26 10 21 10 18 10 14 10 10 10 8 10 7 10 6 10 6 10 5 26 13 26 10 26 7 26 5 26 3 26 3 26 2 26 1 26 0 5 0"/>
<path stroke="#0A6CD6" d="M704 3325l16 21 16 19 16 16 16 15 16 11 16 8 16 5 16 5 16 5 26 4 26 2 26-1 26-1 26-3 26-4 26-4 26-6 26-6 26-5 26-5 26-4 26-3 26-1 26-2 26-2 26-2 26-4 26-6 26-8 26-10 26-14 26-18 26-24 10-11 10-11 10-12 10-13 10-14 10-15 10-16 10-18 10-20 10-21 10-23 10-24 10-24 10-23 10-24 10-23 10-23 10-22 10-21 10-21 10-19 10-18 10-16 10-14 10-13 10-12 10-12 10-10 10-10 26-23 26-19 26-15 26-11 26-8 26-6 26-5 26-2 26 1 26 4 26 6 26 12 26 13 26 13 26 11 26 10 26 9 26 10 26 10 26 13 26 15 26 14 26 14 26 12 26 12 26 11 26 12 26 16 26 23 16 16 16 17 16 17 16 18 16 18 16 19 16 20 16 19 16 19 16 17 16 16 16 14 16 12 16 9 16 5 16 3 16-3 16-7 10-9 10-14 10-21 10-29 10-37 10-43 10-49 10-55 10-60 10-61 10-62 10-64 10-65 10-64 10-61 10-58 10-55 10-53 10-51 10-52 10-54 10-58 10-62 10-63 10-62 10-60 10-55 10-50 10-48 10-45 10-43 10-39 10-37 10-34 10-32 10-31 10-31 10-31 10-32 10-32 10-32 10-32 10-30 10-26 10-22 10-18 10-15 10-11 10-9 10-6 10-5 10-4 16-5 16-6 16-4 16-5 16-4 16-5 16-4 16-4 26-5 26-7 26-10 26-11 26-12 26-11 26-10 26-10 26-11 26-10 26-10 26-7 26-5 26-4 26-3 26 0 26 7 26 10 26 11 26 5 26 0 26-2 26-3 26-4 26-2 26-3 26-2 26 1 26 2 26 3 26 4 26 5 26 6 26 8 26 12 26 10 26 9 26 10 26 13 26 15 26 18 26 32 10 16 10 17 10 19 10 21 10 23 10 25 10 27 10 28 10 29 10 31 10 33 10 35 10 38 10 39 10 37 10 35 10 34 10 32 10 33 10 32 10 34 10 35 10 36 10 35 10 34 10 33 10 32 10 31 10 31 10 28 10 26 10 22 10 18 10 15 10 11 10 9 10 8 10 6 10 7 10 6 26 12 26 10 26 7 26 3 26 1 26 0 26-1 26-3 26-4 5-1"/>
<path stroke="#0A6CD6" d="M704 3320l16 21 16 18 16 17 16 14 16 10 16 8 16 6 16 4 16 4 26 5 26 1 26-1 26-2 26-3 26-3 26-4 26-5 26-4 26-4 26-4 26-2 26-2 26 0 26-1 26-2 26-3 26-6 26-8 26-11 26-15 26-18 26-23 26-28 10-13 10-13 10-13 10-15 10-15 10-16 10-17 10-18 10-20 10-21 10-22 10-22 10-21 10-21 10-19 10-19 10-18 10-17 10-16 10-14 10-12 10-11 10-9 10-7 10-6 10-5 10-4 10-4 10-3 26-8 26-7 26-8 26-12 26-14 26-13 26-10 26-7 26-7 26-5 26-2 26 6 26 9 26 9 26 6 26 1 26-3 26-3 26-1 26 5 26 11 26 10 26 9 26 6 26 4 26 4 26 9 26 20 26 32 16 22 16 22 16 22 16 22 16 22 16 22 16 22 16 22 16 21 16 21 16 19 16 18 16 15 16 11 16 8 16 4 16-1 16-6 10-8 10-14 10-20 10-29 10-36 10-42 10-49 10-56 10-60 10-64 10-66 10-69 10-71 10-72 10-70 10-70 10-68 10-65 10-64 10-64 10-65 10-69 10-71 10-72 10-70 10-68 10-62 10-56 10-52 10-48 10-45 10-42 10-38 10-34 10-33 10-31 10-31 10-32 10-32 10-32 10-31 10-31 10-28 10-26 10-21 10-19 10-15 10-13 10-11 10-8 10-8 10-6 16-7 16-6 16-5 16-4 16-4 16-3 16-3 16-4 26-7 26-7 26-7 26-8 26-10 26-10 26-11 26-13 26-13 26-15 26-16 26-17 26-15 26-11 26-8 26-3 26 6 26 11 26 13 26 8 26 4 26 3 26 2 26 2 26 2 26 2 26 3 26 4 26 5 26 5 26 5 26 6 26 7 26 9 26 11 26 14 26 14 26 18 26 21 26 26 26 31 26 36 10 15 10 16 10 18 10 20 10 22 10 23 10 26 10 27 10 28 10 30 10 32 10 35 10 37 10 39 10 37 10 37 10 35 10 35 10 34 10 34 10 36 10 37 10 38 10 38 10 37 10 36 10 34 10 34 10 32 10 30 10 26 10 24 10 19 10 16 10 13 10 11 10 10 10 8 10 8 10 7 26 15 26 12 26 8 26 6 26 3 26 3 26 1 26-1 26-1 5-1"/>
<path stroke="#FA5A12" d="M704 3310l16 19 16 18 16 15 16 12 16 9 16 6 16 4 16 2 16 2 26 2 26-1 26-4 26-3 26-4 26-4 26-5 26-6 26-5 26-5 26-3 26-3 26-2 26 0 26-1 26-3 26-3 26-6 26-9 26-11 26-15 26-19 26-24 26-30 10-13 10-13 10-15 10-15 10-16 10-17 10-19 10-20 10-22 10-23 10-25 10-26 10-26 10-25 10-26 10-26 10-24 10-24 10-23 10-21 10-20 10-18 10-17 10-15 10-13 10-12 10-12 10-10 10-10 26-22 26-17 26-14 26-11 26-8 26-4 26 2 26 5 26 6 26 7 26 10 26 16 26 19 26 17 26 12 26 5 26 2 26 0 26 5 26 11 26 17 26 17 26 13 26 9 26 5 26 4 26 8 26 22 26 33 16 24 16 24 16 23 16 22 16 23 16 22 16 23 16 22 16 21 16 21 16 19 16 17 16 14 16 11 16 6 16 3 16-4 16-12 10-14 10-20 10-29 10-39 10-49 10-58 10-68 10-77 10-85 10-87 10-86 10-85 10-84 10-83 10-81 10-79 10-75 10-68 10-63 10-59 10-59 10-59 10-61 10-64 10-63 10-63 10-59 10-54 10-52 10-48 10-45 10-42 10-39 10-37 10-34 10-35 10-35 10-36 10-36 10-35 10-35 10-32 10-31 10-27 10-25 10-21 10-20 10-16 10-15 10-12 10-10 10-8 16-10 16-6 16-3 16-2 16-1 16-1 16-1 16-1 26-1 26 1 26 1 26 0 26-1 26-2 26-5 26-8 26-9 26-9 26-9 26-8 26-7 26-4 26-1 26 4 26 13 26 16 26 16 26 11 26 6 26 4 26 1 26-1 26-1 26-2 26 0 26 0 26 3 26 3 26 4 26 3 26 4 26 5 26 6 26 7 26 7 26 10 26 12 26 16 26 24 26 31 10 14 10 17 10 19 10 21 10 24 10 26 10 29 10 32 10 33 10 35 10 37 10 39 10 42 10 43 10 43 10 43 10 42 10 40 10 40 10 39 10 39 10 40 10 39 10 40 10 38 10 39 10 36 10 35 10 31 10 29 10 24 10 22 10 18 10 15 10 12 10 11 10 8 10 7 10 7 10 5 26 13 26 9 26 6 26 3 26 1 26 0 26-1 26-2 26-3 5-1"/>
<path stroke="#FBB414" d="M704 3302l16 21 16 18 16 16 16 13 16 10 16 7 16 4 16 3 16 2 26 2 26-1 26-4 26-5 26-6 26-7 26-9 26-10 26-11 26-10 26-8 26-8 26-6 26-3 26-3 26-3 26-4 26-6 26-8 26-11 26-14 26-18 26-24 26-30 10-13 10-14 10-15 10-16 10-16 10-18 10-19 10-22 10-23 10-24 10-25 10-26 10-26 10-25 10-25 10-25 10-24 10-22 10-21 10-19 10-18 10-15 10-14 10-12 10-11 10-10 10-8 10-8 10-7 26-16 26-13 26-11 26-11 26-10 26-7 26-2 26 1 26 3 26 2 26 6 26 13 26 17 26 16 26 11 26 3 26-2 26-3 26 1 26 8 26 14 26 14 26 12 26 5 26 1 26 0 26 6 26 20 26 33 16 23 16 23 16 22 16 21 16 22 16 21 16 22 16 22 16 21 16 21 16 19 16 17 16 13 16 11 16 6 16 2 16-4 16-9 10-12 10-19 10-28 10-39 10-50 10-58 10-68 10-77 10-85 10-88 10-85 10-83 10-83 10-85 10-84 10-84 10-80 10-74 10-69 10-65 10-64 10-64 10-66 10-66 10-68 10-66 10-62 10-57 10-52 10-48 10-44 10-41 10-37 10-34 10-32 10-33 10-33 10-34 10-34 10-33 10-32 10-30 10-28 10-25 10-23 10-20 10-18 10-16 10-14 10-12 10-10 10-9 16-10 16-7 16-5 16-5 16-5 16-6 16-6 16-6 26-10 26-9 26-7 26-7 26-5 26-6 26-7 26-9 26-7 26-6 26-4 26-3 26-1 26 3 26 4 26 10 26 16 26 20 26 17 26 11 26 5 26 1 26-4 26-7 26-9 26-8 26-7 26-5 26-2 26 2 26 3 26 4 26 6 26 10 26 12 26 12 26 14 26 14 26 14 26 19 26 24 26 31 10 13 10 15 10 16 10 17 10 18 10 20 10 21 10 23 10 25 10 26 10 27 10 28 10 30 10 32 10 33 10 34 10 34 10 35 10 34 10 34 10 36 10 37 10 39 10 41 10 44 10 44 10 43 10 39 10 35 10 30 10 27 10 23 10 22 10 19 10 17 10 15 10 13 10 12 10 10 10 9 26 20 26 15 26 12 26 10 26 8 26 6 26 5 26 4 26 3 5 0"/>
<path stroke="#A02CBC" d="M704 3248l16 25 16 21 16 17 16 14 16 11 16 7 16 5 16 3 16 2 26 2 26-1 26-4 26-5 26-7 26-8 26-10 26-14 26-14 26-12 26-12 26-11 26-8 26-5 26-5 26-3 26-4 26-4 26-6 26-8 26-10 26-15 26-21 26-27 10-13 10-13 10-14 10-16 10-17 10-18 10-21 10-22 10-25 10-26 10-28 10-29 10-29 10-29 10-29 10-29 10-28 10-27 10-25 10-24 10-22 10-20 10-19 10-16 10-15 10-14 10-13 10-12 10-11 26-24 26-18 26-15 26-11 26-11 26-11 26-9 26-6 26-6 26-5 26-1 26 5 26 10 26 12 26 10 26 5 26 3 26 2 26 8 26 16 26 22 26 23 26 19 26 13 26 6 26 3 26 8 26 24 26 39 16 27 16 27 16 25 16 25 16 24 16 25 16 26 16 25 16 25 16 24 16 21 16 18 16 14 16 11 16 7 16 1 16-3 16-10 10-12 10-19 10-31 10-42 10-54 10-63 10-73 10-84 10-91 10-93 10-87 10-82 10-79 10-78 10-76 10-73 10-67 10-59 10-50 10-47 10-44 10-45 10-48 10-49 10-52 10-51 10-48 10-44 10-41 10-38 10-35 10-32 10-28 10-25 10-24 10-24 10-25 10-26 10-26 10-26 10-25 10-25 10-23 10-21 10-17 10-16 10-13 10-11 10-9 10-8 10-7 10-5 16-8 16-7 16-5 16-6 16-6 16-6 16-7 16-7 26-12 26-13 26-11 26-12 26-11 26-10 26-11 26-11 26-9 26-9 26-8 26-8 26-5 26-2 26 0 26 5 26 13 26 17 26 15 26 9 26 4 26 1 26 0 26-3 26-4 26-3 26-2 26-1 26 2 26 3 26 4 26 5 26 6 26 9 26 11 26 13 26 14 26 16 26 19 26 24 26 29 26 35 10 16 10 17 10 18 10 21 10 22 10 25 10 27 10 28 10 30 10 32 10 34 10 36 10 38 10 40 10 39 10 39 10 37 10 37 10 37 10 36 10 37 10 38 10 39 10 39 10 38 10 37 10 35 10 32 10 30 10 27 10 23 10 20 10 16 10 13 10 10 10 9 10 7 10 5 10 6 10 5 26 11 26 12 26 8 26 6 26 4 26 3 26 3 26 2 26 1 5 0"/>
<path stroke="#52B822" d="M704 3312l16 21 16 19 16 17 16 14 16 11 16 8 16 6 16 4 16 4 26 4 26 1 26-1 26-2 26-4 26-5 26-6 26-8 26-9 26-8 26-7 26-7 26-5 26-3 26-3 26-2 26-2 26-4 26-6 26-9 26-11 26-14 26-19 26-25 10-11 10-12 10-12 10-14 10-14 10-16 10-17 10-18 10-21 10-23 10-24 10-25 10-25 10-25 10-26 10-25 10-25 10-24 10-24 10-22 10-21 10-20 10-18 10-16 10-15 10-14 10-13 10-12 10-12 26-26 26-21 26-16 26-12 26-10 26-7 26-1 26 1 26 3 26 4 26 8 26 13 26 18 26 17 26 13 26 8 26 6 26 8 26 11 26 20 26 24 26 24 26 20 26 14 26 9 26 7 26 9 26 18 26 28 16 20 16 19 16 19 16 18 16 19 16 18 16 18 16 18 16 18 16 18 16 17 16 14 16 12 16 9 16 5 16 2 16-5 16-10 10-12 10-19 10-27 10-37 10-46 10-54 10-62 10-71 10-77 10-80 10-78 10-77 10-77 10-76 10-75 10-71 10-67 10-63 10-57 10-56 10-56 10-57 10-60 10-62 10-62 10-61 10-56 10-52 10-49 10-46 10-43 10-40 10-36 10-34 10-32 10-32 10-32 10-33 10-33 10-34 10-32 10-32 10-29 10-27 10-23 10-21 10-17 10-16 10-13 10-11 10-10 10-9 16-11 16-10 16-7 16-8 16-8 16-8 16-8 16-9 26-14 26-13 26-13 26-12 26-12 26-11 26-11 26-11 26-8 26-7 26-6 26-5 26-3 26 1 26 3 26 8 26 14 26 18 26 15 26 9 26 1 26-2 26-5 26-7 26-9 26-9 26-7 26-5 26-2 26 0 26 4 26 5 26 6 26 10 26 11 26 13 26 15 26 16 26 18 26 23 26 28 26 34 10 14 10 16 10 17 10 19 10 20 10 22 10 24 10 25 10 27 10 29 10 30 10 32 10 34 10 36 10 36 10 35 10 35 10 34 10 34 10 35 10 35 10 36 10 38 10 38 10 39 10 39 10 37 10 35 10 31 10 28 10 24 10 22 10 18 10 15 10 13 10 11 10 9 10 8 10 7 10 7 26 14 26 12 26 9 26 6 26 4 26 4 26 2 26 1 26 0 5 0"/>
<path stroke="#20BAF0" d="M704 3264l16 24 16 20 16 16 16 14 16 10 16 8 16 4 16 4 16 2 26 3 26 0 26-3 26-4 26-4 26-5 26-6 26-8 26-7 26-6 26-6 26-4 26-3 26-2 26-2 26-3 26-4 26-6 26-9 26-12 26-16 26-20 26-26 26-32 10-14 10-15 10-15 10-17 10-17 10-19 10-20 10-22 10-24 10-25 10-26 10-28 10-27 10-28 10-27 10-28 10-26 10-25 10-24 10-22 10-21 10-18 10-17 10-16 10-14 10-12 10-12 10-10 10-10 26-22 26-17 26-14 26-10 26-8 26-6 26-2 26 2 26 2 26 3 26 6 26 12 26 14 26 14 26 9 26 3 26 0 26 0 26 4 26 11 26 16 26 17 26 15 26 9 26 5 26 3 26 9 26 25 26 41 16 28 16 29 16 27 16 28 16 27 16 28 16 27 16 27 16 25 16 25 16 22 16 19 16 16 16 12 16 7 16 2 16-3 16-11 10-13 10-19 10-29 10-40 10-49 10-59 10-68 10-77 10-85 10-87 10-85 10-82 10-78 10-76 10-71 10-66 10-59 10-51 10-44 10-40 10-40 10-42 10-44 10-48 10-49 10-49 10-46 10-43 10-41 10-41 10-37 10-35 10-32 10-29 10-28 10-26 10-28 10-28 10-28 10-29 10-28 10-28 10-26 10-24 10-20 10-17 10-13 10-12 10-9 10-8 10-7 10-5 16-7 16-6 16-5 16-4 16-4 16-4 16-5 16-4 26-9 26-9 26-9 26-10 26-12 26-11 26-12 26-12 26-13 26-13 26-15 26-14 26-13 26-9 26-6 26-1 26 7 26 13 26 13 26 8 26 3 26 1 26 1 26 0 26-1 26 1 26 1 26 1 26 3 26 4 26 5 26 5 26 5 26 8 26 10 26 11 26 13 26 16 26 19 26 25 26 30 26 35 10 15 10 17 10 18 10 20 10 22 10 24 10 26 10 28 10 29 10 31 10 33 10 35 10 39 10 39 10 38 10 38 10 36 10 35 10 35 10 35 10 36 10 38 10 38 10 38 10 37 10 36 10 35 10 34 10 33 10 31 10 27 10 24 10 21 10 17 10 14 10 11 10 10 10 9 10 8 10 8 26 16 26 10 26 6 26 2 26-2 26-2 26-5 26-7 26-9 5-2"/>
<path stroke="#D41440" d="M704 3294l16 21 16 20 16 16 16 14 16 11 16 7 16 6 16 3 16 4 26 3 26 1 26-2 26-3 26-4 26-4 26-5 26-6 26-6 26-5 26-4 26-3 26-2 26-1 26-1 26-2 26-3 26-5 26-7 26-9 26-13 26-16 26-21 26-27 10-12 10-13 10-13 10-14 10-16 10-16 10-18 10-20 10-22 10-24 10-25 10-26 10-26 10-27 10-26 10-27 10-26 10-26 10-24 10-23 10-22 10-21 10-19 10-17 10-16 10-14 10-14 10-13 10-12 26-27 26-21 26-17 26-11 26-9 26-4 26 0 26 4 26 6 26 6 26 9 26 15 26 19 26 17 26 11 26 4 26 0 26-3 26 1 26 7 26 12 26 13 26 10 26 5 26 3 26 2 26 9 26 22 26 37 16 25 16 25 16 25 16 24 16 25 16 24 16 25 16 25 16 24 16 23 16 22 16 19 16 16 16 12 16 9 16 5 16 0 16-6 10-9 10-15 10-23 10-33 10-41 10-49 10-57 10-64 10-71 10-74 10-74 10-75 10-76 10-76 10-75 10-72 10-70 10-65 10-61 10-60 10-60 10-61 10-64 10-66 10-65 10-63 10-58 10-54 10-49 10-46 10-43 10-39 10-36 10-33 10-30 10-30 10-31 10-31 10-31 10-31 10-31 10-29 10-28 10-24 10-22 10-18 10-16 10-13 10-11 10-10 10-8 10-7 16-9 16-7 16-6 16-5 16-5 16-6 16-6 16-6 26-10 26-10 26-10 26-10 26-10 26-11 26-10 26-11 26-12 26-10 26-11 26-11 26-9 26-5 26-2 26 3 26 10 26 16 26 14 26 10 26 4 26 3 26 1 26-1 26-1 26 0 26 0 26 1 26 3 26 4 26 4 26 3 26 3 26 5 26 6 26 7 26 8 26 10 26 13 26 19 26 25 26 33 10 14 10 17 10 19 10 22 10 24 10 26 10 29 10 31 10 34 10 34 10 37 10 40 10 42 10 44 10 43 10 42 10 40 10 40 10 39 10 38 10 39 10 39 10 39 10 38 10 38 10 36 10 35 10 32 10 31 10 27 10 25 10 20 10 18 10 13 10 11 10 9 10 8 10 6 10 6 10 6 26 12 26 11 26 9 26 6 26 4 26 5 26 3 26 3 26 3 5 0"/>
<path stroke="#0A6CD6" d="M704 3248l16 24 16 20 16 17 16 13 16 10 16 7 16 5 16 2 16 2 26 2 26-1 26-4 26-5 26-5 26-6 26-7 26-10 26-9 26-8 26-7 26-6 26-4 26-3 26-2 26-4 26-5 26-9 26-12 26-15 26-20 26-25 26-31 26-39 10-17 10-17 10-18 10-20 10-20 10-21 10-23 10-24 10-26 10-27 10-29 10-28 10-29 10-29 10-28 10-27 10-27 10-24 10-22 10-20 10-19 10-16 10-14 10-13 10-10 10-10 10-8 10-8 10-6 26-14 26-11 26-10 26-9 26-10 26-8 26-4 26 0 26-1 26 0 26 3 26 10 26 15 26 14 26 10 26 5 26 1 26 1 26 7 26 15 26 22 26 23 26 18 26 11 26 6 26 2 26 8 26 24 26 39 16 28 16 27 16 26 16 25 16 24 16 25 16 25 16 25 16 24 16 24 16 21 16 18 16 15 16 11 16 7 16 2 16-6 16-15 10-16 10-25 10-36 10-49 10-62 10-73 10-84 10-97 10-105 10-108 10-101 10-94 10-90 10-89 10-89 10-85 10-78 10-69 10-60 10-53 10-50 10-49 10-50 10-51 10-54 10-54 10-51 10-48 10-43 10-40 10-36 10-33 10-30 10-27 10-25 10-26 10-27 10-28 10-28 10-27 10-27 10-25 10-23 10-21 10-19 10-17 10-15 10-13 10-11 10-10 10-9 10-7 16-10 16-7 16-6 16-6 16-7 16-8 16-8 16-9 26-14 26-13 26-12 26-10 26-9 26-8 26-9 26-9 26-8 26-6 26-6 26-6 26-3 26 0 26 3 26 7 26 16 26 19 26 17 26 11 26 6 26 2 26-2 26-5 26-7 26-6 26-5 26-3 26-1 26 3 26 3 26 5 26 6 26 10 26 12 26 13 26 14 26 14 26 16 26 19 26 24 26 31 10 14 10 14 10 16 10 17 10 17 10 20 10 21 10 22 10 24 10 25 10 26 10 28 10 30 10 31 10 32 10 33 10 34 10 33 10 34 10 34 10 35 10 37 10 39 10 41 10 43 10 44 10 41 10 38 10 33 10 28 10 24 10 22 10 19 10 16 10 15 10 12 10 11 10 9 10 8 10 7 26 16 26 13 26 10 26 9 26 6 26 6 26 4 26 4 26 3 5 0"/>
<path stroke="#FA5A12" d="M704 3329l16 21 16 20 16 17 16 15 16 12 16 8 16 7 16 6 16 6 26 6 26 3 26 2 26 0 26 0 26-1 26-2 26-2 26-3 26-2 26-1 26-2 26 0 26 0 26-1 26 0 26-3 26-5 26-8 26-11 26-13 26-16 26-21 26-26 10-12 10-11 10-13 10-13 10-13 10-15 10-15 10-17 10-18 10-19 10-21 10-21 10-21 10-20 10-20 10-19 10-19 10-18 10-17 10-16 10-15 10-13 10-12 10-10 10-8 10-8 10-8 10-6 10-7 26-14 26-12 26-12 26-12 26-12 26-10 26-6 26-3 26-2 26-1 26 3 26 11 26 15 26 15 26 11 26 6 26 1 26 1 26 4 26 11 26 15 26 15 26 12 26 8 26 5 26 5 26 9 26 17 26 25 16 18 16 18 16 18 16 18 16 17 16 17 16 16 16 17 16 17 16 16 16 16 16 15 16 12 16 9 16 6 16 3 16-5 16-12 10-13 10-20 10-28 10-37 10-45 10-54 10-62 10-71 10-78 10-82 10-83 10-83 10-84 10-83 10-82 10-79 10-75 10-71 10-67 10-65 10-65 10-66 10-68 10-70 10-69 10-68 10-64 10-59 10-56 10-53 10-50 10-47 10-43 10-41 10-39 10-38 10-39 10-39 10-40 10-39 10-37 10-35 10-34 10-29 10-27 10-24 10-21 10-18 10-15 10-14 10-11 10-9 16-11 16-6 16-4 16-3 16-4 16-4 16-4 16-5 26-7 26-7 26-6 26-5 26-6 26-6 26-7 26-8 26-8 26-7 26-7 26-6 26-4 26-1 26 2 26 6 26 13 26 17 26 16 26 10 26 4 26 2 26-1 26-4 26-6 26-5 26-4 26-2 26-1 26 2 26 2 26 3 26 3 26 7 26 8 26 9 26 10 26 12 26 13 26 17 26 24 26 31 10 14 10 16 10 18 10 20 10 22 10 24 10 26 10 28 10 31 10 31 10 34 10 35 10 38 10 39 10 40 10 39 10 39 10 38 10 38 10 37 10 38 10 39 10 39 10 40 10 40 10 38 10 37 10 33 10 29 10 24 10 21 10 17 10 14 10 12 10 9 10 7 10 6 10 4 10 5 10 3 26 11 26 12 26 12 26 11 26 11 26 12 26 12 26 13 26 14 5 3"/>
<path stroke="#FBB414" d="M704 3280l16 23 16 19 16 17 16 13 16 10 16 8 16 4 16 4 16 2 26 3 26-1 26-3 26-4 26-5 26-6 26-8 26-9 26-10 26-9 26-7 26-7 26-5 26-4 26-3 26-4 26-4 26-7 26-9 26-12 26-15 26-20 26-25 26-32 10-14 10-15 10-16 10-17 10-18 10-19 10-20 10-23 10-24 10-27 10-27 10-29 10-29 10-29 10-30 10-29 10-29 10-27 10-26 10-24 10-23 10-21 10-19 10-18 10-16 10-15 10-13 10-13 10-12 26-26 26-20 26-15 26-10 26-7 26-4 26 2 26 5 26 7 26 7 26 10 26 15 26 20 26 18 26 12 26 7 26 5 26 5 26 9 26 18 26 24 26 24 26 19 26 14 26 7 26 5 26 8 26 21 26 35 16 24 16 24 16 23 16 22 16 22 16 22 16 23 16 22 16 22 16 21 16 19 16 17 16 14 16 10 16 6 16 1 16-5 16-13 10-14 10-22 10-32 10-45 10-55 10-65 10-76 10-87 10-94 10-97 10-92 10-87 10-83 10-81 10-79 10-74 10-68 10-59 10-51 10-46 10-45 10-46 10-47 10-51 10-53 10-52 10-50 10-47 10-45 10-42 10-40 10-37 10-33 10-30 10-28 10-28 10-29 10-30 10-30 10-29 10-29 10-28 10-26 10-23 10-20 10-18 10-15 10-13 10-12 10-9 10-8 10-7 16-9 16-7 16-6 16-5 16-6 16-7 16-7 16-7 26-12 26-12 26-11 26-11 26-10 26-10 26-10 26-10 26-10 26-9 26-8 26-8 26-6 26-2 26 1 26 5 26 14 26 19 26 17 26 12 26 8 26 6 26 3 26 2 26 1 26 1 26 2 26 2 26 4 26 5 26 4 26 3 26 3 26 5 26 5 26 6 26 8 26 9 26 11 26 17 26 24 26 31 10 14 10 16 10 17 10 19 10 21 10 23 10 25 10 26 10 28 10 30 10 31 10 34 10 35 10 37 10 37 10 37 10 37 10 36 10 35 10 36 10 37 10 38 10 38 10 40 10 40 10 39 10 38 10 36 10 32 10 28 10 25 10 22 10 19 10 16 10 13 10 11 10 10 10 8 10 7 10 7 26 14 26 10 26 8 26 4 26 1 26 1 26-1 26-2 26-4 5 0"/>
<path stroke="#A02CBC" d="M704 3301l16 22 16 19 16 16 16 14 16 10 16 8 16 5 16 4 16 3 26 3 26 1 26-2 26-4 26-3 26-5 26-6 26-7 26-7 26-7 26-6 26-5 26-3 26-2 26-2 26-2 26-3 26-5 26-7 26-10 26-12 26-16 26-22 26-27 10-12 10-12 10-14 10-14 10-15 10-17 10-17 10-20 10-21 10-23 10-25 10-25 10-25 10-25 10-26 10-25 10-24 10-23 10-23 10-21 10-20 10-18 10-16 10-15 10-13 10-13 10-11 10-11 10-10 26-22 26-18 26-15 26-12 26-10 26-7 26-3 26 1 26 2 26 3 26 6 26 12 26 17 26 16 26 11 26 6 26 4 26 5 26 10 26 18 26 23 26 23 26 19 26 13 26 8 26 6 26 8 26 17 26 26 16 19 16 18 16 17 16 16 16 17 16 17 16 17 16 17 16 17 16 17 16 16 16 14 16 12 16 9 16 5 16 2 16-3 16-10 10-11 10-17 10-27 10-37 10-47 10-55 10-63 10-73 10-79 10-82 10-81 10-79 10-80 10-82 10-81 10-81 10-77 10-73 10-68 10-65 10-64 10-64 10-66 10-66 10-66 10-64 10-59 10-53 10-48 10-43 10-39 10-36 10-32 10-30 10-27 10-28 10-28 10-29 10-29 10-29 10-28 10-26 10-25 10-22 10-20 10-17 10-14 10-13 10-10 10-9 10-8 10-6 16-8 16-7 16-5 16-5 16-5 16-5 16-6 16-6 26-11 26-10 26-11 26-10 26-10 26-10 26-12 26-12 26-13 26-14 26-13 26-14 26-12 26-8 26-5 26 0 26 9 26 15 26 14 26 11 26 5 26 4 26 1 26-2 26-2 26-2 26 0 26 1 26 3 26 4 26 5 26 5 26 6 26 9 26 11 26 12 26 13 26 14 26 17 26 21 26 27 26 34 10 15 10 16 10 18 10 20 10 22 10 24 10 27 10 28 10 30 10 31 10 34 10 35 10 38 10 39 10 40 10 39 10 39 10 38 10 37 10 38 10 39 10 39 10 41 10 41 10 41 10 41 10 39 10 38 10 34 10 30 10 28 10 24 10 21 10 17 10 16 10 12 10 11 10 10 10 8 10 8 26 17 26 11 26 8 26 4 26 2 26 0 26-2 26-3 26-6 5-1"/>
<path stroke="#52B822" d="M704 3321l16 23 16 20 16 18 16 15 16 12 16 9 16 7 16 6 16 5 26 6 26 3 26 0 26-1 26-3 26-4 26-7 26-7 26-9 26-9 26-8 26-7 26-6 26-4 26-2 26-2 26-1 26-3 26-3 26-5 26-6 26-9 26-12 26-17 10-8 10-8 10-9 10-10 10-10 10-11 10-13 10-15 10-16 10-17 10-19 10-19 10-18 10-19 10-18 10-17 10-17 10-16 10-16 10-15 10-13 10-13 10-10 10-9 10-9 10-7 10-7 10-6 10-6 26-15 26-13 26-12 26-14 26-18 26-21 26-19 26-18 26-18 26-15 26-11 26-2 26 6 26 8 26 9 26 7 26 5 26 7 26 11 26 18 26 22 26 23 26 19 26 13 26 9 26 7 26 10 26 16 26 25 16 18 16 17 16 17 16 17 16 17 16 16 16 17 16 16 16 17 16 16 16 16 16 14 16 11 16 9 16 6 16 2 16-4 16-12 10-13 10-20 10-27 10-36 10-45 10-53 10-62 10-69 10-75 10-78 10-77 10-76 10-76 10-75 10-73 10-70 10-67 10-62 10-59 10-57 10-58 10-60 10-63 10-64 10-65 10-63 10-58 10-55 10-51 10-48 10-47 10-43 10-41 10-39 10-36 10-37 10-36 10-38 10-38 10-37 10-37 10-36 10-33 10-30 10-27 10-23 10-21 10-17 10-15 10-13 10-11 10-9 16-11 16-7 16-5 16-4 16-4 16-4 16-4 16-5 26-7 26-7 26-6 26-6 26-7 26-7 26-9 26-9 26-9 26-9 26-10 26-9 26-7 26-4 26-1 26 3 26 11 26 16 26 14 26 8 26 3 26 0 26-3 26-5 26-5 26-6 26-4 26-3 26 0 26 1 26 4 26 5 26 7 26 10 26 13 26 14 26 16 26 17 26 20 26 24 26 30 26 34 10 14 10 16 10 17 10 17 10 20 10 20 10 23 10 24 10 25 10 26 10 28 10 31 10 32 10 34 10 34 10 33 10 33 10 33 10 33 10 34 10 34 10 37 10 38 10 39 10 40 10 39 10 38 10 35 10 33 10 29 10 25 10 23 10 19 10 17 10 13 10 12 10 10 10 9 10 8 10 7 26 16 26 13 26 10 26 7 26 7 26 5 26 4 26 3 26 2 5 0"/>
<path stroke="#20BAF0" d="M704 3297l16 21 16 19 16 16 16 13 16 10 16 7 16 4 16 3 16 3 26 2 26-1 26-4 26-5 26-6 26-6 26-8 26-10 26-11 26-9 26-8 26-7 26-5 26-4 26-3 26-3 26-3 26-5 26-7 26-9 26-12 26-16 26-20 26-27 10-12 10-12 10-13 10-14 10-15 10-16 10-17 10-20 10-21 10-22 10-23 10-24 10-24 10-24 10-23 10-23 10-22 10-21 10-20 10-18 10-17 10-15 10-14 10-11 10-10 10-10 10-8 10-8 10-7 26-16 26-13 26-12 26-11 26-13 26-11 26-8 26-6 26-5 26-4 26-1 26 6 26 10 26 10 26 7 26 2 26-1 26 0 26 3 26 11 26 16 26 17 26 15 26 9 26 5 26 4 26 9 26 22 26 36 16 25 16 24 16 25 16 23 16 24 16 24 16 24 16 23 16 23 16 22 16 20 16 18 16 14 16 11 16 7 16 2 16-4 16-11 10-12 10-19 10-28 10-38 10-49 10-56 10-66 10-76 10-82 10-84 10-82 10-81 10-78 10-78 10-75 10-71 10-66 10-60 10-54 10-51 10-51 10-52 10-54 10-57 10-57 10-56 10-52 10-49 10-45 10-43 10-40 10-36 10-33 10-31 10-28 10-28 10-29 10-29 10-29 10-30 10-29 10-28 10-26 10-23 10-20 10-18 10-14 10-12 10-10 10-9 10-7 10-6 16-8 16-6 16-4 16-5 16-4 16-4 16-5 16-5 26-9 26-9 26-9 26-9 26-10 26-10 26-10 26-11 26-11 26-11 26-11 26-11 26-9 26-6 26-3 26 2 26 10 26 15 26 14 26 8 26 3 26 1 26-1 26-3 26-2 26-3 26-2 26 0 26 1 26 3 26 3 26 5 26 5 26 8 26 10 26 12 26 13 26 15 26 18 26 23 26 29 26 33 10 15 10 16 10 17 10 19 10 21 10 23 10 25 10 26 10 28 10 30 10 31 10 34 10 36 10 38 10 37 10 36 10 36 10 35 10 35 10 35 10 36 10 37 10 38 10 39 10 38 10 38 10 36 10 35 10 32 10 29 10 26 10 22 10 20 10 16 10 13 10 11 10 9 10 9 10 7 10 7 26 15 26 12 26 9 26 6 26 5 26 4 26 3 26 1 26 1 5 0"/>
<path stroke="#D41440" d="M704 3262l16 23 16 20 16 16 16 13 16 11 16 7 16 4 16 2 16 2 26 2 26-1 26-4 26-5 26-6 26-7 26-9 26-10 26-11 26-10 26-8 26-8 26-5 26-4 26-3 26-4 26-4 26-7 26-9 26-11 26-16 26-20 26-27 26-33 10-14 10-15 10-17 10-17 10-18 10-20 10-21 10-23 10-25 10-27 10-28 10-29 10-30 10-29 10-30 10-29 10-29 10-27 10-25 10-24 10-23 10-20 10-19 10-17 10-15 10-14 10-13 10-12 10-11 26-25 26-19 26-15 26-11 26-10 26-8 26-4 26-1 26-1 26 0 26 3 26 9 26 15 26 15 26 10 26 6 26 4 26 6 26 12 26 21 26 28 26 29 26 24 26 15 26 8 26 5 26 7 26 23 26 38 16 26 16 25 16 24 16 23 16 23 16 24 16 23 16 23 16 23 16 22 16 20 16 17 16 13 16 10 16 6 16 0 16-6 16-15 10-16 10-24 10-36 10-49 10-62 10-73 10-84 10-97 10-106 10-108 10-102 10-94 10-91 10-91 10-89 10-86 10-79 10-70 10-59 10-53 10-50 10-48 10-49 10-51 10-54 10-54 10-51 10-47 10-43 10-40 10-37 10-34 10-32 10-29 10-28 10-29 10-30 10-32 10-32 10-31 10-30 10-29 10-26 10-24 10-21 10-20 10-17 10-16 10-13 10-11 10-10 10-7 16-9 16-5 16-3 16-3 16-3 16-4 16-4 16-5 26-7 26-7 26-5 26-5 26-4 26-5 26-7 26-8 26-9 26-8 26-7 26-7 26-5 26-2 26 0 26 6 26 14 26 19 26 16 26 12 26 8 26 4 26 1 26-3 26-4 26-4 26-2 26-1 26 2 26 3 26 4 26 3 26 4 26 7 26 7 26 8 26 9 26 10 26 10 26 14 26 21 26 29 10 13 10 15 10 17 10 18 10 19 10 21 10 24 10 25 10 27 10 28 10 30 10 31 10 33 10 34 10 36 10 37 10 36 10 37 10 36 10 36 10 37 10 38 10 40 10 41 10 43 10 44 10 41 10 38 10 33 10 28 10 24 10 22 10 19 10 16 10 15 10 12 10 11 10 9 10 8 10 7 26 16 26 13 26 10 26 9 26 6 26 6 26 4 26 4 26 3 5 0"/>
<path stroke="#0A6CD6" d="M704 3336l16 21 16 20 16 18 16 16 16 12 16 10 16 7 16 7 16 6 26 7 26 4 26 1 26 0 26-2 26-2 26-4 26-5 26-5 26-5 26-5 26-5 26-3 26-3 26-2 26-2 26-3 26-5 26-6 26-9 26-12 26-13 26-19 26-23 10-10 10-11 10-11 10-12 10-13 10-14 10-15 10-16 10-18 10-20 10-20 10-21 10-21 10-20 10-19 10-20 10-18 10-18 10-17 10-16 10-15 10-13 10-11 10-10 10-9 10-8 10-7 10-7 10-6 26-15 26-13 26-12 26-13 26-14 26-12 26-8 26-6 26-4 26-3 26 1 26 8 26 13 26 12 26 10 26 5 26 2 26 2 26 5 26 10 26 16 26 15 26 12 26 9 26 7 26 5 26 10 26 19 26 28 16 20 16 21 16 20 16 20 16 21 16 19 16 20 16 19 16 19 16 18 16 18 16 15 16 14 16 10 16 6 16 3 16-4 16-11 10-12 10-17 10-25 10-33 10-40 10-47 10-54 10-61 10-65 10-68 10-69 10-68 10-70 10-69 10-66 10-64 10-61 10-58 10-57 10-56 10-59 10-63 10-66 10-67 10-67 10-64 10-60 10-55 10-52 10-50 10-47 10-44 10-41 10-37 10-35 10-35 10-34 10-34 10-35 10-35 10-35 10-33 10-32 10-28 10-25 10-20 10-18 10-15 10-13 10-10 10-9 10-8 16-10 16-8 16-7 16-5 16-5 16-4 16-4 16-4 26-7 26-7 26-7 26-8 26-10 26-10 26-11 26-13 26-12 26-13 26-13 26-13 26-11 26-8 26-5 26 0 26 8 26 13 26 12 26 8 26 1 26 1 26-1 26-1 26-2 26-1 26 0 26 0 26 2 26 3 26 3 26 5 26 5 26 8 26 10 26 11 26 13 26 16 26 19 26 24 26 28 26 34 10 15 10 15 10 17 10 19 10 20 10 23 10 24 10 25 10 27 10 29 10 31 10 33 10 36 10 37 10 36 10 35 10 35 10 34 10 33 10 34 10 35 10 37 10 38 10 37 10 38 10 36 10 35 10 34 10 31 10 30 10 26 10 23 10 19 10 16 10 12 10 11 10 9 10 8 10 7 10 7 26 14 26 10 26 6 26 2 26-2 26-2 26-5 26-7 26-7 5-2"/>
<path stroke="#FA5A12" d="M704 3372l16 19 16 18 16 17 16 14 16 12 16 9 16 7 16 6 16 6 26 7 26 3 26 2 26 1 26-1 26-2 26-3 26-4 26-4 26-5 26-5 26-3 26-3 26-2 26-1 26-1 26 0 26 0 26-1 26-3 26-3 26-5 26-8 26-13 10-6 10-6 10-7 10-8 10-8 10-10 10-11 10-13 10-15 10-16 10-17 10-18 10-18 10-17 10-17 10-17 10-17 10-17 10-16 10-17 10-15 10-14 10-13 10-11 10-10 10-10 10-9 10-9 10-8 26-21 26-17 26-16 26-15 26-15 26-13 26-10 26-7 26-6 26-3 26 0 26 9 26 13 26 13 26 10 26 7 26 4 26 4 26 6 26 11 26 15 26 14 26 12 26 10 26 7 26 7 26 10 26 12 26 15 16 11 16 11 16 11 16 11 16 12 16 11 16 11 16 12 16 11 16 13 16 12 16 11 16 10 16 7 16 5 16 2 16 0 16-3 10-5 10-9 10-14 10-20 10-24 10-30 10-34 10-37 10-41 10-45 10-51 10-59 10-62 10-63 10-60 10-58 10-58 10-58 10-59 10-62 10-66 10-71 10-76 10-76 10-75 10-72 10-65 10-62 10-57 10-56 10-52 10-50 10-47 10-43 10-41 10-39 10-39 10-39 10-39 10-39 10-39 10-38 10-36 10-32 10-27 10-24 10-20 10-17 10-14 10-12 10-11 10-8 16-12 16-8 16-7 16-6 16-5 16-3 16-4 16-4 26-7 26-6 26-7 26-8 26-10 26-12 26-11 26-13 26-14 26-16 26-16 26-18 26-15 26-12 26-9 26-4 26 4 26 10 26 10 26 6 26 0 26-1 26-2 26-2 26-1 26-2 26-1 26 1 26 1 26 3 26 4 26 6 26 9 26 12 26 15 26 18 26 19 26 23 26 26 26 31 26 34 26 39 10 15 10 17 10 18 10 20 10 21 10 24 10 25 10 27 10 28 10 29 10 32 10 35 10 37 10 39 10 37 10 36 10 34 10 34 10 33 10 34 10 36 10 36 10 38 10 37 10 36 10 35 10 35 10 34 10 33 10 31 10 29 10 25 10 21 10 17 10 15 10 12 10 10 10 9 10 9 10 7 26 17 26 9 26 6 26 1 26-2 26-4 26-6 26-8 26-10 5-3"/>
<path stroke="#FBB414" d="M704 3301l16 21 16 18 16 16 16 13 16 10 16 7 16 5 16 3 16 3 26 2 26 0 26-3 26-4 26-5 26-5 26-7 26-8 26-8 26-8 26-6 26-6 26-4 26-2 26-3 26-2 26-3 26-5 26-6 26-8 26-12 26-15 26-20 26-26 10-12 10-12 10-13 10-14 10-15 10-17 10-18 10-19 10-22 10-24 10-24 10-26 10-26 10-26 10-26 10-26 10-25 10-24 10-24 10-22 10-20 10-20 10-17 10-16 10-14 10-14 10-12 10-11 10-11 26-25 26-19 26-15 26-11 26-6 26-1 26 6 26 11 26 12 26 13 26 16 26 20 26 23 26 19 26 12 26 4 26-4 26-7 26-6 26-1 26 3 26 5 26 3 26 0 26-1 26 1 26 8 26 23 26 36 16 25 16 25 16 25 16 24 16 25 16 25 16 25 16 25 16 25 16 23 16 22 16 19 16 17 16 13 16 10 16 5 16 0 16-5 10-8 10-15 10-22 10-31 10-40 10-46 10-54 10-61 10-66 10-68 10-68 10-69 10-69 10-68 10-66 10-64 10-60 10-56 10-53 10-52 10-54 10-58 10-60 10-62 10-62 10-59 10-55 10-50 10-47 10-45 10-41 10-37 10-34 10-31 10-28 10-28 10-27 10-28 10-28 10-28 10-29 10-27 10-26 10-24 10-19 10-17 10-13 10-11 10-9 10-8 10-6 10-6 16-8 16-9 16-7 16-8 16-8 16-7 16-8 16-9 26-15 26-15 26-15 26-16 26-15 26-15 26-14 26-13 26-11 26-11 26-10 26-11 26-7 26-4 26-2 26 3 26 10 26 14 26 13 26 7 26 1 26-1 26-3 26-3 26-4 26-3 26-3 26-1 26 1 26 2 26 5 26 5 26 8 26 11 26 13 26 15 26 18 26 20 26 24 26 29 26 33 26 38 10 15 10 17 10 17 10 20 10 21 10 23 10 24 10 26 10 28 10 28 10 31 10 34 10 36 10 38 10 36 10 35 10 34 10 33 10 33 10 34 10 35 10 37 10 37 10 37 10 37 10 36 10 36 10 34 10 34 10 31 10 29 10 25 10 22 10 18 10 15 10 13 10 10 10 10 10 9 10 8 26 17 26 10 26 6 26 2 26-1 26-3 26-5 26-8 26-9 5-2"/>
<path stroke="#A02CBC" d="M704 3308l16 23 16 20 16 18 16 16 16 12 16 9 16 7 16 6 16 5 26 6 26 3 26 0 26-2 26-3 26-4 26-5 26-6 26-8 26-6 26-6 26-6 26-4 26-3 26-3 26-2 26-4 26-5 26-6 26-10 26-12 26-15 26-19 26-26 10-11 10-12 10-12 10-13 10-15 10-15 10-17 10-18 10-20 10-22 10-23 10-23 10-24 10-24 10-24 10-23 10-22 10-22 10-21 10-20 10-19 10-17 10-15 10-14 10-13 10-11 10-11 10-10 10-9 26-21 26-17 26-13 26-12 26-10 26-7 26-2 26 2 26 2 26 3 26 7 26 13 26 17 26 17 26 11 26 4 26 0 26-2 26 0 26 8 26 12 26 13 26 10 26 6 26 2 26 3 26 8 26 19 26 29 16 21 16 21 16 20 16 20 16 19 16 19 16 20 16 19 16 19 16 19 16 18 16 15 16 13 16 10 16 6 16 2 16-4 16-11 10-12 10-20 10-28 10-38 10-48 10-56 10-66 10-75 10-82 10-86 10-84 10-83 10-82 10-82 10-81 10-77 10-74 10-68 10-62 10-59 10-59 10-60 10-62 10-63 10-65 10-63 10-59 10-55 10-52 10-48 10-46 10-44 10-40 10-38 10-36 10-36 10-37 10-38 10-38 10-37 10-36 10-35 10-32 10-29 10-26 10-23 10-20 10-18 10-16 10-13 10-11 10-9 16-10 16-6 16-4 16-4 16-3 16-5 16-4 16-5 26-8 26-7 26-7 26-6 26-6 26-6 26-8 26-8 26-8 26-6 26-5 26-4 26-2 26 1 26 3 26 8 26 16 26 18 26 16 26 10 26 5 26 2 26-1 26-3 26-5 26-5 26-3 26-2 26 0 26 2 26 3 26 3 26 3 26 6 26 8 26 8 26 9 26 11 26 12 26 17 26 24 26 30 10 14 10 16 10 18 10 20 10 23 10 25 10 27 10 29 10 31 10 33 10 34 10 37 10 39 10 40 10 41 10 40 10 40 10 39 10 39 10 38 10 38 10 39 10 40 10 40 10 40 10 39 10 38 10 35 10 31 10 27 10 24 10 20 10 18 10 14 10 12 10 10 10 8 10 8 10 6 10 6 26 13 26 12 26 9 26 7 26 6 26 4 26 4 26 3 26 2 5 1"/>
<path stroke="#52B822" d="M704 3274l16 22 16 18 16 16 16 12 16 9 16 7 16 3 16 2 16 2 26 1 26-2 26-5 26-5 26-5 26-6 26-7 26-9 26-8 26-7 26-6 26-5 26-3 26-1 26-2 26-2 26-3 26-5 26-7 26-10 26-13 26-18 26-23 26-30 10-13 10-14 10-15 10-16 10-17 10-18 10-19 10-22 10-23 10-26 10-26 10-27 10-28 10-28 10-27 10-28 10-26 10-26 10-24 10-23 10-21 10-19 10-18 10-16 10-14 10-14 10-12 10-11 10-11 26-23 26-18 26-15 26-11 26-10 26-9 26-5 26-2 26-2 26-1 26 2 26 8 26 12 26 13 26 8 26 2 26 0 26 0 26 5 26 13 26 18 26 20 26 17 26 10 26 6 26 3 26 8 26 26 26 42 16 29 16 29 16 29 16 27 16 28 16 28 16 27 16 27 16 26 16 25 16 23 16 19 16 16 16 12 16 8 16 2 16-6 16-14 10-16 10-23 10-35 10-46 10-58 10-68 10-79 10-90 10-98 10-99 10-95 10-88 10-84 10-84 10-82 10-78 10-72 10-64 10-56 10-50 10-48 10-49 10-50 10-51 10-54 10-53 10-49 10-46 10-42 10-39 10-36 10-32 10-28 10-25 10-24 10-23 10-24 10-25 10-25 10-25 10-25 10-23 10-22 10-19 10-17 10-14 10-13 10-10 10-8 10-7 10-6 10-6 16-7 16-6 16-5 16-5 16-4 16-5 16-5 16-6 26-9 26-10 26-8 26-9 26-9 26-9 26-10 26-10 26-11 26-11 26-11 26-11 26-9 26-5 26-3 26 1 26 11 26 14 26 14 26 9 26 3 26-1 26-2 26-5 26-6 26-5 26-4 26-2 26-1 26 3 26 4 26 5 26 7 26 10 26 12 26 14 26 16 26 17 26 19 26 24 26 30 26 35 10 15 10 17 10 18 10 20 10 21 10 24 10 25 10 27 10 29 10 30 10 33 10 34 10 36 10 38 10 38 10 37 10 37 10 36 10 36 10 36 10 36 10 38 10 39 10 39 10 39 10 38 10 36 10 34 10 31 10 27 10 23 10 21 10 17 10 14 10 11 10 9 10 8 10 7 10 6 10 5 26 13 26 12 26 10 26 10 26 9 26 9 26 9 26 8 26 9 5 1"/>
<path stroke="#20BAF0" d="M704 3256l16 24 16 21 16 17 16 14 16 10 16 8 16 4 16 4 16 2 26 3 26-1 26-3 26-5 26-5 26-6 26-8 26-10 26-9 26-9 26-7 26-7 26-5 26-2 26-4 26-4 26-5 26-8 26-11 26-15 26-18 26-24 26-30 26-38 10-16 10-17 10-19 10-19 10-21 10-21 10-24 10-25 10-28 10-29 10-31 10-31 10-32 10-33 10-32 10-33 10-31 10-30 10-28 10-27 10-25 10-23 10-21 10-20 10-18 10-16 10-16 10-14 10-13 26-31 26-24 26-20 26-14 26-10 26-8 26-6 26-4 26 0 26 4 26 6 26 9 26 11 26 9 26 6 26 4 26 3 26 3 26 2 26 2 26 12 26 17 26 17 26 11 26 3 26 0 26 7 26 23 26 43 16 29 16 26 16 23 16 19 16 21 16 26 16 29 16 29 16 35 16 47 16 49 16 39 16 22 16 13 16 9 16 3 16-4 16-15 10-16 10-26 10-38 10-54 10-67 10-79 10-93 10-106 10-117 10-118 10-109 10-100 10-94 10-94 10-92 10-88 10-80 10-68 10-57 10-48 10-43 10-41 10-40 10-43 10-46 10-47 10-44 10-40 10-36 10-33 10-29 10-26 10-23 10-20 10-18 10-20 10-21 10-23 10-23 10-22 10-22 10-20 10-17 10-16 10-14 10-12 10-9 10-8 10-6 10-5 10-3 10-1 16-1 16 1 16 2 16 3 16 2 16 1 16 2 16 0 26 1 26 0 26-2 26-3 26-6 26-8 26-11 26-10 26-11 26-9 26-9 26-8 26-5 26-3 26-1 26 4 26 11 26 14 26 14 26 9 26 4 26 3 26 0 26-1 26-3 26-3 26-3 26-2 26 0 26 2 26 2 26 4 26 5 26 9 26 11 26 12 26 13 26 14 26 15 26 19 26 25 26 32 10 14 10 15 10 18 10 18 10 21 10 22 10 24 10 27 10 27 10 30 10 30 10 33 10 35 10 36 10 37 10 37 10 37 10 36 10 35 10 36 10 37 10 37 10 39 10 40 10 41 10 40 10 39 10 36 10 33 10 28 10 26 10 21 10 20 10 16 10 14 10 11 10 10 10 9 10 8 10 7 26 15 26 12 26 9 26 7 26 5 26 3 26 3 26 1 26 1 5 0"/>
<path stroke="#20BAF0" d="M704 3257l16 24 16 20 16 16 16 13 16 10 16 7 16 4 16 3 16 2 26 2 26-2 26-4 26-5 26-6 26-7 26-9 26-11 26-11 26-9 26-9 26-8 26-6 26-4 26-4 26-4 26-7 26-10 26-12 26-16 26-21 26-26 26-33 26-40 10-17 10-18 10-19 10-19 10-21 10-22 10-23 10-25 10-27 10-29 10-29 10-31 10-30 10-31 10-31 10-30 10-30 10-27 10-25 10-24 10-22 10-19 10-18 10-16 10-14 10-12 10-12 10-10 10-9 26-20 26-14 26-11 26-6 26-4 26-1 26 4 26 7 26 8 26 8 26 12 26 15 26 20 26 18 26 12 26 8 26 4 26 6 26 10 26 18 26 23 26 25 26 20 26 13 26 8 26 5 26 7 26 21 26 34 16 23 16 23 16 21 16 21 16 21 16 22 16 22 16 22 16 22 16 21 16 19 16 16 16 13 16 10 16 6 16 2 16-4 16-8 10-11 10-18 10-28 10-40 10-51 10-59 10-68 10-79 10-85 10-85 10-82 10-77 10-75 10-74 10-71 10-69 10-62 10-56 10-48 10-45 10-44 10-45 10-48 10-50 10-51 10-51 10-47 10-43 10-40 10-37 10-34 10-30 10-27 10-24 10-22 10-22 10-23 10-23 10-24 10-24 10-24 10-24 10-22 10-19 10-17 10-14 10-11 10-10 10-7 10-7 10-6 10-5 16-7 16-7 16-7 16-7 16-7 16-8 16-7 16-9 26-15 26-14 26-15 26-14 26-14 26-13 26-13 26-11 26-10 26-9 26-9 26-8 26-6 26-2 26 0 26 5 26 12 26 16 26 15 26 7 26 2 26-2 26-4 26-6 26-6 26-6 26-4 26-3 26-1 26 2 26 4 26 5 26 6 26 9 26 11 26 12 26 14 26 17 26 20 26 25 26 31 26 35 10 16 10 17 10 19 10 22 10 23 10 26 10 28 10 30 10 32 10 33 10 35 10 38 10 41 10 42 10 41 10 40 10 38 10 38 10 37 10 37 10 37 10 39 10 38 10 38 10 37 10 36 10 34 10 33 10 31 10 29 10 25 10 21 10 18 10 15 10 12 10 9 10 8 10 7 10 6 10 6 26 14 26 10 26 9 26 5 26 5 26 4 26 3 26 2 26 1 5 0"/>
<path stroke="#D41440" d="M704 3326l16 19 16 18 16 15 16 12 16 10 16 6 16 5 16 3 16 3 26 2 26 0 26-2 26-3 26-3 26-4 26-6 26-6 26-7 26-5 26-5 26-5 26-2 26-2 26-1 26-1 26-1 26-2 26-2 26-5 26-6 26-9 26-13 26-19 10-8 10-10 10-10 10-11 10-12 10-13 10-15 10-17 10-19 10-21 10-23 10-24 10-24 10-25 10-25 10-25 10-25 10-25 10-25 10-24 10-23 10-21 10-20 10-19 10-18 10-16 10-16 10-15 10-14 26-32 26-26 26-19 26-13 26-10 26-7 26-1 26 2 26 3 26 5 26 8 26 14 26 19 26 17 26 12 26 8 26 5 26 5 26 8 26 16 26 19 26 20 26 17 26 11 26 8 26 6 26 10 26 19 26 29 16 20 16 19 16 20 16 19 16 18 16 19 16 19 16 19 16 18 16 19 16 17 16 15 16 12 16 10 16 6 16 2 16-5 16-14 10-14 10-22 10-31 10-41 10-50 10-60 10-68 10-78 10-84 10-86 10-84 10-79 10-77 10-74 10-72 10-67 10-62 10-55 10-50 10-46 10-48 10-49 10-52 10-55 10-55 10-55 10-51 10-48 10-46 10-44 10-41 10-38 10-35 10-32 10-30 10-29 10-30 10-30 10-31 10-30 10-31 10-29 10-28 10-25 10-21 10-19 10-15 10-13 10-11 10-9 10-8 10-7 16-9 16-8 16-6 16-6 16-7 16-6 16-7 16-7 26-12 26-12 26-13 26-12 26-13 26-13 26-13 26-12 26-13 26-13 26-13 26-13 26-10 26-7 26-4 26 1 26 9 26 14 26 13 26 9 26 3 26 1 26-1 26-1 26-3 26-2 26-1 26 0 26 1 26 4 26 4 26 4 26 6 26 8 26 10 26 11 26 13 26 15 26 18 26 23 26 29 26 34 10 15 10 17 10 19 10 21 10 23 10 26 10 29 10 30 10 32 10 34 10 36 10 39 10 41 10 42 10 42 10 41 10 40 10 38 10 38 10 37 10 38 10 39 10 39 10 38 10 37 10 35 10 34 10 33 10 30 10 27 10 24 10 21 10 17 10 13 10 11 10 8 10 7 10 6 10 6 10 5 26 13 26 10 26 9 26 5 26 5 26 4 26 3 26 3 26 2 5 1"/>
<path stroke="#0A6CD6" d="M704 3351l16 20 16 18 16 17 16 14 16 11 16 9 16 7 16 5 16 5 26 6 26 3 26 1 26 0 26-2 26-2 26-2 26-3 26-3 26-3 26-2 26-2 26-1 26 0 26-1 26 0 26-2 26-2 26-5 26-7 26-9 26-12 26-15 26-21 10-9 10-9 10-11 10-11 10-12 10-12 10-15 10-15 10-18 10-19 10-20 10-21 10-21 10-21 10-20 10-20 10-21 10-19 10-20 10-18 10-18 10-16 10-15 10-13 10-12 10-11 10-11 10-10 10-9 26-23 26-18 26-16 26-15 26-13 26-11 26-8 26-5 26-3 26 0 26 2 26 10 26 14 26 13 26 10 26 8 26 7 26 8 26 11 26 18 26 21 26 21 26 18 26 14 26 10 26 8 26 10 26 16 26 20 16 15 16 15 16 15 16 15 16 15 16 15 16 15 16 14 16 15 16 15 16 14 16 12 16 11 16 9 16 5 16 1 16-3 16-8 10-10 10-14 10-21 10-29 10-34 10-42 10-48 10-53 10-57 10-61 10-63 10-66 10-66 10-63 10-59 10-54 10-50 10-47 10-45 10-47 10-49 10-55 10-60 10-62 10-63 10-60 10-57 10-54 10-53 10-52 10-50 10-47 10-44 10-40 10-38 10-37 10-36 10-36 10-36 10-36 10-37 10-36 10-33 10-30 10-26 10-22 10-18 10-15 10-13 10-11 10-9 10-8 16-11 16-9 16-8 16-7 16-7 16-8 16-7 16-8 26-13 26-14 26-14 26-15 26-15 26-15 26-14 26-13 26-12 26-13 26-12 26-13 26-9 26-7 26-3 26 0 26 9 26 13 26 12 26 7 26 0 26-1 26-1 26-1 26-1 26-2 26 0 26 0 26 2 26 3 26 4 26 6 26 6 26 10 26 12 26 14 26 16 26 19 26 24 26 28 26 34 26 37 10 16 10 17 10 18 10 21 10 22 10 24 10 26 10 27 10 29 10 30 10 33 10 36 10 38 10 39 10 38 10 36 10 35 10 34 10 33 10 34 10 36 10 36 10 37 10 36 10 35 10 34 10 32 10 32 10 31 10 29 10 26 10 22 10 19 10 15 10 12 10 9 10 8 10 8 10 6 10 6 26 14 26 10 26 9 26 5 26 4 26 5 26 3 26 2 26 1 5 0"/>
<path stroke="#FA5A12" d="M704 3252l16 23 16 21 16 16 16 14 16 10 16 7 16 5 16 3 16 2 26 2 26-1 26-4 26-5 26-5 26-6 26-8 26-10 26-10 26-8 26-8 26-6 26-4 26-3 26-2 26-2 26-4 26-6 26-7 26-11 26-14 26-19 26-25 26-31 10-14 10-15 10-15 10-17 10-17 10-19 10-21 10-23 10-24 10-27 10-28 10-29 10-30 10-30 10-31 10-30 10-30 10-28 10-27 10-26 10-24 10-23 10-21 10-19 10-18 10-16 10-15 10-14 10-13 26-29 26-22 26-17 26-9 26-5 26-1 26 5 26 9 26 10 26 11 26 14 26 17 26 21 26 18 26 11 26 5 26 0 26-1 26 2 26 9 26 14 26 15 26 12 26 7 26 3 26 2 26 8 26 22 26 37 16 26 16 25 16 25 16 24 16 24 16 25 16 26 16 25 16 24 16 23 16 21 16 18 16 14 16 11 16 6 16 2 16-2 16-5 10-8 10-14 10-23 10-34 10-43 10-51 10-59 10-66 10-73 10-74 10-71 10-71 10-70 10-69 10-67 10-65 10-59 10-55 10-49 10-47 10-47 10-50 10-52 10-55 10-55 10-53 10-50 10-45 10-41 10-39 10-35 10-32 10-29 10-25 10-24 10-22 10-23 10-24 10-24 10-25 10-24 10-24 10-23 10-20 10-17 10-13 10-11 10-9 10-7 10-6 10-5 10-4 16-6 16-6 16-5 16-5 16-5 16-5 16-4 16-6 26-9 26-11 26-10 26-11 26-12 26-13 26-12 26-13 26-12 26-13 26-14 26-13 26-12 26-8 26-5 26 0 26 8 26 13 26 13 26 7 26 0 26-1 26-3 26-4 26-3 26-4 26-2 26-1 26 0 26 3 26 4 26 6 26 6 26 9 26 11 26 13 26 14 26 18 26 22 26 27 26 32 26 37 10 16 10 18 10 20 10 22 10 25 10 27 10 29 10 31 10 33 10 35 10 38 10 40 10 43 10 44 10 43 10 41 10 40 10 38 10 37 10 37 10 38 10 39 10 38 10 37 10 35 10 34 10 32 10 32 10 31 10 28 10 26 10 22 10 18 10 14 10 11 10 9 10 7 10 6 10 6 10 5 26 11 26 7 26 5 26 0 26-1 26-2 26-3 26-5 26-7 5-1"/>
<path stroke="#FBB414" d="M704 3353l16 21 16 20 16 18 16 16 16 13 16 9 16 8 16 7 16 7 26 7 26 4 26 3 26 0 26-1 26-3 26-5 26-6 26-7 26-7 26-8 26-6 26-5 26-4 26-3 26-1 26-2 26-2 26-5 26-6 26-8 26-10 26-14 26-19 10-9 10-9 10-10 10-10 10-11 10-13 10-13 10-15 10-17 10-19 10-19 10-20 10-20 10-19 10-19 10-18 10-18 10-18 10-17 10-16 10-16 10-13 10-12 10-11 10-10 10-8 10-8 10-8 10-7 26-17 26-15 26-13 26-13 26-14 26-11 26-8 26-5 26-3 26-1 26 1 26 10 26 15 26 14 26 10 26 6 26 2 26 2 26 4 26 9 26 14 26 13 26 11 26 7 26 4 26 3 26 7 26 14 26 21 16 15 16 15 16 16 16 15 16 15 16 15 16 15 16 15 16 15 16 15 16 14 16 13 16 11 16 8 16 5 16 2 16-3 16-8 10-10 10-14 10-21 10-29 10-36 10-42 10-50 10-55 10-60 10-64 10-66 10-70 10-72 10-72 10-72 10-69 10-68 10-66 10-64 10-65 10-67 10-69 10-73 10-74 10-73 10-70 10-64 10-61 10-56 10-52 10-50 10-46 10-43 10-40 10-37 10-37 10-36 10-37 10-37 10-37 10-36 10-34 10-32 10-29 10-26 10-22 10-19 10-16 10-13 10-12 10-10 10-8 16-10 16-8 16-5 16-6 16-5 16-5 16-5 16-5 26-10 26-9 26-9 26-9 26-9 26-10 26-10 26-10 26-11 26-10 26-10 26-10 26-8 26-4 26-2 26 2 26 11 26 14 26 14 26 9 26 2 26-1 26-2 26-4 26-5 26-5 26-4 26-2 26-1 26 2 26 4 26 5 26 6 26 10 26 12 26 13 26 14 26 17 26 19 26 24 26 29 26 34 10 15 10 16 10 18 10 19 10 20 10 23 10 24 10 26 10 27 10 29 10 31 10 33 10 35 10 36 10 36 10 35 10 35 10 34 10 34 10 34 10 35 10 36 10 37 10 38 10 37 10 37 10 36 10 33 10 31 10 27 10 25 10 20 10 18 10 15 10 12 10 9 10 9 10 7 10 7 10 6 26 13 26 12 26 8 26 6 26 5 26 3 26 3 26 2 26 2 5 0"/>
<path stroke="#A02CBC" d="M704 3372l16 19 16 18 16 17 16 14 16 12 16 9 16 7 16 6 16 6 26 7 26 3 26 2 26 1 26-1 26-1 26-2 26-2 26-3 26-3 26-3 26-2 26-1 26-1 26 0 26 0 26-1 26-1 26-2 26-4 26-6 26-6 26-11 26-14 10-7 10-7 10-8 10-8 10-10 10-10 10-11 10-13 10-15 10-16 10-18 10-18 10-18 10-18 10-17 10-17 10-17 10-17 10-17 10-16 10-16 10-14 10-13 10-11 10-11 10-10 10-9 10-9 10-9 26-20 26-18 26-17 26-15 26-16 26-14 26-12 26-8 26-8 26-5 26-1 26 6 26 11 26 10 26 8 26 4 26 0 26-1 26 2 26 6 26 10 26 10 26 9 26 6 26 5 26 6 26 10 26 18 26 25 16 18 16 19 16 19 16 19 16 19 16 18 16 19 16 18 16 17 16 17 16 17 16 15 16 13 16 9 16 7 16 2 16-1 16-6 10-7 10-12 10-17 10-23 10-28 10-33 10-38 10-42 10-46 10-49 10-53 10-60 10-63 10-61 10-59 10-57 10-55 10-55 10-56 10-58 10-62 10-68 10-72 10-74 10-72 10-68 10-63 10-59 10-56 10-53 10-52 10-49 10-46 10-43 10-42 10-39 10-40 10-40 10-40 10-40 10-41 10-39 10-38 10-33 10-30 10-25 10-21 10-18 10-16 10-13 10-12 10-10 16-13 16-10 16-9 16-7 16-8 16-7 16-7 16-8 26-13 26-13 26-12 26-14 26-14 26-14 26-13 26-13 26-12 26-11 26-11 26-11 26-9 26-5 26-2 26 2 26 9 26 13 26 13 26 7 26 0 26-2 26-3 26-3 26-4 26-3 26-3 26-2 26 0 26 2 26 4 26 6 26 8 26 10 26 14 26 15 26 17 26 20 26 24 26 30 26 33 26 37 10 16 10 17 10 18 10 20 10 22 10 24 10 26 10 27 10 29 10 30 10 33 10 36 10 38 10 39 10 38 10 36 10 36 10 34 10 34 10 34 10 36 10 37 10 38 10 37 10 36 10 35 10 34 10 34 10 32 10 31 10 28 10 24 10 21 10 17 10 14 10 11 10 10 10 10 10 8 10 8 26 18 26 13 26 10 26 6 26 5 26 3 26 2 26 0 26-1 5 0"/>
<path stroke="#52B822" d="M704 3306l16 24 16 21 16 19 16 16 16 12 16 10 16 7 16 7 16 5 26 7 26 2 26 1 26-2 26-3 26-5 26-8 26-9 26-11 26-10 26-10 26-9 26-7 26-5 26-3 26-2 26-3 26-4 26-5 26-8 26-11 26-13 26-19 26-24 10-10 10-11 10-12 10-13 10-14 10-15 10-16 10-18 10-20 10-21 10-23 10-23 10-24 10-23 10-23 10-23 10-22 10-22 10-21 10-19 10-18 10-17 10-15 10-13 10-12 10-11 10-11 10-9 10-9 26-21 26-17 26-14 26-12 26-11 26-8 26-4 26 0 26 0 26 2 26 5 26 12 26 16 26 15 26 11 26 4 26-2 26-3 26-2 26 5 26 9 26 10 26 8 26 4 26 1 26 2 26 9 26 20 26 31 16 22 16 21 16 21 16 21 16 21 16 20 16 21 16 21 16 20 16 20 16 19 16 16 16 13 16 10 16 7 16 2 16-3 16-10 10-11 10-18 10-27 10-37 10-45 10-54 10-63 10-72 10-77 10-80 10-79 10-78 10-76 10-75 10-72 10-68 10-64 10-57 10-53 10-50 10-51 10-52 10-56 10-58 10-59 10-58 10-54 10-51 10-48 10-46 10-44 10-40 10-37 10-35 10-32 10-32 10-33 10-33 10-33 10-33 10-33 10-32 10-29 10-27 10-24 10-20 10-17 10-16 10-13 10-11 10-10 10-8 16-11 16-9 16-8 16-7 16-7 16-8 16-8 16-8 26-13 26-13 26-13 26-11 26-12 26-11 26-11 26-11 26-10 26-7 26-7 26-7 26-4 26 0 26 2 26 6 26 14 26 17 26 15 26 8 26 3 26 1 26-2 26-3 26-4 26-3 26-3 26-1 26 1 26 2 26 4 26 6 26 7 26 10 26 13 26 14 26 15 26 18 26 21 26 24 26 30 26 35 10 15 10 15 10 17 10 17 10 18 10 20 10 21 10 23 10 24 10 25 10 27 10 28 10 31 10 32 10 33 10 32 10 31 10 32 10 32 10 32 10 34 10 36 10 37 10 40 10 39 10 40 10 38 10 36 10 32 10 30 10 26 10 24 10 20 10 17 10 14 10 12 10 11 10 9 10 9 10 8 26 17 26 13 26 10 26 7 26 6 26 4 26 3 26 1 26 1 5 0"/>
<path stroke="#20BAF0" d="M704 3280l16 24 16 21 16 19 16 15 16 12 16 8 16 7 16 4 16 5 26 4 26 2 26-2 26-3 26-5 26-6 26-9 26-11 26-13 26-11 26-11 26-10 26-8 26-5 26-4 26-3 26-2 26-3 26-4 26-6 26-8 26-11 26-16 26-22 10-10 10-11 10-12 10-12 10-14 10-15 10-17 10-20 10-21 10-22 10-24 10-25 10-25 10-25 10-24 10-25 10-24 10-23 10-21 10-21 10-19 10-18 10-16 10-15 10-13 10-12 10-11 10-10 10-10 26-22 26-17 26-14 26-12 26-13 26-12 26-11 26-8 26-7 26-7 26-2 26 4 26 10 26 11 26 9 26 6 26 2 26 2 26 7 26 14 26 19 26 20 26 16 26 11 26 7 26 4 26 9 26 21 26 33 16 24 16 23 16 22 16 22 16 22 16 22 16 23 16 22 16 22 16 21 16 20 16 17 16 14 16 11 16 6 16 3 16-2 16-7 10-10 10-16 10-25 10-35 10-43 10-53 10-60 10-70 10-76 10-79 10-78 10-79 10-78 10-78 10-77 10-73 10-70 10-64 10-59 10-56 10-57 10-57 10-60 10-61 10-62 10-60 10-56 10-52 10-48 10-44 10-41 10-36 10-32 10-28 10-26 10-25 10-24 10-26 10-25 10-25 10-25 10-24 10-22 10-19 10-16 10-14 10-11 10-10 10-7 10-6 10-6 10-4 16-7 16-7 16-7 16-6 16-7 16-6 16-7 16-8 26-13 26-13 26-12 26-13 26-13 26-12 26-12 26-11 26-11 26-11 26-11 26-11 26-9 26-5 26-2 26 2 26 10 26 15 26 14 26 8 26 3 26 1 26-1 26-3 26-3 26-3 26-2 26-1 26 1 26 2 26 4 26 3 26 4 26 6 26 8 26 10 26 11 26 13 26 16 26 21 26 27 26 33 10 15 10 17 10 19 10 22 10 24 10 27 10 29 10 31 10 34 10 35 10 37 10 40 10 42 10 44 10 43 10 42 10 41 10 39 10 39 10 38 10 39 10 39 10 39 10 38 10 38 10 35 10 35 10 33 10 30 10 28 10 25 10 21 10 18 10 14 10 11 10 9 10 8 10 6 10 6 10 6 26 12 26 10 26 8 26 4 26 2 26 2 26 0 26-1 26-2 5-1"/>
<path stroke="#D41440" d="M704 3369l16 18 16 17 16 16 16 14 16 11 16 8 16 7 16 5 16 6 26 5 26 3 26 1 26 0 26-1 26-1 26-1 26-1 26-2 26-1 26-1 26 0 26 0 26 1 26 0 26 0 26-2 26-3 26-5 26-9 26-10 26-12 26-16 26-21 10-9 10-9 10-10 10-11 10-11 10-12 10-14 10-14 10-16 10-17 10-18 10-18 10-18 10-17 10-17 10-16 10-15 10-16 10-14 10-14 10-13 10-11 10-9 10-9 10-7 10-6 10-6 10-5 10-6 26-12 26-12 26-12 26-14 26-15 26-13 26-10 26-7 26-6 26-3 26 0 26 9 26 13 26 13 26 10 26 6 26 2 26 1 26 3 26 7 26 11 26 11 26 8 26 7 26 5 26 6 26 9 26 16 26 22 16 15 16 16 16 16 16 16 16 16 16 16 16 16 16 15 16 16 16 15 16 15 16 13 16 12 16 9 16 6 16 2 16-2 16-8 10-10 10-14 10-20 10-27 10-32 10-38 10-45 10-49 10-52 10-56 10-58 10-63 10-64 10-64 10-60 10-57 10-56 10-55 10-54 10-57 10-60 10-65 10-69 10-71 10-70 10-66 10-62 10-57 10-55 10-52 10-51 10-48 10-45 10-43 10-40 10-39 10-38 10-39 10-40 10-39 10-40 10-38 10-37 10-32 10-29 10-24 10-21 10-17 10-15 10-13 10-11 10-9 16-12 16-8 16-8 16-6 16-5 16-5 16-5 16-5 26-9 26-9 26-9 26-10 26-12 26-12 26-12 26-13 26-13 26-13 26-14 26-14 26-12 26-8 26-6 26-1 26 6 26 12 26 11 26 7 26 0 26 0 26-2 26-2 26-2 26-1 26-1 26 0 26 1 26 3 26 4 26 5 26 7 26 9 26 11 26 13 26 15 26 18 26 22 26 28 26 32 26 37 10 16 10 17 10 20 10 21 10 24 10 26 10 28 10 29 10 32 10 33 10 35 10 39 10 41 10 42 10 41 10 39 10 38 10 36 10 36 10 36 10 37 10 38 10 38 10 37 10 35 10 33 10 31 10 31 10 29 10 26 10 24 10 19 10 16 10 12 10 9 10 6 10 6 10 4 10 5 10 4 26 10 26 10 26 9 26 6 26 6 26 6 26 5 26 5 26 6 5 1"/>
<path stroke="#0A6CD6" d="M704 3227l16 25 16 20 16 16 16 13 16 9 16 7 16 3 16 1 16 1 26 0 26-3 26-6 26-8 26-8 26-9 26-11 26-14 26-14 26-12 26-11 26-10 26-7 26-4 26-5 26-4 26-4 26-5 26-6 26-9 26-12 26-16 26-23 26-30 10-14 10-14 10-16 10-16 10-19 10-19 10-22 10-25 10-26 10-29 10-30 10-32 10-32 10-32 10-33 10-33 10-33 10-30 10-30 10-27 10-26 10-25 10-22 10-21 10-19 10-18 10-17 10-15 10-14 26-33 26-25 26-20 26-13 26-9 26-5 26 1 26 6 26 6 26 6 26 10 26 15 26 18 26 18 26 11 26 7 26 6 26 8 26 15 26 25 26 33 26 33 26 28 26 19 26 10 26 5 26 7 26 23 26 40 16 27 16 26 16 25 16 24 16 23 16 24 16 24 16 24 16 23 16 23 16 20 16 17 16 13 16 9 16 5 16-1 16-8 16-17 10-18 10-28 10-40 10-55 10-69 10-81 10-93 10-108 10-118 10-119 10-111 10-100 10-95 10-95 10-94 10-90 10-83 10-71 10-60 10-51 10-47 10-44 10-44 10-46 10-50 10-49 10-48 10-44 10-39 10-36 10-32 10-29 10-25 10-23 10-21 10-22 10-23 10-25 10-25 10-24 10-23 10-22 10-19 10-18 10-16 10-14 10-13 10-11 10-10 10-8 10-6 10-6 16-7 16-4 16-2 16-1 16-1 16-1 16-1 16 0 26-1 26 0 26 1 26 1 26 1 26-2 26-4 26-9 26-10 26-12 26-12 26-13 26-11 26-8 26-5 26 1 26 10 26 15 26 16 26 11 26 6 26 2 26-1 26-5 26-7 26-7 26-4 26-3 26 0 26 3 26 3 26 5 26 5 26 8 26 10 26 11 26 12 26 12 26 13 26 17 26 23 26 31 10 14 10 15 10 18 10 18 10 21 10 22 10 25 10 27 10 28 10 30 10 31 10 32 10 35 10 36 10 37 10 38 10 38 10 38 10 37 10 37 10 37 10 38 10 40 10 41 10 42 10 43 10 40 10 36 10 31 10 26 10 22 10 20 10 16 10 15 10 12 10 10 10 9 10 7 10 6 10 6 26 13 26 13 26 12 26 10 26 10 26 10 26 9 26 10 26 10 5 1"/>
<path stroke="#FA5A12" d="M704 3244l16 23 16 20 16 16 16 12 16 9 16 6 16 3 16 1 16 1 26-1 26-3 26-7 26-8 26-9 26-10 26-12 26-14 26-15 26-13 26-12 26-10 26-8 26-5 26-4 26-5 26-6 26-9 26-11 26-14 26-20 26-25 26-31 26-40 10-17 10-18 10-18 10-20 10-21 10-23 10-24 10-26 10-27 10-30 10-30 10-31 10-32 10-31 10-32 10-31 10-29 10-28 10-25 10-23 10-22 10-19 10-17 10-16 10-13 10-13 10-10 10-10 10-9 26-19 26-14 26-11 26-7 26-7 26-4 26 0 26 4 26 4 26 5 26 7 26 12 26 16 26 16 26 11 26 6 26 5 26 6 26 13 26 21 26 28 26 30 26 25 26 17 26 11 26 7 26 11 26 26 26 42 16 29 16 28 16 27 16 26 16 26 16 26 16 26 16 26 16 26 16 24 16 22 16 18 16 15 16 12 16 7 16 2 16-5 16-12 10-14 10-23 10-34 10-46 10-59 10-69 10-80 10-92 10-101 10-103 10-97 10-90 10-87 10-84 10-82 10-76 10-70 10-59 10-50 10-44 10-41 10-40 10-42 10-45 10-47 10-47 10-44 10-41 10-38 10-36 10-32 10-29 10-26 10-23 10-21 10-22 10-22 10-23 10-24 10-24 10-23 10-22 10-21 10-19 10-16 10-14 10-11 10-10 10-7 10-7 10-5 10-5 16-6 16-5 16-5 16-4 16-4 16-4 16-4 16-5 26-9 26-9 26-8 26-9 26-9 26-9 26-10 26-11 26-11 26-11 26-12 26-12 26-9 26-6 26-4 26 2 26 10 26 15 26 15 26 9 26 5 26 2 26 1 26-1 26-2 26-1 26 0 26 1 26 3 26 4 26 4 26 4 26 5 26 7 26 8 26 9 26 11 26 13 26 15 26 21 26 27 26 32 10 15 10 16 10 19 10 20 10 22 10 25 10 27 10 28 10 31 10 32 10 34 10 37 10 39 10 40 10 41 10 39 10 39 10 38 10 38 10 37 10 39 10 39 10 40 10 40 10 40 10 39 10 37 10 36 10 33 10 30 10 27 10 24 10 20 10 17 10 14 10 12 10 10 10 9 10 8 10 7 26 16 26 11 26 7 26 4 26 2 26 0 26-2 26-4 26-5 5-1"/>
<path stroke="#FBB414" d="M704 3366l16 18 16 17 16 15 16 13 16 10 16 8 16 6 16 5 16 4 26 5 26 1 26 1 26-1 26-1 26-1 26 0 26-1 26 0 26 0 26 0 26 1 26 1 26 2 26 0 26 0 26-2 26-5 26-7 26-11 26-13 26-16 26-20 26-25 10-10 10-12 10-11 10-12 10-13 10-14 10-14 10-16 10-16 10-19 10-20 10-20 10-19 10-20 10-19 10-18 10-19 10-17 10-17 10-16 10-15 10-14 10-12 10-10 10-9 10-8 10-8 10-7 10-7 26-15 26-11 26-10 26-9 26-9 26-6 26-3 26-1 26 1 26 3 26 6 26 12 26 16 26 15 26 11 26 5 26-1 26-4 26-3 26 1 26 5 26 5 26 3 26 2 26 2 26 3 26 10 26 16 26 22 16 16 16 16 16 16 16 17 16 16 16 16 16 17 16 16 16 16 16 16 16 16 16 13 16 12 16 10 16 6 16 2 16 0 16-3 10-5 10-9 10-15 10-20 10-26 10-31 10-36 10-41 10-44 10-48 10-53 10-61 10-65 10-65 10-64 10-61 10-61 10-61 10-62 10-64 10-67 10-71 10-75 10-76 10-74 10-70 10-64 10-59 10-56 10-51 10-48 10-45 10-40 10-36 10-34 10-32 10-31 10-31 10-32 10-31 10-32 10-30 10-29 10-26 10-22 10-17 10-15 10-12 10-10 10-8 10-7 10-6 16-9 16-9 16-8 16-8 16-7 16-6 16-7 16-8 26-12 26-14 26-13 26-14 26-16 26-16 26-14 26-14 26-15 26-15 26-15 26-16 26-14 26-9 26-7 26-3 26 6 26 12 26 11 26 8 26 2 26 1 26 2 26 3 26 2 26 3 26 3 26 4 26 4 26 4 26 5 26 5 26 5 26 7 26 9 26 10 26 13 26 16 26 20 26 26 26 32 26 36 10 16 10 17 10 19 10 21 10 23 10 25 10 27 10 29 10 30 10 32 10 35 10 37 10 40 10 41 10 40 10 39 10 36 10 35 10 35 10 36 10 36 10 38 10 37 10 37 10 35 10 34 10 32 10 33 10 31 10 30 10 27 10 23 10 19 10 15 10 13 10 9 10 9 10 7 10 7 10 7 26 14 26 10 26 7 26 4 26 2 26 1 26 0 26-1 26-3 5-1"/>
<path stroke="#A02CBC" d="M704 3285l16 22 16 19 16 17 16 13 16 10 16 7 16 5 16 3 16 3 26 2 26-1 26-3 26-5 26-5 26-7 26-8 26-9 26-11 26-9 26-8 26-7 26-5 26-3 26-3 26-3 26-4 26-6 26-8 26-11 26-15 26-19 26-24 26-30 10-14 10-14 10-15 10-16 10-17 10-18 10-20 10-21 10-24 10-24 10-26 10-27 10-27 10-27 10-27 10-26 10-25 10-25 10-22 10-21 10-20 10-17 10-16 10-14 10-13 10-11 10-10 10-9 10-8 26-18 26-13 26-9 26-6 26-3 26 0 26 5 26 8 26 10 26 9 26 13 26 17 26 20 26 17 26 12 26 2 26-5 26-10 26-8 26-4 26 2 26 2 26 1 26-1 26-3 26-1 26 8 26 23 26 37 16 25 16 26 16 24 16 25 16 24 16 25 16 26 16 25 16 24 16 24 16 22 16 19 16 15 16 13 16 8 16 4 16-1 16-6 10-9 10-16 10-25 10-35 10-44 10-52 10-60 10-69 10-74 10-76 10-74 10-72 10-72 10-71 10-68 10-66 10-61 10-56 10-51 10-49 10-50 10-52 10-54 10-57 10-57 10-55 10-52 10-47 10-43 10-41 10-38 10-34 10-30 10-28 10-25 10-25 10-25 10-25 10-26 10-26 10-26 10-26 10-24 10-21 10-18 10-15 10-12 10-10 10-8 10-7 10-5 10-5 16-7 16-7 16-6 16-6 16-5 16-5 16-5 16-6 26-10 26-11 26-11 26-11 26-12 26-12 26-12 26-13 26-12 26-14 26-14 26-14 26-13 26-8 26-6 26-1 26 7 26 13 26 12 26 8 26 2 26 0 26-1 26-1 26-2 26-1 26-1 26 1 26 2 26 3 26 4 26 6 26 6 26 9 26 11 26 13 26 15 26 18 26 21 26 27 26 32 26 37 10 16 10 17 10 20 10 21 10 23 10 26 10 27 10 30 10 31 10 33 10 35 10 38 10 40 10 41 10 41 10 39 10 38 10 36 10 36 10 36 10 37 10 38 10 38 10 37 10 36 10 35 10 33 10 32 10 31 10 28 10 26 10 21 10 18 10 15 10 11 10 8 10 8 10 6 10 6 10 5 26 11 26 8 26 5 26 1 26 0 26-1 26-2 26-4 26-5 5-1"/>
<path stroke="#52B822" d="M704 3339l16 19 16 17 16 16 16 13 16 10 16 7 16 5 16 4 16 4 26 4 26 0 26-1 26-2 26-2 26-4 26-4 26-5 26-5 26-5 26-4 26-4 26-2 26-2 26-1 26-1 26-3 26-4 26-7 26-9 26-12 26-15 26-20 26-25 10-11 10-12 10-12 10-13 10-14 10-14 10-17 10-17 10-19 10-21 10-22 10-22 10-22 10-22 10-22 10-21 10-20 10-20 10-19 10-17 10-17 10-14 10-14 10-11 10-10 10-10 10-8 10-8 10-8 26-17 26-14 26-13 26-13 26-12 26-10 26-5 26-3 26-1 26 0 26 3 26 11 26 15 26 15 26 10 26 5 26 1 26-1 26 2 26 8 26 13 26 13 26 11 26 6 26 3 26 3 26 7 26 17 26 27 16 19 16 19 16 18 16 18 16 18 16 19 16 18 16 18 16 18 16 18 16 16 16 15 16 12 16 9 16 6 16 2 16-4 16-9 10-11 10-16 10-25 10-34 10-42 10-50 10-58 10-66 10-72 10-75 10-75 10-76 10-76 10-77 10-76 10-73 10-70 10-67 10-62 10-62 10-61 10-64 10-66 10-68 10-67 10-65 10-61 10-56 10-53 10-48 10-46 10-43 10-38 10-36 10-34 10-32 10-34 10-34 10-34 10-33 10-33 10-32 10-29 10-26 10-23 10-21 10-17 10-15 10-13 10-10 10-10 10-7 16-11 16-7 16-6 16-5 16-6 16-5 16-6 16-6 26-10 26-10 26-9 26-9 26-10 26-9 26-11 26-11 26-11 26-10 26-11 26-11 26-8 26-5 26-2 26 2 26 11 26 15 26 15 26 9 26 4 26 2 26 1 26-2 26-3 26-2 26-1 26 0 26 2 26 4 26 4 26 5 26 7 26 9 26 11 26 12 26 13 26 15 26 18 26 22 26 29 26 33 10 15 10 16 10 18 10 20 10 21 10 23 10 25 10 27 10 29 10 30 10 32 10 34 10 37 10 37 10 38 10 37 10 37 10 36 10 35 10 36 10 36 10 38 10 39 10 39 10 38 10 38 10 35 10 33 10 30 10 26 10 23 10 19 10 16 10 12 10 11 10 8 10 6 10 6 10 5 10 5 26 12 26 11 26 11 26 9 26 9 26 8 26 9 26 9 26 9 5 2"/>
<path stroke="#20BAF0" d="M704 3343l16 20 16 19 16 18 16 14 16 12 16 9 16 7 16 6 16 5 26 6 26 3 26 1 26-1 26-1 26-3 26-3 26-5 26-5 26-5 26-4 26-4 26-3 26-2 26-1 26-2 26-2 26-4 26-5 26-8 26-10 26-12 26-17 26-22 10-9 10-10 10-11 10-11 10-13 10-13 10-14 10-16 10-18 10-19 10-19 10-20 10-20 10-19 10-18 10-18 10-17 10-17 10-15 10-15 10-13 10-12 10-10 10-9 10-7 10-7 10-6 10-5 10-6 26-12 26-11 26-11 26-14 26-17 26-17 26-16 26-15 26-13 26-11 26-7 26 2 26 8 26 9 26 10 26 6 26 4 26 4 26 7 26 12 26 17 26 17 26 14 26 10 26 8 26 6 26 9 26 16 26 23 16 15 16 16 16 16 16 16 16 16 16 15 16 16 16 16 16 16 16 15 16 15 16 14 16 11 16 9 16 6 16 2 16-2 16-6 10-7 10-13 10-19 10-27 10-33 10-40 10-46 10-52 10-56 10-60 10-63 10-67 10-68 10-69 10-65 10-64 10-61 10-58 10-57 10-58 10-60 10-64 10-67 10-69 10-68 10-65 10-60 10-56 10-53 10-50 10-47 10-43 10-40 10-36 10-34 10-33 10-32 10-32 10-33 10-33 10-32 10-32 10-30 10-26 10-23 10-19 10-16 10-13 10-11 10-10 10-8 10-7 16-9 16-8 16-8 16-7 16-6 16-6 16-7 16-7 26-12 26-12 26-12 26-13 26-13 26-14 26-13 26-12 26-12 26-10 26-11 26-11 26-8 26-4 26-2 26 2 26 10 26 14 26 13 26 7 26 1 26-2 26-3 26-4 26-4 26-4 26-4 26-3 26-1 26 0 26 2 26 2 26 4 26 6 26 9 26 10 26 13 26 14 26 19 26 23 26 29 26 34 10 14 10 16 10 18 10 19 10 21 10 24 10 25 10 27 10 28 10 30 10 32 10 35 10 37 10 39 10 37 10 37 10 36 10 34 10 34 10 35 10 36 10 37 10 38 10 37 10 37 10 36 10 34 10 34 10 31 10 29 10 26 10 23 10 19 10 15 10 13 10 10 10 9 10 8 10 7 10 7 26 14 26 11 26 9 26 6 26 5 26 5 26 4 26 3 26 1 5 1"/>
<path stroke="#D41440" d="M704 3306l16 22 16 19 16 17 16 14 16 11 16 9 16 5 16 5 16 4 26 5 26 2 26-1 26-2 26-2 26-3 26-4 26-5 26-6 26-4 26-4 26-4 26-2 26-1 26-1 26-2 26-3 26-4 26-7 26-10 26-12 26-16 26-20 26-26 10-12 10-12 10-13 10-14 10-14 10-16 10-17 10-18 10-21 10-22 10-23 10-24 10-25 10-24 10-24 10-23 10-24 10-22 10-22 10-20 10-19 10-18 10-16 10-14 10-13 10-13 10-11 10-10 10-10 26-23 26-18 26-16 26-13 26-11 26-9 26-5 26-2 26-1 26 1 26 3 26 10 26 14 26 13 26 9 26 3 26 0 26-1 26 3 26 9 26 14 26 14 26 12 26 8 26 5 26 4 26 9 26 23 26 36 16 26 16 25 16 26 16 25 16 25 16 25 16 25 16 24 16 24 16 22 16 21 16 18 16 15 16 11 16 7 16 3 16-4 16-10 10-12 10-18 10-26 10-36 10-44 10-52 10-60 10-67 10-74 10-76 10-76 10-75 10-73 10-71 10-67 10-63 10-57 10-53 10-47 10-47 10-47 10-51 10-54 10-57 10-57 10-56 10-52 10-50 10-47 10-46 10-44 10-40 10-38 10-34 10-32 10-31 10-32 10-32 10-32 10-32 10-32 10-32 10-29 10-27 10-23 10-19 10-16 10-14 10-11 10-10 10-8 10-8 16-9 16-8 16-7 16-7 16-6 16-7 16-7 16-7 26-12 26-13 26-12 26-13 26-13 26-13 26-13 26-12 26-11 26-10 26-9 26-10 26-6 26-3 26-1 26 4 26 11 26 15 26 13 26 8 26 2 26 0 26-1 26-2 26-2 26-1 26-1 26 0 26 1 26 2 26 4 26 4 26 4 26 6 26 8 26 10 26 11 26 13 26 17 26 21 26 26 26 31 10 14 10 14 10 16 10 17 10 20 10 20 10 23 10 24 10 25 10 27 10 29 10 31 10 34 10 35 10 35 10 34 10 33 10 33 10 33 10 33 10 35 10 37 10 37 10 38 10 38 10 38 10 35 10 35 10 32 10 29 10 26 10 23 10 20 10 16 10 13 10 11 10 9 10 9 10 7 10 7 26 16 26 11 26 9 26 6 26 5 26 3 26 3 26 1 26-1 5 0"/>
<path stroke="#0A6CD6" d="M704 3357l16 19 16 19 16 16 16 15 16 11 16 8 16 7 16 6 16 5 26 6 26 2 26 1 26-1 26-2 26-4 26-5 26-6 26-7 26-7 26-7 26-5 26-5 26-3 26-2 26-1 26-1 26-1 26-2 26-3 26-5 26-7 26-10 26-15 10-7 10-8 10-9 10-9 10-10 10-11 10-13 10-15 10-16 10-18 10-20 10-20 10-20 10-20 10-20 10-19 10-19 10-19 10-19 10-18 10-18 10-16 10-14 10-13 10-12 10-11 10-10 10-10 10-10 26-23 26-20 26-17 26-15 26-16 26-13 26-10 26-7 26-6 26-3 26 0 26 8 26 13 26 13 26 10 26 7 26 4 26 5 26 8 26 13 26 18 26 18 26 15 26 12 26 9 26 9 26 12 26 19 26 26 16 19 16 19 16 18 16 19 16 18 16 18 16 18 16 18 16 17 16 17 16 16 16 14 16 13 16 9 16 7 16 2 16-3 16-10 10-11 10-16 10-23 10-30 10-37 10-44 10-51 10-56 10-61 10-64 10-66 10-67 10-70 10-68 10-66 10-64 10-61 10-60 10-57 10-59 10-61 10-65 10-68 10-69 10-69 10-66 10-61 10-56 10-54 10-50 10-48 10-45 10-41 10-38 10-35 10-35 10-34 10-34 10-35 10-35 10-34 10-34 10-32 10-28 10-24 10-21 10-18 10-14 10-13 10-10 10-9 10-8 16-11 16-8 16-8 16-7 16-7 16-7 16-7 16-8 26-13 26-13 26-12 26-13 26-14 26-14 26-12 26-13 26-11 26-11 26-10 26-10 26-8 26-4 26-1 26 2 26 10 26 15 26 13 26 7 26 2 26 0 26-1 26-1 26-2 26-2 26-1 26 0 26 1 26 3 26 3 26 4 26 5 26 7 26 9 26 11 26 13 26 15 26 19 26 25 26 30 26 35 10 15 10 17 10 19 10 20 10 23 10 25 10 26 10 29 10 30 10 31 10 34 10 37 10 39 10 40 10 40 10 38 10 37 10 36 10 35 10 36 10 37 10 37 10 38 10 38 10 36 10 34 10 33 10 32 10 29 10 27 10 24 10 20 10 16 10 13 10 10 10 8 10 6 10 5 10 5 10 5 26 12 26 10 26 7 26 5 26 2 26 1 26 0 26-1 26-3 5-1"/>
<path stroke="#FA5A12" d="M704 3244l16 24 16 20 16 16 16 13 16 9 16 7 16 3 16 2 16 1 26 1 26-2 26-5 26-6 26-7 26-7 26-10 26-11 26-11 26-10 26-9 26-8 26-5 26-3 26-4 26-3 26-6 26-7 26-10 26-13 26-17 26-23 26-29 26-36 10-16 10-16 10-18 10-18 10-20 10-21 10-23 10-24 10-27 10-29 10-30 10-31 10-31 10-32 10-33 10-32 10-31 10-30 10-28 10-26 10-25 10-23 10-21 10-19 10-18 10-16 10-15 10-14 10-12 26-29 26-22 26-18 26-11 26-8 26-4 26 2 26 6 26 7 26 7 26 9 26 14 26 18 26 16 26 9 26 3 26-1 26-2 26 4 26 13 26 20 26 21 26 18 26 10 26 4 26 2 26 7 26 26 26 44 16 30 16 30 16 28 16 28 16 27 16 28 16 29 16 28 16 27 16 26 16 24 16 20 16 16 16 13 16 8 16 2 16-3 16-12 10-14 10-22 10-35 10-48 10-61 10-71 10-84 10-95 10-106 10-106 10-100 10-93 10-90 10-88 10-88 10-85 10-77 10-68 10-58 10-51 10-47 10-46 10-47 10-49 10-52 10-51 10-49 10-45 10-41 10-38 10-34 10-31 10-27 10-24 10-23 10-24 10-25 10-26 10-26 10-26 10-24 10-24 10-21 10-19 10-17 10-15 10-13 10-12 10-9 10-8 10-7 10-5 16-6 16-4 16-2 16-2 16-2 16-2 16-2 16-3 26-4 26-4 26-3 26-3 26-4 26-4 26-7 26-9 26-11 26-10 26-11 26-11 26-9 26-6 26-3 26 2 26 12 26 16 26 15 26 11 26 6 26 3 26-1 26-3 26-5 26-4 26-3 26-1 26 2 26 3 26 5 26 5 26 5 26 9 26 10 26 11 26 13 26 13 26 15 26 20 26 25 26 33 10 14 10 16 10 18 10 20 10 22 10 24 10 26 10 29 10 30 10 31 10 33 10 35 10 38 10 38 10 40 10 39 10 38 10 39 10 37 10 38 10 37 10 39 10 39 10 41 10 41 10 40 10 39 10 37 10 32 10 29 10 25 10 22 10 19 10 16 10 14 10 12 10 10 10 9 10 8 10 7 26 15 26 12 26 9 26 6 26 5 26 3 26 2 26 1 26 0 5 0"/>
<path stroke="#FBB414" d="M704 3268l16 21 16 18 16 15 16 12 16 9 16 6 16 2 16 1 16 1 26 0 26-3 26-6 26-6 26-7 26-7 26-9 26-11 26-11 26-10 26-8 26-8 26-5 26-3 26-4 26-3 26-5 26-6 26-8 26-11 26-15 26-20 26-25 26-33 10-14 10-15 10-16 10-18 10-18 10-20 10-21 10-23 10-26 10-28 10-29 10-30 10-31 10-31 10-32 10-32 10-30 10-30 10-28 10-27 10-25 10-24 10-21 10-20 10-18 10-17 10-16 10-14 10-14 26-30 26-22 26-17 26-10 26-4 26 1 26 8 26 13 26 14 26 14 26 18 26 22 26 25 26 23 26 16 26 10 26 7 26 8 26 12 26 20 26 26 26 26 26 21 26 15 26 7 26 5 26 8 26 20 26 33 16 23 16 23 16 21 16 20 16 21 16 20 16 22 16 21 16 21 16 20 16 19 16 16 16 13 16 10 16 6 16 1 16-4 16-11 10-12 10-21 10-31 10-42 10-54 10-63 10-74 10-84 10-92 10-94 10-90 10-86 10-83 10-83 10-81 10-78 10-72 10-65 10-56 10-53 10-50 10-51 10-52 10-54 10-56 10-56 10-52 10-48 10-45 10-42 10-38 10-35 10-32 10-28 10-27 10-27 10-28 10-29 10-29 10-28 10-28 10-26 10-25 10-22 10-19 10-17 10-15 10-13 10-10 10-9 10-8 10-7 16-8 16-6 16-6 16-7 16-7 16-9 16-9 16-11 26-18 26-17 26-17 26-15 26-14 26-12 26-11 26-10 26-8 26-5 26-4 26-3 26 0 26 3 26 5 26 9 26 17 26 20 26 16 26 10 26 5 26 1 26-1 26-5 26-6 26-5 26-4 26-2 26 0 26 3 26 3 26 5 26 6 26 9 26 11 26 11 26 14 26 14 26 17 26 21 26 27 26 33 10 15 10 16 10 18 10 19 10 22 10 23 10 25 10 27 10 29 10 30 10 32 10 34 10 36 10 37 10 38 10 38 10 37 10 37 10 36 10 37 10 37 10 38 10 40 10 40 10 41 10 41 10 39 10 36 10 33 10 29 10 26 10 22 10 19 10 17 10 14 10 12 10 10 10 9 10 8 10 7 26 16 26 13 26 9 26 7 26 5 26 4 26 3 26 1 26 0 5 0"/>
<path stroke="#A02CBC" d="M704 3324l16 21 16 20 16 18 16 15 16 12 16 8 16 7 16 6 16 6 26 6 26 4 26 1 26 0 26-1 26-2 26-2 26-3 26-4 26-3 26-3 26-2 26-1 26-1 26 0 26-1 26-2 26-4 26-5 26-8 26-10 26-13 26-17 26-22 10-9 10-11 10-11 10-11 10-13 10-13 10-15 10-16 10-18 10-20 10-20 10-22 10-21 10-22 10-21 10-20 10-21 10-20 10-19 10-19 10-18 10-16 10-14 10-13 10-12 10-11 10-11 10-9 10-10 26-21 26-18 26-16 26-13 26-15 26-13 26-12 26-9 26-8 26-6 26-3 26 5 26 9 26 9 26 7 26 3 26 1 26 1 26 4 26 10 26 14 26 15 26 12 26 9 26 7 26 5 26 10 26 21 26 31 16 22 16 23 16 22 16 23 16 22 16 23 16 23 16 22 16 21 16 21 16 20 16 17 16 15 16 12 16 9 16 4 16-1 16-6 10-8 10-13 10-20 10-27 10-33 10-41 10-46 10-51 10-56 10-59 10-60 10-64 10-65 10-64 10-61 10-59 10-56 10-53 10-53 10-53 10-57 10-61 10-65 10-66 10-66 10-62 10-58 10-53 10-50 10-48 10-45 10-42 10-39 10-35 10-33 10-32 10-31 10-31 10-32 10-32 10-33 10-31 10-30 10-27 10-23 10-19 10-15 10-13 10-11 10-9 10-8 10-6 16-10 16-9 16-8 16-7 16-7 16-7 16-6 16-7 26-12 26-13 26-12 26-14 26-14 26-15 26-14 26-13 26-13 26-14 26-14 26-15 26-12 26-9 26-6 26-2 26 7 26 12 26 11 26 6 26 1 26-1 26-1 26 0 26-1 26 0 26 0 26 1 26 2 26 3 26 5 26 5 26 6 26 9 26 11 26 13 26 15 26 18 26 23 26 28 26 33 26 37 10 16 10 17 10 19 10 21 10 23 10 25 10 26 10 29 10 30 10 32 10 34 10 37 10 40 10 40 10 40 10 38 10 36 10 35 10 34 10 35 10 37 10 37 10 38 10 36 10 35 10 33 10 32 10 31 10 30 10 29 10 25 10 22 10 18 10 13 10 11 10 9 10 7 10 6 10 6 10 5 26 13 26 10 26 7 26 5 26 4 26 3 26 3 26 1 26 1 5 0"/>
<path stroke="#52B822" d="M704 3347l16 20 16 18 16 17 16 15 16 11 16 8 16 7 16 6 16 5 26 6 26 3 26 0 26 0 26-1 26-2 26-2 26-4 26-3 26-3 26-3 26-2 26-1 26-1 26 0 26-1 26-1 26-3 26-4 26-6 26-8 26-10 26-14 26-20 10-8 10-10 10-10 10-10 10-12 10-12 10-14 10-16 10-17 10-19 10-21 10-21 10-21 10-21 10-21 10-21 10-21 10-20 10-20 10-20 10-18 10-17 10-16 10-14 10-13 10-12 10-11 10-11 10-10 26-25 26-19 26-17 26-14 26-8 26-2 26 5 26 9 26 12 26 14 26 16 26 21 26 24 26 20 26 13 26 5 26-1 26-2 26-2 26 4 26 8 26 7 26 6 26 3 26 2 26 4 26 9 26 16 26 23 16 16 16 16 16 16 16 16 16 16 16 16 16 15 16 16 16 16 16 15 16 15 16 14 16 11 16 9 16 6 16 2 16-2 16-9 10-10 10-15 10-23 10-29 10-36 10-43 10-49 10-56 10-60 10-63 10-66 10-68 10-69 10-69 10-67 10-64 10-61 10-59 10-58 10-58 10-61 10-65 10-68 10-70 10-69 10-66 10-61 10-57 10-54 10-52 10-50 10-47 10-45 10-42 10-41 10-40 10-40 10-40 10-41 10-41 10-41 10-39 10-37 10-33 10-30 10-25 10-22 10-20 10-16 10-14 10-12 10-10 16-12 16-7 16-6 16-5 16-4 16-4 16-3 16-4 26-6 26-6 26-6 26-7 26-8 26-9 26-11 26-11 26-12 26-13 26-13 26-13 26-11 26-7 26-5 26 0 26 8 26 14 26 13 26 8 26 3 26 1 26 0 26-1 26-2 26-1 26-1 26 1 26 2 26 4 26 4 26 6 26 8 26 10 26 14 26 14 26 17 26 18 26 22 26 26 26 31 26 36 10 15 10 17 10 17 10 20 10 21 10 23 10 25 10 26 10 28 10 30 10 31 10 34 10 36 10 38 10 37 10 36 10 35 10 35 10 34 10 34 10 36 10 37 10 38 10 38 10 38 10 38 10 36 10 36 10 33 10 31 10 28 10 25 10 21 10 18 10 15 10 12 10 11 10 10 10 9 10 8 26 16 26 11 26 7 26 3 26 1 26 0 26-3 26-5 26-6 5-2"/>
<path stroke="#20BAF0" d="M704 3264l16 23 16 21 16 16 16 14 16 10 16 8 16 4 16 3 16 3 26 2 26 0 26-4 26-5 26-5 26-6 26-8 26-9 26-10 26-9 26-7 26-7 26-5 26-3 26-3 26-3 26-4 26-7 26-8 26-12 26-16 26-20 26-25 26-33 10-14 10-15 10-16 10-17 10-18 10-19 10-21 10-22 10-25 10-27 10-28 10-29 10-31 10-30 10-31 10-31 10-30 10-29 10-28 10-26 10-25 10-23 10-21 10-20 10-18 10-17 10-16 10-14 10-14 26-30 26-23 26-18 26-10 26-5 26-1 26 6 26 10 26 10 26 12 26 13 26 18 26 22 26 18 26 12 26 5 26 1 26 0 26 5 26 13 26 18 26 20 26 15 26 10 26 4 26 3 26 8 26 28 26 46 16 33 16 32 16 32 16 31 16 31 16 31 16 30 16 29 16 29 16 27 16 24 16 21 16 17 16 13 16 8 16 3 16-6 16-17 10-17 10-26 10-36 10-48 10-60 10-71 10-82 10-93 10-101 10-103 10-97 10-90 10-87 10-86 10-85 10-82 10-76 10-67 10-60 10-54 10-52 10-52 10-53 10-55 10-56 10-56 10-53 10-49 10-45 10-42 10-38 10-35 10-32 10-29 10-27 10-27 10-29 10-29 10-29 10-29 10-28 10-27 10-24 10-22 10-20 10-17 10-15 10-13 10-11 10-10 10-7 10-7 16-8 16-6 16-3 16-3 16-3 16-3 16-3 16-3 26-5 26-4 26-3 26-3 26-3 26-4 26-5 26-7 26-6 26-6 26-7 26-6 26-4 26-1 26 1 26 6 26 14 26 17 26 16 26 9 26 3 26-2 26-4 26-8 26-9 26-9 26-7 26-6 26-2 26 1 26 4 26 5 26 7 26 10 26 12 26 14 26 15 26 16 26 18 26 22 26 27 26 33 10 14 10 16 10 17 10 19 10 20 10 22 10 24 10 26 10 28 10 29 10 30 10 32 10 35 10 36 10 36 10 36 10 36 10 35 10 35 10 35 10 36 10 37 10 38 10 39 10 40 10 39 10 38 10 35 10 32 10 27 10 24 10 21 10 18 10 15 10 13 10 10 10 9 10 7 10 7 10 5 26 12 26 9 26 6 26 3 26 1 26 0 26-1 26-2 26-3 5-1"/>
<path stroke="#D41440" d="M704 3370l16 17 16 16 16 14 16 13 16 9 16 7 16 4 16 4 16 4 26 3 26 1 26-1 26-1 26-2 26-3 26-3 26-4 26-5 26-4 26-4 26-3 26-2 26-1 26 0 26-1 26 0 26-1 26-1 26-4 26-4 26-6 26-9 26-15 10-7 10-7 10-8 10-9 10-9 10-11 10-13 10-14 10-15 10-18 10-19 10-19 10-20 10-19 10-19 10-19 10-19 10-18 10-19 10-17 10-17 10-16 10-14 10-12 10-12 10-11 10-10 10-10 10-10 26-22 26-19 26-17 26-16 26-15 26-13 26-9 26-6 26-4 26-2 26 0 26 9 26 14 26 12 26 10 26 4 26 0 26-2 26 2 26 7 26 12 26 11 26 10 26 6 26 4 26 4 26 10 26 17 26 26 16 19 16 19 16 18 16 19 16 18 16 18 16 18 16 18 16 17 16 17 16 17 16 14 16 13 16 10 16 6 16 2 16-2 16-9 10-10 10-15 10-23 10-29 10-37 10-44 10-51 10-57 10-63 10-66 10-70 10-72 10-74 10-74 10-73 10-70 10-67 10-66 10-63 10-63 10-65 10-69 10-71 10-72 10-71 10-69 10-64 10-59 10-56 10-53 10-50 10-46 10-43 10-40 10-37 10-37 10-36 10-37 10-37 10-37 10-36 10-34 10-33 10-29 10-26 10-22 10-19 10-17 10-14 10-12 10-10 10-9 16-12 16-9 16-7 16-7 16-7 16-6 16-7 16-7 26-11 26-12 26-10 26-11 26-11 26-11 26-12 26-13 26-12 26-12 26-13 26-12 26-9 26-7 26-3 26 1 26 10 26 14 26 14 26 9 26 4 26 2 26 0 26-2 26-2 26-2 26-1 26 0 26 2 26 3 26 4 26 4 26 6 26 8 26 10 26 12 26 12 26 15 26 17 26 21 26 27 26 33 10 14 10 15 10 17 10 18 10 20 10 21 10 24 10 25 10 26 10 28 10 29 10 32 10 34 10 35 10 35 10 35 10 35 10 34 10 34 10 34 10 36 10 37 10 38 10 39 10 40 10 39 10 37 10 36 10 32 10 30 10 25 10 23 10 20 10 16 10 14 10 12 10 10 10 8 10 8 10 8 26 15 26 12 26 9 26 7 26 4 26 3 26 2 26 1 26-1 5 0"/>
<path stroke="#0A6CD6" d="M704 3293l16 22 16 19 16 17 16 14 16 10 16 8 16 5 16 4 16 3 26 3 26 1 26-3 26-3 26-4 26-5 26-6 26-8 26-8 26-7 26-6 26-6 26-3 26-3 26-2 26-2 26-4 26-6 26-9 26-12 26-15 26-19 26-25 26-31 10-13 10-14 10-15 10-16 10-16 10-18 10-19 10-21 10-23 10-24 10-26 10-26 10-26 10-27 10-27 10-26 10-25 10-25 10-23 10-22 10-20 10-19 10-17 10-15 10-14 10-12 10-12 10-10 10-10 26-22 26-17 26-14 26-10 26-8 26-5 26 0 26 4 26 4 26 6 26 9 26 15 26 20 26 19 26 14 26 9 26 7 26 8 26 13 26 21 26 27 26 26 26 22 26 15 26 10 26 6 26 8 26 19 26 28 16 20 16 20 16 19 16 18 16 18 16 18 16 18 16 17 16 18 16 17 16 16 16 14 16 12 16 8 16 4 16 0 16-6 16-13 10-14 10-21 10-30 10-41 10-51 10-61 10-71 10-81 10-89 10-92 10-91 10-88 10-88 10-88 10-88 10-85 10-81 10-74 10-68 10-63 10-61 10-61 10-62 10-64 10-64 10-62 10-58 10-54 10-49 10-45 10-42 10-38 10-34 10-31 10-30 10-29 10-30 10-31 10-31 10-30 10-29 10-28 10-25 10-23 10-21 10-18 10-15 10-14 10-11 10-10 10-8 10-7 16-8 16-6 16-4 16-3 16-4 16-4 16-4 16-4 26-7 26-7 26-6 26-6 26-5 26-7 26-8 26-9 26-11 26-11 26-11 26-11 26-10 26-6 26-3 26 2 26 11 26 15 26 15 26 11 26 7 26 4 26 2 26-1 26-3 26-1 26-1 26 0 26 3 26 4 26 4 26 4 26 5 26 8 26 10 26 11 26 12 26 13 26 14 26 19 26 24 26 31 10 14 10 15 10 17 10 18 10 19 10 22 10 23 10 25 10 26 10 28 10 30 10 31 10 33 10 34 10 36 10 36 10 35 10 35 10 36 10 35 10 36 10 37 10 39 10 41 10 42 10 42 10 41 10 38 10 35 10 30 10 27 10 24 10 22 10 18 10 17 10 14 10 12 10 11 10 10 10 8 26 18 26 12 26 7 26 4 26 0 26-2 26-4 26-7 26-8 5-1"/>
<path stroke="#FA5A12" d="M704 3337l16 21 16 19 16 17 16 14 16 12 16 8 16 7 16 5 16 5 26 6 26 3 26 0 26-1 26-2 26-3 26-4 26-4 26-5 26-5 26-5 26-3 26-3 26-2 26-1 26-1 26-3 26-4 26-6 26-8 26-11 26-14 26-18 26-23 10-11 10-11 10-11 10-13 10-13 10-14 10-16 10-17 10-19 10-20 10-22 10-23 10-22 10-23 10-22 10-22 10-22 10-21 10-21 10-20 10-18 10-17 10-15 10-14 10-13 10-12 10-10 10-11 10-9 26-23 26-18 26-16 26-13 26-11 26-10 26-5 26-2 26-1 26 1 26 4 26 11 26 16 26 14 26 11 26 7 26 3 26 4 26 7 26 13 26 18 26 18 26 15 26 11 26 7 26 7 26 11 26 22 26 34 16 24 16 24 16 25 16 24 16 24 16 23 16 23 16 22 16 21 16 21 16 20 16 17 16 15 16 11 16 7 16 3 16-4 16-12 10-13 10-18 10-26 10-34 10-41 10-50 10-56 10-64 10-70 10-72 10-74 10-75 10-75 10-75 10-73 10-69 10-68 10-63 10-62 10-60 10-62 10-65 10-68 10-69 10-69 10-66 10-61 10-58 10-54 10-51 10-48 10-45 10-42 10-38 10-36 10-36 10-35 10-36 10-36 10-35 10-35 10-34 10-32 10-28 10-25 10-21 10-19 10-15 10-13 10-12 10-9 10-8 16-10 16-8 16-5 16-4 16-4 16-4 16-3 16-3 26-6 26-5 26-6 26-6 26-7 26-9 26-10 26-12 26-13 26-16 26-17 26-18 26-16 26-13 26-10 26-4 26 5 26 12 26 12 26 9 26 4 26 2 26 1 26 0 26-1 26 0 26 1 26 2 26 3 26 5 26 6 26 6 26 8 26 10 26 12 26 14 26 16 26 17 26 20 26 25 26 30 26 35 10 15 10 16 10 17 10 19 10 20 10 22 10 24 10 26 10 27 10 28 10 30 10 32 10 35 10 36 10 36 10 35 10 34 10 34 10 34 10 34 10 35 10 37 10 38 10 39 10 38 10 38 10 37 10 34 10 33 10 29 10 27 10 23 10 20 10 16 10 14 10 12 10 10 10 8 10 8 10 8 26 16 26 12 26 9 26 6 26 4 26 3 26 2 26 0 26-1 5 0"/>
<path stroke="#FBB414" d="M704 3288l16 23 16 21 16 17 16 15 16 11 16 8 16 6 16 4 16 4 26 4 26 1 26-2 26-3 26-4 26-5 26-7 26-9 26-10 26-9 26-8 26-8 26-6 26-4 26-5 26-4 26-7 26-8 26-11 26-15 26-18 26-23 26-28 26-35 10-15 10-15 10-17 10-17 10-18 10-20 10-20 10-23 10-23 10-25 10-26 10-25 10-26 10-25 10-24 10-23 10-22 10-21 10-18 10-17 10-15 10-13 10-10 10-9 10-8 10-6 10-6 10-4 10-4 26-9 26-7 26-8 26-10 26-13 26-13 26-10 26-7 26-7 26-6 26-2 26 5 26 11 26 12 26 10 26 6 26 3 26 4 26 9 26 16 26 22 26 23 26 19 26 13 26 7 26 5 26 9 26 21 26 34 16 23 16 22 16 22 16 22 16 21 16 21 16 22 16 21 16 21 16 20 16 19 16 16 16 14 16 10 16 6 16 2 16-4 16-11 10-12 10-20 10-29 10-40 10-50 10-59 10-69 10-78 10-86 10-89 10-86 10-84 10-82 10-83 10-80 10-78 10-73 10-67 10-60 10-56 10-56 10-56 10-58 10-60 10-61 10-60 10-56 10-52 10-49 10-45 10-42 10-39 10-36 10-33 10-32 10-31 10-32 10-33 10-33 10-32 10-32 10-30 10-28 10-25 10-23 10-19 10-18 10-14 10-13 10-11 10-9 10-8 16-9 16-6 16-4 16-4 16-4 16-5 16-4 16-5 26-8 26-8 26-7 26-6 26-6 26-7 26-8 26-9 26-8 26-7 26-7 26-6 26-4 26 0 26 1 26 6 26 14 26 17 26 16 26 9 26 3 26-2 26-5 26-8 26-10 26-9 26-8 26-6 26-2 26 0 26 4 26 6 26 8 26 13 26 16 26 17 26 19 26 20 26 22 26 25 26 30 26 34 10 14 10 16 10 16 10 17 10 19 10 21 10 22 10 23 10 25 10 26 10 28 10 30 10 31 10 33 10 34 10 34 10 33 10 33 10 34 10 33 10 35 10 37 10 38 10 40 10 41 10 41 10 39 10 37 10 33 10 29 10 26 10 22 10 20 10 17 10 14 10 13 10 10 10 10 10 8 10 7 26 16 26 12 26 9 26 5 26 2 26 2 26-1 26-2 26-3 5 0"/>
<path stroke="#A02CBC" d="M704 3289l16 20 16 17 16 15 16 12 16 9 16 6 16 3 16 2 16 1 26 1 26-2 26-4 26-5 26-4 26-5 26-5 26-6 26-5 26-4 26-3 26-2 26 0 26 0 26-1 26-3 26-5 26-9 26-12 26-17 26-21 26-26 26-31 26-39 10-17 10-17 10-18 10-18 10-19 10-21 10-21 10-23 10-24 10-26 10-27 10-27 10-28 10-27 10-27 10-26 10-26 10-23 10-22 10-21 10-18 10-17 10-15 10-13 10-11 10-10 10-9 10-8 10-8 26-16 26-13 26-11 26-10 26-9 26-7 26-2 26 1 26 1 26 3 26 6 26 11 26 16 26 15 26 11 26 6 26 3 26 3 26 8 26 15 26 21 26 21 26 18 26 12 26 6 26 5 26 8 26 21 26 33 16 24 16 23 16 22 16 21 16 22 16 21 16 22 16 22 16 22 16 21 16 19 16 16 16 14 16 10 16 6 16 2 16-4 16-9 10-11 10-18 10-27 10-38 10-48 10-57 10-66 10-75 10-81 10-84 10-81 10-79 10-77 10-77 10-75 10-72 10-67 10-61 10-55 10-52 10-51 10-53 10-55 10-57 10-58 10-56 10-53 10-49 10-45 10-42 10-39 10-36 10-32 10-29 10-28 10-27 10-28 10-28 10-29 10-28 10-29 10-27 10-25 10-23 10-19 10-17 10-15 10-12 10-10 10-8 10-8 10-6 16-8 16-7 16-6 16-6 16-6 16-7 16-7 16-7 26-13 26-13 26-12 26-12 26-12 26-11 26-12 26-11 26-11 26-11 26-11 26-11 26-9 26-5 26-2 26 2 26 10 26 16 26 14 26 9 26 3 26 2 26-1 26-3 26-4 26-3 26-2 26-1 26 1 26 3 26 5 26 5 26 6 26 10 26 12 26 14 26 15 26 17 26 20 26 23 26 30 26 34 10 14 10 16 10 18 10 19 10 20 10 23 10 24 10 26 10 28 10 29 10 30 10 33 10 36 10 36 10 37 10 36 10 35 10 35 10 35 10 35 10 36 10 37 10 38 10 39 10 40 10 39 10 38 10 36 10 34 10 31 10 28 10 24 10 21 10 18 10 16 10 13 10 11 10 11 10 9 10 8 26 17 26 11 26 6 26 2 26-1 26-3 26-6 26-8 26-10 5-2"/>
<path stroke="#52B822" d="M704 3294l16 21 16 19 16 16 16 13 16 10 16 7 16 4 16 3 16 3 26 2 26-1 26-3 26-4 26-5 26-5 26-7 26-8 26-9 26-7 26-7 26-6 26-4 26-3 26-2 26-3 26-4 26-7 26-9 26-13 26-16 26-20 26-25 26-33 10-14 10-14 10-16 10-16 10-18 10-18 10-20 10-21 10-24 10-25 10-26 10-27 10-28 10-27 10-28 10-27 10-26 10-25 10-24 10-22 10-21 10-19 10-18 10-15 10-14 10-13 10-12 10-11 10-10 26-22 26-18 26-13 26-9 26-7 26-4 26 2 26 6 26 7 26 7 26 10 26 15 26 19 26 17 26 11 26 6 26 3 26 2 26 7 26 14 26 19 26 20 26 16 26 11 26 6 26 5 26 8 26 21 26 33 16 23 16 23 16 22 16 21 16 22 16 21 16 22 16 22 16 22 16 20 16 19 16 17 16 14 16 10 16 7 16 2 16-3 16-9 10-11 10-18 10-26 10-37 10-47 10-55 10-64 10-73 10-79 10-83 10-81 10-80 10-79 10-78 10-77 10-73 10-70 10-63 10-58 10-55 10-54 10-56 10-58 10-59 10-61 10-59 10-55 10-51 10-47 10-44 10-40 10-35 10-30 10-27 10-24 10-23 10-23 10-23 10-24 10-23 10-22 10-22 10-20 10-18 10-15 10-12 10-10 10-8 10-6 10-5 10-4 10-4 16-7 16-7 16-7 16-7 16-7 16-8 16-9 16-9 26-16 26-16 26-16 26-16 26-15 26-15 26-13 26-13 26-13 26-12 26-12 26-12 26-10 26-6 26-4 26 1 26 10 26 13 26 14 26 7 26 3 26-1 26-2 26-3 26-5 26-4 26-3 26-1 26 1 26 2 26 4 26 6 26 8 26 11 26 14 26 16 26 17 26 20 26 23 26 28 26 34 26 38 10 16 10 17 10 19 10 21 10 23 10 25 10 27 10 28 10 31 10 31 10 34 10 36 10 39 10 39 10 39 10 39 10 37 10 36 10 35 10 36 10 37 10 38 10 38 10 38 10 38 10 36 10 36 10 33 10 32 10 28 10 26 10 22 10 18 10 15 10 12 10 10 10 9 10 7 10 7 10 6 26 14 26 11 26 9 26 7 26 5 26 5 26 5 26 3 26 2 5 1"/>
<path stroke="#20BAF0" d="M704 3273l16 24 16 21 16 18 16 15 16 12 16 9 16 6 16 4 16 4 26 5 26 1 26-2 26-4 26-4 26-6 26-7 26-10 26-10 26-9 26-8 26-8 26-6 26-5 26-5 26-5 26-6 26-9 26-12 26-16 26-19 26-24 26-30 26-36 10-16 10-16 10-18 10-18 10-19 10-20 10-21 10-23 10-25 10-26 10-26 10-26 10-26 10-26 10-25 10-24 10-23 10-21 10-18 10-17 10-15 10-13 10-11 10-9 10-7 10-7 10-5 10-4 10-4 26-8 26-7 26-7 26-9 26-12 26-14 26-11 26-10 26-9 26-8 26-3 26 3 26 8 26 10 26 10 26 6 26 3 26 4 26 8 26 14 26 20 26 20 26 17 26 12 26 7 26 5 26 10 26 24 26 38 16 27 16 27 16 27 16 26 16 27 16 27 16 27 16 27 16 26 16 25 16 23 16 20 16 18 16 13 16 10 16 6 16 0 16-6 10-9 10-16 10-24 10-33 10-42 10-49 10-57 10-65 10-69 10-71 10-70 10-69 10-67 10-67 10-63 10-60 10-55 10-50 10-47 10-46 10-47 10-51 10-54 10-56 10-57 10-54 10-51 10-47 10-44 10-42 10-39 10-36 10-34 10-30 10-28 10-27 10-27 10-28 10-28 10-29 10-29 10-28 10-27 10-24 10-20 10-16 10-13 10-11 10-9 10-7 10-6 10-5 16-7 16-6 16-5 16-5 16-4 16-4 16-5 16-4 26-10 26-9 26-11 26-11 26-13 26-14 26-12 26-13 26-14 26-13 26-15 26-15 26-12 26-9 26-6 26-1 26 6 26 12 26 12 26 6 26 0 26-2 26-2 26-2 26-2 26-2 26-1 26 0 26 2 26 3 26 4 26 6 26 6 26 10 26 12 26 14 26 16 26 19 26 24 26 29 26 34 26 39 10 16 10 17 10 20 10 21 10 23 10 25 10 27 10 29 10 30 10 32 10 35 10 37 10 40 10 41 10 40 10 38 10 36 10 35 10 35 10 35 10 36 10 38 10 37 10 37 10 35 10 33 10 33 10 32 10 31 10 30 10 27 10 23 10 20 10 15 10 12 10 10 10 9 10 7 10 7 10 7 26 14 26 9 26 6 26 2 26 0 26-2 26-3 26-5 26-6 5-1"/>
<path stroke="#D41440" d="M704 3242l16 22 16 18 16 14 16 12 16 8 16 5 16 1 16 1 16-1 26-1 26-4 26-7 26-8 26-7 26-7 26-8 26-10 26-10 26-7 26-6 26-5 26-2 26 0 26-1 26-2 26-4 26-5 26-9 26-11 26-15 26-21 26-27 26-34 10-15 10-16 10-17 10-17 10-20 10-20 10-22 10-24 10-26 10-28 10-29 10-30 10-31 10-31 10-30 10-31 10-30 10-28 10-26 10-25 10-23 10-21 10-19 10-17 10-16 10-14 10-13 10-13 10-11 26-24 26-19 26-14 26-10 26-7 26-3 26 3 26 6 26 6 26 7 26 10 26 15 26 18 26 17 26 10 26 4 26-1 26-2 26 4 26 11 26 18 26 20 26 16 26 8 26 4 26 1 26 8 26 24 26 41 16 29 16 27 16 27 16 25 16 26 16 26 16 26 16 26 16 25 16 25 16 22 16 18 16 15 16 11 16 7 16 2 16-5 16-14 10-15 10-24 10-35 10-50 10-61 10-73 10-84 10-97 10-107 10-108 10-102 10-94 10-90 10-89 10-87 10-83 10-76 10-66 10-55 10-48 10-45 10-44 10-45 10-47 10-50 10-49 10-48 10-44 10-40 10-37 10-34 10-31 10-27 10-24 10-23 10-23 10-25 10-26 10-26 10-25 10-25 10-23 10-21 10-20 10-17 10-15 10-13 10-11 10-10 10-8 10-7 10-6 16-7 16-5 16-4 16-4 16-4 16-5 16-5 16-6 26-8 26-9 26-8 26-7 26-7 26-7 26-8 26-9 26-9 26-9 26-8 26-8 26-6 26-2 26 0 26 5 26 14 26 17 26 16 26 11 26 5 26 2 26-2 26-4 26-6 26-5 26-4 26-3 26 0 26 2 26 3 26 4 26 4 26 8 26 9 26 9 26 11 26 12 26 13 26 18 26 24 26 31 10 14 10 15 10 18 10 18 10 21 10 23 10 24 10 27 10 28 10 30 10 32 10 33 10 35 10 37 10 38 10 38 10 38 10 37 10 38 10 37 10 38 10 39 10 40 10 41 10 43 10 42 10 41 10 37 10 34 10 30 10 26 10 24 10 20 10 18 10 15 10 13 10 11 10 11 10 9 10 8 26 18 26 16 26 12 26 10 26 8 26 6 26 6 26 4 26 3 5 0"/>
<path stroke="#20BAF0" d="M704 3256l16 24 16 21 16 17 16 14 16 10 16 8 16 4 16 4 16 2 26 3 26-1 26-3 26-5 26-5 26-6 26-8 26-10 26-9 26-9 26-7 26-7 26-5 26-2 26-4 26-4 26-5 26-8 26-11 26-15 26-18 26-24 26-30 26-38 10-16 10-17 10-19 10-19 10-21 10-21 10-24 10-25 10-28 10-29 10-31 10-31 10-32 10-33 10-32 10-33 10-31 10-30 10-28 10-27 10-25 10-23 10-21 10-20 10-18 10-16 10-16 10-14 10-13 26-31 26-24 26-20 26-14 26-10 26-9 26-7 26-3 26 0 26 3 26 8 26 11 26 12 26 11 26 6 26 1 26-8 26-16 26-1 26 7 26 13 26 16 26 16 26 10 26 4 26-5 26 4 26 24 26 35 16 25 16 26 16 25 16 25 16 24 16 24 16 26 16 29 16 33 16 33 16 32 16 33 16 47 16 33 16 21 16 8 16-5 16-15 10-16 10-25 10-38 10-52 10-67 10-78 10-90 10-104 10-115 10-115 10-107 10-97 10-92 10-92 10-90 10-87 10-79 10-68 10-56 10-48 10-43 10-41 10-42 10-44 10-47 10-47 10-45 10-41 10-37 10-34 10-30 10-27 10-23 10-20 10-19 10-20 10-21 10-23 10-22 10-22 10-21 10-18 10-17 10-14 10-12 10-9 10-8 10-6 10-3 10-2 10 0 10 1 16 4 16 6 16 7 16 7 16 8 16 6 16 6 16 6 26 7 26 5 26 3 26-1 26-5 26-9 26-11 26-12 26-11 26-10 26-10 26-9 26-7 26-3 26-2 26 2 26 10 26 14 26 13 26 8 26 4 26 2 26 1 26-2 26-2 26-2 26-2 26-1 26 0 26 2 26 3 26 4 26 5 26 9 26 11 26 12 26 14 26 15 26 17 26 21 26 27 26 32 10 15 10 16 10 17 10 20 10 20 10 23 10 25 10 27 10 28 10 30 10 31 10 34 10 36 10 37 10 37 10 37 10 36 10 36 10 36 10 35 10 37 10 37 10 39 10 39 10 40 10 39 10 37 10 35 10 33 10 28 10 26 10 22 10 19 10 16 10 14 10 11 10 10 10 8 10 8 10 7 26 15 26 11 26 9 26 6 26 4 26 3 26 1 26 1 26-1 5 0"/>
<path stroke="#0A6CD6" d="M704 3287l16 25 16 22 16 19 16 17 16 13 16 10 16 8 16 7 16 6 26 7 26 3 26 1 26-2 26-3 26-4 26-6 26-7 26-8 26-7 26-7 26-5 26-4 26-3 26-2 26-2 26-2 26-3 26-5 26-6 26-9 26-12 26-16 26-22 10-10 10-11 10-11 10-12 10-13 10-14 10-16 10-18 10-20 10-21 10-23 10-24 10-24 10-25 10-24 10-25 10-24 10-23 10-23 10-22 10-21 10-19 10-18 10-17 10-15 10-14 10-13 10-12 10-12 26-27 26-21 26-17 26-13 26-9 26-4 26 2 26 5 26 7 26 9 26 11 26 17 26 20 26 17 26 12 26 5 26 1 26 0 26 3 26 9 26 13 26 14 26 10 26 6 26 2 26 1 26 6 26 15 26 26 16 18 16 18 16 18 16 18 16 18 16 18 16 18 16 19 16 18 16 18 16 17 16 15 16 12 16 9 16 6 16 2 16-2 16-8 10-10 10-16 10-24 10-33 10-42 10-49 10-58 10-65 10-70 10-74 10-74 10-73 10-74 10-74 10-71 10-68 10-65 10-60 10-56 10-55 10-55 10-58 10-61 10-62 10-63 10-61 10-57 10-53 10-49 10-47 10-44 10-41 10-38 10-35 10-34 10-33 10-33 10-34 10-34 10-34 10-34 10-32 10-31 10-27 10-24 10-21 10-18 10-15 10-13 10-11 10-10 10-7 16-10 16-7 16-5 16-4 16-3 16-3 16-2 16-3 26-4 26-3 26-4 26-4 26-6 26-7 26-9 26-12 26-13 26-13 26-15 26-16 26-14 26-10 26-7 26-2 26 8 26 12 26 13 26 9 26 5 26 2 26 2 26 1 26 0 26 0 26 1 26 2 26 4 26 4 26 4 26 5 26 5 26 7 26 10 26 11 26 12 26 15 26 17 26 23 26 28 26 34 10 15 10 17 10 18 10 20 10 22 10 25 10 26 10 29 10 30 10 32 10 33 10 37 10 39 10 39 10 40 10 39 10 37 10 37 10 36 10 36 10 37 10 38 10 39 10 38 10 38 10 37 10 36 10 34 10 32 10 29 10 26 10 22 10 19 10 16 10 13 10 11 10 9 10 8 10 7 10 6 26 15 26 11 26 8 26 5 26 3 26 3 26 1 26-1 26-1 5 0"/>
<path stroke="#FA5A12" d="M704 3353l16 17 16 16 16 15 16 12 16 9 16 6 16 5 16 3 16 3 26 3 26 0 26-2 26-2 26-2 26-2 26-2 26-3 26-3 26-2 26-2 26-1 26 0 26 1 26 0 26-1 26-2 26-3 26-6 26-8 26-9 26-13 26-16 26-22 10-10 10-10 10-11 10-11 10-13 10-13 10-15 10-16 10-18 10-19 10-21 10-21 10-21 10-21 10-21 10-20 10-20 10-20 10-19 10-18 10-17 10-16 10-13 10-13 10-11 10-11 10-9 10-10 10-8 26-21 26-17 26-14 26-14 26-15 26-15 26-13 26-12 26-10 26-8 26-5 26 4 26 10 26 11 26 10 26 7 26 7 26 9 26 13 26 21 26 25 26 24 26 22 26 15 26 11 26 8 26 9 26 15 26 22 16 15 16 15 16 15 16 14 16 14 16 15 16 14 16 15 16 15 16 14 16 14 16 13 16 11 16 8 16 5 16 1 16-3 16-9 10-10 10-15 10-24 10-31 10-39 10-47 10-53 10-61 10-67 10-69 10-70 10-72 10-74 10-72 10-71 10-68 10-65 10-62 10-58 10-59 10-59 10-63 10-65 10-67 10-67 10-64 10-60 10-55 10-52 10-49 10-47 10-42 10-40 10-36 10-34 10-34 10-33 10-34 10-34 10-34 10-33 10-33 10-30 10-28 10-24 10-20 10-18 10-15 10-13 10-11 10-10 10-8 16-12 16-9 16-9 16-8 16-8 16-8 16-9 16-9 26-15 26-14 26-14 26-14 26-13 26-13 26-11 26-12 26-11 26-11 26-11 26-11 26-8 26-5 26-3 26 2 26 10 26 15 26 14 26 9 26 3 26 1 26-1 26-3 26-3 26-3 26-2 26-1 26 0 26 2 26 3 26 4 26 4 26 6 26 9 26 9 26 11 26 13 26 16 26 21 26 27 26 32 10 15 10 16 10 19 10 20 10 22 10 24 10 26 10 29 10 30 10 31 10 34 10 36 10 38 10 40 10 39 10 39 10 38 10 37 10 36 10 37 10 37 10 38 10 39 10 39 10 38 10 38 10 37 10 34 10 33 10 29 10 25 10 23 10 19 10 16 10 13 10 11 10 10 10 8 10 7 10 7 26 15 26 11 26 9 26 6 26 4 26 3 26 3 26 1 26 0 5-1"/>
<path stroke="#FBB414" d="M704 3341l16 21 16 18 16 17 16 15 16 11 16 8 16 7 16 6 16 4 26 6 26 2 26 1 26-1 26-3 26-3 26-5 26-6 26-7 26-7 26-7 26-5 26-5 26-2 26-2 26-2 26 0 26-1 26-2 26-3 26-5 26-6 26-10 26-16 10-7 10-7 10-9 10-9 10-11 10-11 10-13 10-15 10-18 10-18 10-21 10-21 10-22 10-22 10-21 10-22 10-21 10-22 10-21 10-21 10-20 10-18 10-17 10-16 10-14 10-14 10-13 10-12 10-12 26-27 26-23 26-18 26-14 26-11 26-7 26-2 26 1 26 3 26 5 26 7 26 15 26 18 26 16 26 11 26 6 26 1 26 0 26 2 26 8 26 13 26 13 26 10 26 6 26 5 26 4 26 9 26 17 26 26 16 18 16 18 16 18 16 18 16 17 16 18 16 17 16 17 16 18 16 16 16 17 16 14 16 12 16 10 16 6 16 2 16-3 16-10 10-11 10-16 10-24 10-33 10-40 10-47 10-56 10-62 10-68 10-71 10-72 10-74 10-75 10-73 10-72 10-69 10-66 10-62 10-60 10-59 10-60 10-63 10-66 10-67 10-67 10-65 10-61 10-56 10-53 10-50 10-48 10-45 10-41 10-39 10-36 10-36 10-36 10-37 10-36 10-37 10-36 10-34 10-33 10-29 10-26 10-22 10-19 10-16 10-14 10-12 10-10 10-8 16-11 16-7 16-6 16-5 16-5 16-5 16-6 16-6 26-9 26-10 26-9 26-10 26-10 26-10 26-11 26-11 26-12 26-12 26-12 26-13 26-11 26-7 26-5 26 0 26 8 26 14 26 12 26 8 26 3 26 0 26-1 26-3 26-4 26-3 26-3 26-1 26 0 26 3 26 3 26 4 26 5 26 8 26 9 26 12 26 12 26 15 26 17 26 21 26 28 26 33 10 14 10 17 10 20 10 22 10 24 10 27 10 30 10 32 10 34 10 36 10 38 10 41 10 43 10 44 10 44 10 43 10 42 10 40 10 40 10 39 10 39 10 40 10 39 10 39 10 37 10 37 10 35 10 34 10 31 10 28 10 26 10 22 10 18 10 15 10 12 10 10 10 8 10 8 10 7 10 6 26 13 26 12 26 9 26 7 26 7 26 6 26 6 26 4 26 4 5 1"/>
<path stroke="#A02CBC" d="M704 3217l16 26 16 22 16 18 16 14 16 11 16 7 16 5 16 2 16 2 26 2 26-1 26-5 26-7 26-7 26-8 26-10 26-12 26-12 26-11 26-9 26-9 26-6 26-4 26-4 26-4 26-7 26-10 26-14 26-17 26-21 26-29 26-35 26-42 10-19 10-19 10-20 10-21 10-23 10-23 10-25 10-27 10-29 10-30 10-32 10-32 10-33 10-34 10-33 10-33 10-32 10-29 10-28 10-25 10-24 10-21 10-19 10-18 10-15 10-14 10-13 10-11 10-11 26-22 26-17 26-12 26-8 26-5 26-3 26 2 26 5 26 6 26 6 26 9 26 13 26 17 26 17 26 11 26 6 26 5 26 8 26 13 26 24 26 30 26 31 26 26 26 17 26 10 26 5 26 8 26 23 26 40 16 28 16 26 16 26 16 24 16 24 16 26 16 25 16 25 16 25 16 24 16 21 16 18 16 15 16 10 16 7 16 1 16-4 16-13 10-15 10-23 10-35 10-50 10-62 10-72 10-85 10-97 10-106 10-106 10-100 10-91 10-87 10-85 10-84 10-80 10-72 10-62 10-52 10-44 10-42 10-40 10-42 10-44 10-47 10-47 10-44 10-41 10-37 10-33 10-31 10-27 10-24 10-21 10-19 10-20 10-21 10-22 10-23 10-22 10-22 10-20 10-20 10-17 10-14 10-13 10-11 10-9 10-7 10-6 10-5 10-4 16-6 16-4 16-4 16-3 16-3 16-4 16-4 16-5 26-8 26-7 26-8 26-7 26-8 26-8 26-9 26-10 26-12 26-12 26-14 26-14 26-12 26-8 26-6 26 0 26 9 26 14 26 15 26 10 26 8 26 5 26 4 26 2 26 1 26 2 26 3 26 4 26 4 26 6 26 4 26 5 26 5 26 7 26 9 26 9 26 11 26 13 26 16 26 19 26 26 26 33 10 14 10 16 10 17 10 19 10 21 10 23 10 25 10 26 10 28 10 30 10 31 10 33 10 36 10 37 10 37 10 37 10 36 10 36 10 36 10 36 10 36 10 38 10 39 10 39 10 40 10 40 10 39 10 37 10 33 10 31 10 26 10 24 10 21 10 18 10 15 10 13 10 11 10 10 10 9 10 8 26 17 26 11 26 9 26 6 26 4 26 3 26 1 26 1 26-1 5 0"/>
<path stroke="#52B822" d="M704 3325l16 20 16 19 16 16 16 14 16 10 16 8 16 6 16 4 16 4 26 5 26 1 26-1 26-2 26-3 26-2 26-3 26-4 26-4 26-3 26-3 26-2 26 0 26-1 26 0 26-1 26-3 26-6 26-7 26-11 26-14 26-16 26-22 26-27 10-12 10-13 10-12 10-14 10-15 10-15 10-16 10-18 10-20 10-21 10-21 10-22 10-22 10-22 10-21 10-20 10-19 10-19 10-18 10-16 10-15 10-14 10-11 10-11 10-8 10-8 10-7 10-7 10-6 26-14 26-12 26-12 26-12 26-14 26-13 26-9 26-6 26-6 26-4 26 0 26 8 26 13 26 13 26 10 26 8 26 6 26 8 26 13 26 21 26 25 26 26 26 21 26 15 26 10 26 8 26 9 26 16 26 23 16 17 16 16 16 16 16 16 16 15 16 15 16 15 16 14 16 15 16 15 16 14 16 12 16 11 16 7 16 4 16 0 16-6 16-14 10-14 10-20 10-29 10-39 10-47 10-57 10-65 10-74 10-82 10-85 10-85 10-84 10-84 10-83 10-81 10-79 10-75 10-69 10-64 10-62 10-61 10-62 10-65 10-66 10-66 10-65 10-60 10-57 10-53 10-50 10-47 10-44 10-41 10-37 10-36 10-35 10-36 10-37 10-36 10-36 10-35 10-33 10-31 10-29 10-25 10-22 10-19 10-18 10-15 10-12 10-12 10-9 16-12 16-8 16-7 16-6 16-6 16-7 16-7 16-7 26-11 26-10 26-9 26-9 26-8 26-8 26-9 26-10 26-9 26-8 26-7 26-7 26-4 26-2 26 1 26 6 26 14 26 17 26 16 26 10 26 4 26 0 26-3 26-5 26-8 26-7 26-6 26-4 26-1 26 1 26 4 26 6 26 9 26 15 26 17 26 19 26 20 26 22 26 22 26 26 26 31 26 34 10 14 10 16 10 16 10 19 10 19 10 22 10 23 10 25 10 27 10 28 10 29 10 32 10 33 10 35 10 36 10 35 10 36 10 35 10 34 10 35 10 36 10 37 10 39 10 40 10 41 10 40 10 39 10 36 10 33 10 29 10 25 10 22 10 19 10 16 10 14 10 12 10 10 10 9 10 7 10 7 26 16 26 13 26 11 26 10 26 9 26 10 26 8 26 8 26 7 5 1"/>
<path stroke="#20BAF0" d="M704 3226l16 27 16 23 16 19 16 16 16 12 16 9 16 6 16 4 16 3 26 4 26 0 26-3 26-6 26-7 26-9 26-13 26-16 26-17 26-16 26-15 26-14 26-11 26-8 26-5 26-5 26-4 26-6 26-7 26-10 26-13 26-19 26-24 26-32 10-14 10-15 10-16 10-17 10-19 10-20 10-22 10-25 10-27 10-29 10-31 10-32 10-33 10-33 10-34 10-34 10-34 10-32 10-31 10-29 10-27 10-26 10-24 10-22 10-20 10-19 10-18 10-16 10-15 26-34 26-25 26-18 26-9 26-3 26 2 26 10 26 14 26 16 26 16 26 18 26 22 26 26 26 24 26 16 26 10 26 6 26 6 26 12 26 21 26 27 26 28 26 22 26 15 26 7 26 3 26 8 26 22 26 37 16 25 16 25 16 23 16 22 16 22 16 23 16 23 16 22 16 23 16 22 16 20 16 16 16 14 16 10 16 5 16 1 16-5 16-14 10-15 10-24 10-36 10-50 10-62 10-73 10-86 10-98 10-108 10-109 10-103 10-95 10-92 10-91 10-90 10-87 10-80 10-69 10-60 10-52 10-49 10-47 10-48 10-49 10-53 10-52 10-50 10-46 10-42 10-38 10-35 10-31 10-28 10-26 10-23 10-25 10-26 10-27 10-27 10-26 10-25 10-24 10-22 10-20 10-18 10-15 10-14 10-12 10-11 10-8 10-8 10-6 16-7 16-5 16-3 16-2 16-1 16-2 16-2 16-2 26-3 26-3 26-1 26-2 26-1 26-3 26-6 26-9 26-10 26-11 26-10 26-11 26-9 26-6 26-3 26 2 26 11 26 16 26 15 26 11 26 6 26 2 26-2 26-4 26-7 26-5 26-4 26-3 26 1 26 2 26 4 26 5 26 6 26 10 26 11 26 13 26 13 26 15 26 15 26 20 26 25 26 30 10 14 10 15 10 17 10 18 10 20 10 21 10 23 10 26 10 26 10 29 10 29 10 31 10 33 10 35 10 36 10 36 10 36 10 36 10 36 10 36 10 36 10 38 10 39 10 41 10 42 10 42 10 41 10 37 10 33 10 28 10 25 10 21 10 19 10 17 10 14 10 12 10 11 10 9 10 8 10 7 26 15 26 13 26 8 26 5 26 2 26 0 26-1 26-2 26-4 5 0"/>
<path stroke="#D41440" d="M704 3289l16 22 16 19 16 17 16 14 16 10 16 8 16 4 16 4 16 3 26 3 26 0 26-2 26-4 26-4 26-4 26-5 26-6 26-6 26-4 26-4 26-2 26-2 26 0 26 0 26-2 26-2 26-4 26-6 26-8 26-11 26-15 26-19 26-26 10-11 10-12 10-13 10-13 10-15 10-16 10-17 10-19 10-21 10-23 10-25 10-26 10-27 10-27 10-28 10-27 10-28 10-27 10-26 10-25 10-24 10-23 10-21 10-20 10-18 10-17 10-17 10-15 10-14 26-33 26-26 26-19 26-11 26-6 26 0 26 6 26 10 26 12 26 13 26 16 26 19 26 22 26 19 26 12 26 6 26 3 26 2 26 6 26 13 26 16 26 17 26 15 26 9 26 7 26 5 26 9 26 19 26 31 16 21 16 21 16 21 16 20 16 21 16 21 16 21 16 20 16 21 16 20 16 18 16 16 16 13 16 11 16 6 16 3 16-2 16-7 10-8 10-15 10-22 10-32 10-39 10-46 10-54 10-60 10-65 10-66 10-66 10-66 10-66 10-64 10-61 10-58 10-54 10-50 10-47 10-46 10-48 10-52 10-56 10-58 10-58 10-56 10-52 10-48 10-45 10-44 10-40 10-38 10-34 10-31 10-29 10-28 10-28 10-29 10-28 10-30 10-30 10-29 10-28 10-24 10-21 10-17 10-15 10-11 10-10 10-8 10-7 10-6 16-10 16-8 16-8 16-8 16-7 16-7 16-7 16-8 26-13 26-13 26-14 26-14 26-16 26-14 26-14 26-13 26-12 26-12 26-11 26-12 26-9 26-5 26-3 26 2 26 9 26 13 26 13 26 7 26 1 26-1 26 0 26-1 26 0 26 0 26 1 26 1 26 3 26 4 26 4 26 6 26 6 26 9 26 11 26 13 26 14 26 19 26 22 26 28 26 33 26 37 10 16 10 17 10 18 10 20 10 22 10 23 10 25 10 27 10 28 10 30 10 32 10 34 10 38 10 38 10 37 10 36 10 34 10 32 10 33 10 33 10 35 10 35 10 37 10 35 10 35 10 33 10 32 10 32 10 31 10 29 10 26 10 22 10 19 10 15 10 11 10 10 10 8 10 7 10 6 10 6 26 11 26 7 26 4 26-1 26-2 26-4 26-6 26-8 26-8 5-2"/>
<path stroke="#0A6CD6" d="M704 3335l16 21 16 19 16 17 16 15 16 11 16 9 16 7 16 6 16 5 26 6 26 4 26 1 26 0 26 0 26-1 26-2 26-2 26-2 26-3 26-1 26-1 26-1 26 0 26 0 26-1 26-3 26-5 26-8 26-11 26-14 26-17 26-21 26-27 10-11 10-12 10-13 10-13 10-14 10-14 10-16 10-16 10-18 10-20 10-21 10-21 10-21 10-20 10-20 10-20 10-19 10-18 10-18 10-16 10-15 10-14 10-12 10-11 10-9 10-8 10-8 10-7 10-7 26-15 26-12 26-11 26-11 26-11 26-10 26-6 26-3 26-2 26 1 26 3 26 11 26 15 26 14 26 12 26 7 26 5 26 5 26 8 26 13 26 17 26 17 26 14 26 11 26 7 26 7 26 9 26 14 26 19 16 14 16 13 16 13 16 13 16 13 16 14 16 13 16 14 16 14 16 14 16 13 16 12 16 11 16 8 16 5 16 2 16-2 16-5 10-7 10-12 10-18 10-25 10-32 10-37 10-44 10-49 10-53 10-57 10-61 10-65 10-68 10-67 10-65 10-62 10-60 10-59 10-57 10-59 10-61 10-65 10-68 10-70 10-69 10-66 10-61 10-57 10-53 10-50 10-48 10-43 10-40 10-36 10-33 10-32 10-32 10-31 10-32 10-32 10-32 10-31 10-29 10-26 10-22 10-18 10-15 10-12 10-11 10-8 10-8 10-6 16-10 16-8 16-8 16-8 16-7 16-8 16-8 16-9 26-15 26-15 26-15 26-16 26-16 26-15 26-14 26-13 26-12 26-11 26-11 26-10 26-8 26-4 26-2 26 2 26 10 26 15 26 13 26 8 26 1 26 1 26 0 26-1 26 0 26 0 26 1 26 1 26 3 26 4 26 5 26 6 26 7 26 11 26 13 26 15 26 17 26 21 26 25 26 30 26 35 26 39 10 17 10 18 10 19 10 22 10 24 10 25 10 28 10 29 10 31 10 32 10 35 10 38 10 41 10 41 10 40 10 38 10 37 10 35 10 35 10 35 10 37 10 38 10 37 10 37 10 34 10 33 10 32 10 31 10 30 10 29 10 25 10 21 10 18 10 13 10 10 10 8 10 6 10 6 10 5 10 4 26 9 26 5 26 1 26-2 26-4 26-5 26-7 26-8 26-10 5-1"/>
<path stroke="#FA5A12" d="M704 3320l16 21 16 19 16 17 16 14 16 12 16 8 16 6 16 5 16 5 26 5 26 2 26 0 26-1 26-1 26-2 26-3 26-4 26-4 26-3 26-3 26-2 26-1 26 0 26-1 26-1 26-2 26-4 26-6 26-9 26-11 26-14 26-19 26-24 10-11 10-11 10-12 10-13 10-14 10-15 10-16 10-18 10-19 10-21 10-23 10-23 10-24 10-23 10-23 10-23 10-23 10-22 10-21 10-21 10-19 10-18 10-16 10-14 10-14 10-12 10-12 10-10 10-11 26-23 26-19 26-16 26-12 26-10 26-5 26 0 26 5 26 6 26 8 26 11 26 17 26 21 26 20 26 14 26 9 26 5 26 6 26 8 26 15 26 20 26 18 26 16 26 11 26 7 26 6 26 9 26 15 26 22 16 15 16 15 16 14 16 15 16 14 16 13 16 14 16 14 16 14 16 15 16 13 16 12 16 10 16 7 16 3 16 0 16-4 16-11 10-11 10-17 10-25 10-33 10-42 10-49 10-58 10-65 10-71 10-75 10-76 10-77 10-78 10-78 10-77 10-75 10-71 10-68 10-64 10-62 10-63 10-65 10-67 10-69 10-68 10-66 10-61 10-57 10-53 10-49 10-46 10-43 10-39 10-36 10-34 10-34 10-33 10-35 10-34 10-34 10-33 10-31 10-30 10-26 10-24 10-20 10-17 10-15 10-13 10-10 10-9 10-8 16-10 16-6 16-5 16-5 16-4 16-4 16-5 16-4 26-8 26-7 26-7 26-8 26-8 26-8 26-10 26-10 26-12 26-10 26-11 26-11 26-9 26-6 26-2 26 2 26 10 26 15 26 14 26 9 26 5 26 2 26 0 26-1 26-2 26-1 26-1 26 0 26 2 26 4 26 4 26 4 26 6 26 8 26 11 26 11 26 13 26 15 26 17 26 22 26 28 26 33 10 15 10 16 10 18 10 20 10 22 10 25 10 26 10 28 10 31 10 31 10 34 10 36 10 38 10 40 10 39 10 39 10 38 10 37 10 37 10 36 10 37 10 39 10 38 10 39 10 39 10 38 10 36 10 35 10 32 10 29 10 26 10 22 10 19 10 16 10 13 10 11 10 10 10 8 10 7 10 7 26 14 26 11 26 6 26 3 26 0 26-2 26-3 26-5 26-7 5-1"/>
<path stroke="#FBB414" d="M704 3336l16 20 16 19 16 17 16 15 16 11 16 9 16 6 16 6 16 5 26 6 26 3 26 1 26 0 26-1 26-1 26-2 26-3 26-3 26-2 26-2 26-1 26-1 26 0 26 0 26-1 26-2 26-5 26-6 26-10 26-11 26-15 26-19 26-24 10-10 10-11 10-12 10-12 10-12 10-14 10-15 10-16 10-18 10-19 10-21 10-21 10-21 10-20 10-21 10-20 10-19 10-19 10-18 10-18 10-16 10-15 10-13 10-12 10-10 10-10 10-9 10-8 10-8 26-19 26-16 26-14 26-13 26-14 26-12 26-9 26-7 26-5 26-3 26 0 26 8 26 13 26 13 26 10 26 7 26 5 26 4 26 9 26 14 26 20 26 19 26 16 26 12 26 9 26 8 26 12 26 18 26 25 16 18 16 18 16 17 16 18 16 17 16 17 16 17 16 16 16 17 16 16 16 16 16 14 16 12 16 9 16 6 16 3 16-3 16-7 10-9 10-15 10-21 10-28 10-35 10-41 10-49 10-54 10-59 10-63 10-65 10-70 10-71 10-72 10-69 10-68 10-66 10-64 10-62 10-63 10-65 10-69 10-71 10-73 10-71 10-69 10-63 10-59 10-55 10-52 10-49 10-45 10-42 10-39 10-36 10-36 10-35 10-36 10-35 10-36 10-35 10-34 10-32 10-28 10-25 10-21 10-18 10-16 10-13 10-11 10-9 10-8 16-10 16-7 16-6 16-5 16-4 16-4 16-4 16-4 26-7 26-6 26-6 26-8 26-8 26-10 26-10 26-12 26-12 26-13 26-13 26-13 26-12 26-7 26-6 26 0 26 7 26 13 26 12 26 7 26 1 26-1 26-2 26-3 26-4 26-3 26-3 26-1 26 1 26 2 26 4 26 6 26 9 26 12 26 15 26 17 26 19 26 21 26 25 26 29 26 33 26 36 10 15 10 17 10 18 10 19 10 22 10 23 10 25 10 26 10 28 10 30 10 32 10 34 10 37 10 37 10 37 10 37 10 35 10 34 10 34 10 35 10 36 10 37 10 38 10 38 10 37 10 37 10 35 10 35 10 33 10 30 10 27 10 24 10 20 10 17 10 14 10 12 10 10 10 9 10 8 10 7 26 16 26 10 26 6 26 0 26-2 26-5 26-7 26-9 26-10 5-2"/>
<path stroke="#A02CBC" d="M704 3325l16 21 16 19 16 17 16 14 16 11 16 9 16 6 16 5 16 4 26 5 26 2 26 0 26-1 26-3 26-3 26-4 26-5 26-6 26-5 26-4 26-4 26-2 26-2 26-1 26-2 26-2 26-4 26-5 26-8 26-11 26-13 26-18 26-23 10-11 10-10 10-12 10-12 10-13 10-15 10-15 10-17 10-19 10-21 10-22 10-22 10-23 10-22 10-23 10-22 10-21 10-21 10-21 10-19 10-19 10-16 10-15 10-14 10-12 10-12 10-10 10-10 10-10 26-22 26-17 26-15 26-13 26-11 26-6 26-1 26 3 26 4 26 6 26 8 26 16 26 19 26 17 26 12 26 5 26 3 26 2 26 5 26 13 26 17 26 16 26 14 26 9 26 5 26 4 26 7 26 16 26 24 16 17 16 17 16 17 16 16 16 16 16 16 16 16 16 15 16 16 16 16 16 15 16 12 16 11 16 8 16 4 16 0 16-5 16-12 10-12 10-19 10-27 10-36 10-45 10-54 10-62 10-70 10-78 10-81 10-81 10-82 10-82 10-82 10-80 10-79 10-75 10-69 10-66 10-62 10-63 10-64 10-65 10-67 10-67 10-64 10-61 10-56 10-51 10-48 10-45 10-41 10-37 10-34 10-32 10-32 10-31 10-33 10-32 10-33 10-31 10-30 10-28 10-25 10-22 10-19 10-17 10-15 10-12 10-11 10-10 10-8 16-11 16-9 16-7 16-8 16-7 16-8 16-8 16-8 26-14 26-12 26-12 26-12 26-10 26-10 26-10 26-11 26-10 26-9 26-9 26-9 26-7 26-3 26-1 26 4 26 12 26 17 26 15 26 11 26 6 26 3 26 1 26-2 26-2 26-2 26-2 26 0 26 2 26 4 26 3 26 5 26 5 26 8 26 9 26 11 26 12 26 13 26 15 26 19 26 25 26 31 10 13 10 16 10 16 10 18 10 20 10 22 10 23 10 26 10 27 10 28 10 30 10 32 10 34 10 35 10 36 10 35 10 35 10 35 10 35 10 34 10 36 10 36 10 38 10 39 10 40 10 39 10 38 10 34 10 32 10 27 10 24 10 21 10 18 10 15 10 12 10 11 10 9 10 8 10 7 10 6 26 15 26 12 26 12 26 11 26 11 26 11 26 11 26 11 26 10 5 2"/>
<path stroke="#52B822" d="M704 3344l16 21 16 20 16 18 16 16 16 12 16 10 16 7 16 7 16 7 26 7 26 5 26 2 26 1 26-1 26-1 26-2 26-3 26-3 26-3 26-3 26-2 26-1 26-1 26 0 26-1 26-2 26-4 26-6 26-10 26-11 26-14 26-18 26-23 10-10 10-11 10-11 10-11 10-13 10-13 10-14 10-16 10-16 10-18 10-19 10-20 10-18 10-18 10-18 10-17 10-16 10-16 10-15 10-14 10-12 10-12 10-9 10-8 10-7 10-6 10-6 10-5 10-5 26-12 26-10 26-11 26-14 26-14 26-13 26-9 26-6 26-5 26-2 26 1 26 9 26 14 26 14 26 11 26 7 26 5 26 5 26 10 26 15 26 19 26 19 26 16 26 12 26 8 26 7 26 10 26 12 26 15 16 11 16 11 16 11 16 11 16 10 16 10 16 10 16 11 16 11 16 11 16 11 16 10 16 8 16 6 16 3 16 0 16-4 16-8 10-10 10-14 10-21 10-28 10-35 10-42 10-48 10-54 10-59 10-62 10-67 10-70 10-73 10-73 10-71 10-70 10-68 10-66 10-65 10-65 10-67 10-71 10-73 10-74 10-74 10-71 10-65 10-61 10-57 10-54 10-51 10-48 10-44 10-41 10-39 10-38 10-38 10-38 10-38 10-38 10-38 10-35 10-34 10-30 10-26 10-23 10-19 10-17 10-15 10-12 10-10 10-9 16-10 16-8 16-5 16-6 16-5 16-5 16-5 16-5 26-10 26-9 26-9 26-8 26-10 26-10 26-10 26-10 26-10 26-10 26-10 26-10 26-7 26-4 26-2 26 3 26 11 26 15 26 13 26 9 26 3 26 2 26-1 26-2 26-2 26-3 26-1 26 0 26 1 26 3 26 4 26 4 26 4 26 7 26 8 26 9 26 11 26 13 26 15 26 21 26 27 26 32 10 15 10 16 10 19 10 19 10 22 10 25 10 26 10 28 10 29 10 32 10 33 10 35 10 38 10 40 10 39 10 38 10 37 10 37 10 36 10 36 10 38 10 38 10 38 10 39 10 38 10 37 10 35 10 33 10 31 10 27 10 24 10 20 10 17 10 14 10 11 10 9 10 8 10 6 10 6 10 5 26 13 26 11 26 11 26 8 26 9 26 8 26 8 26 8 26 8 5 1"/>
<path stroke="#20BAF0" d="M704 3277l16 21 16 18 16 16 16 12 16 9 16 6 16 3 16 2 16 1 26 1 26-2 26-5 26-5 26-6 26-6 26-7 26-10 26-9 26-8 26-6 26-6 26-4 26-1 26-2 26-2 26-3 26-5 26-7 26-10 26-13 26-18 26-23 26-30 10-13 10-13 10-15 10-16 10-17 10-18 10-20 10-22 10-23 10-26 10-26 10-28 10-27 10-28 10-28 10-28 10-27 10-25 10-24 10-23 10-22 10-19 10-18 10-16 10-14 10-14 10-12 10-11 10-11 26-23 26-18 26-14 26-11 26-7 26-2 26 3 26 8 26 8 26 10 26 12 26 17 26 20 26 18 26 12 26 5 26 1 26 0 26 4 26 10 26 16 26 16 26 12 26 7 26 1 26 0 26 4 26 16 26 28 16 21 16 20 16 19 16 19 16 20 16 19 16 21 16 21 16 20 16 20 16 18 16 16 16 13 16 9 16 6 16 2 16-2 16-6 10-9 10-15 10-24 10-36 10-45 10-53 10-62 10-71 10-78 10-80 10-80 10-79 10-78 10-78 10-76 10-74 10-69 10-62 10-57 10-53 10-52 10-54 10-55 10-57 10-59 10-56 10-53 10-49 10-45 10-41 10-38 10-34 10-30 10-28 10-25 10-24 10-25 10-26 10-26 10-25 10-26 10-24 10-23 10-20 10-17 10-15 10-12 10-10 10-9 10-7 10-6 10-5 16-7 16-7 16-6 16-7 16-6 16-7 16-7 16-8 26-14 26-13 26-13 26-13 26-12 26-12 26-12 26-11 26-11 26-10 26-11 26-11 26-8 26-5 26-2 26 3 26 11 26 16 26 15 26 10 26 4 26 2 26 0 26-2 26-2 26-1 26-1 26 1 26 3 26 4 26 6 26 6 26 8 26 12 26 13 26 15 26 16 26 19 26 21 26 26 26 31 26 35 10 15 10 16 10 17 10 19 10 20 10 22 10 24 10 26 10 26 10 28 10 30 10 33 10 34 10 36 10 35 10 34 10 34 10 33 10 33 10 33 10 34 10 35 10 37 10 37 10 36 10 36 10 35 10 33 10 30 10 26 10 24 10 20 10 17 10 14 10 12 10 9 10 8 10 7 10 6 10 5 26 14 26 11 26 9 26 8 26 6 26 6 26 6 26 5 26 5 5 1"/>
<path stroke="#D41440" d="M704 3341l16 21 16 19 16 18 16 15 16 12 16 9 16 7 16 6 16 5 26 7 26 3 26 1 26-1 26-2 26-3 26-4 26-5 26-6 26-6 26-5 26-5 26-4 26-3 26-2 26-2 26-3 26-4 26-5 26-8 26-9 26-12 26-16 26-22 10-9 10-10 10-11 10-11 10-13 10-13 10-15 10-16 10-18 10-19 10-21 10-21 10-21 10-21 10-20 10-20 10-20 10-19 10-19 10-17 10-16 10-15 10-13 10-12 10-10 10-10 10-8 10-8 10-8 26-17 26-13 26-11 26-9 26-9 26-4 26-1 26 3 26 5 26 5 26 8 26 15 26 19 26 16 26 12 26 6 26 2 26 1 26 4 26 10 26 14 26 13 26 10 26 7 26 3 26 3 26 6 26 13 26 19 16 14 16 14 16 14 16 14 16 13 16 14 16 14 16 13 16 14 16 15 16 13 16 12 16 10 16 7 16 5 16 0 16-4 16-9 10-10 10-15 10-23 10-31 10-38 10-45 10-52 10-59 10-65 10-68 10-70 10-73 10-74 10-75 10-72 10-71 10-69 10-65 10-63 10-63 10-64 10-67 10-70 10-72 10-71 10-68 10-64 10-59 10-56 10-52 10-50 10-47 10-43 10-41 10-38 10-38 10-38 10-38 10-38 10-38 10-37 10-36 10-33 10-31 10-26 10-24 10-20 10-17 10-16 10-13 10-11 10-9 16-12 16-8 16-6 16-6 16-6 16-6 16-6 16-7 26-11 26-10 26-9 26-10 26-9 26-10 26-10 26-11 26-10 26-10 26-10 26-10 26-7 26-4 26-2 26 3 26 11 26 16 26 14 26 10 26 3 26 1 26-1 26-3 26-4 26-4 26-3 26-1 26 0 26 3 26 3 26 5 26 7 26 10 26 12 26 14 26 15 26 18 26 20 26 25 26 30 26 37 10 16 10 17 10 20 10 21 10 23 10 26 10 28 10 29 10 31 10 33 10 35 10 37 10 39 10 41 10 40 10 40 10 39 10 37 10 37 10 37 10 38 10 38 10 39 10 39 10 38 10 38 10 37 10 34 10 32 10 29 10 26 10 23 10 19 10 16 10 13 10 11 10 9 10 8 10 8 10 6 26 15 26 11 26 8 26 5 26 3 26 1 26 1 26-2 26-2 5 0"/>
<path stroke="#0A6CD6" d="M704 3291l16 21 16 18 16 16 16 12 16 10 16 6 16 4 16 3 16 2 26 2 26-1 26-4 26-4 26-4 26-5 26-4 26-6 26-6 26-4 26-4 26-2 26-1 26-1 26-1 26-2 26-5 26-7 26-11 26-14 26-18 26-22 26-29 26-35 10-15 10-16 10-17 10-17 10-19 10-19 10-21 10-22 10-25 10-26 10-27 10-28 10-29 10-28 10-29 10-28 10-28 10-26 10-25 10-24 10-22 10-20 10-19 10-17 10-15 10-14 10-13 10-11 10-11 26-25 26-19 26-15 26-9 26-3 26 6 26 15 26 20 26 22 26 23 26 24 26 29 26 28 26 24 26 14 26 4 26 0 26-1 26 2 26 9 26 14 26 14 26 12 26 6 26 4 26 3 26 8 26 21 26 33 16 23 16 23 16 23 16 22 16 22 16 21 16 22 16 22 16 21 16 21 16 19 16 16 16 14 16 11 16 6 16 2 16-4 16-11 10-12 10-19 10-28 10-39 10-47 10-57 10-65 10-74 10-80 10-83 10-81 10-79 10-78 10-77 10-74 10-72 10-67 10-61 10-56 10-54 10-53 10-55 10-58 10-59 10-61 10-58 10-56 10-51 10-48 10-45 10-42 10-39 10-36 10-32 10-31 10-30 10-30 10-31 10-31 10-31 10-31 10-29 10-28 10-24 10-22 10-18 10-16 10-14 10-11 10-9 10-9 10-7 16-9 16-7 16-6 16-5 16-6 16-7 16-7 16-7 26-12 26-13 26-11 26-12 26-12 26-11 26-11 26-11 26-11 26-10 26-11 26-11 26-8 26-5 26-3 26 3 26 10 26 15 26 15 26 9 26 5 26 2 26 0 26-1 26-2 26-2 26 0 26 1 26 2 26 4 26 5 26 5 26 6 26 9 26 11 26 12 26 14 26 15 26 18 26 23 26 28 26 34 10 15 10 16 10 17 10 20 10 21 10 23 10 25 10 27 10 28 10 30 10 32 10 34 10 36 10 37 10 38 10 37 10 36 10 35 10 36 10 35 10 36 10 38 10 38 10 39 10 39 10 38 10 37 10 35 10 32 10 29 10 25 10 23 10 19 10 16 10 13 10 11 10 10 10 8 10 8 10 6 26 15 26 11 26 8 26 5 26 2 26 2 26 0 26-2 26-2 5-1"/>
<path stroke="#FA5A12" d="M704 3319l16 21 16 19 16 17 16 14 16 11 16 9 16 6 16 5 16 4 26 5 26 3 26 0 26-2 26-1 26-2 26-2 26-2 26-2 26-2 26-1 26-1 26 1 26 0 26 0 26-1 26-1 26-4 26-5 26-8 26-9 26-13 26-17 26-22 10-10 10-11 10-11 10-12 10-14 10-14 10-15 10-18 10-19 10-20 10-23 10-23 10-23 10-23 10-23 10-23 10-22 10-22 10-22 10-21 10-20 10-18 10-17 10-15 10-14 10-13 10-12 10-12 10-11 26-27 26-21 26-18 26-16 26-14 26-11 26-7 26-4 26-3 26 0 26 3 26 10 26 15 26 14 26 10 26 8 26 7 26 8 26 13 26 20 26 24 26 24 26 21 26 16 26 10 26 8 26 9 26 17 26 25 16 17 16 17 16 17 16 17 16 17 16 16 16 17 16 17 16 16 16 16 16 16 16 13 16 12 16 8 16 5 16 2 16-4 16-11 10-11 10-18 10-25 10-34 10-41 10-50 10-57 10-64 10-70 10-72 10-73 10-72 10-73 10-70 10-68 10-64 10-59 10-56 10-53 10-51 10-53 10-56 10-60 10-62 10-62 10-60 10-57 10-52 10-51 10-48 10-46 10-43 10-39 10-37 10-34 10-33 10-33 10-33 10-34 10-33 10-34 10-32 10-30 10-28 10-23 10-20 10-17 10-15 10-12 10-10 10-9 10-8 16-10 16-8 16-7 16-8 16-7 16-7 16-8 16-9 26-14 26-15 26-14 26-15 26-14 26-15 26-13 26-13 26-13 26-13 26-13 26-13 26-10 26-7 26-4 26 1 26 9 26 14 26 13 26 8 26 4 26 1 26 0 26 0 26-1 26-1 26 0 26 2 26 3 26 5 26 5 26 7 26 9 26 12 26 14 26 16 26 18 26 20 26 22 26 28 26 32 26 36 10 15 10 17 10 17 10 19 10 20 10 22 10 24 10 25 10 26 10 28 10 30 10 32 10 35 10 36 10 35 10 35 10 33 10 33 10 33 10 34 10 35 10 36 10 38 10 38 10 38 10 38 10 36 10 36 10 33 10 31 10 28 10 24 10 21 10 18 10 15 10 12 10 11 10 10 10 9 10 8 26 16 26 11 26 6 26 2 26-2 26-3 26-6 26-8 26-10 5-2"/>
<path stroke="#FBB414" d="M704 3276l16 22 16 20 16 17 16 13 16 10 16 8 16 4 16 3 16 3 26 3 26-1 26-3 26-5 26-5 26-6 26-7 26-10 26-10 26-9 26-8 26-7 26-5 26-4 26-4 26-4 26-6 26-7 26-11 26-13 26-18 26-22 26-28 26-35 10-15 10-15 10-17 10-17 10-19 10-20 10-21 10-23 10-24 10-27 10-27 10-28 10-27 10-28 10-28 10-27 10-26 10-25 10-22 10-22 10-19 10-17 10-16 10-14 10-12 10-11 10-10 10-9 10-8 26-18 26-14 26-11 26-10 26-10 26-6 26-1 26 2 26 3 26 3 26 6 26 13 26 17 26 16 26 11 26 7 26 4 26 7 26 12 26 22 26 28 26 28 26 23 26 16 26 9 26 5 26 8 26 20 26 32 16 23 16 21 16 21 16 20 16 19 16 20 16 19 16 20 16 19 16 19 16 17 16 14 16 12 16 8 16 4 16-1 16-7 16-16 10-16 10-24 10-35 10-47 10-59 10-70 10-81 10-93 10-103 10-105 10-100 10-95 10-92 10-92 10-90 10-88 10-81 10-73 10-63 10-57 10-54 10-54 10-53 10-56 10-57 10-57 10-55 10-50 10-46 10-43 10-39 10-36 10-33 10-29 10-29 10-28 10-30 10-31 10-31 10-30 10-29 10-27 10-25 10-22 10-20 10-18 10-17 10-14 10-12 10-10 10-8 10-8 16-8 16-5 16-2 16-3 16-3 16-3 16-3 16-3 26-6 26-4 26-4 26-3 26-3 26-4 26-6 26-7 26-8 26-8 26-7 26-6 26-5 26-2 26 1 26 5 26 14 26 18 26 17 26 11 26 5 26 2 26-3 26-5 26-8 26-7 26-6 26-4 26-1 26 2 26 4 26 4 26 7 26 10 26 12 26 13 26 14 26 15 26 16 26 19 26 25 26 31 10 13 10 15 10 16 10 17 10 18 10 19 10 22 10 23 10 24 10 26 10 26 10 28 10 30 10 32 10 32 10 34 10 33 10 34 10 33 10 34 10 35 10 36 10 38 10 41 10 42 10 43 10 41 10 37 10 32 10 28 10 23 10 21 10 19 10 16 10 14 10 12 10 10 10 9 10 8 10 7 26 15 26 13 26 10 26 9 26 7 26 5 26 5 26 4 26 4 5 1"/>
<path stroke="#A02CBC" d="M704 3335l16 20 16 19 16 17 16 14 16 12 16 8 16 6 16 5 16 5 26 5 26 2 26 0 26-1 26-3 26-4 26-7 26-8 26-9 26-9 26-9 26-8 26-6 26-4 26-3 26-1 26 0 26 2 26 2 26 1 26 0 26 0 26-4 26-9 10-5 10-6 10-6 10-7 10-9 10-10 10-12 10-14 10-17 10-18 10-20 10-21 10-20 10-21 10-21 10-21 10-21 10-21 10-20 10-21 10-19 10-18 10-17 10-15 10-14 10-13 10-13 10-12 10-12 26-27 26-22 26-18 26-15 26-11 26-8 26-3 26 1 26 3 26 4 26 7 26 15 26 18 26 17 26 11 26 5 26 0 26-2 26 1 26 6 26 11 26 11 26 9 26 5 26 2 26 3 26 9 26 16 26 25 16 17 16 17 16 17 16 17 16 16 16 17 16 16 16 16 16 17 16 16 16 16 16 13 16 12 16 9 16 6 16 2 16-6 16-15 10-16 10-24 10-32 10-41 10-52 10-61 10-70 10-79 10-85 10-87 10-85 10-80 10-79 10-78 10-76 10-73 10-69 10-63 10-59 10-56 10-56 10-58 10-61 10-62 10-62 10-61 10-58 10-53 10-49 10-48 10-45 10-43 10-40 10-39 10-37 10-37 10-38 10-39 10-40 10-39 10-38 10-37 10-34 10-31 10-28 10-25 10-22 10-19 10-17 10-14 10-12 10-9 16-12 16-6 16-5 16-4 16-4 16-4 16-5 16-5 26-7 26-8 26-6 26-7 26-6 26-7 26-8 26-9 26-8 26-7 26-6 26-6 26-4 26 0 26 2 26 6 26 13 26 18 26 15 26 9 26 4 26 1 26-1 26-4 26-6 26-5 26-4 26-3 26-1 26 1 26 2 26 3 26 3 26 6 26 8 26 9 26 11 26 11 26 14 26 18 26 25 26 31 10 14 10 17 10 18 10 21 10 23 10 25 10 28 10 31 10 32 10 34 10 35 10 38 10 41 10 41 10 42 10 42 10 40 10 40 10 39 10 38 10 39 10 39 10 40 10 39 10 40 10 39 10 38 10 35 10 32 10 29 10 25 10 23 10 19 10 16 10 13 10 11 10 10 10 9 10 7 10 7 26 15 26 11 26 8 26 6 26 3 26 2 26 1 26 0 26-1 5 0"/>
<path stroke="#52B822" d="M704 3336l16 22 16 20 16 19 16 15 16 13 16 10 16 7 16 7 16 6 26 7 26 4 26 2 26 0 26-2 26-4 26-5 26-7 26-7 26-8 26-7 26-6 26-5 26-4 26-2 26-1 26-1 26-2 26-3 26-5 26-6 26-9 26-12 26-18 10-8 10-8 10-9 10-10 10-11 10-12 10-13 10-16 10-16 10-19 10-20 10-20 10-21 10-20 10-20 10-19 10-20 10-19 10-18 10-18 10-17 10-15 10-14 10-12 10-12 10-10 10-10 10-9 10-9 26-21 26-17 26-16 26-14 26-15 26-15 26-12 26-11 26-9 26-7 26-3 26 5 26 10 26 12 26 10 26 7 26 5 26 7 26 11 26 18 26 22 26 23 26 19 26 14 26 9 26 8 26 10 26 17 26 24 16 17 16 17 16 17 16 17 16 16 16 16 16 16 16 16 16 16 16 16 16 15 16 14 16 11 16 10 16 5 16 2 16-3 16-10 10-12 10-17 10-25 10-34 10-41 10-49 10-57 10-65 10-71 10-75 10-77 10-78 10-80 10-80 10-77 10-76 10-72 10-69 10-66 10-64 10-66 10-67 10-70 10-71 10-72 10-68 10-65 10-60 10-57 10-54 10-51 10-48 10-45 10-42 10-41 10-39 10-40 10-41 10-41 10-40 10-39 10-37 10-34 10-31 10-28 10-25 10-22 10-18 10-17 10-13 10-12 10-9 16-12 16-6 16-3 16-1 16 0 16 1 16 1 16 1 26 4 26 4 26 4 26 3 26 1 26-2 26-6 26-10 26-13 26-13 26-14 26-15 26-12 26-9 26-7 26-1 26 8 26 13 26 14 26 9 26 5 26 2 26 0 26-2 26-4 26-2 26-2 26-1 26 1 26 3 26 4 26 4 26 4 26 6 26 9 26 8 26 10 26 12 26 14 26 18 26 25 26 31 10 15 10 16 10 18 10 20 10 22 10 24 10 27 10 29 10 31 10 32 10 34 10 37 10 39 10 40 10 41 10 40 10 40 10 39 10 39 10 39 10 39 10 41 10 41 10 41 10 42 10 42 10 39 10 38 10 35 10 32 10 28 10 25 10 22 10 18 10 16 10 13 10 12 10 10 10 9 10 8 26 17 26 11 26 5 26 0 26-4 26-7 26-10 26-12 26-15 5-3"/>
<path stroke="#20BAF0" d="M704 3321l16 22 16 19 16 18 16 15 16 12 16 9 16 7 16 5 16 5 26 6 26 3 26 0 26-1 26-3 26-3 26-5 26-6 26-6 26-6 26-5 26-5 26-3 26-3 26-2 26-1 26-3 26-4 26-6 26-8 26-10 26-14 26-17 26-23 10-10 10-11 10-12 10-12 10-13 10-14 10-16 10-17 10-19 10-21 10-22 10-23 10-22 10-23 10-22 10-22 10-22 10-21 10-20 10-19 10-19 10-16 10-15 10-14 10-12 10-11 10-10 10-10 10-9 26-22 26-17 26-14 26-12 26-10 26-7 26-2 26 2 26 3 26 4 26 8 26 14 26 18 26 16 26 12 26 4 26-3 26-5 26-2 26 2 26 8 26 7 26 6 26 2 26 1 26 2 26 9 26 21 26 33 16 23 16 23 16 23 16 23 16 23 16 22 16 22 16 22 16 21 16 21 16 19 16 16 16 15 16 10 16 7 16 3 16-4 16-12 10-12 10-19 10-28 10-36 10-45 10-54 10-62 10-70 10-77 10-80 10-81 10-79 10-80 10-78 10-77 10-74 10-71 10-65 10-61 10-60 10-59 10-61 10-64 10-65 10-66 10-64 10-60 10-55 10-53 10-49 10-47 10-44 10-40 10-38 10-36 10-35 10-36 10-37 10-36 10-37 10-35 10-34 10-31 10-29 10-25 10-22 10-20 10-16 10-15 10-12 10-10 10-8 16-11 16-6 16-4 16-2 16-2 16-1 16-1 16-1 26-1 26 0 26 0 26-1 26-2 26-5 26-7 26-11 26-14 26-16 26-18 26-20 26-17 26-14 26-12 26-5 26 5 26 11 26 13 26 10 26 6 26 5 26 2 26 1 26 1 26 1 26 2 26 3 26 5 26 6 26 6 26 7 26 7 26 10 26 12 26 13 26 15 26 16 26 18 26 24 26 28 26 35 10 15 10 16 10 18 10 20 10 22 10 23 10 25 10 28 10 29 10 30 10 32 10 34 10 37 10 38 10 38 10 37 10 37 10 36 10 35 10 36 10 37 10 37 10 39 10 39 10 38 10 38 10 35 10 34 10 29 10 27 10 23 10 19 10 16 10 13 10 10 10 9 10 7 10 5 10 6 10 5 26 11 26 12 26 10 26 8 26 7 26 7 26 7 26 7 26 7 5 1"/>
<path stroke="#D41440" d="M704 3271l16 21 16 18 16 14 16 12 16 8 16 6 16 2 16 1 16 1 26-1 26-3 26-5 26-7 26-6 26-7 26-8 26-11 26-11 26-9 26-8 26-7 26-5 26-3 26-3 26-4 26-4 26-6 26-7 26-11 26-13 26-19 26-24 26-31 10-13 10-15 10-15 10-17 10-18 10-19 10-20 10-23 10-25 10-27 10-29 10-29 10-30 10-30 10-30 10-30 10-30 10-28 10-27 10-25 10-24 10-21 10-21 10-18 10-17 10-15 10-14 10-14 10-12 26-27 26-21 26-16 26-10 26-7 26-3 26 2 26 5 26 7 26 7 26 9 26 15 26 18 26 17 26 11 26 6 26 4 26 5 26 10 26 18 26 24 26 25 26 20 26 14 26 9 26 5 26 8 26 23 26 37 16 26 16 25 16 24 16 23 16 24 16 24 16 24 16 24 16 23 16 23 16 20 16 17 16 15 16 10 16 7 16 2 16-3 16-11 10-12 10-19 10-29 10-41 10-52 10-61 10-70 10-80 10-88 10-89 10-85 10-81 10-79 10-78 10-76 10-73 10-67 10-60 10-54 10-49 10-48 10-48 10-51 10-53 10-54 10-53 10-49 10-46 10-41 10-39 10-35 10-31 10-28 10-24 10-23 10-22 10-23 10-24 10-24 10-24 10-24 10-23 10-21 10-19 10-16 10-14 10-11 10-10 10-7 10-7 10-5 10-5 16-7 16-7 16-7 16-6 16-7 16-6 16-8 16-8 26-13 26-14 26-13 26-13 26-13 26-12 26-11 26-12 26-10 26-9 26-9 26-9 26-6 26-2 26 0 26 4 26 12 26 16 26 15 26 8 26 2 26-1 26-3 26-6 26-6 26-5 26-5 26-3 26 0 26 2 26 4 26 5 26 6 26 8 26 11 26 12 26 14 26 15 26 19 26 23 26 29 26 34 10 15 10 16 10 18 10 19 10 21 10 23 10 24 10 27 10 28 10 29 10 31 10 34 10 35 10 37 10 37 10 36 10 35 10 34 10 34 10 35 10 35 10 36 10 38 10 37 10 38 10 36 10 35 10 34 10 30 10 27 10 24 10 20 10 17 10 14 10 11 10 9 10 8 10 6 10 5 10 5 26 11 26 8 26 5 26 3 26 1 26 1 26-1 26-1 26-3 5 0"/>
<path stroke="#0A6CD6" d="M704 3356l16 21 16 20 16 18 16 16 16 13 16 10 16 8 16 7 16 7 26 9 26 4 26 3 26 1 26-1 26-1 26-2 26-2 26-3 26-3 26-3 26-2 26-2 26-1 26 0 26 0 26 0 26-1 26-2 26-4 26-6 26-6 26-10 26-14 10-7 10-7 10-8 10-8 10-9 10-10 10-11 10-13 10-15 10-16 10-17 10-18 10-18 10-17 10-17 10-17 10-17 10-17 10-16 10-17 10-15 10-14 10-13 10-11 10-10 10-10 10-9 10-9 10-8 26-21 26-17 26-16 26-15 26-16 26-14 26-11 26-9 26-7 26-5 26-2 26 8 26 12 26 11 26 10 26 6 26 3 26 3 26 6 26 10 26 15 26 14 26 12 26 10 26 6 26 7 26 10 26 15 26 21 16 14 16 15 16 16 16 15 16 15 16 15 16 15 16 14 16 15 16 15 16 14 16 13 16 11 16 9 16 6 16 2 16-1 16-6 10-8 10-12 10-18 10-23 10-29 10-34 10-40 10-45 10-48 10-52 10-58 10-63 10-68 10-69 10-67 10-66 10-66 10-66 10-67 10-69 10-72 10-76 10-79 10-80 10-78 10-74 10-68 10-63 10-58 10-55 10-52 10-48 10-45 10-41 10-38 10-38 10-37 10-37 10-37 10-37 10-37 10-35 10-33 10-30 10-26 10-22 10-19 10-16 10-13 10-11 10-10 10-8 16-11 16-9 16-7 16-7 16-6 16-6 16-6 16-7 26-11 26-11 26-11 26-12 26-12 26-12 26-12 26-13 26-11 26-11 26-10 26-10 26-8 26-4 26-2 26 2 26 10 26 14 26 14 26 7 26 2 26 1 26-1 26-1 26-1 26-2 26 0 26 0 26 2 26 2 26 4 26 4 26 6 26 7 26 10 26 11 26 12 26 15 26 19 26 24 26 29 26 34 10 15 10 16 10 18 10 19 10 22 10 24 10 25 10 27 10 29 10 30 10 32 10 36 10 37 10 39 10 38 10 37 10 36 10 35 10 34 10 35 10 36 10 38 10 38 10 38 10 37 10 36 10 36 10 34 10 32 10 31 10 27 10 23 10 20 10 17 10 14 10 11 10 10 10 9 10 7 10 8 26 15 26 11 26 6 26 3 26 0 26-2 26-3 26-6 26-6 5-2"/>
<path stroke="#FA5A12" d="M704 3347l16 21 16 19 16 17 16 16 16 11 16 9 16 8 16 6 16 6 26 7 26 3 26 1 26 0 26-1 26-3 26-3 26-4 26-4 26-5 26-4 26-3 26-2 26-2 26-1 26-1 26-1 26-1 26-4 26-5 26-7 26-9 26-12 26-18 10-8 10-8 10-9 10-10 10-11 10-11 10-13 10-15 10-16 10-19 10-19 10-21 10-21 10-20 10-21 10-20 10-21 10-20 10-21 10-19 10-19 10-18 10-16 10-14 10-14 10-13 10-12 10-11 10-12 26-26 26-21 26-17 26-14 26-10 26-3 26 2 26 8 26 9 26 11 26 14 26 20 26 22 26 19 26 12 26 5 26-2 26-3 26-3 26 3 26 6 26 7 26 4 26 3 26 1 26 4 26 9 26 18 26 27 16 18 16 20 16 19 16 19 16 19 16 19 16 18 16 19 16 17 16 18 16 16 16 16 16 13 16 10 16 6 16 2 16-3 16-10 10-10 10-17 10-23 10-30 10-38 10-45 10-52 10-58 10-64 10-67 10-71 10-73 10-75 10-75 10-73 10-71 10-69 10-67 10-64 10-64 10-65 10-69 10-71 10-71 10-71 10-68 10-62 10-57 10-54 10-50 10-47 10-43 10-40 10-36 10-35 10-33 10-33 10-34 10-34 10-33 10-34 10-32 10-30 10-27 10-24 10-20 10-17 10-15 10-12 10-10 10-9 10-8 16-11 16-9 16-8 16-8 16-7 16-8 16-9 16-8 26-15 26-15 26-14 26-14 26-14 26-13 26-12 26-12 26-11 26-11 26-10 26-10 26-8 26-4 26-2 26 3 26 10 26 15 26 14 26 8 26 3 26 1 26-1 26-1 26-2 26-2 26-1 26 0 26 1 26 3 26 4 26 5 26 6 26 8 26 10 26 11 26 13 26 16 26 18 26 23 26 29 26 34 10 15 10 16 10 18 10 20 10 21 10 23 10 26 10 27 10 29 10 30 10 32 10 35 10 37 10 38 10 38 10 37 10 36 10 36 10 35 10 35 10 36 10 37 10 39 10 38 10 38 10 37 10 36 10 34 10 32 10 29 10 26 10 22 10 20 10 15 10 13 10 11 10 9 10 8 10 7 10 7 26 14 26 11 26 6 26 2 26-1 26-2 26-4 26-6 26-6 5-2"/>
<path stroke="#FBB414" d="M704 3358l16 21 16 19 16 18 16 16 16 12 16 10 16 8 16 7 16 7 26 7 26 5 26 2 26 1 26-1 26-1 26-2 26-3 26-3 26-3 26-3 26-3 26-1 26-2 26 0 26 0 26-1 26-1 26-3 26-4 26-6 26-7 26-10 26-16 10-7 10-7 10-8 10-9 10-9 10-11 10-12 10-13 10-15 10-17 10-18 10-19 10-20 10-19 10-18 10-19 10-19 10-19 10-19 10-18 10-18 10-16 10-15 10-14 10-12 10-12 10-11 10-11 10-11 26-24 26-21 26-17 26-15 26-13 26-11 26-7 26-3 26-2 26 0 26 3 26 11 26 15 26 14 26 11 26 7 26 4 26 4 26 7 26 11 26 16 26 14 26 12 26 10 26 7 26 8 26 9 26 14 26 19 16 13 16 13 16 13 16 14 16 13 16 14 16 13 16 14 16 14 16 13 16 14 16 12 16 11 16 8 16 5 16 3 16-2 16-5 10-8 10-11 10-18 10-23 10-29 10-35 10-40 10-44 10-48 10-52 10-56 10-61 10-65 10-65 10-62 10-60 10-60 10-58 10-59 10-61 10-64 10-69 10-73 10-74 10-72 10-69 10-63 10-59 10-54 10-52 10-49 10-46 10-41 10-38 10-36 10-34 10-33 10-33 10-34 10-33 10-34 10-33 10-31 10-27 10-23 10-20 10-15 10-14 10-10 10-9 10-8 10-6 16-9 16-8 16-6 16-6 16-6 16-5 16-6 16-5 26-11 26-11 26-11 26-12 26-14 26-14 26-14 26-13 26-14 26-14 26-15 26-15 26-14 26-9 26-8 26-2 26 5 26 10 26 10 26 5 26-1 26-2 26-3 26-3 26-3 26-3 26-2 26-1 26 1 26 2 26 4 26 7 26 8 26 12 26 15 26 18 26 19 26 23 26 26 26 32 26 35 26 39 10 15 10 17 10 19 10 20 10 22 10 24 10 26 10 27 10 28 10 31 10 32 10 36 10 38 10 39 10 38 10 36 10 35 10 34 10 33 10 34 10 36 10 37 10 37 10 37 10 35 10 34 10 34 10 32 10 32 10 31 10 27 10 24 10 20 10 16 10 13 10 10 10 9 10 8 10 8 10 7 26 14 26 10 26 6 26 2 26-1 26-2 26-3 26-6 26-7 5-2"/>
<path stroke="#A02CBC" d="M704 3316l16 21 16 19 16 17 16 14 16 11 16 8 16 6 16 5 16 4 26 4 26 2 26-1 26-1 26-3 26-3 26-4 26-6 26-5 26-5 26-4 26-4 26-2 26-2 26-1 26-2 26-3 26-6 26-8 26-11 26-15 26-18 26-23 26-29 10-12 10-14 10-13 10-15 10-15 10-16 10-18 10-18 10-21 10-22 10-23 10-23 10-23 10-23 10-23 10-22 10-22 10-20 10-20 10-18 10-17 10-15 10-13 10-12 10-10 10-10 10-8 10-8 10-8 26-17 26-13 26-13 26-12 26-11 26-10 26-6 26-2 26-2 26 0 26 3 26 11 26 14 26 14 26 10 26 6 26 2 26 3 26 6 26 13 26 18 26 18 26 15 26 10 26 6 26 5 26 9 26 19 26 29 16 21 16 20 16 20 16 19 16 20 16 19 16 20 16 19 16 19 16 19 16 17 16 16 16 13 16 9 16 7 16 2 16-5 16-12 10-13 10-20 10-28 10-39 10-47 10-56 10-65 10-73 10-79 10-81 10-80 10-77 10-76 10-75 10-72 10-69 10-64 10-58 10-55 10-51 10-53 10-55 10-57 10-60 10-60 10-59 10-55 10-52 10-48 10-47 10-44 10-40 10-38 10-35 10-33 10-32 10-33 10-33 10-33 10-34 10-33 10-32 10-29 10-27 10-24 10-20 10-17 10-15 10-13 10-10 10-9 10-8 16-10 16-7 16-5 16-4 16-4 16-4 16-4 16-4 26-6 26-6 26-6 26-6 26-8 26-9 26-9 26-11 26-12 26-13 26-13 26-13 26-11 26-7 26-5 26 0 26 9 26 13 26 13 26 9 26 3 26 1 26-1 26-3 26-2 26-3 26-1 26-1 26 1 26 3 26 4 26 5 26 6 26 8 26 11 26 12 26 13 26 16 26 18 26 23 26 29 26 34 10 14 10 17 10 18 10 19 10 22 10 24 10 26 10 27 10 29 10 31 10 33 10 35 10 38 10 38 10 39 10 37 10 37 10 36 10 36 10 36 10 36 10 38 10 38 10 39 10 38 10 37 10 36 10 34 10 32 10 28 10 26 10 21 10 19 10 15 10 12 10 10 10 9 10 7 10 6 10 6 26 13 26 8 26 6 26 2 26 0 26-1 26-2 26-4 26-5 5-1"/>
<path stroke="#52B822" d="M704 3308l16 21 16 19 16 17 16 14 16 11 16 8 16 5 16 5 16 3 26 5 26 1 26-1 26-3 26-2 26-2 26-3 26-3 26-3 26-1 26-1 26-1 26 1 26 1 26 0 26-2 26-3 26-5 26-8 26-11 26-14 26-18 26-22 26-29 10-13 10-13 10-14 10-15 10-16 10-17 10-18 10-20 10-21 10-24 10-24 10-26 10-26 10-26 10-25 10-26 10-25 10-25 10-23 10-23 10-21 10-19 10-18 10-16 10-15 10-14 10-13 10-12 10-11 26-25 26-20 26-16 26-12 26-8 26-2 26 4 26 8 26 10 26 11 26 14 26 19 26 22 26 18 26 13 26 5 26 1 26 0 26 4 26 9 26 15 26 15 26 12 26 7 26 5 26 4 26 9 26 20 26 32 16 23 16 23 16 22 16 22 16 22 16 22 16 21 16 21 16 21 16 20 16 19 16 16 16 14 16 11 16 6 16 3 16-5 16-13 10-14 10-20 10-30 10-38 10-49 10-56 10-66 10-74 10-80 10-82 10-80 10-77 10-76 10-75 10-72 10-69 10-65 10-60 10-55 10-53 10-53 10-56 10-58 10-61 10-61 10-59 10-56 10-52 10-48 10-47 10-43 10-41 10-37 10-34 10-32 10-31 10-32 10-33 10-33 10-32 10-32 10-31 10-29 10-27 10-22 10-20 10-17 10-15 10-12 10-10 10-9 10-8 16-11 16-8 16-7 16-6 16-6 16-6 16-7 16-6 26-12 26-11 26-11 26-11 26-12 26-12 26-12 26-14 26-14 26-15 26-16 26-17 26-14 26-10 26-7 26-2 26 7 26 13 26 13 26 10 26 7 26 5 26 4 26 3 26 2 26 3 26 4 26 5 26 6 26 6 26 6 26 6 26 7 26 10 26 12 26 12 26 15 26 16 26 19 26 23 26 30 26 34 10 15 10 16 10 18 10 20 10 21 10 24 10 25 10 27 10 29 10 30 10 32 10 35 10 36 10 38 10 38 10 37 10 37 10 35 10 36 10 35 10 37 10 37 10 39 10 39 10 38 10 38 10 37 10 35 10 32 10 29 10 26 10 23 10 20 10 16 10 13 10 12 10 9 10 9 10 7 10 7 26 15 26 11 26 7 26 3 26 0 26-2 26-3 26-5 26-6 5-1"/>
<path stroke="#20BAF0" d="M704 3304l16 21 16 19 16 17 16 14 16 11 16 7 16 6 16 4 16 3 26 4 26 0 26-1 26-4 26-4 26-6 26-7 26-10 26-11 26-9 26-10 26-8 26-6 26-4 26-3 26-3 26-1 26-2 26-3 26-4 26-6 26-9 26-13 26-19 10-9 10-9 10-11 10-11 10-13 10-14 10-16 10-18 10-21 10-22 10-24 10-25 10-25 10-26 10-25 10-26 10-26 10-25 10-24 10-24 10-22 10-21 10-19 10-18 10-17 10-15 10-15 10-14 10-13 26-29 26-24 26-18 26-12 26-6 26 1 26 7 26 13 26 14 26 16 26 17 26 22 26 25 26 20 26 13 26 6 26 1 26 1 26 4 26 11 26 15 26 15 26 13 26 8 26 5 26 4 26 9 26 19 26 28 16 20 16 19 16 20 16 19 16 18 16 19 16 19 16 19 16 18 16 19 16 17 16 15 16 12 16 10 16 6 16 2 16-3 16-10 10-11 10-18 10-26 10-35 10-44 10-51 10-60 10-67 10-74 10-76 10-75 10-75 10-75 10-75 10-72 10-70 10-66 10-61 10-58 10-55 10-57 10-59 10-62 10-63 10-64 10-61 10-57 10-53 10-50 10-46 10-44 10-41 10-37 10-34 10-33 10-31 10-32 10-33 10-33 10-33 10-32 10-31 10-29 10-26 10-23 10-20 10-17 10-14 10-13 10-10 10-9 10-8 16-10 16-8 16-6 16-6 16-6 16-6 16-7 16-6 26-12 26-11 26-10 26-11 26-11 26-11 26-10 26-12 26-11 26-10 26-11 26-10 26-9 26-4 26-2 26 2 26 11 26 15 26 14 26 8 26 3 26-1 26-2 26-4 26-5 26-5 26-4 26-2 26 0 26 2 26 4 26 5 26 7 26 9 26 12 26 14 26 15 26 17 26 19 26 24 26 30 26 34 10 15 10 16 10 18 10 19 10 22 10 23 10 25 10 27 10 28 10 30 10 32 10 34 10 36 10 38 10 37 10 37 10 36 10 35 10 35 10 35 10 36 10 37 10 38 10 38 10 38 10 37 10 35 10 34 10 30 10 27 10 24 10 21 10 17 10 14 10 11 10 9 10 8 10 7 10 6 10 5 26 13 26 11 26 9 26 7 26 6 26 5 26 5 26 4 26 3 5 1"/>
<path stroke="#D41440" d="M704 3252l16 26 16 21 16 19 16 15 16 11 16 9 16 6 16 4 16 3 26 4 26 1 26-3 26-5 26-5 26-8 26-9 26-12 26-12 26-12 26-11 26-9 26-7 26-5 26-4 26-4 26-4 26-7 26-10 26-12 26-16 26-21 26-27 26-34 10-15 10-15 10-17 10-17 10-18 10-20 10-21 10-23 10-25 10-26 10-27 10-28 10-28 10-27 10-27 10-27 10-25 10-23 10-22 10-20 10-18 10-16 10-15 10-12 10-11 10-9 10-9 10-7 10-7 26-15 26-12 26-10 26-10 26-10 26-9 26-6 26-3 26-3 26-1 26 1 26 8 26 13 26 14 26 10 26 6 26 4 26 5 26 9 26 18 26 24 26 24 26 21 26 14 26 9 26 6 26 9 26 23 26 36 16 25 16 25 16 23 16 23 16 23 16 23 16 24 16 23 16 22 16 22 16 21 16 17 16 14 16 11 16 7 16 3 16-3 16-10 10-11 10-18 10-29 10-39 10-49 10-58 10-68 10-76 10-84 10-86 10-82 10-80 10-78 10-77 10-75 10-72 10-67 10-60 10-54 10-51 10-50 10-51 10-54 10-56 10-57 10-56 10-52 10-49 10-45 10-43 10-39 10-37 10-33 10-30 10-28 10-28 10-29 10-29 10-30 10-29 10-29 10-28 10-26 10-23 10-21 10-17 10-15 10-13 10-10 10-9 10-7 10-6 16-8 16-6 16-4 16-4 16-4 16-4 16-4 16-5 26-8 26-8 26-8 26-8 26-8 26-10 26-9 26-11 26-12 26-12 26-12 26-12 26-11 26-6 26-4 26 1 26 9 26 15 26 14 26 9 26 5 26 3 26 2 26 0 26-1 26 0 26 1 26 2 26 4 26 4 26 4 26 5 26 5 26 7 26 10 26 10 26 12 26 14 26 16 26 22 26 26 26 33 10 14 10 15 10 17 10 19 10 21 10 22 10 25 10 26 10 27 10 30 10 31 10 33 10 36 10 36 10 37 10 37 10 36 10 35 10 35 10 35 10 36 10 37 10 39 10 39 10 39 10 39 10 38 10 36 10 33 10 30 10 28 10 24 10 21 10 17 10 15 10 13 10 11 10 10 10 9 10 8 26 17 26 12 26 9 26 5 26 4 26 2 26 2 26 0 26-2 5 0"/>
<path stroke="#0A6CD6" d="M704 3260l16 23 16 19 16 17 16 13 16 10 16 7 16 4 16 2 16 2 26 1 26-1 26-4 26-6 26-6 26-7 26-8 26-11 26-10 26-9 26-9 26-7 26-5 26-3 26-3 26-3 26-5 26-7 26-10 26-12 26-16 26-22 26-27 26-34 10-15 10-16 10-16 10-18 10-19 10-20 10-21 10-24 10-25 10-27 10-28 10-28 10-29 10-29 10-29 10-29 10-27 10-26 10-24 10-22 10-20 10-19 10-16 10-15 10-13 10-12 10-10 10-10 10-9 26-18 26-13 26-10 26-7 26-4 26-2 26 4 26 8 26 8 26 8 26 11 26 15 26 20 26 17 26 12 26 5 26 2 26 2 26 6 26 14 26 19 26 21 26 16 26 10 26 5 26 3 26 7 26 21 26 34 16 24 16 24 16 22 16 22 16 22 16 22 16 23 16 22 16 23 16 21 16 20 16 16 16 14 16 10 16 7 16 1 16-4 16-11 10-13 10-20 10-31 10-43 10-53 10-62 10-73 10-83 10-91 10-93 10-89 10-84 10-82 10-80 10-78 10-75 10-69 10-61 10-54 10-49 10-48 10-48 10-50 10-53 10-54 10-54 10-50 10-47 10-44 10-40 10-38 10-35 10-31 10-28 10-27 10-26 10-27 10-29 10-28 10-28 10-28 10-26 10-25 10-22 10-19 10-17 10-14 10-13 10-10 10-9 10-7 10-6 16-9 16-6 16-5 16-6 16-5 16-6 16-6 16-7 26-12 26-11 26-11 26-10 26-10 26-10 26-11 26-10 26-10 26-10 26-9 26-9 26-7 26-3 26-1 26 4 26 12 26 16 26 15 26 9 26 2 26-1 26-4 26-6 26-8 26-8 26-6 26-4 26-2 26 1 26 4 26 5 26 5 26 8 26 11 26 11 26 13 26 14 26 16 26 21 26 27 26 33 10 14 10 17 10 19 10 22 10 25 10 26 10 30 10 32 10 34 10 35 10 38 10 40 10 43 10 43 10 44 10 43 10 42 10 41 10 40 10 39 10 40 10 39 10 40 10 39 10 39 10 37 10 37 10 34 10 31 10 29 10 25 10 21 10 19 10 15 10 12 10 11 10 8 10 8 10 7 10 6 26 14 26 11 26 9 26 7 26 5 26 4 26 3 26 3 26 1 5 1"/>
<path stroke="#FA5A12" d="M704 3223l16 25 16 22 16 17 16 13 16 11 16 7 16 3 16 2 16 2 26 1 26-2 26-6 26-6 26-8 26-9 26-11 26-14 26-15 26-13 26-12 26-12 26-7 26-6 26-5 26-4 26-7 26-9 26-11 26-15 26-20 26-27 26-33 26-40 10-18 10-19 10-19 10-21 10-22 10-23 10-25 10-27 10-28 10-30 10-32 10-31 10-32 10-33 10-32 10-31 10-30 10-28 10-25 10-23 10-22 10-19 10-17 10-15 10-13 10-12 10-10 10-9 10-9 26-17 26-13 26-10 26-8 26-7 26-7 26-2 26 0 26 0 26 1 26 4 26 9 26 14 26 14 26 11 26 6 26 6 26 8 26 15 26 25 26 31 26 33 26 27 26 18 26 11 26 5 26 7 26 22 26 38 16 26 16 24 16 23 16 23 16 22 16 23 16 24 16 23 16 23 16 23 16 20 16 17 16 14 16 10 16 6 16 1 16-4 16-12 10-13 10-22 10-34 10-47 10-60 10-71 10-81 10-94 10-103 10-103 10-96 10-88 10-84 10-83 10-82 10-78 10-70 10-61 10-51 10-45 10-42 10-41 10-43 10-45 10-48 10-47 10-45 10-41 10-38 10-35 10-31 10-27 10-25 10-21 10-20 10-21 10-21 10-23 10-23 10-23 10-22 10-21 10-20 10-18 10-15 10-14 10-11 10-10 10-8 10-6 10-6 10-5 16-7 16-6 16-5 16-5 16-5 16-5 16-6 16-7 26-11 26-11 26-10 26-10 26-10 26-9 26-10 26-11 26-11 26-10 26-11 26-10 26-8 26-5 26-2 26 3 26 12 26 16 26 15 26 10 26 6 26 2 26 1 26-2 26-3 26-3 26-1 26 0 26 2 26 4 26 4 26 4 26 4 26 6 26 8 26 8 26 10 26 11 26 13 26 18 26 24 26 31 10 15 10 16 10 19 10 21 10 24 10 27 10 29 10 31 10 33 10 35 10 38 10 39 10 42 10 43 10 43 10 43 10 41 10 41 10 40 10 39 10 39 10 40 10 40 10 39 10 39 10 38 10 36 10 34 10 31 10 27 10 24 10 20 10 17 10 14 10 12 10 9 10 8 10 7 10 6 10 5 26 13 26 12 26 8 26 6 26 4 26 3 26 2 26 1 26-1 5 0"/>
<path stroke="#FBB414" d="M704 3231l16 23 16 20 16 15 16 13 16 9 16 5 16 3 16 0 16 0 26 0 26-4 26-7 26-8 26-8 26-9 26-10 26-13 26-14 26-11 26-10 26-9 26-6 26-4 26-4 26-4 26-6 26-9 26-10 26-14 26-19 26-24 26-31 26-38 10-17 10-18 10-18 10-20 10-21 10-22 10-24 10-25 10-28 10-30 10-31 10-32 10-32 10-33 10-33 10-33 10-31 10-30 10-27 10-26 10-24 10-22 10-19 10-18 10-16 10-15 10-13 10-12 10-11 26-23 26-17 26-11 26-6 26-2 26 3 26 10 26 15 26 14 26 14 26 17 26 20 26 23 26 21 26 12 26 3 26-3 26-5 26-1 26 7 26 13 26 16 26 11 26 5 26 1 26-1 26 7 26 26 26 44 16 30 16 30 16 28 16 27 16 27 16 27 16 28 16 28 16 27 16 26 16 23 16 20 16 16 16 12 16 7 16 2 16-3 16-11 10-13 10-22 10-33 10-47 10-59 10-71 10-81 10-95 10-104 10-106 10-100 10-95 10-91 10-90 10-90 10-87 10-80 10-69 10-60 10-53 10-49 10-47 10-48 10-51 10-52 10-53 10-49 10-46 10-41 10-38 10-35 10-30 10-27 10-24 10-23 10-23 10-25 10-25 10-26 10-25 10-24 10-22 10-21 10-18 10-17 10-14 10-13 10-11 10-9 10-8 10-6 10-5 16-6 16-4 16-3 16-2 16-3 16-3 16-3 16-4 26-6 26-6 26-5 26-5 26-5 26-5 26-7 26-9 26-10 26-10 26-10 26-11 26-8 26-5 26-2 26 3 26 12 26 17 26 15 26 12 26 6 26 2 26-1 26-4 26-6 26-5 26-3 26-2 26 0 26 3 26 4 26 6 26 8 26 11 26 15 26 15 26 16 26 18 26 18 26 22 26 28 26 32 10 14 10 15 10 16 10 17 10 18 10 20 10 21 10 23 10 24 10 26 10 26 10 28 10 30 10 32 10 32 10 33 10 33 10 33 10 33 10 33 10 34 10 36 10 37 10 40 10 41 10 41 10 40 10 36 10 32 10 28 10 23 10 21 10 18 10 16 10 14 10 11 10 10 10 9 10 7 10 6 26 15 26 11 26 9 26 7 26 5 26 4 26 3 26 2 26 2 5 1"/>
<path stroke="#A02CBC" d="M704 3314l16 23 16 21 16 19 16 16 16 13 16 10 16 8 16 6 16 6 26 7 26 4 26 1 26-1 26-2 26-4 26-5 26-7 26-7 26-7 26-7 26-6 26-5 26-4 26-4 26-3 26-5 26-6 26-8 26-11 26-13 26-16 26-22 26-26 10-12 10-12 10-13 10-14 10-14 10-16 10-17 10-18 10-20 10-21 10-23 10-22 10-22 10-22 10-21 10-21 10-20 10-18 10-18 10-16 10-15 10-14 10-11 10-10 10-8 10-8 10-6 10-7 10-5 26-14 26-11 26-11 26-11 26-14 26-12 26-10 26-7 26-6 26-5 26-1 26 7 26 11 26 12 26 9 26 6 26 3 26 3 26 7 26 12 26 17 26 18 26 14 26 10 26 7 26 5 26 9 26 16 26 25 16 17 16 17 16 17 16 17 16 17 16 17 16 18 16 17 16 17 16 17 16 16 16 14 16 12 16 9 16 6 16 2 16-2 16-7 10-8 10-14 10-21 10-29 10-37 10-44 10-51 10-57 10-62 10-64 10-65 10-67 10-68 10-67 10-64 10-62 10-59 10-56 10-54 10-53 10-55 10-58 10-62 10-64 10-63 10-61 10-56 10-52 10-48 10-46 10-43 10-39 10-36 10-32 10-31 10-29 10-29 10-29 10-30 10-31 10-30 10-29 10-28 10-25 10-21 10-17 10-15 10-12 10-10 10-8 10-8 10-6 16-9 16-8 16-8 16-7 16-7 16-6 16-7 16-7 26-13 26-13 26-13 26-13 26-14 26-14 26-13 26-13 26-13 26-12 26-13 26-13 26-11 26-7 26-5 26 0 26 8 26 13 26 13 26 7 26 1 26-1 26-2 26-3 26-2 26-3 26-2 26 0 26 1 26 2 26 5 26 5 26 7 26 11 26 12 26 15 26 16 26 20 26 23 26 28 26 33 26 37 10 16 10 16 10 19 10 19 10 22 10 24 10 25 10 27 10 28 10 30 10 32 10 35 10 37 10 39 10 37 10 36 10 35 10 34 10 34 10 34 10 36 10 37 10 37 10 38 10 37 10 36 10 36 10 36 10 34 10 33 10 30 10 27 10 23 10 20 10 16 10 14 10 12 10 11 10 10 10 9 26 18 26 10 26 5 26-1 26-4 26-7 26-9 26-13 26-16 5-3"/>
<path stroke="#52B822" d="M704 3301l16 23 16 21 16 18 16 15 16 12 16 8 16 7 16 5 16 4 26 5 26 2 26-1 26-3 26-4 26-6 26-8 26-11 26-12 26-12 26-11 26-10 26-8 26-5 26-4 26-3 26-3 26-4 26-6 26-8 26-11 26-14 26-20 26-26 10-11 10-12 10-13 10-14 10-15 10-16 10-18 10-20 10-22 10-23 10-26 10-26 10-27 10-27 10-27 10-27 10-27 10-26 10-25 10-24 10-23 10-21 10-19 10-18 10-17 10-15 10-15 10-13 10-13 26-29 26-22 26-17 26-11 26-5 26 1 26 8 26 13 26 15 26 17 26 18 26 23 26 25 26 21 26 14 26 7 26 5 26 4 26 8 26 15 26 19 26 19 26 16 26 11 26 7 26 5 26 9 26 17 26 26 16 18 16 17 16 18 16 16 16 17 16 17 16 18 16 17 16 18 16 17 16 16 16 14 16 12 16 9 16 5 16 2 16-1 16-6 10-8 10-13 10-21 10-30 10-37 10-45 10-52 10-59 10-64 10-67 10-69 10-71 10-72 10-71 10-70 10-67 10-63 10-60 10-56 10-56 10-56 10-60 10-62 10-64 10-63 10-62 10-57 10-52 10-49 10-46 10-42 10-39 10-34 10-31 10-28 10-28 10-27 10-28 10-27 10-28 10-28 10-27 10-25 10-22 10-19 10-16 10-12 10-11 10-9 10-7 10-6 10-6 16-8 16-7 16-8 16-6 16-6 16-7 16-6 16-7 26-12 26-12 26-12 26-12 26-14 26-13 26-13 26-13 26-13 26-14 26-14 26-14 26-12 26-8 26-5 26 0 26 7 26 13 26 13 26 8 26 2 26 1 26 0 26-1 26-1 26-1 26 0 26 1 26 2 26 4 26 4 26 4 26 4 26 6 26 7 26 9 26 10 26 12 26 17 26 22 26 28 26 34 10 15 10 17 10 19 10 21 10 24 10 26 10 28 10 30 10 32 10 34 10 36 10 39 10 42 10 43 10 42 10 41 10 40 10 39 10 38 10 38 10 40 10 40 10 41 10 39 10 39 10 38 10 36 10 35 10 35 10 32 10 29 10 25 10 22 10 18 10 14 10 12 10 11 10 9 10 9 10 7 26 16 26 10 26 6 26 0 26-3 26-5 26-8 26-10 26-12 5-3"/>
<path stroke="#20BAF0" d="M704 3277l16 22 16 19 16 16 16 13 16 9 16 7 16 4 16 2 16 2 26 1 26-2 26-5 26-6 26-7 26-8 26-10 26-12 26-12 26-11 26-10 26-9 26-6 26-4 26-4 26-3 26-5 26-6 26-7 26-11 26-14 26-19 26-24 26-31 10-13 10-14 10-16 10-16 10-17 10-19 10-20 10-22 10-24 10-26 10-27 10-28 10-28 10-28 10-29 10-28 10-27 10-26 10-24 10-23 10-21 10-20 10-17 10-16 10-14 10-13 10-12 10-11 10-10 26-23 26-16 26-14 26-9 26-7 26-4 26 2 26 5 26 6 26 6 26 9 26 15 26 20 26 17 26 13 26 5 26 3 26 2 26 7 26 16 26 23 26 22 26 19 26 11 26 6 26 3 26 8 26 21 26 36 16 25 16 24 16 23 16 22 16 22 16 22 16 22 16 22 16 22 16 21 16 19 16 17 16 13 16 10 16 6 16 1 16-6 16-15 10-15 10-25 10-35 10-48 10-60 10-71 10-83 10-95 10-105 10-108 10-103 10-97 10-95 10-95 10-94 10-92 10-85 10-77 10-67 10-60 10-57 10-55 10-55 10-57 10-58 10-59 10-55 10-50 10-46 10-42 10-39 10-34 10-32 10-28 10-26 10-27 10-29 10-29 10-29 10-29 10-27 10-25 10-23 10-21 10-19 10-17 10-15 10-13 10-11 10-9 10-8 10-7 16-8 16-4 16-3 16-2 16-3 16-3 16-3 16-4 26-6 26-5 26-4 26-3 26-3 26-4 26-6 26-8 26-8 26-8 26-7 26-7 26-5 26-2 26 1 26 6 26 14 26 18 26 17 26 11 26 6 26 1 26-2 26-6 26-8 26-8 26-6 26-4 26-1 26 2 26 3 26 5 26 7 26 12 26 13 26 14 26 16 26 16 26 16 26 20 26 26 26 31 10 14 10 15 10 17 10 18 10 20 10 22 10 23 10 26 10 27 10 29 10 30 10 31 10 34 10 35 10 36 10 37 10 36 10 37 10 36 10 36 10 37 10 38 10 39 10 41 10 43 10 43 10 41 10 37 10 33 10 28 10 24 10 21 10 19 10 16 10 15 10 12 10 10 10 9 10 8 10 7 26 15 26 13 26 11 26 9 26 8 26 7 26 7 26 5 26 5 5 1"/>
<path stroke="#D41440" d="M704 3267l16 24 16 20 16 17 16 14 16 11 16 8 16 5 16 4 16 3 26 3 26 0 26-2 26-4 26-5 26-5 26-7 26-8 26-9 26-7 26-7 26-6 26-4 26-2 26-3 26-3 26-4 26-7 26-10 26-14 26-17 26-21 26-28 26-34 10-15 10-16 10-16 10-17 10-18 10-20 10-20 10-23 10-24 10-25 10-27 10-27 10-27 10-27 10-26 10-26 10-25 10-24 10-21 10-20 10-19 10-16 10-15 10-13 10-11 10-10 10-9 10-8 10-8 26-16 26-13 26-11 26-10 26-11 26-10 26-5 26-3 26-2 26-1 26 2 26 9 26 14 26 14 26 10 26 6 26 3 26 3 26 8 26 17 26 23 26 24 26 19 26 14 26 7 26 6 26 10 26 24 26 37 16 25 16 26 16 24 16 23 16 23 16 23 16 24 16 22 16 23 16 21 16 20 16 17 16 15 16 10 16 7 16 2 16-6 16-15 10-16 10-24 10-35 10-47 10-58 10-68 10-79 10-90 10-98 10-100 10-94 10-87 10-85 10-84 10-82 10-79 10-74 10-65 10-58 10-53 10-51 10-51 10-53 10-54 10-57 10-55 10-52 10-49 10-44 10-42 10-39 10-37 10-34 10-32 10-31 10-32 10-32 10-34 10-35 10-33 10-33 10-32 10-29 10-27 10-23 10-22 10-19 10-16 10-15 10-12 10-10 10-9 16-9 16-6 16-3 16-3 16-2 16-3 16-3 16-3 26-4 26-4 26-3 26-3 26-3 26-5 26-7 26-9 26-11 26-10 26-11 26-11 26-8 26-6 26-3 26 2 26 10 26 15 26 14 26 9 26 4 26 1 26-3 26-5 26-7 26-7 26-5 26-3 26 0 26 2 26 4 26 4 26 5 26 9 26 11 26 12 26 13 26 14 26 15 26 20 26 26 26 33 10 15 10 17 10 18 10 21 10 22 10 25 10 27 10 29 10 31 10 32 10 34 10 36 10 38 10 40 10 40 10 40 10 40 10 39 10 38 10 38 10 38 10 39 10 39 10 41 10 40 10 41 10 39 10 35 10 32 10 28 10 24 10 21 10 19 10 15 10 13 10 11 10 10 10 8 10 7 10 6 26 15 26 12 26 9 26 7 26 6 26 5 26 4 26 3 26 2 5 1"/>
<path stroke="#0A6CD6" d="M704 3363l16 18 16 17 16 15 16 13 16 9 16 7 16 5 16 5 16 3 26 4 26 1 26-1 26-1 26-2 26-3 26-3 26-5 26-4 26-5 26-4 26-3 26-2 26-2 26-1 26-1 26-1 26-2 26-4 26-6 26-8 26-10 26-14 26-19 10-8 10-9 10-10 10-10 10-12 10-12 10-13 10-16 10-17 10-18 10-19 10-20 10-20 10-19 10-19 10-18 10-19 10-17 10-17 10-16 10-16 10-13 10-12 10-11 10-10 10-8 10-8 10-8 10-7 26-18 26-14 26-14 26-14 26-14 26-13 26-9 26-7 26-6 26-3 26 0 26 8 26 13 26 12 26 11 26 7 26 6 26 6 26 10 26 17 26 21 26 20 26 17 26 13 26 9 26 7 26 10 26 14 26 19 16 13 16 14 16 13 16 14 16 12 16 13 16 13 16 13 16 13 16 13 16 13 16 11 16 10 16 6 16 4 16 1 16-5 16-9 10-10 10-16 10-22 10-30 10-37 10-44 10-50 10-57 10-61 10-65 10-66 10-69 10-71 10-69 10-68 10-64 10-62 10-60 10-57 10-58 10-60 10-64 10-66 10-69 10-68 10-65 10-60 10-56 10-53 10-50 10-48 10-44 10-42 10-38 10-36 10-35 10-35 10-35 10-36 10-36 10-35 10-35 10-32 10-29 10-25 10-22 10-18 10-16 10-13 10-12 10-9 10-9 16-11 16-8 16-8 16-7 16-6 16-6 16-7 16-6 26-12 26-11 26-11 26-12 26-12 26-13 26-12 26-13 26-12 26-13 26-13 26-13 26-10 26-7 26-5 26 1 26 8 26 13 26 13 26 8 26 3 26 0 26 0 26-2 26-2 26-1 26-1 26 0 26 1 26 3 26 4 26 5 26 6 26 9 26 11 26 13 26 14 26 17 26 20 26 25 26 30 26 35 10 15 10 16 10 18 10 19 10 21 10 23 10 25 10 26 10 28 10 29 10 31 10 34 10 36 10 38 10 36 10 37 10 35 10 34 10 34 10 35 10 35 10 37 10 38 10 39 10 38 10 37 10 36 10 35 10 33 10 31 10 27 10 24 10 21 10 17 10 15 10 12 10 11 10 10 10 9 10 8 26 19 26 14 26 11 26 8 26 5 26 5 26 3 26 2 26 0 5 0"/>
<path stroke="#FA5A12" d="M704 3250l16 23 16 19 16 16 16 13 16 10 16 6 16 4 16 2 16 1 26 2 26-2 26-5 26-6 26-6 26-6 26-7 26-9 26-9 26-7 26-6 26-5 26-2 26-2 26-2 26-3 26-6 26-9 26-11 26-16 26-20 26-25 26-31 26-39 10-17 10-17 10-18 10-20 10-20 10-21 10-23 10-24 10-27 10-27 10-28 10-29 10-29 10-29 10-29 10-28 10-27 10-25 10-23 10-20 10-20 10-17 10-15 10-13 10-11 10-10 10-9 10-9 10-7 26-15 26-12 26-10 26-10 26-9 26-8 26-4 26-1 26-1 26 0 26 4 26 9 26 15 26 15 26 10 26 8 26 7 26 11 26 18 26 27 26 35 26 34 26 29 26 20 26 12 26 7 26 8 26 21 26 33 16 24 16 22 16 21 16 21 16 20 16 20 16 20 16 20 16 20 16 19 16 18 16 15 16 11 16 8 16 4 16-1 16-8 16-17 10-17 10-26 10-37 10-51 10-63 10-74 10-85 10-98 10-107 10-109 10-102 10-94 10-90 10-89 10-89 10-85 10-78 10-69 10-60 10-53 10-49 10-49 10-49 10-52 10-53 10-54 10-51 10-47 10-43 10-40 10-36 10-34 10-31 10-28 10-26 10-27 10-29 10-30 10-30 10-29 10-28 10-27 10-25 10-22 10-20 10-18 10-16 10-14 10-12 10-10 10-8 10-8 16-8 16-5 16-3 16-2 16-1 16-3 16-2 16-2 26-4 26-2 26-2 26-2 26-2 26-3 26-6 26-9 26-12 26-12 26-14 26-15 26-13 26-9 26-7 26 0 26 9 26 14 26 16 26 11 26 7 26 4 26 1 26-3 26-5 26-4 26-2 26 0 26 2 26 4 26 4 26 6 26 6 26 9 26 11 26 12 26 12 26 13 26 14 26 17 26 24 26 30 10 14 10 15 10 17 10 17 10 20 10 21 10 23 10 25 10 26 10 28 10 29 10 31 10 32 10 34 10 36 10 36 10 36 10 35 10 36 10 36 10 36 10 38 10 39 10 41 10 43 10 42 10 42 10 37 10 33 10 28 10 25 10 21 10 20 10 16 10 15 10 12 10 11 10 9 10 8 10 7 26 16 26 12 26 10 26 6 26 4 26 2 26 1 26 0 26-1 5-1"/>
<path stroke="#FBB414" d="M704 3364l16 18 16 16 16 16 16 13 16 10 16 8 16 5 16 5 16 5 26 5 26 1 26 1 26-1 26-1 26-1 26 0 26-1 26 0 26 0 26 1 26 1 26 2 26 1 26 1 26 0 26 0 26-2 26-3 26-6 26-7 26-8 26-12 26-17 10-7 10-8 10-9 10-9 10-10 10-11 10-12 10-13 10-15 10-17 10-18 10-18 10-18 10-17 10-17 10-17 10-16 10-16 10-16 10-15 10-15 10-13 10-11 10-10 10-9 10-8 10-8 10-8 10-7 26-17 26-15 26-14 26-14 26-15 26-13 26-10 26-7 26-5 26-3 26 0 26 9 26 13 26 13 26 10 26 6 26 3 26 3 26 4 26 9 26 13 26 12 26 10 26 8 26 6 26 7 26 10 26 15 26 20 16 14 16 15 16 15 16 15 16 15 16 15 16 14 16 15 16 15 16 14 16 14 16 13 16 12 16 8 16 6 16 2 16-1 16-5 10-7 10-12 10-16 10-22 10-27 10-32 10-38 10-41 10-44 10-48 10-52 10-60 10-63 10-63 10-62 10-59 10-60 10-60 10-61 10-64 10-68 10-73 10-76 10-78 10-75 10-71 10-65 10-60 10-56 10-52 10-50 10-46 10-42 10-39 10-36 10-35 10-33 10-34 10-34 10-35 10-34 10-33 10-32 10-28 10-24 10-20 10-16 10-14 10-11 10-10 10-8 10-7 16-10 16-9 16-8 16-8 16-8 16-8 16-8 16-8 26-15 26-15 26-16 26-15 26-17 26-16 26-15 26-13 26-12 26-12 26-12 26-12 26-10 26-6 26-3 26 1 26 8 26 13 26 13 26 6 26 1 26 0 26-1 26 0 26 0 26 0 26 1 26 1 26 3 26 3 26 4 26 5 26 6 26 8 26 10 26 12 26 14 26 17 26 22 26 27 26 33 26 37 10 15 10 17 10 19 10 21 10 24 10 25 10 27 10 29 10 31 10 32 10 34 10 38 10 41 10 41 10 40 10 38 10 37 10 35 10 35 10 35 10 37 10 38 10 37 10 37 10 35 10 33 10 33 10 32 10 31 10 30 10 27 10 23 10 20 10 15 10 12 10 10 10 9 10 7 10 7 10 7 26 14 26 9 26 7 26 3 26 0 26 0 26-1 26-4 26-5 5-1"/>
<path stroke="#FA5A12" d="M704 3233l16 24 16 21 16 16 16 13 16 10 16 6 16 4 16 2 16 1 26 0 26-2 26-5 26-7 26-7 26-8 26-9 26-12 26-12 26-10 26-9 26-8 26-5 26-4 26-3 26-5 26-5 26-8 26-11 26-14 26-19 26-24 26-31 26-38 10-17 10-17 10-19 10-19 10-21 10-22 10-23 10-26 10-27 10-30 10-30 10-32 10-32 10-32 10-33 10-32 10-31 10-30 10-27 10-26 10-23 10-22 10-20 10-18 10-17 10-14 10-14 10-12 10-11 26-25 26-18 26-13 26-7 26-1 26 0 26 3 26 6 26 8 26 10 26 12 26 14 26 15 26 12 26 10 26 8 26 7 26 8 26 10 26 14 26 16 26 18 26 16 26 14 26 11 26 9 26 11 26 23 26 37 16 25 16 25 16 25 16 26 16 27 16 28 16 29 16 28 16 27 16 25 16 21 16 18 16 14 16 10 16 7 16 2 16-5 16-14 10-15 10-24 10-36 10-50 10-63 10-74 10-86 10-99 10-108 10-110 10-103 10-96 10-91 10-91 10-91 10-86 10-80 10-69 10-59 10-52 10-49 10-48 10-50 10-52 10-55 10-55 10-54 10-49 10-46 10-42 10-38 10-35 10-31 10-28 10-26 10-26 10-28 10-28 10-28 10-27 10-25 10-22 10-21 10-19 10-17 10-15 10-13 10-12 10-10 10-9 10-7 10-6 16-8 16-5 16-4 16-4 16-4 16-5 16-5 16-5 26-8 26-10 26-11 26-11 26-9 26-8 26-9 26-10 26-10 26-9 26-9 26-8 26-6 26-1 26 0 26 5 26 12 26 14 26 12 26 9 26 5 26 2 26 1 26 0 26-2 26-2 26-1 26 1 26 3 26 8 26 11 26 10 26 8 26 11 26 12 26 13 26 13 26 13 26 14 26 17 26 24 26 31 10 14 10 16 10 17 10 19 10 20 10 22 10 25 10 26 10 28 10 29 10 31 10 32 10 34 10 36 10 37 10 37 10 38 10 38 10 37 10 37 10 37 10 39 10 40 10 42 10 43 10 44 10 41 10 38 10 33 10 29 10 25 10 22 10 19 10 17 10 14 10 13 10 11 10 9 10 8 10 8 26 16 26 13 26 10 26 8 26 6 26 5 26 4 26 4 26 2 5 0"/>
<path stroke="#20BAF0" d="M704 3256l16 24 16 21 16 17 16 14 16 10 16 8 16 4 16 4 16 2 26 3 26-1 26-3 26-5 26-5 26-6 26-8 26-10 26-9 26-9 26-7 26-7 26-5 26-2 26-4 26-4 26-5 26-8 26-11 26-15 26-18 26-24 26-30 26-38 10-16 10-17 10-19 10-19 10-21 10-21 10-24 10-25 10-28 10-29 10-31 10-31 10-32 10-33 10-32 10-33 10-31 10-30 10-28 10-27 10-25 10-23 10-21 10-20 10-18 10-16 10-16 10-14 10-13 26-31 26-24 26-20 26-14 26-9 26-8 26-6 26-3 26 0 26 3 26 5 26 8 26 8 26 6 26 2 26-5 26-11 26-15 26-3 26 5 26 11 26 15 26 14 26 7 26 1 26-7 26-3 26 17 26 33 16 27 16 26 16 26 16 28 16 29 16 31 16 32 16 32 16 33 16 34 16 32 16 33 16 48 16 32 16 19 16 9 16-3 16-13 10-15 10-23 10-37 10-51 10-64 10-76 10-88 10-101 10-112 10-112 10-103 10-95 10-90 10-90 10-88 10-85 10-78 10-67 10-55 10-48 10-43 10-42 10-42 10-45 10-47 10-48 10-46 10-42 10-38 10-34 10-31 10-28 10-24 10-21 10-19 10-21 10-21 10-23 10-23 10-22 10-21 10-19 10-17 10-15 10-12 10-10 10-9 10-6 10-4 10-3 10-1 10 0 16 2 16 5 16 5 16 6 16 6 16 5 16 4 16 4 26 5 26 3 26 1 26-1 26-6 26-9 26-10 26-12 26-11 26-10 26-9 26-9 26-6 26-3 26-2 26 3 26 10 26 15 26 13 26 8 26 4 26 2 26 1 26-1 26-3 26-2 26-2 26-2 26 0 26 2 26 3 26 3 26 6 26 8 26 12 26 12 26 13 26 15 26 16 26 21 26 26 26 32 10 15 10 15 10 18 10 19 10 21 10 22 10 25 10 26 10 28 10 30 10 31 10 34 10 35 10 37 10 37 10 37 10 36 10 36 10 36 10 35 10 37 10 38 10 38 10 40 10 40 10 39 10 38 10 36 10 32 10 29 10 25 10 22 10 19 10 17 10 13 10 12 10 9 10 9 10 7 10 7 26 15 26 12 26 9 26 6 26 4 26 3 26 2 26 1 26 0 5 0"/>
<path stroke="#A02CBC" d="M704 3310l16 20 16 17 16 16 16 13 16 9 16 7 16 4 16 3 16 3 26 2 26 0 26-3 26-3 26-4 26-4 26-5 26-5 26-6 26-5 26-4 26-2 26-2 26-1 26 0 26-2 26-2 26-4 26-5 26-9 26-11 26-14 26-19 26-25 10-10 10-12 10-12 10-13 10-15 10-15 10-16 10-19 10-20 10-22 10-23 10-23 10-24 10-24 10-24 10-23 10-23 10-22 10-21 10-20 10-19 10-17 10-15 10-14 10-13 10-11 10-11 10-10 10-10 26-21 26-18 26-14 26-12 26-13 26-11 26-8 26-6 26-5 26-3 26 0 26 8 26 12 26 12 26 10 26 7 26 4 26 5 26 9 26 15 26 21 26 20 26 18 26 12 26 8 26 6 26 9 26 18 26 28 16 20 16 20 16 19 16 18 16 19 16 19 16 19 16 19 16 19 16 18 16 17 16 15 16 13 16 9 16 6 16 2 16-2 16-8 10-9 10-16 10-23 10-33 10-42 10-48 10-57 10-65 10-71 10-73 10-74 10-75 10-76 10-75 10-73 10-70 10-67 10-62 10-58 10-56 10-57 10-59 10-62 10-63 10-64 10-61 10-58 10-53 10-49 10-46 10-43 10-38 10-34 10-31 10-28 10-27 10-27 10-27 10-27 10-27 10-26 10-26 10-24 10-21 10-17 10-15 10-12 10-9 10-7 10-6 10-5 10-4 16-6 16-5 16-4 16-4 16-3 16-3 16-4 16-4 26-8 26-8 26-8 26-10 26-10 26-12 26-11 26-12 26-14 26-15 26-16 26-17 26-15 26-11 26-9 26-3 26 6 26 11 26 13 26 8 26 2 26 1 26 0 26-1 26-2 26-1 26-1 26 1 26 2 26 3 26 4 26 5 26 6 26 8 26 11 26 12 26 13 26 16 26 20 26 25 26 30 26 35 10 15 10 17 10 19 10 21 10 23 10 25 10 28 10 29 10 32 10 33 10 35 10 38 10 40 10 42 10 41 10 39 10 39 10 37 10 36 10 37 10 37 10 39 10 38 10 38 10 36 10 34 10 33 10 31 10 28 10 27 10 22 10 20 10 15 10 12 10 9 10 7 10 5 10 5 10 4 10 4 26 11 26 10 26 8 26 6 26 4 26 4 26 3 26 3 26 4 5 0"/>
<path stroke="#52B822" d="M704 3361l16 20 16 18 16 17 16 15 16 12 16 9 16 7 16 7 16 5 26 7 26 4 26 2 26 0 26 0 26-1 26-2 26-3 26-3 26-2 26-3 26-2 26-1 26-1 26 0 26 0 26-1 26-2 26-4 26-6 26-8 26-9 26-13 26-18 10-8 10-8 10-9 10-9 10-11 10-11 10-12 10-14 10-16 10-17 10-18 10-18 10-19 10-18 10-18 10-17 10-17 10-17 10-17 10-16 10-15 10-13 10-12 10-11 10-10 10-9 10-8 10-8 10-8 26-19 26-16 26-14 26-15 26-16 26-14 26-12 26-10 26-7 26-6 26-2 26 6 26 12 26 12 26 10 26 7 26 4 26 4 26 7 26 13 26 17 26 17 26 14 26 11 26 8 26 8 26 12 26 17 26 23 16 16 16 16 16 16 16 17 16 16 16 15 16 16 16 15 16 15 16 15 16 15 16 13 16 12 16 9 16 6 16 2 16-3 16-9 10-10 10-16 10-22 10-28 10-36 10-42 10-49 10-56 10-60 10-64 10-68 10-72 10-75 10-74 10-73 10-70 10-68 10-67 10-65 10-66 10-67 10-71 10-73 10-75 10-73 10-70 10-65 10-60 10-56 10-53 10-50 10-46 10-43 10-40 10-37 10-36 10-36 10-36 10-36 10-36 10-36 10-34 10-32 10-29 10-25 10-21 10-19 10-15 10-13 10-12 10-9 10-8 16-11 16-8 16-7 16-7 16-6 16-6 16-6 16-6 26-11 26-11 26-11 26-11 26-11 26-11 26-12 26-11 26-12 26-11 26-12 26-12 26-9 26-5 26-3 26 1 26 10 26 14 26 14 26 9 26 3 26 2 26 1 26 0 26-1 26 0 26 1 26 1 26 3 26 5 26 5 26 6 26 8 26 10 26 13 26 14 26 15 26 18 26 21 26 25 26 31 26 36 10 15 10 16 10 17 10 18 10 21 10 21 10 23 10 25 10 26 10 28 10 29 10 32 10 34 10 35 10 35 10 34 10 33 10 33 10 32 10 33 10 35 10 36 10 37 10 38 10 38 10 36 10 36 10 34 10 32 10 29 10 25 10 22 10 19 10 16 10 13 10 11 10 9 10 8 10 7 10 6 26 15 26 11 26 9 26 5 26 4 26 3 26 2 26 1 26 0 5 0"/>
<path stroke="#20BAF0" d="M704 3252l16 24 16 21 16 17 16 14 16 11 16 8 16 5 16 3 16 3 26 3 26 0 26-4 26-5 26-5 26-7 26-8 26-9 26-10 26-9 26-8 26-6 26-5 26-3 26-3 26-3 26-3 26-6 26-7 26-9 26-13 26-17 26-23 26-29 10-13 10-13 10-15 10-15 10-16 10-18 10-20 10-21 10-23 10-25 10-26 10-27 10-27 10-28 10-27 10-27 10-26 10-25 10-24 10-22 10-20 10-19 10-17 10-16 10-13 10-13 10-12 10-10 10-10 26-23 26-17 26-14 26-10 26-9 26-8 26-3 26 0 26 1 26 1 26 5 26 10 26 15 26 14 26 10 26 4 26 2 26 2 26 6 26 14 26 19 26 21 26 17 26 11 26 6 26 4 26 8 26 23 26 36 16 26 16 25 16 24 16 24 16 24 16 24 16 25 16 24 16 23 16 23 16 21 16 18 16 14 16 12 16 7 16 3 16-4 16-10 10-12 10-20 10-30 10-41 10-51 10-61 10-70 10-80 10-88 10-89 10-86 10-83 10-80 10-79 10-77 10-74 10-68 10-61 10-54 10-50 10-49 10-50 10-52 10-54 10-55 10-54 10-51 10-46 10-43 10-41 10-37 10-34 10-30 10-27 10-26 10-25 10-26 10-27 10-26 10-27 10-27 10-25 10-24 10-21 10-18 10-15 10-13 10-11 10-8 10-7 10-6 10-5 16-5 16-5 16-3 16-3 16-3 16-3 16-4 16-4 26-7 26-8 26-7 26-8 26-8 26-9 26-8 26-9 26-10 26-9 26-9 26-10 26-7 26-5 26-1 26 2 26 11 26 15 26 14 26 8 26 2 26-2 26-5 26-6 26-7 26-6 26-6 26-4 26-1 26 2 26 4 26 5 26 6 26 10 26 12 26 13 26 14 26 17 26 20 26 25 26 30 26 34 10 15 10 16 10 18 10 19 10 20 10 23 10 24 10 26 10 28 10 29 10 30 10 34 10 35 10 36 10 36 10 36 10 34 10 34 10 34 10 34 10 35 10 36 10 37 10 38 10 37 10 36 10 36 10 33 10 31 10 27 10 24 10 21 10 18 10 15 10 12 10 9 10 9 10 7 10 7 10 6 26 13 26 11 26 9 26 5 26 4 26 2 26 2 26 0 26-1 5-1"/>
<path stroke="#D41440" d="M704 3228l16 24 16 21 16 16 16 13 16 10 16 7 16 3 16 2 16 1 26 1 26-2 26-6 26-6 26-6 26-6 26-7 26-9 26-8 26-5 26-5 26-4 26-2 26-1 26-2 26-3 26-7 26-10 26-13 26-18 26-23 26-29 26-35 26-43 10-18 10-19 10-20 10-21 10-22 10-23 10-24 10-26 10-28 10-29 10-30 10-31 10-31 10-31 10-32 10-30 10-29 10-27 10-26 10-23 10-21 10-19 10-17 10-15 10-14 10-12 10-11 10-9 10-9 26-19 26-13 26-12 26-8 26-8 26-7 26-2 26-1 26 1 26 0 26 4 26 9 26 15 26 14 26 10 26 6 26 3 26 5 26 10 26 18 26 26 26 26 26 23 26 14 26 9 26 5 26 10 26 26 26 42 16 28 16 28 16 27 16 26 16 26 16 26 16 27 16 26 16 26 16 25 16 22 16 19 16 16 16 12 16 7 16 3 16-4 16-11 10-13 10-22 10-33 10-45 10-57 10-68 10-78 10-89 10-98 10-98 10-93 10-86 10-81 10-80 10-78 10-74 10-67 10-57 10-49 10-44 10-41 10-42 10-43 10-46 10-48 10-48 10-46 10-42 10-39 10-36 10-34 10-30 10-27 10-24 10-22 10-23 10-24 10-24 10-25 10-25 10-24 10-24 10-22 10-20 10-17 10-15 10-12 10-10 10-9 10-8 10-6 10-5 16-8 16-6 16-6 16-5 16-5 16-5 16-5 16-6 26-10 26-10 26-9 26-9 26-10 26-9 26-10 26-11 26-10 26-10 26-10 26-10 26-8 26-4 26-1 26 3 26 12 26 16 26 14 26 10 26 3 26 1 26-2 26-4 26-4 26-4 26-3 26-2 26 1 26 3 26 4 26 6 26 7 26 10 26 13 26 15 26 15 26 18 26 21 26 24 26 30 26 35 10 14 10 16 10 17 10 18 10 20 10 21 10 23 10 25 10 26 10 27 10 30 10 31 10 33 10 35 10 35 10 34 10 34 10 34 10 33 10 34 10 35 10 37 10 38 10 39 10 40 10 40 10 38 10 37 10 34 10 31 10 28 10 25 10 21 10 19 10 15 10 14 10 12 10 10 10 9 10 9 26 17 26 12 26 7 26 3 26 0 26-2 26-3 26-6 26-8 5-2"/>
<path stroke="#0A6CD6" d="M704 3279l16 22 16 18 16 16 16 12 16 9 16 7 16 3 16 3 16 1 26 2 26-1 26-5 26-5 26-4 26-5 26-6 26-7 26-7 26-5 26-5 26-3 26-2 26-1 26-1 26-3 26-4 26-5 26-9 26-10 26-15 26-18 26-24 26-31 10-13 10-14 10-15 10-16 10-17 10-18 10-20 10-22 10-24 10-25 10-27 10-29 10-28 10-30 10-29 10-29 10-29 10-28 10-27 10-25 10-24 10-23 10-20 10-19 10-18 10-16 10-15 10-15 10-13 26-29 26-23 26-17 26-11 26-4 26 2 26 10 26 15 26 17 26 17 26 18 26 23 26 25 26 21 26 13 26 4 26-3 26-5 26-2 26 4 26 9 26 11 26 8 26 3 26 1 26 1 26 8 26 22 26 37 16 26 16 26 16 24 16 25 16 24 16 25 16 24 16 25 16 24 16 23 16 21 16 19 16 15 16 12 16 8 16 3 16-2 16-9 10-11 10-18 10-28 10-39 10-49 10-58 10-67 10-77 10-84 10-86 10-83 10-81 10-80 10-79 10-77 10-75 10-69 10-64 10-57 10-53 10-53 10-54 10-56 10-57 10-59 10-57 10-53 10-50 10-45 10-43 10-39 10-36 10-32 10-29 10-27 10-27 10-28 10-28 10-29 10-28 10-27 10-27 10-25 10-22 10-19 10-16 10-14 10-11 10-10 10-8 10-6 10-6 16-7 16-4 16-4 16-3 16-4 16-3 16-4 16-4 26-7 26-7 26-8 26-7 26-9 26-8 26-10 26-11 26-11 26-12 26-11 26-12 26-9 26-6 26-4 26 1 26 10 26 14 26 14 26 8 26 2 26 0 26-2 26-4 26-5 26-5 26-3 26-2 26 0 26 3 26 3 26 5 26 6 26 8 26 11 26 11 26 13 26 15 26 18 26 22 26 28 26 34 10 14 10 17 10 18 10 20 10 22 10 24 10 26 10 29 10 30 10 31 10 34 10 36 10 38 10 40 10 39 10 39 10 39 10 37 10 37 10 37 10 38 10 39 10 39 10 40 10 40 10 38 10 38 10 35 10 33 10 30 10 27 10 23 10 20 10 17 10 13 10 12 10 10 10 9 10 8 10 7 26 16 26 11 26 9 26 6 26 3 26 3 26 1 26 0 26-2 5 0"/>
<path stroke="#FA5A12" d="M704 3240l16 24 16 21 16 17 16 14 16 11 16 7 16 4 16 3 16 2 26 3 26-1 26-4 26-5 26-6 26-7 26-8 26-10 26-11 26-9 26-8 26-6 26-5 26-3 26-2 26-3 26-3 26-5 26-7 26-9 26-13 26-17 26-23 26-30 10-14 10-14 10-15 10-16 10-17 10-19 10-21 10-22 10-25 10-27 10-28 10-29 10-30 10-30 10-31 10-30 10-30 10-29 10-27 10-26 10-24 10-23 10-21 10-19 10-18 10-16 10-15 10-14 10-13 26-30 26-22 26-16 26-10 26-5 26-1 26 5 26 9 26 10 26 11 26 13 26 17 26 21 26 18 26 11 26 6 26 2 26 2 26 6 26 14 26 18 26 20 26 16 26 11 26 5 26 4 26 7 26 22 26 37 16 25 16 25 16 24 16 23 16 24 16 24 16 24 16 24 16 24 16 23 16 20 16 17 16 14 16 11 16 6 16 2 16-2 16-8 10-10 10-16 10-26 10-37 10-47 10-55 10-63 10-72 10-78 10-80 10-76 10-74 10-72 10-72 10-69 10-66 10-61 10-55 10-50 10-46 10-47 10-48 10-51 10-53 10-54 10-53 10-49 10-45 10-41 10-39 10-35 10-32 10-29 10-25 10-24 10-23 10-24 10-24 10-25 10-25 10-25 10-24 10-23 10-20 10-17 10-14 10-12 10-9 10-8 10-6 10-6 10-4 16-7 16-6 16-6 16-6 16-5 16-5 16-5 16-6 26-10 26-11 26-10 26-11 26-12 26-12 26-11 26-11 26-11 26-11 26-12 26-13 26-9 26-6 26-4 26 2 26 9 26 15 26 15 26 9 26 5 26 3 26 3 26 3 26 3 26 3 26 3 26 4 26 5 26 5 26 5 26 4 26 3 26 5 26 6 26 7 26 8 26 12 26 15 26 21 26 26 26 32 10 15 10 15 10 18 10 19 10 21 10 23 10 25 10 26 10 28 10 30 10 32 10 35 10 37 10 38 10 38 10 36 10 36 10 34 10 35 10 34 10 36 10 38 10 37 10 38 10 37 10 37 10 35 10 35 10 33 10 30 10 28 10 25 10 20 10 18 10 14 10 12 10 11 10 9 10 8 10 8 26 17 26 12 26 8 26 5 26 2 26 2 26 0 26-2 26-3 5-1"/>
<path stroke="#FBB414" d="M704 3281l16 23 16 20 16 17 16 14 16 11 16 7 16 6 16 4 16 3 26 3 26 1 26-3 26-3 26-5 26-5 26-6 26-9 26-8 26-7 26-7 26-6 26-3 26-3 26-2 26-2 26-3 26-4 26-5 26-8 26-11 26-14 26-19 26-25 10-12 10-12 10-13 10-13 10-15 10-16 10-18 10-20 10-22 10-23 10-25 10-26 10-27 10-26 10-27 10-26 10-26 10-26 10-24 10-23 10-22 10-20 10-19 10-17 10-15 10-14 10-14 10-12 10-12 26-27 26-21 26-16 26-12 26-8 26-6 26-2 26 3 26 3 26 4 26 8 26 13 26 17 26 16 26 11 26 4 26-2 26-4 26-1 26 5 26 10 26 11 26 8 26 4 26 2 26 1 26 8 26 22 26 36 16 24 16 25 16 23 16 23 16 24 16 23 16 24 16 24 16 23 16 23 16 20 16 18 16 15 16 11 16 8 16 3 16-1 16-6 10-8 10-14 10-23 10-33 10-42 10-50 10-59 10-67 10-73 10-77 10-77 10-77 10-78 10-77 10-75 10-73 10-68 10-63 10-57 10-55 10-55 10-57 10-59 10-60 10-61 10-60 10-55 10-52 10-47 10-45 10-41 10-37 10-33 10-29 10-28 10-26 10-27 10-27 10-28 10-27 10-27 10-25 10-24 10-21 10-19 10-15 10-12 10-11 10-8 10-7 10-6 10-5 16-7 16-6 16-5 16-5 16-4 16-5 16-4 16-6 26-9 26-9 26-9 26-10 26-10 26-11 26-11 26-11 26-12 26-13 26-13 26-13 26-11 26-8 26-5 26 0 26 9 26 13 26 13 26 8 26 2 26 1 26-2 26-2 26-3 26-3 26-2 26 0 26 1 26 3 26 5 26 5 26 7 26 11 26 13 26 15 26 16 26 19 26 21 26 27 26 31 26 35 10 15 10 16 10 18 10 20 10 21 10 23 10 25 10 27 10 28 10 30 10 32 10 34 10 37 10 38 10 37 10 37 10 35 10 35 10 34 10 35 10 36 10 37 10 37 10 38 10 38 10 36 10 36 10 34 10 31 10 29 10 25 10 22 10 19 10 15 10 13 10 10 10 9 10 8 10 7 10 6 26 15 26 11 26 9 26 6 26 5 26 5 26 4 26 3 26 1 5 1"/>
<path stroke="#A02CBC" d="M704 3235l16 25 16 20 16 17 16 13 16 10 16 7 16 4 16 2 16 1 26 2 26-2 26-5 26-6 26-6 26-7 26-9 26-11 26-11 26-9 26-9 26-7 26-5 26-3 26-4 26-4 26-7 26-11 26-15 26-19 26-25 26-31 26-39 26-46 10-19 10-21 10-21 10-22 10-23 10-24 10-26 10-27 10-29 10-30 10-32 10-33 10-33 10-33 10-34 10-33 10-32 10-30 10-27 10-25 10-24 10-21 10-19 10-18 10-15 10-14 10-12 10-11 10-9 26-21 26-13 26-9 26-3 26 3 26 7 26 15 26 19 26 20 26 19 26 21 26 24 26 25 26 22 26 12 26 4 26-2 26-4 26 0 26 7 26 13 26 15 26 11 26 6 26 1 26 1 26 7 26 25 26 43 16 30 16 29 16 27 16 27 16 27 16 28 16 28 16 28 16 27 16 26 16 23 16 20 16 16 16 12 16 8 16 3 16-3 16-12 10-14 10-23 10-33 10-48 10-59 10-69 10-81 10-92 10-102 10-102 10-95 10-89 10-83 10-83 10-79 10-75 10-68 10-58 10-49 10-42 10-40 10-40 10-41 10-44 10-46 10-47 10-43 10-40 10-37 10-35 10-31 10-28 10-25 10-22 10-20 10-20 10-21 10-22 10-23 10-23 10-22 10-22 10-20 10-18 10-16 10-13 10-11 10-9 10-8 10-6 10-5 10-5 16-7 16-7 16-5 16-6 16-5 16-5 16-6 16-6 26-11 26-10 26-10 26-10 26-10 26-11 26-10 26-11 26-12 26-11 26-11 26-12 26-9 26-6 26-3 26 2 26 11 26 15 26 14 26 10 26 4 26 1 26 0 26-2 26-3 26-2 26-1 26 0 26 2 26 4 26 4 26 5 26 7 26 8 26 11 26 12 26 14 26 15 26 18 26 23 26 28 26 34 10 14 10 17 10 17 10 19 10 22 10 23 10 25 10 27 10 28 10 30 10 31 10 35 10 36 10 37 10 38 10 37 10 36 10 35 10 36 10 35 10 36 10 38 10 38 10 39 10 39 10 37 10 37 10 34 10 32 10 28 10 25 10 21 10 19 10 15 10 12 10 10 10 9 10 8 10 7 10 6 26 14 26 12 26 9 26 8 26 7 26 7 26 6 26 5 26 4 5 1"/>
<path stroke="#52B822" d="M704 3343l16 20 16 18 16 17 16 14 16 10 16 8 16 7 16 5 16 4 26 5 26 2 26 0 26-1 26-3 26-3 26-4 26-4 26-6 26-4 26-5 26-3 26-3 26-1 26-2 26-1 26-2 26-4 26-6 26-9 26-10 26-14 26-17 26-23 10-10 10-11 10-11 10-12 10-13 10-14 10-15 10-17 10-18 10-20 10-21 10-22 10-22 10-22 10-22 10-21 10-21 10-20 10-20 10-19 10-18 10-16 10-14 10-14 10-11 10-12 10-10 10-10 10-9 26-21 26-18 26-15 26-13 26-14 26-12 26-9 26-7 26-6 26-4 26 0 26 8 26 12 26 13 26 11 26 7 26 5 26 6 26 11 26 19 26 23 26 24 26 20 26 15 26 10 26 9 26 11 26 20 26 27 16 18 16 19 16 18 16 18 16 17 16 18 16 17 16 16 16 17 16 17 16 16 16 14 16 13 16 9 16 6 16 2 16-4 16-10 10-12 10-18 10-26 10-34 10-43 10-51 10-59 10-67 10-74 10-78 10-80 10-81 10-83 10-82 10-82 10-79 10-76 10-73 10-68 10-67 10-68 10-68 10-71 10-72 10-72 10-69 10-66 10-60 10-57 10-53 10-50 10-48 10-43 10-41 10-38 10-38 10-39 10-39 10-39 10-38 10-37 10-35 10-32 10-30 10-26 10-23 10-21 10-17 10-16 10-13 10-10 10-9 16-11 16-6 16-4 16-3 16-3 16-4 16-4 16-3 26-6 26-6 26-4 26-5 26-5 26-5 26-7 26-8 26-8 26-8 26-7 26-8 26-5 26-2 26 0 26 5 26 13 26 16 26 15 26 10 26 4 26 1 26-2 26-4 26-6 26-6 26-4 26-3 26 0 26 2 26 3 26 4 26 6 26 8 26 10 26 12 26 12 26 13 26 16 26 19 26 26 26 31 10 14 10 16 10 17 10 20 10 20 10 23 10 25 10 27 10 29 10 30 10 32 10 33 10 36 10 38 10 38 10 38 10 37 10 37 10 37 10 37 10 37 10 39 10 40 10 40 10 42 10 41 10 39 10 37 10 33 10 29 10 26 10 22 10 20 10 17 10 14 10 13 10 10 10 9 10 9 10 7 26 18 26 14 26 12 26 10 26 8 26 8 26 6 26 6 26 4 5 1"/>
<path stroke="#FBB414" d="M704 3249l16 23 16 20 16 17 16 13 16 10 16 7 16 4 16 2 16 1 26 2 26-2 26-5 26-5 26-7 26-7 26-8 26-11 26-11 26-9 26-9 26-7 26-5 26-3 26-3 26-4 26-5 26-7 26-10 26-13 26-17 26-23 26-28 26-36 10-15 10-17 10-17 10-18 10-19 10-21 10-22 10-24 10-27 10-27 10-30 10-30 10-30 10-31 10-31 10-30 10-30 10-28 10-26 10-25 10-22 10-21 10-19 10-18 10-15 10-15 10-13 10-12 10-11 26-24 26-18 26-13 26-7 26-3 26-1 26 1 26 4 26 7 26 9 26 11 26 13 26 14 26 12 26 10 26 8 26 7 26 8 26 10 26 13 26 16 26 16 26 16 26 14 26 11 26 9 26 11 26 22 26 34 16 24 16 24 16 23 16 25 16 25 16 27 16 27 16 27 16 26 16 23 16 21 16 17 16 13 16 11 16 6 16 2 16-6 16-14 10-17 10-25 10-37 10-51 10-64 10-75 10-88 10-102 10-113 10-115 10-110 10-104 10-99 10-99 10-99 10-94 10-88 10-76 10-64 10-56 10-51 10-48 10-49 10-51 10-54 10-53 10-51 10-47 10-43 10-39 10-34 10-31 10-28 10-24 10-23 10-23 10-24 10-26 10-25 10-24 10-23 10-22 10-20 10-17 10-16 10-14 10-13 10-11 10-10 10-8 10-6 10-6 16-7 16-4 16-5 16-8 16-8 16-7 16-6 16-7 26-11 26-13 26-14 26-14 26-13 26-12 26-12 26-13 26-13 26-10 26-8 26-7 26-4 26-2 26 0 26 3 26 7 26 11 26 8 26 2 26-2 26-4 26-5 26-5 26-4 26-4 26-7 26-5 26-1 26 3 26 8 26 12 26 13 26 15 26 16 26 14 26 12 26 14 26 14 26 17 26 24 26 28 10 11 10 12 10 16 10 19 10 21 10 21 10 23 10 25 10 27 10 27 10 29 10 30 10 34 10 37 10 47 10 45 10 36 10 36 10 35 10 33 10 33 10 34 10 37 10 39 10 44 10 47 10 49 10 52 10 53 10 36 10 31 10 27 10 24 10 21 10 17 10 15 10 12 10 9 10 8 10 7 26 16 26 13 26 11 26 8 26 7 26 6 26 4 26 4 26 3 5 1"/>
<path stroke="#20BAF0" d="M704 3258l16 21 16 18 16 14 16 11 16 9 16 5 16 2 16 0 16 0 26-1 26-4 26-6 26-7 26-6 26-7 26-9 26-10 26-10 26-8 26-7 26-5 26-4 26-1 26-2 26-2 26-3 26-6 26-9 26-11 26-15 26-21 26-26 26-33 10-14 10-16 10-16 10-17 10-18 10-19 10-21 10-23 10-25 10-26 10-28 10-28 10-29 10-29 10-28 10-29 10-27 10-26 10-25 10-23 10-21 10-19 10-18 10-15 10-14 10-13 10-12 10-11 10-9 26-22 26-17 26-13 26-10 26-12 26-13 26-10 26-8 26-8 26-8 26-3 26 3 26 10 26 11 26 10 26 5 26 1 26 2 26 8 26 16 26 24 26 24 26 20 26 13 26 6 26 3 26 8 26 28 26 47 16 33 16 31 16 31 16 30 16 29 16 30 16 29 16 29 16 28 16 27 16 24 16 20 16 17 16 12 16 8 16 2 16-7 16-18 10-19 10-27 10-40 10-55 10-67 10-80 10-92 10-105 10-115 10-116 10-108 10-98 10-93 10-93 10-92 10-88 10-81 10-70 10-60 10-53 10-48 10-47 10-47 10-49 10-52 10-52 10-50 10-46 10-42 10-39 10-35 10-32 10-28 10-26 10-25 10-26 10-27 10-28 10-28 10-28 10-26 10-25 10-23 10-20 10-19 10-17 10-15 10-13 10-11 10-10 10-8 10-6 16-9 16-4 16-3 16-3 16-4 16-4 16-5 16-4 26-8 26-7 26-6 26-5 26-5 26-4 26-7 26-8 26-9 26-8 26-7 26-7 26-5 26-1 26 1 26 6 26 14 26 19 26 16 26 12 26 6 26 3 26-2 26-5 26-7 26-7 26-5 26-3 26 0 26 2 26 3 26 4 26 5 26 8 26 10 26 10 26 11 26 11 26 13 26 15 26 23 26 29 10 14 10 15 10 18 10 20 10 21 10 25 10 26 10 29 10 31 10 32 10 34 10 36 10 38 10 39 10 40 10 41 10 40 10 40 10 40 10 38 10 39 10 39 10 40 10 41 10 42 10 40 10 39 10 34 10 29 10 24 10 21 10 17 10 14 10 12 10 9 10 8 10 6 10 5 10 5 10 4 26 10 26 13 26 11 26 8 26 8 26 7 26 6 26 7 26 7 5 1"/>
<path stroke="#D41440" d="M704 3264l16 23 16 20 16 16 16 14 16 10 16 7 16 4 16 3 16 2 26 2 26-1 26-4 26-5 26-5 26-7 26-8 26-9 26-10 26-9 26-7 26-7 26-5 26-2 26-3 26-3 26-5 26-7 26-8 26-12 26-16 26-20 26-26 26-33 10-15 10-15 10-16 10-17 10-18 10-19 10-21 10-23 10-25 10-26 10-28 10-28 10-29 10-29 10-29 10-29 10-28 10-27 10-25 10-23 10-22 10-20 10-19 10-16 10-15 10-14 10-12 10-12 10-11 26-23 26-18 26-14 26-8 26-4 26-2 26 0 26 2 26 5 26 8 26 9 26 12 26 14 26 12 26 10 26 8 26 7 26 8 26 9 26 13 26 16 26 15 26 15 26 13 26 12 26 9 26 11 26 21 26 32 16 22 16 22 16 23 16 23 16 24 16 25 16 26 16 25 16 24 16 23 16 19 16 17 16 13 16 10 16 6 16 2 16-6 16-15 10-17 10-26 10-37 10-51 10-64 10-75 10-89 10-102 10-114 10-117 10-114 10-107 10-104 10-103 10-103 10-98 10-91 10-79 10-66 10-56 10-51 10-49 10-48 10-51 10-53 10-53 10-51 10-46 10-42 10-38 10-35 10-31 10-27 10-24 10-23 10-24 10-25 10-26 10-26 10-26 10-24 10-23 10-20 10-19 10-16 10-15 10-14 10-12 10-10 10-8 10-8 10-6 16-9 16-7 16-6 16-7 16-8 16-7 16-6 16-7 26-11 26-13 26-14 26-14 26-13 26-12 26-12 26-13 26-13 26-10 26-8 26-7 26-4 26-2 26 0 26 2 26 7 26 15 26 14 26 6 26 3 26 3 26-1 26-3 26-1 26-1 26-7 26-5 26 0 26 2 26 8 26 12 26 13 26 16 26 15 26 14 26 12 26 14 26 14 26 17 26 26 26 31 10 11 10 14 10 16 10 21 10 23 10 24 10 26 10 28 10 28 10 29 10 31 10 32 10 34 10 39 10 49 10 45 10 37 10 36 10 36 10 33 10 32 10 34 10 37 10 39 10 42 10 48 10 49 10 53 10 52 10 31 10 24 10 20 10 17 10 15 10 13 10 11 10 10 10 9 10 8 10 7 26 16 26 13 26 11 26 8 26 7 26 5 26 4 26 4 26 3 5 0"/>
<path stroke="#D41440" d="M704 3281l16 23 16 21 16 17 16 14 16 11 16 8 16 6 16 4 16 3 26 3 26 1 26-3 26-4 26-5 26-6 26-9 26-11 26-12 26-11 26-11 26-9 26-7 26-5 26-4 26-3 26-4 26-5 26-7 26-9 26-13 26-16 26-22 26-28 10-12 10-13 10-14 10-15 10-16 10-16 10-19 10-20 10-22 10-24 10-25 10-26 10-25 10-26 10-26 10-25 10-25 10-23 10-22 10-21 10-19 10-18 10-15 10-14 10-13 10-11 10-11 10-10 10-9 26-20 26-16 26-13 26-11 26-10 26-7 26-2 26 0 26 2 26 2 26 5 26 11 26 15 26 14 26 9 26 2 26-1 26-2 26 2 26 10 26 15 26 17 26 13 26 8 26 3 26 3 26 9 26 23 26 39 16 28 16 27 16 26 16 26 16 26 16 25 16 26 16 25 16 25 16 23 16 21 16 19 16 15 16 12 16 7 16 2 16-5 16-14 10-15 10-23 10-33 10-44 10-55 10-65 10-75 10-85 10-93 10-94 10-90 10-85 10-83 10-81 10-80 10-77 10-71 10-64 10-57 10-53 10-51 10-52 10-54 10-56 10-57 10-56 10-52 10-49 10-45 10-41 10-39 10-35 10-32 10-29 10-27 10-27 10-28 10-28 10-29 10-28 10-28 10-26 10-25 10-22 10-20 10-16 10-15 10-12 10-10 10-9 10-8 10-6 16-8 16-6 16-6 16-5 16-6 16-7 16-7 16-7 26-13 26-13 26-12 26-12 26-11 26-11 26-12 26-11 26-11 26-11 26-11 26-10 26-8 26-5 26-2 26 2 26 12 26 16 26 15 26 10 26 5 26 3 26 1 26-1 26-2 26-2 26 0 26 1 26 3 26 4 26 5 26 5 26 7 26 9 26 11 26 12 26 13 26 15 26 17 26 21 26 27 26 33 10 15 10 15 10 17 10 18 10 20 10 22 10 23 10 25 10 27 10 28 10 29 10 32 10 34 10 35 10 35 10 35 10 35 10 35 10 34 10 35 10 35 10 38 10 38 10 40 10 40 10 40 10 38 10 36 10 33 10 29 10 25 10 22 10 20 10 16 10 14 10 12 10 11 10 9 10 8 10 7 26 16 26 14 26 12 26 10 26 9 26 10 26 8 26 7 26 7 5 1"/>
<path stroke="#0A6CD6" d="M704 3269l16 24 16 20 16 17 16 14 16 11 16 8 16 5 16 3 16 3 26 3 26 0 26-3 26-4 26-6 26-7 26-8 26-11 26-11 26-11 26-9 26-9 26-6 26-4 26-4 26-3 26-3 26-4 26-6 26-8 26-10 26-15 26-19 26-27 10-11 10-13 10-13 10-15 10-16 10-17 10-19 10-21 10-23 10-25 10-27 10-27 10-28 10-28 10-28 10-28 10-28 10-26 10-26 10-24 10-22 10-21 10-20 10-17 10-16 10-15 10-14 10-13 10-12 26-27 26-20 26-17 26-10 26-7 26-1 26 6 26 10 26 12 26 12 26 14 26 19 26 23 26 19 26 13 26 4 26 0 26-2 26 2 26 9 26 16 26 16 26 13 26 7 26 2 26 2 26 8 26 22 26 36 16 25 16 25 16 24 16 23 16 22 16 23 16 23 16 23 16 22 16 22 16 20 16 17 16 15 16 10 16 7 16 2 16-6 16-15 10-15 10-24 10-35 10-47 10-58 10-69 10-80 10-92 10-100 10-102 10-98 10-91 10-89 10-88 10-86 10-84 10-77 10-69 10-61 10-55 10-53 10-52 10-54 10-55 10-57 10-57 10-53 10-49 10-46 10-43 10-39 10-35 10-33 10-29 10-28 10-28 10-29 10-30 10-30 10-29 10-29 10-27 10-25 10-22 10-20 10-18 10-16 10-14 10-12 10-10 10-9 10-8 16-10 16-7 16-6 16-5 16-6 16-6 16-7 16-7 26-10 26-11 26-9 26-8 26-7 26-7 26-8 26-10 26-9 26-8 26-8 26-7 26-6 26-2 26 1 26 5 26 14 26 18 26 17 26 12 26 6 26 3 26 1 26-3 26-5 26-4 26-2 26-1 26 2 26 3 26 5 26 6 26 7 26 10 26 11 26 13 26 14 26 15 26 16 26 21 26 27 26 34 10 15 10 16 10 19 10 19 10 22 10 24 10 26 10 28 10 29 10 31 10 32 10 35 10 36 10 38 10 38 10 38 10 38 10 38 10 37 10 37 10 37 10 38 10 39 10 40 10 41 10 40 10 39 10 35 10 31 10 27 10 23 10 20 10 17 10 14 10 12 10 10 10 9 10 7 10 6 10 6 26 13 26 12 26 10 26 7 26 6 26 5 26 4 26 3 26 3 5 1"/>
<path stroke="#FA5A12" d="M704 3316l16 18 16 17 16 14 16 11 16 9 16 5 16 4 16 2 16 1 26 1 26-2 26-4 26-4 26-4 26-4 26-6 26-6 26-6 26-5 26-5 26-3 26-1 26-1 26 0 26-1 26-2 26-3 26-5 26-8 26-11 26-14 26-18 26-25 10-11 10-11 10-13 10-13 10-14 10-16 10-16 10-19 10-20 10-22 10-24 10-24 10-24 10-24 10-24 10-24 10-23 10-23 10-21 10-20 10-19 10-18 10-16 10-14 10-13 10-12 10-11 10-10 10-9 26-22 26-18 26-15 26-12 26-12 26-11 26-7 26-5 26-4 26-3 26 0 26 7 26 11 26 12 26 7 26 2 26 0 26-1 26 3 26 11 26 16 26 18 26 14 26 9 26 5 26 3 26 9 26 24 26 37 16 26 16 27 16 26 16 25 16 25 16 25 16 25 16 25 16 23 16 23 16 21 16 18 16 15 16 12 16 7 16 2 16-4 16-12 10-13 10-21 10-29 10-39 10-48 10-58 10-66 10-76 10-82 10-84 10-83 10-80 10-79 10-78 10-77 10-73 10-70 10-63 10-58 10-56 10-56 10-57 10-59 10-61 10-62 10-60 10-56 10-52 10-49 10-46 10-43 10-41 10-38 10-36 10-34 10-34 10-35 10-35 10-36 10-36 10-35 10-33 10-31 10-29 10-25 10-22 10-19 10-17 10-15 10-12 10-10 10-9 16-10 16-7 16-4 16-4 16-4 16-5 16-4 16-5 26-8 26-7 26-7 26-7 26-8 26-8 26-9 26-10 26-12 26-12 26-14 26-14 26-12 26-8 26-6 26-1 26 9 26 14 26 14 26 11 26 6 26 5 26 3 26 1 26 1 26 1 26 2 26 2 26 5 26 5 26 5 26 5 26 6 26 9 26 11 26 12 26 13 26 15 26 17 26 21 26 27 26 33 10 14 10 16 10 17 10 19 10 20 10 23 10 24 10 26 10 27 10 29 10 31 10 32 10 35 10 36 10 36 10 36 10 36 10 35 10 34 10 35 10 36 10 36 10 38 10 39 10 39 10 38 10 37 10 34 10 30 10 27 10 23 10 21 10 17 10 14 10 12 10 9 10 9 10 7 10 6 10 6 26 13 26 12 26 11 26 10 26 9 26 10 26 9 26 9 26 9 5 2"/>
<path stroke="#FBB414" d="M704 3238l16 24 16 21 16 16 16 14 16 10 16 7 16 3 16 2 16 2 26 1 26-1 26-5 26-6 26-6 26-7 26-9 26-11 26-11 26-10 26-8 26-7 26-5 26-3 26-3 26-3 26-4 26-7 26-8 26-12 26-15 26-21 26-27 26-34 10-15 10-16 10-16 10-18 10-19 10-20 10-22 10-24 10-26 10-28 10-29 10-30 10-30 10-31 10-31 10-30 10-30 10-28 10-26 10-25 10-23 10-21 10-20 10-17 10-16 10-15 10-13 10-13 10-11 26-25 26-19 26-15 26-11 26-7 26-4 26 2 26 6 26 6 26 7 26 9 26 14 26 18 26 17 26 9 26 3 26-3 26-3 26 1 26 10 26 17 26 18 26 14 26 7 26 3 26 0 26 8 26 26 26 43 16 31 16 29 16 29 16 28 16 27 16 28 16 28 16 27 16 27 16 26 16 23 16 20 16 16 16 11 16 8 16 2 16-5 16-13 10-14 10-23 10-35 10-48 10-60 10-72 10-82 10-95 10-104 10-106 10-100 10-93 10-91 10-90 10-89 10-87 10-81 10-72 10-61 10-56 10-52 10-50 10-51 10-53 10-54 10-54 10-52 10-46 10-43 10-38 10-34 10-31 10-28 10-24 10-24 10-23 10-25 10-26 10-27 10-25 10-25 10-23 10-21 10-19 10-17 10-15 10-13 10-11 10-10 10-8 10-6 10-6 16-7 16-4 16-3 16-2 16-2 16-3 16-3 16-3 26-5 26-4 26-4 26-4 26-4 26-5 26-6 26-9 26-10 26-9 26-9 26-9 26-6 26-4 26 0 26 4 26 13 26 17 26 16 26 10 26 4 26 1 26-3 26-6 26-8 26-8 26-6 26-4 26-1 26 2 26 4 26 4 26 5 26 9 26 10 26 11 26 13 26 13 26 14 26 18 26 24 26 31 10 14 10 15 10 17 10 18 10 20 10 21 10 24 10 25 10 27 10 29 10 29 10 32 10 33 10 35 10 36 10 36 10 36 10 36 10 36 10 35 10 37 10 37 10 39 10 40 10 41 10 42 10 39 10 36 10 32 10 27 10 23 10 20 10 18 10 15 10 13 10 11 10 9 10 8 10 7 10 6 26 14 26 13 26 10 26 8 26 6 26 6 26 4 26 4 26 4 5 1"/>
<path stroke="#20BAF0" d="M704 3310l16 21 16 19 16 17 16 14 16 11 16 7 16 6 16 4 16 4 26 4 26 1 26-1 26-3 26-3 26-5 26-5 26-7 26-7 26-6 26-5 26-5 26-3 26-2 26-2 26-2 26-2 26-5 26-6 26-8 26-12 26-14 26-19 26-25 10-11 10-12 10-12 10-14 10-14 10-15 10-17 10-19 10-20 10-22 10-23 10-24 10-25 10-24 10-24 10-23 10-24 10-22 10-21 10-21 10-19 10-18 10-16 10-14 10-13 10-12 10-11 10-10 10-10 26-22 26-18 26-14 26-11 26-8 26-6 26-5 26-2 26 0 26 4 26 5 26 11 26 12 26 11 26 10 26 7 26 8 26 7 26 9 26 12 26 13 26 14 26 13 26 12 26 11 26 10 26 11 26 18 26 25 16 17 16 18 16 19 16 19 16 20 16 20 16 21 16 21 16 20 16 19 16 17 16 14 16 12 16 9 16 6 16 2 16-2 16-6 10-8 10-14 10-21 10-29 10-36 10-43 10-49 10-54 10-58 10-60 10-59 10-60 10-60 10-60 10-57 10-54 10-52 10-51 10-50 10-51 10-55 10-58 10-63 10-64 10-63 10-61 10-56 10-52 10-49 10-47 10-44 10-42 10-38 10-35 10-33 10-31 10-32 10-32 10-33 10-32 10-33 10-33 10-30 10-27 10-23 10-20 10-16 10-13 10-11 10-9 10-8 10-6 16-9 16-7 16-7 16-6 16-6 16-6 16-5 16-6 26-11 26-11 26-11 26-12 26-14 26-15 26-14 26-13 26-13 26-13 26-13 26-12 26-11 26-7 26-4 26-1 26 7 26 12 26 11 26 7 26 1 26 1 26 1 26 2 26 1 26 2 26 2 26 3 26 3 26 3 26 5 26 7 26 7 26 10 26 13 26 15 26 16 26 20 26 23 26 28 26 33 26 37 10 16 10 17 10 19 10 21 10 22 10 25 10 27 10 28 10 30 10 31 10 34 10 37 10 41 10 44 10 44 10 43 10 41 10 39 10 37 10 37 10 37 10 37 10 39 10 41 10 40 10 38 10 39 10 43 10 48 10 40 10 33 10 29 10 26 10 22 10 17 10 14 10 12 10 10 10 8 10 7 26 10 26 6 26 3 26-1 26-3 26-4 26-6 26-8 26-10 5-2"/>
<path stroke="#A02CBC" d="M704 3284l16 23 16 20 16 17 16 14 16 11 16 8 16 6 16 4 16 3 26 3 26 1 26-3 26-3 26-5 26-6 26-8 26-10 26-11 26-10 26-9 26-8 26-6 26-5 26-3 26-3 26-3 26-5 26-6 26-9 26-12 26-16 26-21 26-28 10-12 10-13 10-14 10-14 10-16 10-17 10-19 10-21 10-23 10-24 10-26 10-27 10-27 10-27 10-28 10-27 10-27 10-26 10-24 10-23 10-22 10-21 10-18 10-17 10-16 10-15 10-13 10-13 10-12 26-27 26-23 26-18 26-14 26-13 26-10 26-6 26-3 26-1 26 1 26 3 26 10 26 13 26 14 26 10 26 8 26 7 26 9 26 14 26 23 26 28 26 29 26 26 26 20 26 16 26 13 26 16 26 28 26 39 16 27 16 26 16 26 16 25 16 25 16 24 16 24 16 24 16 23 16 22 16 20 16 17 16 14 16 11 16 7 16 2 16-3 16-10 10-11 10-17 10-26 10-35 10-44 10-51 10-61 10-68 10-74 10-76 10-77 10-76 10-74 10-71 10-68 10-63 10-58 10-52 10-47 10-45 10-46 10-48 10-52 10-54 10-54 10-53 10-49 10-47 10-43 10-43 10-39 10-37 10-33 10-30 10-29 10-27 10-27 10-28 10-29 10-29 10-29 10-28 10-27 10-24 10-20 10-17 10-14 10-12 10-10 10-8 10-7 10-6 16-9 16-8 16-7 16-7 16-7 16-6 16-6 16-7 26-11 26-12 26-12 26-13 26-13 26-14 26-13 26-12 26-12 26-11 26-11 26-12 26-8 26-5 26-3 26 2 26 10 26 14 26 13 26 7 26 1 26 0 26-1 26 0 26-1 26-1 26 1 26 1 26 2 26 3 26 5 26 4 26 6 26 7 26 9 26 12 26 12 26 16 26 21 26 26 26 31 26 36 10 15 10 17 10 18 10 20 10 23 10 24 10 26 10 28 10 29 10 31 10 34 10 36 10 39 10 39 10 39 10 38 10 35 10 35 10 35 10 35 10 36 10 37 10 38 10 37 10 36 10 36 10 35 10 35 10 34 10 32 10 30 10 26 10 23 10 19 10 16 10 13 10 11 10 11 10 9 10 9 26 18 26 9 26 4 26-2 26-6 26-8 26-12 26-15 26-17 5-4"/>
<path stroke="#52B822" d="M704 3267l16 22 16 18 16 16 16 12 16 9 16 7 16 3 16 2 16 1 26 1 26-2 26-5 26-6 26-5 26-6 26-7 26-9 26-8 26-7 26-6 26-5 26-3 26-2 26-2 26-4 26-6 26-11 26-14 26-18 26-23 26-30 26-36 26-43 10-18 10-20 10-19 10-21 10-22 10-22 10-24 10-25 10-27 10-29 10-29 10-31 10-31 10-31 10-31 10-30 10-30 10-27 10-26 10-24 10-22 10-20 10-17 10-16 10-15 10-12 10-12 10-10 10-9 26-20 26-14 26-10 26-5 26-3 26 2 26 6 26 10 26 11 26 11 26 13 26 17 26 20 26 18 26 12 26 5 26 2 26 2 26 6 26 14 26 20 26 21 26 16 26 10 26 4 26 2 26 5 26 19 26 32 16 22 16 21 16 21 16 19 16 20 16 21 16 21 16 22 16 21 16 21 16 19 16 15 16 13 16 10 16 5 16 2 16-3 16-9 10-11 10-18 10-30 10-41 10-53 10-61 10-71 10-82 10-88 10-89 10-83 10-79 10-75 10-73 10-72 10-67 10-62 10-53 10-46 10-42 10-40 10-42 10-45 10-47 10-50 10-49 10-46 10-43 10-40 10-38 10-35 10-32 10-29 10-26 10-25 10-24 10-25 10-27 10-26 10-27 10-27 10-25 10-24 10-21 10-19 10-15 10-14 10-11 10-9 10-7 10-6 10-5 16-7 16-5 16-4 16-3 16-4 16-4 16-4 16-5 26-8 26-8 26-8 26-9 26-9 26-9 26-10 26-10 26-10 26-10 26-11 26-11 26-8 26-6 26-2 26 2 26 10 26 15 26 14 26 9 26 2 26-1 26-3 26-5 26-6 26-6 26-4 26-4 26-2 26 0 26 1 26 1 26 2 26 4 26 7 26 7 26 9 26 11 26 14 26 19 26 26 26 32 10 15 10 16 10 18 10 19 10 21 10 24 10 25 10 27 10 29 10 30 10 32 10 34 10 37 10 38 10 38 10 38 10 37 10 36 10 36 10 36 10 38 10 38 10 39 10 40 10 40 10 39 10 39 10 36 10 34 10 30 10 28 10 24 10 21 10 18 10 15 10 13 10 11 10 10 10 9 10 8 26 18 26 12 26 10 26 7 26 4 26 4 26 1 26 0 26-1 5 0"/>
<path stroke="#20BAF0" d="M704 3239l16 22 16 19 16 16 16 11 16 9 16 6 16 3 16 0 16 1 26-1 26-3 26-6 26-8 26-6 26-8 26-8 26-10 26-10 26-8 26-7 26-5 26-3 26-1 26-2 26-2 26-4 26-7 26-8 26-12 26-16 26-22 26-28 26-35 10-15 10-16 10-17 10-18 10-19 10-21 10-22 10-25 10-26 10-29 10-30 10-31 10-32 10-33 10-32 10-33 10-32 10-31 10-29 10-28 10-26 10-25 10-22 10-21 10-20 10-18 10-16 10-16 10-14 26-33 26-26 26-20 26-13 26-9 26-5 26 1 26 5 26 5 26 7 26 9 26 15 26 17 26 17 26 11 26 6 26 2 26 4 26 9 26 17 26 24 26 26 26 22 26 14 26 8 26 6 26 10 26 29 26 46 16 33 16 31 16 30 16 30 16 29 16 30 16 30 16 28 16 29 16 26 16 24 16 20 16 17 16 12 16 8 16 2 16-5 16-13 10-14 10-23 10-34 10-48 10-59 10-70 10-82 10-93 10-103 10-104 10-98 10-92 10-87 10-86 10-83 10-78 10-71 10-61 10-51 10-44 10-42 10-40 10-42 10-45 10-46 10-47 10-44 10-41 10-37 10-34 10-32 10-28 10-24 10-22 10-20 10-20 10-22 10-22 10-22 10-23 10-22 10-21 10-19 10-18 10-14 10-13 10-10 10-8 10-6 10-6 10-4 10-3 16-4 16-3 16-1 16-2 16-2 16-2 16-2 16-3 26-5 26-6 26-6 26-7 26-8 26-8 26-10 26-11 26-13 26-16 26-18 26-18 26-17 26-13 26-10 26-4 26 5 26 12 26 13 26 10 26 4 26 2 26-1 26-3 26-3 26-3 26-2 26-1 26 2 26 4 26 4 26 5 26 6 26 9 26 10 26 12 26 14 26 15 26 18 26 22 26 29 26 34 10 15 10 16 10 18 10 20 10 22 10 24 10 26 10 28 10 30 10 31 10 33 10 35 10 38 10 38 10 39 10 38 10 38 10 36 10 36 10 37 10 37 10 38 10 38 10 39 10 39 10 39 10 37 10 34 10 32 10 29 10 26 10 22 10 19 10 16 10 13 10 11 10 9 10 8 10 7 10 6 26 14 26 10 26 6 26 1 26-2 26-3 26-6 26-7 26-9 5-1"/>
<path stroke="#D41440" d="M704 3316l16 20 16 18 16 15 16 13 16 10 16 7 16 4 16 4 16 3 26 2 26-1 26-2 26-4 26-5 26-6 26-6 26-8 26-9 26-7 26-7 26-6 26-4 26-3 26-2 26-3 26-3 26-6 26-7 26-10 26-13 26-16 26-22 26-28 10-12 10-13 10-13 10-15 10-15 10-17 10-18 10-20 10-21 10-22 10-23 10-24 10-22 10-23 10-21 10-21 10-19 10-18 10-17 10-15 10-13 10-11 10-10 10-8 10-6 10-5 10-5 10-4 10-4 26-8 26-7 26-8 26-12 26-16 26-18 26-16 26-14 26-15 26-13 26-8 26-1 26 7 26 9 26 8 26 5 26 1 26 1 26 6 26 14 26 19 26 20 26 16 26 10 26 5 26 4 26 7 26 20 26 30 16 22 16 21 16 21 16 20 16 20 16 20 16 20 16 20 16 20 16 20 16 18 16 15 16 14 16 10 16 6 16 2 16-3 16-9 10-10 10-16 10-25 10-35 10-44 10-52 10-60 10-69 10-75 10-77 10-78 10-77 10-79 10-81 10-80 10-79 10-77 10-74 10-69 10-67 10-67 10-68 10-69 10-71 10-71 10-69 10-65 10-59 10-54 10-50 10-47 10-43 10-40 10-36 10-35 10-34 10-35 10-36 10-35 10-35 10-34 10-31 10-30 10-26 10-24 10-21 10-18 10-16 10-14 10-12 10-9 10-8 16-10 16-5 16-4 16-4 16-3 16-4 16-5 16-4 26-8 26-6 26-7 26-5 26-6 26-7 26-8 26-9 26-11 26-11 26-12 26-13 26-10 26-7 26-4 26 1 26 10 26 16 26 15 26 11 26 7 26 5 26 3 26 1 26-1 26-1 26 1 26 2 26 3 26 4 26 4 26 3 26 3 26 5 26 7 26 6 26 8 26 9 26 10 26 14 26 22 26 29 10 14 10 16 10 17 10 19 10 20 10 23 10 24 10 27 10 29 10 30 10 31 10 33 10 36 10 37 10 38 10 38 10 38 10 38 10 38 10 37 10 39 10 39 10 41 10 42 10 43 10 43 10 42 10 39 10 35 10 31 10 28 10 24 10 22 10 19 10 16 10 15 10 12 10 11 10 9 10 8 26 18 26 12 26 10 26 6 26 5 26 3 26 1 26 0 26-2 5 0"/>
<path stroke="#20BAF0" d="M704 3279l16 23 16 19 16 17 16 13 16 11 16 7 16 5 16 3 16 3 26 2 26 0 26-3 26-4 26-5 26-6 26-7 26-8 26-9 26-8 26-7 26-6 26-4 26-3 26-2 26-3 26-4 26-6 26-8 26-10 26-14 26-19 26-24 26-30 10-13 10-14 10-15 10-16 10-17 10-18 10-19 10-22 10-23 10-25 10-26 10-27 10-27 10-28 10-27 10-27 10-27 10-25 10-24 10-22 10-21 10-20 10-17 10-16 10-14 10-13 10-12 10-11 10-11 26-23 26-18 26-14 26-9 26-5 26-4 26-1 26 1 26 3 26 6 26 9 26 11 26 13 26 12 26 10 26 8 26 7 26 8 26 9 26 13 26 14 26 15 26 15 26 12 26 11 26 10 26 11 26 20 26 30 16 20 16 21 16 21 16 22 16 22 16 24 16 24 16 24 16 23 16 21 16 19 16 16 16 12 16 10 16 6 16 2 16-5 16-16 10-16 10-25 10-36 10-48 10-62 10-72 10-86 10-98 10-110 10-114 10-112 10-106 10-105 10-104 10-103 10-100 10-92 10-81 10-68 10-60 10-55 10-53 10-53 10-54 10-56 10-57 10-54 10-49 10-45 10-41 10-37 10-33 10-29 10-26 10-25 10-25 10-26 10-28 10-27 10-26 10-25 10-22 10-21 10-19 10-17 10-15 10-14 10-12 10-10 10-9 10-7 10-6 16-8 16-6 16-4 16-4 16-5 16-6 16-6 16-6 26-10 26-12 26-12 26-13 26-11 26-8 26-10 26-10 26-10 26-9 26-9 26-8 26-5 26-1 26 1 26 4 26 9 26 12 26 11 26 9 26 5 26 3 26 1 26-1 26-2 26 1 26 5 26 4 26 5 26 8 26 9 26 11 26 10 26 13 26 14 26 14 26 13 26 12 26 12 26 15 26 23 26 32 10 14 10 17 10 17 10 19 10 21 10 22 10 24 10 26 10 28 10 29 10 30 10 32 10 33 10 36 10 36 10 37 10 37 10 38 10 36 10 37 10 37 10 39 10 40 10 41 10 44 10 43 10 42 10 38 10 34 10 28 10 25 10 22 10 19 10 17 10 15 10 12 10 11 10 10 10 8 10 7 26 16 26 14 26 10 26 8 26 6 26 6 26 4 26 3 26 3 5 0"/>
</g>
<rect x="67.5" y="17.5" width="454.0" height="346.0" fill="none" stroke="#262626" stroke-width="1.2"/>
<path d="M67.50 363.50v-4.60M67.50 17.50v4.60M143.17 363.50v-4.60M143.17 17.50v4.60M218.83 363.50v-4.60M218.83 17.50v4.60M294.50 363.50v-4.60M294.50 17.50v4.60M370.17 363.50v-4.60M370.17 17.50v4.60M445.83 363.50v-4.60M445.83 17.50v4.60M521.50 363.50v-4.60M521.50 17.50v4.60M67.50 363.50h4.60M521.50 363.50h-4.60M67.50 305.83h4.60M521.50 305.83h-4.60M67.50 248.17h4.60M521.50 248.17h-4.60M67.50 190.50h4.60M521.50 190.50h-4.60M67.50 132.83h4.60M521.50 132.83h-4.60M67.50 75.17h4.60M521.50 75.17h-4.60M67.50 17.50h4.60M521.50 17.50h-4.60" fill="none" stroke="#262626" stroke-width="1.2"/>
<g class="tk"><text x="66.9" y="390.2" text-anchor="middle">400</text><text x="142.6" y="390.2" text-anchor="middle">500</text><text x="218.2" y="390.2" text-anchor="middle">600</text><text x="294.7" y="390.2" text-anchor="middle">700</text><text x="369.6" y="390.2" text-anchor="middle">800</text><text x="446.5" y="390.2" text-anchor="middle">900</text><text x="522.3" y="390.2" text-anchor="middle" style="letter-spacing:-0.5px">1000</text><text x="61.1" y="371.0" text-anchor="end">0</text><text x="61.1" y="313.2" text-anchor="end">0.1</text><text x="61.1" y="254.8" text-anchor="end">0.2</text><text x="61.1" y="196.9" text-anchor="end">0.3</text><text x="61.1" y="139.2" text-anchor="end">0.4</text><text x="61.1" y="81.4" text-anchor="end">0.5</text><text x="61.1" y="23.7" text-anchor="end">0.6</text></g>
<text class="lb" x="295.2" y="419.0" text-anchor="middle">Wavelength/nm</text>
<text class="lb" transform="translate(23.4 189.0) rotate(-90)" text-anchor="middle">Reflectance</text>
</svg>
</body>
</html>
